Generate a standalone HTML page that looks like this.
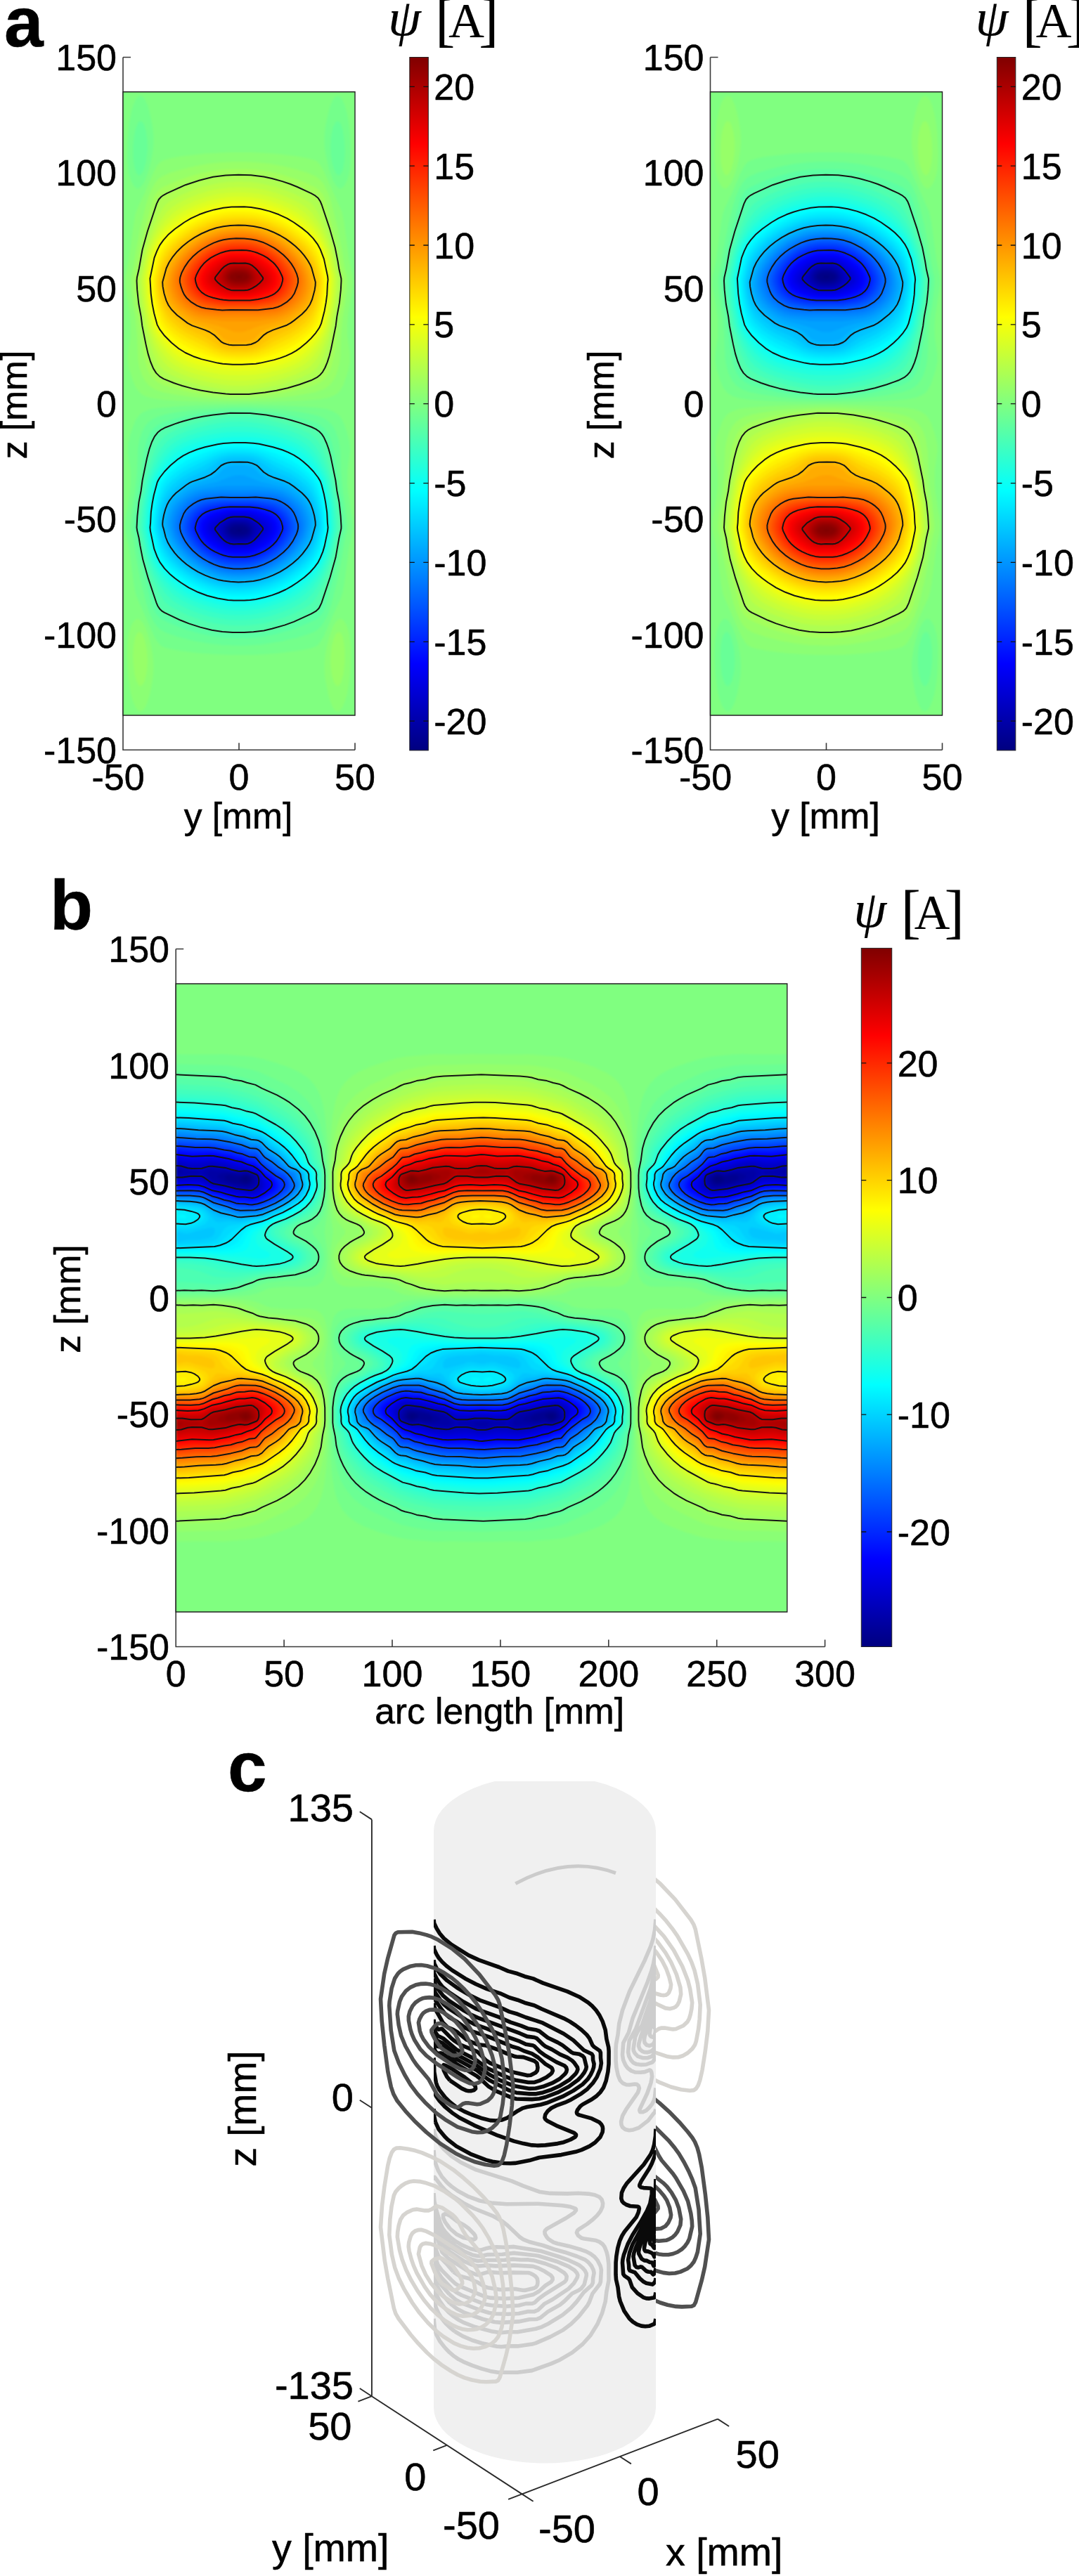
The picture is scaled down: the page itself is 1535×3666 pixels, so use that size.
<!DOCTYPE html><html><head><meta charset="utf-8"><title>figure</title><style>html,body{margin:0;padding:0;background:#fff}svg{display:block}text{stroke:#000;stroke-width:.55px}text.t{stroke-width:.2px}</style></head><body><svg width="1535" height="3666" viewBox="0 0 1535 3666" font-family="Liberation Sans, sans-serif" fill="#000"><rect width="1535" height="3666" fill="#fff" stroke="none"/><defs><clipPath id="clipa1"><rect x="175" y="130.8" width="330" height="887.2"/></clipPath><clipPath id="clipa2"><rect x="1010.5" y="130.8" width="330" height="887.2"/></clipPath><clipPath id="clipb"><rect x="250.2" y="1400" width="869.6" height="894"/></clipPath><filter id="blur" x="-5%" y="-5%" width="110%" height="110%" color-interpolation-filters="sRGB"><feGaussianBlur stdDeviation="1.6"/></filter></defs><path d="M175 81.5V1067.3H505M175 1067.3h11M175 903.0h11M175 738.7h11M175 574.4h11M175 410.1h11M175 245.8h11M175 81.5h11M175.0 1067.3v-10M340.0 1067.3v-10M505.0 1067.3v-10" fill="none" stroke="#3a3a3a" stroke-width="1.6"/><g clip-path="url(#clipa1)"><g filter="url(#blur)"><rect x="155" y="110" width="370" height="930" fill="#80ff80"/><path fill="#8bff74" d="M196.8 1011.5l2.8 1.1 3.3-1.3 3.3-4 3.3-7.3 3.8-13.1 3-14.8 1.8-13.1 0.4-9.9-0.4-9.8-1.6-11.5-2.7-13.1-3.2-11.5-3.7-9.8-4-7.7-3.3-3.8-3.3-1.5-3.2 1-3.3 3.6-2.7 5.1-3 8.2-2.4 13.1-0.9 19.7 1.4 29.5 3.2 23 2.4 9.8 2.7 8.2 2.6 5.4zM477.3 1011.5l3.1 1.1 3.3-1.5 3.2-4.1 3.8-8.7 3.2-11.4 2.1-11.5 1.7-13.1 1.1-16.4 0.3-24.6-2-18.1-2.8-9.8-3-6.6-2.2-3.3-2.2-2.1-3.2-1-3.3 1.5-3.3 3.8-3.3 6-3.3 8.2-3 9.9-2.8 11.5-2 11.4-1.1 11.5 0 9.9 0.8 9.8 4.3 23 2.7 9.8 2.8 7.5 2.2 4zM293.4 571.9l37.6 0.6 50.9-0.4 42.7-1.6 29.5-2.1 13.1-2.5 9.4-3.8 3.8-2.7 3.3-3.4 4.9-8.4 6.8-19.9 2.5-13.2-0.1-11.4-3.5-24.6-0.2-16.4 1-13.3 3.4-22.8 3.3-18.1 0.3-8.2-0.5-6.5-4.8-22.6-7.3-54.5-3.2-14.8-27.3-61.3-4.9-7.3-3.3-2.9-3.3-1.8-8.2-2.5-14.7-2.7-24.7-3.2-18-1.6-24.7-1.2-29.5-0.1-36.1 1.8-36.2 4.3-13.1 2.4-8.2 2.2-4.9 2.4-3.3 2.9-3.3 4.5-4.9 9.7-11.5 27-10.7 22.5-2.7 8.2-2.5 13.1-7 52.5-5 24-0.4 7.2 0.4 6.9 3.3 17.9 3.3 22.7 0.8 9.9-0.1 21.3-3 19.7-0.7 8.2 0.4 8.2 1.4 8.2 5.7 18 4.4 9.9 5.2 6.5 3.9 3 3.7 1.9 9.4 3 14.8 2.2 27.9 1.8z"/><path fill="#97ff68" d="M197.5 975.4l2.1 1.1 1.7-0.5 3.1-3.9 1.8-4.4 2.7-12 1-14.8-0.8-14.7-2.9-14.8-3.3-8.1-1.6-2.3-1.7-1.3-1.6-0.4-1.7 0.6-1.6 1.7-1.6 3.1-1.6 5.1-1.6 9.8-0.7 13.1 0.6 13.6 1.6 12.9 3.1 11.3zM478 975.4l2.4 1.1 1.6-0.7 1.7-1.7 1.8-3.6 3.1-11.5 1.9-16.4 0.1-16.4-1.7-14.8-1.9-6.5-1.7-3.3-1.6-1.7-1.7-0.6-1.6 0.4-1.7 1.3-1.6 2.3-2.7 6.5-2.8 11.5-1.4 13.1 0.1 13.1 1.7 13.1 2.9 9.9zM324.7 568.7l30.9 0 36.1-2.2 29.6-3.4 26.2-4.8 11.5-3.9 5-2.7 3.6-2.7 3.3-3.3 3.6-4.9 2.7-4.9 2.6-6.6 2.6-9.8 1.5-9.9 1.4-34.4 2.2-23 3.1-18 2.7-21.3 0.9-11.5-0.4-6.6-3.6-15.7-4.1-25.3-6.6-32.8-7.7-31.1-4.2-13.2-5.3-11.2-3.3-5.3-3.3-4-6.5-5.2-11.5-5-16.4-5.1-18.1-4.3-18.1-3.4-16.4-2-18-1-21.4 0-18 1-16.4 2-18.1 3.4-19.7 4.8-16.4 5.2-9.9 4.4-4.9 3.6-4.9 5.6-5 8.4-4.8 11.4-3.8 13.1-7.3 29.6-6.2 31.1-4.1 25.3-3 12.4-1 6.6 1.1 16.4 2.5 19.7 3.1 18 2.2 23 1.6 36.1 2 11.4 3.1 9.9 4.8 9.3 6.2 7.1 7.5 4.9 9.3 3.6 18 3.8 26.3 3.8 23 2.1z"/><path fill="#a3ff5c" d="M313.7 563.7l14 1 23 0.1 24.6-1.8 26.3-3.4 27.9-6.2 18-5.5 5-2.2 5.4-3.3 4.4-4 3.3-4.2 3.3-6 2.6-7.1 3-11.5 2-11.5 6.2-47.5 3.3-18.1 3-31.1-0.3-6.6-2.9-11.5-5-29.5-16.9-65.6-2.2-6.5-2.7-5.2-4.9-5.8-6.6-4.6-18-8-14.8-5.4-14.8-4.4-14.8-3.5-11.4-2.1-11.5-1.3-14.8-0.7-18.1 0.1-13.1 0.8-13.1 1.6-16.5 3.4-19.7 5.5-13.1 4.7-18.1 7.7-6.5 3.6-4.9 4.2-4.4 6.1-2.8 6.5-11.5 42.7-6.4 26.2-4.7 27.9-2.9 11.5-0.7 4.9 1 16.4 2.3 19.7 3.1 16.4 7 52.5 2.3 11.4 2.4 8.2 3.8 8.8 4.9 6.9 6.6 5.5 8.2 4 19.7 6 21.3 4.8 21.4 3.2z"/><path fill="#aeff51" d="M313 558.8l14.7 1.5 24.6 0 26.3-2.9 18-3.1 14.8-3.7 14.8-4.4 16.4-6.2 5.1-2.5 5-3.3 3.4-3.3 3.5-4.9 3.3-6.5 3.1-8.2 5.4-19.7 5.4-26.3 2-14.7 3.1-16.4 2.2-19.7 0.9-16.4-8.8-45.9-7.3-25-12.6-35.7-2.2-5-2.3-3.2-3.8-3.3-5.4-3.1-19.7-9.4-9.8-4-16.5-5.5-16.4-4.3-18-2.8-18.1-0.9-19.7 0.4-18.1 2.1-18 4.1-19.7 6.2-13.2 5.5-21.3 10.4-5.9 4.6-3.9 6.7-13.3 37.6-8.3 29.5-4.7 27-2.9 12.4 1.1 21.3 1.9 16.4 3.1 16.4 1.7 13.1 5.4 26.2 5.2 19.7 6 14.8 4.4 6.5 5.3 4.7 6.5 3.6 13.2 5.2 14.8 4.8 17.8 4.7 18.3 3.3z"/><path fill="#baff45" d="M317.7 553.9l11.6 1.2 21.4 0 11.5-1.2 18-2.7 16.4-3.5 16.5-4.8 14.7-5.4 13.2-6.3 5.2-3.5 4.6-4.5 3.9-5.4 4.3-8.2 7.5-19.7 7.4-27.8 5.4-32.8 1.6-16.4 0.5-16.4-6.5-34.5-2.4-9.8-7.7-23-9.1-20-4.9-9.3-4.9-7.1-4.9-4.6-6.6-4.2-14.8-7.6-13.1-5.5-16.4-5.4-16.4-4.1-16.5-2.2-18-0.7-16.4 0.7-16.5 2.2-16.4 4.1-18 6-14.8 6.5-14.8 7.9-6.6 5.2-4.3 5.3-5.5 9.6-5.8 11.7-5.7 13.6-5.9 17.6-2.7 9.8-2.3 11.5-5 27.9 0.8 16.4 2.1 19.7 5 29.5 5.6 21.3 6.1 18.1 7.2 14.7 5 6.6 5.7 4.9 8 4.5 11.4 5 14.8 5.2 14.8 4.1 16.4 3.4z"/><path fill="#c6ff39" d="M316.5 547.3l14.5 1.5 16.4 0 11.5-0.9 14.8-2.2 18-3.8 14.8-4.1 14.8-5.4 11.5-5.4 6.5-4.2 5-4.3 4.9-5.7 4.9-7.6 4.9-9.6 4.5-10.6 4.5-13.1 2.7-9.8 5.8-34.5 1.5-18 0.3-13.1-5-27.9-2.6-11.5-5.6-16.4-6.1-13.7-6.5-11.6-7.6-10.8-6-6.5-7.8-6-11.5-6.6-14.7-6.6-14.8-5.1-16.4-4.2-14.8-2.3-14.8-0.9-16.4 0.3-14.8 1.7-14.8 3.1-16.4 5-14.8 5.9-13.1 6.6-8.2 5.4-6.6 5.7-6.5 7.9-6.6 10.1-6 11.1-5 11.5-4.6 13.1-3.3 13.1-5.4 31.2 0.8 18 2 18.1 4.6 26.2 3 11.5 7.3 20 8.2 16 5 7 6.5 6.6 6.6 4.5 9.8 5 13.2 5.2 14.8 4.5 16.4 3.8z"/><path fill="#d1ff2e" d="M321.5 540.8l14.4 0.8 14.8-0.2 14.7-1.5 14.8-2.5 16.4-3.8 14.8-4.7 11.5-4.8 9.9-5.6 6.5-5.1 6.6-7.1 6.6-9.4 6.5-12 5-11.3 2.8-8.3 5.2-26.2 2.8-23 0.9-16.4-0.5-6.5-5-26.3-3.1-11.4-5.6-14.8-7.4-13.6-6.6-9.4-8.2-9.4-7.9-7-8.5-5.7-13.1-6.8-13.2-5.3-14.7-4.6-14.8-3.3-14.8-1.7-14.8-0.4-14.7 0.8-14.8 2.3-16.4 4.2-14.8 5.2-14.8 6.9-11.5 7-8.2 6.8-8.2 8.9-8.2 11.5-5.8 10.3-5 11.5-3.7 11.5-6.6 32.8-0.5 8.2 1.8 24.6 1.9 13.1 4.8 24.6 3.2 9.9 5.9 13.1 5.6 10.2 6.6 9.4 6.6 7.1 6.5 5.1 8.2 4.8 9.9 4.4 13.1 4.5 13.2 3.4 16.4 3.3z"/><path fill="#ddff22" d="M313.3 532.6l12.7 1.2 13.2 0.3 14.8-0.3 11.4-1.1 14.8-2.4 14.8-3.2 11.5-3.4 11.5-4.6 8.2-4.3 6.6-4.5 6.3-5.6 5.2-5.7 6.5-8.7 4.9-7.9 5-9.4 3.5-9.3 4.2-19.7 2.1-13.1 1.3-11.5 1.3-21.3-0.8-6.6-5.1-25.7-3.1-10.3-3.4-8.8-5.8-10.9-7.4-10.4-8.2-9-8.2-7.2-9.8-7-11.5-6.3-13.2-5.6-13.1-4.3-13.1-3.2-13.2-2-14.7-0.8-14.8 0.3-13.1 1.6-14.8 3.2-13.2 4-13.1 5.3-11.5 5.8-9.8 6.4-8.2 6.7-8.3 8.2-6.5 8.2-6.6 10.4-4.9 10.4-3.9 11.5-2 8.2-4.8 26.3 1.3 24.6 2.4 18 4.7 23 3.5 9.8 5.4 10.5 6.5 10.2 8.2 10.2 8.2 7.5 8.2 5.4 11.5 5.5 13.2 4.5 16.4 3.9z"/><path fill="#e9ff16" d="M313.4 526l24.1 1.3 26.3-0.9 27.9-5.2 9.9-2.6 9.8-3.6 8.2-3.8 6.6-3.9 6.6-4.9 6.5-6.1 6.6-7.4 6.6-8.8 5-8.2 3.6-8.2 4.5-19.3 2.1-11.9 1.5-13.1 1.5-21.3-0.6-4.9-5.2-26.3-5.8-16.4-5-9.3-6.6-9.1-6.5-7.2-8.2-7.4-9.9-7.4-9.8-6-11.5-5.6-13.2-4.9-14.7-4.1-13.2-2.4-11.5-1.1-16.4 0-11.5 0.8-13.1 2.4-13.1 3.4-13.2 4.6-11.5 5.2-11.5 6.7-9.8 7.1-9.9 8.7-6.9 7.6-6.9 9.8-4.3 8.2-4.3 11.5-2.2 8.2-4.2 21.3-0.8 8.2 1.7 23 2.9 19.7 4.9 21.3 2.1 5.1 3.3 6.1 8.2 12 8.2 9.4 8.2 7.4 9.8 6.6 9.9 4.7 13.1 4.5 11.5 2.8z"/><path fill="#f4ff0b" d="M321 521.1l24.7 0.5 21.4-1.3 29.5-6.6 11.5-4 9.9-4.6 8.2-5.1 8.2-6.6 8.2-8 8.2-9.9 4.6-6.9 2.4-4.9 5.1-19.7 3.6-22.9 1.6-24.6-6-29.6-4.2-11.4-4-8.2-6.4-9.1-8.2-8.8-9.8-8.2-11.5-8.1-9.9-5.6-11.5-5.3-13.1-4.6-13.1-3.3-11.5-2.1-9.9-0.8-16.4-0.1-11.5 0.9-11.5 2.1-13.1 3.3-11.5 4-11.5 5-9.8 5.5-9.9 6.7-9.8 7.6-8.3 7.9-6.5 8.2-4.9 8-4.8 11.5-2.5 8.2-5.1 26.3 1.6 24.6 2.9 19.6 4.2 18.1 2.3 6.5 4.6 7.9 8.2 10.4 8.3 8.4 9.8 8 9.9 6 11.4 5 13.2 4.1 23 4.9z"/><path fill="#fffe00" d="M319.4 516.2l24.7 0.8 19.7-1.2 24.6-5.6 18.1-6.3 8.2-3.8 8.2-4.9 6.6-4.8 8.2-6.9 6.6-6.6 6.5-8 3.3-5.2 2.4-6.6 4.2-15.9 2.1-11.9 1.3-9.9 1.4-21.3-0.5-4.9-4.8-23-2.2-6.5-3.9-9.3-4.2-7.1-7.3-8.9-6.6-6.3-9.8-7.7-11.5-7.7-9.8-5.5-11.5-5.1-11.5-3.9-13.2-3.3-13.1-2.1-9.9-0.6-16.4 0.2-11.5 1.3-13.1 2.7-11.5 3.3-9.8 3.7-9.9 4.6-11.5 6.7-13.1 9.4-8.2 6.9-6.6 7.1-6.2 8.4-3.9 8.2-3.7 9.9-5.8 27.9 1.2 21.3 1.7 13.1 2.6 13.1 4.5 16.4 3.4 6.6 6.2 8 9.9 9.9 9.8 8 11 6.9 10.6 4.9 12.9 4.5 21.3 5.4z"/><path fill="#fff200" d="M334.2 512.9l13.2 0 13.1-1 8.2-1.5 11.5-3.1 14.8-5 13.1-5.6 9.9-5.2 9.8-6.6 8.2-6.7 6.6-6.2 4.9-5.6 3.8-6 2.8-7.2 3.7-12.5 2.3-11.4 1.6-11.5 1.1-21.3-5.2-24.6-2.8-8.2-4-8.3-3.3-5.3-5-6.1-8.1-7.9-9.8-7.6-11.5-7.7-11.5-6.2-11.5-5-11.5-3.7-13.2-3-11.4-1.7-13.2-0.5-13.1 0.4-11.5 1.5-13.1 2.9-11.5 3.5-11.5 4.8-11.5 6-11.5 7.5-9.9 7.4-6.5 5.9-6 6.7-4.6 6.5-4.2 8.3-3.1 8.1-5.6 26.3 1.5 24.6 2.1 13.1 2.3 9.8 3.6 11.5 2.5 5.9 3.7 5.6 6.1 6.7 9.9 8.7 9.8 7 9.9 5.7 11.5 5.2 14.8 5.5 16.4 4.6 9.8 1.7z"/><path fill="#ffe700" d="M320 508l9.3 0.9 13.2 0.3 11.5-0.5 9.8-1.4 8.2-2.1 9.9-3.5 24.6-10.8 9.8-5.2 8.3-5.2 8.2-6.1 8.2-7.5 4.1-4.8 3.1-5 5.9-15 2.8-11.2 2-11.5 1-11.5 0.2-11.4-5.6-24.6-2.5-6.6-3.3-6.6-4.4-6.8-6.6-7.4-6.6-5.9-9.8-7.5-9.9-6.5-9.8-5.4-9.9-4.5-11.5-4-11.5-2.9-11.5-1.9-11.5-0.9-13.1 0.1-9.8 0.8-11.5 1.9-11.5 2.9-9.9 3.4-11.5 5.1-11.5 6.4-11.5 7.8-9.8 8-6.6 6.6-5.7 7.5-4.5 8.2-3.3 8.2-5.6 24.6 0.7 18 1.8 13.1 3.1 13.1 4.7 13.2 3.9 7.1 5 6 8.1 7.4 9.9 7.3 9.8 5.9 15 7.3 16.2 6.8 11.5 4z"/><path fill="#ffdb00" d="M324.1 504.7l10.2 0.7 13.1 0 9.8-0.9 8.2-1.6 12.8-4.8 34.9-17.1 14.7-9.5 7.5-6.2 5.7-5.8 3.3-4.5 3.2-5.9 3.3-7.9 2.2-7 2.3-9.9 1.5-9.8 0.9-11.5-0.3-6.5-2.9-13.2-2.8-9.8-2.6-6.6-4.6-8.2-5.2-6.8-6.5-6.7-8.2-6.9-9.9-7-9.8-6-9.9-4.9-9.9-4-9.8-3-11.5-2.6-11.5-1.4-11.5-0.5-13.1 0.5-9.9 1.1-11.5 2.4-11.4 3.5-9.9 4-11.5 5.9-10 6.2-11.1 8.2-8.4 7.7-6.2 7.1-5.2 8.2-3.4 7.3-2.9 9.1-3.9 18 0.1 9.8 1.3 11.5 2.3 11.5 3.1 10.3 4.9 11 4.3 6.6 5.6 5.8 6.5 5.6 8.2 5.9 8.2 4.9 38.6 18.8 9.1 3.1z"/><path fill="#ffcf00" d="M329.3 501.4l21.4 0 8.2-1.1 6.5-1.7 8.9-3.7 17.4-10.1 18.1-8.6 8.2-4.6 6.7-4.6 8.1-6.6 8.2-8.9 3.3-5.2 3.5-7.2 2.9-8.2 2-8.2 2.5-18-0.1-5-0.8-4.9-3.2-13.1-2.8-8.2-4-8.1-5.7-8.3-5.8-6.6-7.2-6.5-9.3-7.1-9.8-6.4-9.9-5.2-9.8-4.3-9.9-3.4-9.8-2.4-11.5-1.8-13.1-0.8-13.2 0.4-11.5 1.3-11.5 2.4-9.8 3.1-11.5 4.7-9.9 5.1-9.8 6.2-9.9 7.3-8.2 7.4-6.5 7.5-5 7.4-4 8.1-2.8 8.2-3.2 13.1-0.9 6.6 0.4 8.2 1.8 11.5 2.3 9.8 2.9 8.2 3.5 7.2 3.3 5.2 5 5.8 9.8 8.6 9.9 6.8 24.6 12.1 17.4 10.1 10.5 4.2 6.6 1.5z"/><path fill="#ffc400" d="M322.6 496.5l11.7 1.2 16.4-0.3 9.8-1.7 8.2-3.2 18.1-12.3 24.6-11.2 6.2-3.7 7-5.2 8.2-6.9 6.5-7.4 5-7.9 3.4-8.6 3.9-16.4 1-8.2-0.2-5-5.1-19.6-2.7-6.6-3.6-6.6-5-6.9-5.3-6.2-7-6.5-9-7.1-8.2-5.5-8.2-4.6-9.9-4.7-9.8-3.6-11.5-3.1-9.9-1.6-11.5-0.9-11.4 0-11.5 0.9-9.9 1.6-9.8 2.6-9.9 3.5-11.5 5.3-9.8 5.6-9.9 6.9-9.4 7.9-6.3 6.6-6.2 8.2-4.7 8.2-3.3 8.2-4.5 18-0.2 5 0.7 6.5 2.3 11.5 3 9.8 3.9 8.2 4.6 6.6 8.6 8.8 14.8 11.1 6.6 3.4 19.7 8.7 21 13.9z"/><path fill="#ffb800" d="M322.2 491.6l8.8 1.3 19.7-0.1 7.1-1.2 7.6-3 3.3-2.4 8.2-7.7 5-3.4 8.2-3.9 18-6.7 5-2.6 4.9-3.5 11.5-9.1 6.5-6.7 5-6.9 3.7-8.1 3.9-14.7 1.2-11.5-5.3-19.7-2.1-4.9-3.6-6.6-4.6-6.5-5.4-6.6-6.8-6.6-8-6.5-7.5-5.3-8.2-4.8-9.9-4.8-8.2-3.3-9.8-2.9-9.9-2-11.5-1.2-11.5-0.2-11.5 0.6-9.8 1.4-9.9 2.3-9.8 3.3-11.5 5.1-9.4 5.2-8.7 5.9-8.9 7.2-7.5 7.4-5.9 7.4-5.3 8.2-3.8 8.2-5 18 0.1 8.2 1.9 9.9 3.2 11 3.3 6.9 3.5 5 8 8.6 16.4 12.6 6.6 3.3 14.8 5.3 8.2 3.7 6.6 4.3 11 9.8z"/><path fill="#ffac00" d="M335.1 486.7l13.9-0.2 8.2-1.9 4.9-2.9 8.2-8.2 6.6-4.3 6.6-2.7 21.4-6.6 4.9-2.3 4.9-3.1 13.6-10.5 4.9-4.9 3.9-4.9 2.8-4.9 2.7-6.6 3.3-13.1 0.3-8.2-3.2-13.1-2.1-6.6-6.4-11.5-5-6.8-5.6-6.3-7.1-6.6-7-5.5-14.8-9.2-16.4-7.2-8.2-2.5-9.9-2-11.5-1.2-11.5-0.3-11.5 0.7-9.8 1.4-9.9 2.3-8.2 2.8-9.8 4.4-9.9 5.3-9 6.1-9 7.4-7.4 7.4-5.8 7.3-4.9 7.4-3.2 6.6-2.1 6.6-3.2 13.1-0.1 4.9 1 6.6 2.2 8.2 2.4 6.5 2.6 4.9 3.5 5 8.4 8.3 11.5 8.7 6.6 4 6.5 2.6 19.4 5.9 7.2 3.3 4.7 3.2 8.1 8.2 3.3 2.1 6.6 2.2z"/><path fill="#ffa100" d="M332.5 471.9l8.3 0.8 8.2-1.2 20.3-7.8 29-7.1 9.8-3.9 13.2-8.7 9.8-9 3.3-4.4 2.7-4.6 4.1-11.5 1.3-6.6 0.1-4.9-3.6-16.4-1.9-4.9-3.5-6.6-8.3-11.4-11.6-11.5-13.8-10-16.4-8.4-14.8-5-9.8-1.9-9.9-1-9.8-0.3-11.5 0.6-9.9 1.2-8.2 1.9-8.2 2.6-9.8 4.1-9.9 5.2-8.2 5.4-8.2 6.5-7.7 7.3-5.5 6.5-5.7 8.2-3.5 6.6-2.9 8.2-2.7 14.8 0.4 4.9 1.3 5.9 2.5 7.2 3.2 6.6 4.2 5.7 4.9 5 13.1 9.8 9.9 5.2 8.2 2.5 25.7 6.2z"/><path fill="#ff9500" d="M317.5 457.1l43 0.2 11.5-1.1 19.7-2.9 8.2-2.2 8.2-3.6 8.2-5.1 8.2-6.6 6.6-7.8 4.5-8.6 2.8-9.8 0.3-8.2-1.7-9.9-3.7-9.8-5.9-9.8-8-9.9-8-7.6-8.2-6.4-9.8-6.1-9.9-4.9-9.8-3.8-8.3-2.2-9.8-1.6-11.5-0.8-11.5 0.1-11.5 1.1-9.8 2-8.2 2.6-9.9 4.1-11.5 6.3-8.3 5.7-8.1 6.8-7.7 8-6.1 8.2-4.8 8.2-3.2 8.2-2.1 9.8-0.2 6.6 1.6 8.2 3.9 9.8 4.3 6.6 6.4 6.6 9.5 7.1 8.2 4.6 6.6 2.5 8.2 1.9z"/><path fill="#ff8900" d="M302.3 450.6l13.9 1 54.2-0.3 14.7-1.4 8.3-1.4 8.2-2.5 6.5-3.3 9.9-6.6 6.6-6.3 4.9-7.1 3.5-8.2 1.9-8.2-0.1-8.2-2.4-9.8-3.8-8.2-5.2-8.2-5.4-6.8-6.6-6.6-8.2-6.8-8.2-5.5-9.9-5.3-9.8-4.1-8.2-2.5-9.9-1.9-9.8-0.9-11.5-0.1-11.5 0.8-9.8 1.7-8.3 2.3-8.2 3.2-9.8 4.9-9.9 6.2-8.3 6.6-8.2 8.2-6.4 8.2-5 8.2-3.5 8.2-1.8 8.2-0.1 8.2 2.1 8.9 4.3 9.1 4.9 6.6 7.3 6.5 9.8 6.2 8.2 3.6 8.2 2z"/><path fill="#ff7e00" d="M310.7 447.3l30.1-0.4 24.6 0.6 19.7-1.6 6.6-1 6.6-1.8 11.1-5.6 8.6-6.5 4.9-5.5 4.4-7.7 3.3-9.9 0.8-6.5-1-8.2-3-8.2-4.6-8.2-4.8-6.9-6.6-7.3-6.5-5.9-8.3-6.1-8.2-4.8-9.8-4.8-8.2-3-8.2-2.1-9.9-1.3-11.5-0.6-11.5 0.4-9.8 1.2-8.2 1.9-8.2 2.8-8.2 3.7-9.9 5.6-8.3 5.9-8.1 7.1-6.8 7.6-5.6 8.2-4.3 8.2-2.7 8.2-0.6 6.6 1.2 8.2 3.7 9.8 4 6.6 6.2 6.4 8.2 5.8 6.5 3.5 8.2 2.9 8.3 1.3z"/><path fill="#ff7200" d="M311.4 444l59-0.1 21.3-2.5 6.6-2.1 6.8-3.5 8-5.4 5.9-6.1 4.7-8.2 3.3-9.8 0.8-6.6-0.9-6.5-2.4-6.6-4.4-8.2-4.5-6.5-5.6-6.6-6.8-6.3-6.8-5.2-8-4.9-9.8-5-8.2-3.1-8.2-2.2-9.9-1.4-9.8-0.5-11.5 0.2-9.9 1.1-8.2 1.8-8.2 2.7-8.2 3.7-8.2 4.6-8.2 5.6-8.2 7-6.2 6.8-4.8 6.6-4.6 8.2-3.2 8.2-0.9 6.5 0.8 6.6 3.3 9.8 3.5 6.6 5.5 6.3 6.6 4.9 8.2 4.7 6.5 2.4 6.6 1.3z"/><path fill="#ff6600" d="M307.6 440.7l8.6 0.7 11.5-0.4 39.4 0.3 21.3-2.4 6.6-1.8 4.9-2.2 8.9-5.6 5.6-5 3.5-4.9 3-6.5 2.8-8.2 0.6-6.6-1.4-6.6-4.4-9.8-4.1-6.6-5.3-6.5-5.9-5.9-6.6-5.4-6.5-4.4-9.9-5.4-6.5-2.9-8.3-2.6-8.2-1.7-9.8-0.9-11.5-0.2-9.9 0.7-8.2 1.3-6.5 1.7-7.4 2.7-7.4 3.6-8.2 4.7-6.8 4.8-7.5 6.6-5.9 6.6-5.7 8.2-4.1 8.2-2.2 6.5-0.3 6.6 3.3 11.5 2.9 6.4 3.6 5 5.6 5 8.9 5.6 6.5 2.7 6.6 1.5z"/><path fill="#ff5b00" d="M302.5 437.5l13.7 1.4 47.6 0 21.3-2.4 9.9-2.7 6.6-3.4 6.5-4.7 4.6-4.6 3.1-5 3.3-8.2 1.6-6.5-0.2-6.6-2.2-6.5-3.2-6.6-4.3-6.6-5.4-6.5-5.1-4.9-6.9-5.6-6.6-4.2-8.2-4.4-8.2-3.4-6.6-1.9-8.2-1.6-9.9-0.8-9.8-0.1-16.4 1.7-6.6 1.7-8.2 2.9-8.2 4-8.4 5.1-8.4 6.6-6.2 6.1-5.5 7-4 6.5-3.6 8.2-1.3 6.6 0.8 6.6 2.8 8.2 3.4 6.5 4.3 4.9 6.4 5 8.2 4.5 8.2 2.4z"/><path fill="#ff4f00" d="M308 435.8l11.5 1 44.3-0.1 21.3-2.9 9.9-3.1 6.6-3.8 5.2-4.2 4.2-4.9 3.5-6.6 2.2-6.5 0.8-6.6-0.7-4.9-2.5-6.6-3.6-6.5-4.7-6.6-4.4-5-6.6-5.9-6.6-4.8-6.5-3.8-8.2-4-6.6-2.3-6.6-1.8-8.2-1.2-9.8-0.6-9.9 0.2-14.8 2-8.2 2.5-6.5 2.7-8.2 4.3-7 4.6-6.2 5-6.6 6.7-4.9 6.5-4.5 8-2.5 6.6-0.7 6.5 1.2 6.6 3.3 8.2 3.2 4.9 4.9 5 6.6 4.5 6.6 3.1 6.6 1.8z"/><path fill="#ff4300" d="M312.8 434.2l10 0.5 41-0.2 19.7-2.9 9.9-3.3 6.5-3.8 5-4.2 3.4-4.2 3.5-6.5 2.1-6.6 0.4-4.9-0.7-4.9-2.5-6.6-3.7-6.5-4.9-6.6-4.6-4.9-5.6-4.9-5.5-4-7.4-4.2-7.4-3.5-6.6-2.3-6.5-1.6-8.2-1.2-19.7-0.1-8.2 1-6.6 1.5-13.1 4.9-8.2 4.5-6.6 4.5-6.2 5.4-5.9 6.5-5.6 8.2-3.2 6.6-1.6 6.6 0.1 4.9 1.6 6.5 3.1 6.6 3.7 4.9 5.8 5.1 6.5 3.8 6.6 2.4z"/><path fill="#ff3800" d="M318.1 432.5l45.7-0.1 18.1-3 6.5-1.9 5-2.2 4.9-3.1 4.8-4.4 3.7-4.9 2.3-5 1.9-6.5 0.1-4.9-1.1-5-2.1-4.9-7.6-11.5-4.5-4.9-5.7-5-6.6-4.6-6.6-3.6-7.1-3.2-7.6-2.4-6.6-1.4-8.2-0.9-19.7 0.4-13.1 2.8-13.2 5.5-7.2 4.2-6.4 4.9-5.2 5-5.4 6.5-4.2 6.6-3 6.5-1.1 5 0.4 6.5 2.2 6.6 3.6 6.1 5 5.2 4.9 3.4 6.6 3.2 5.9 1.8 12.1 2.3z"/><path fill="#ff2c00" d="M309.2 429.3l15.2 1.5 34.5-0.1 14.8-2 13.1-3.4 5.6-2.6 4.8-3.3 3.4-3.3 3.5-4.9 2.4-5.2 1.5-6.3 0-3.2-1.2-5-6.3-11.4-3.9-5.1-4.9-5-10.6-8-7.4-3.8-6.6-2.7-13.1-3.3-16.5-0.7-13.1 0.9-13.1 3.7-8.2 3.7-6.6 3.8-6.6 4.9-5.2 5-5.2 6.6-4.4 7.2-2.5 5.9-0.7 4.9 0.7 4.9 2.4 6.6 3 4.9 4.8 4.9 4.8 3.3 5.6 2.6 6.6 2z"/><path fill="#ff2000" d="M312.5 427.6l13.5 1.4 31.2-0.2 13.2-1.7 14.7-4 5-2.3 4.5-3 3.7-3.6 3.1-4.6 2.1-4.9 1.4-5.8-0.3-4.1-1.2-3.3-6.4-11.4-7.2-8.2-6-5-5-3.2-13.4-6.1-13.1-3.1-18-0.5-11.5 1.3-11.4 3.4-13.3 6.9-6.1 4.6-5.1 4.9-5 6.6-3.8 6.6-2.2 4.9-0.8 4.9 1.4 6.6 2.1 4.9 3.1 4.6 3.7 3.6 4.9 3.3 6.2 2.6z"/><path fill="#ff1500" d="M315.8 426l11.9 1 29.5-0.2 11.5-1.7 14.3-4 5.4-2.6 3.3-2.3 3.6-3.3 2.4-3.3 2.1-4.9 1.3-5 0.3-3.2-0.9-3.3-6-11.5-7.1-8.2-8.8-6.8-13.1-6.3-11.5-3.1-13.2-0.7-13.1 0.4-6.6 1.3-6.6 2.1-13.4 6.5-6.2 4.6-5 4.6-3.3 4-4 6.5-3.1 6.6-0.9 4.9 1.6 6.6 1.5 3.8 3 4.4 3.6 3.3 4.9 3.2 6.6 2.7z"/><path fill="#ff0900" d="M320.1 424.3l9.2 0.7 27.9-0.3 14.8-3 11.3-3.9 5.1-3 3.3-3 2.9-3.9 1.5-3.2 1.2-5 0.1-3.2-0.6-3.3-2.1-4.9-5.2-8.2-8.7-8.2-10.9-6.6-11-4.2-9.9-1.6-19.7 0.1-9.8 2-9.4 3.7-10.3 6.1-4.9 4.1-4.4 4.6-3.5 4.9-3.2 6.5-1.2 5 0.1 3.2 1.2 5 2.5 4.9 2.9 3.3 3.9 3 9.9 4.4z"/><path fill="#fc0000" d="M325.3 422.7l23.7 0.3 8.2-0.6 14.8-3.5 10.8-4.4 4-2.7 3.3-3.5 2.1-3.6 1-3.3 0.2-6.6-0.9-3.3-2.3-4.9-3.4-4.8-3.2-3.4-8.3-6.5-9.9-5.5-9.8-3.3-9.9-1-18 0.5-8.2 1.9-9.9 4.4-6.5 4.1-4.9 3.8-3.4 3.3-3.9 4.9-2.7 4.9-1.6 4.9-0.2 3.3 0.8 4.9 1.5 3.3 2.3 3.3 3.6 3.3 3.5 2.1 6.5 2.8 6.7 2.1 6.5 1.7z"/><path fill="#f10000" d="M319.7 419.4l9.6 1.4 23-0.1 9.9-1.8 13.1-4.4 8.2-4.7 4.4-5.1 1.3-3.3 0.5-3.3-1.1-6.6-3.7-6.5-6.5-6.6-9.7-6.8-9.8-4.6-8.2-1.8-16.4-0.2-8.3 0.7-6.5 1.8-11.2 6-10.3 8.2-3.1 3.6-2.8 4.6-1.6 4.9-0.2 3.3 0.5 3.3 1.3 3.3 2.4 3.2 3.6 3.2 8.2 4.1z"/><path fill="#e50000" d="M323.5 417.8l7.5 0.9 21.3-0.3 8.2-1.7 10.1-3.8 8-4.1 4.9-4.7 1.5-2.7 0.7-3.3-0.1-3.3-1-3.3-3.1-4.9-7-6.5-9.1-6.7-8.2-4-8.2-1.5-16.4-0.1-6.6 0.7-5.4 1.7-8.7 4.9-12.1 10.1-4.4 6.3-1 3.3-0.1 3.3 0.7 3.3 1.5 2.7 4.9 4.7 8 4.1z"/><path fill="#d90000" d="M327.5 416.1l23.2 0.2 4.9-0.8 4.9-1.7 12.1-5.9 6-4.4 1.7-2.1 1.1-3.3-0.5-4.9-3.3-4.9-8.9-8.2-6.5-5.1-6.5-3.1-6.7-1.3-16.4 0-4.9 0.4-4.9 1.4-7.5 4.4-12.9 11.5-3.3 4.9-0.5 4.9 1.1 3.3 1.2 1.6 5.4 4.3 13.2 6.5z"/><path fill="#ce0000" d="M324 412.9l3.7 1 4.9 0.4 16.4-0.1 6.6-1.2 9.8-5.1 6.9-4.9 3-2.8 1.4-2.1 0.1-3.3-2.2-3.3-9.2-9.8-4.9-4.3-4.9-2.7-3.3-1-4.9-0.5-16.4 0-5 0.9-5.6 2.7-5.8 4.9-9.9 10.6-1.5 2.5-0.2 1.7 1.3 3.2 5.4 5 7.8 4.9z"/><path fill="#c20000" d="M326.8 411.2l5.8 0.9 14.8 0 4.9-0.6 3.3-1.1 6.7-4.1 5.5-4.9 2.6-4.9-0.8-3.3-3.9-6.6-2.8-3.3-4-3.7-4.9-2.7-6.6-1.2-13.1-0.1-5 0.4-3.3 0.9-4.9 2.7-5.5 5.4-5.2 8.2-0.8 3.3 2.6 4.9 3.3 3.3 7.3 4.9z"/><path fill="#b60000" d="M330.1 409.6l17.3 0.3 4.9-0.9 4.9-2.3 4.7-3.7 3.3-4.9 0.2-4.9-2.1-4.9-2.4-3.3-3.5-3.3-3.4-2-3.3-1.2-5-0.5-13.1 0-4.9 1-3.3 1.5-3.7 2.8-4 5-2.1 4.9-0.2 3.3 2.2 4.9 3.4 3.3 5 3.2z"/><path fill="#ab0000" d="M336.8 407.9l8.9-0.1 5-0.8 4.9-2.2 4-3.4 2.1-3.3 0.5-4.9-2-4.9-3-3.5-3.2-2.4-5-1.7-4.9-0.5-9.8 0-6.7 1.5-3.2 1.8-3.3 3-2.2 3.4-1.1 3.3 0 3.3 1.7 3.7 3.3 3.4 4.5 2.7 3.7 1.1z"/><path fill="#9f0000" d="M330 404.7l5.9 1 6.6 0.1 4.9-0.5 4.9-1.6 3.6-2.3 2.5-3.3 0.9-3.3-1.2-4.9-4.1-4.5-3.3-1.7-3.3-0.9-11.5-0.4-4.9 0.8-3.3 1.2-3.2 2.2-1.7 1.9-1.7 3-0.4 3.3 0.9 3.3 1.2 1.8 3.2 2.9z"/><path fill="#930000" d="M334 403l10.1 0.3 7-1.9 2.9-2.1 2-2.8 0.3-3.3-0.7-2.2-3.3-3.5-3.3-1.6-3.3-0.9-9.8-0.2-6.7 1.8-3.2 2.3-1.9 2.6-0.4 1.7 0.3 3.3 1 1.6 2.7 2.5z"/><path fill="#880000" d="M333.1 399.7l6.1 1 7.7-1 3.3-1.6 1.8-1.6 0.8-1.7 0.1-1.6-0.9-1.7-1.8-1.6-4.5-1.9-6.5-0.6-5.8 0.9-4.1 2-2.2 2.9 0.1 1.6 0.8 1.7 1.8 1.6z"/><path fill="#800000" d="M335.6 394.8l1.9 1.2 3.3 0.4 3.6-1.6 0-1.6-1.9-1.1-3.3-0.5-3.6 1.6z"/><path fill="#74ff8b" d="M303.7 931.1l22.3 1 36.2-0.2 31.2-2 34.4-4.5 14.8-3 6.6-2.4 3.3-2.3 3.2-3.6 5-8.6 13.1-30.6 10.7-22.5 2.7-8.2 2.5-13.1 7-52.5 4.4-19.7 0.9-8.2-0.4-11.5-3.1-16.4-3.4-22.8-0.9-11.6 0.2-19.7 3.6-26.2 0-6.6-0.7-6.6-3.3-13.1-4-11.5-2.8-6.5-3.2-4.9-3-3.3-7.2-4.8-9.8-3.1-11.5-1.8-21.4-1.6-32.8-1.5-41.1-0.9-31.2 0-39.4 0.7-31.2 1.3-29.5 2.1-9.9 1.7-6.5 1.8-6.1 2.8-4.4 3.3-4.2 4.9-2.8 4.9-7 19.7-2.7 13.1-0.1 13.1 3.5 24.6 0.1 18.1-0.9 11.5-3.4 22.9-2.8 14.8-0.8 9.8 0.8 9.9 3.3 14.7 2.3 13.1 6.2 47.6 3.2 14.8 25.6 58 5 8.6 4.9 4.9 3.3 1.8 4.9 1.6 16.4 3.3 31.2 4zM192.5 266.9l2.2 1.3 1.6 0.2 3.3-1.5 5-6.5 3.2-7.1 3.8-11 3.3-13.1 2.4-13.1 1.1-11.5 0-9.9-1-11.4-2.3-13.2-3-13.1-2.6-8.3-3.3-7.2-3.3-4-3.3-1.3-3.3 1.5-3.2 4.1-2.6 5.4-2.7 8.2-4.1 19.7-2.4 26.2-0.4 24.6 1.7 18 1.5 6.6 3 8.2 2.7 5.1zM480.5 266.9l3.2 1.5 3.2-1 3.4-3.8 4-8.2 2-6.5 1.7-8.2 1.2-21.4-1.4-31.1-1.8-14.8-2.1-11.5-3.2-11.4-3.5-8.2-3.5-4.6-3.3-1.5-3.3 1.3-3.3 4-2.7 5.7-2.2 6.5-3 11.5-2.8 14.8-1.3 11.5-0.3 8.2 0.3 8.2 1.4 11.4 4.7 21.4 5.9 16.4 3.3 6z"/><path fill="#68ff97" d="M316.6 918l29.1 0.7 26.3-1.4 24.6-3.7 26.3-6.2 19.7-6.5 4.9-2.2 5-3.1 3.2-3 3.3-4 6.6-11.8 5.7-16.2 8.6-34.5 6.2-31.1 4.1-25.3 3.4-14.1 0.6-8.2-3.4-31.1-3.5-21.4-2.2-24.6-0.9-27.8-2.5-16.4-3.8-11.5-2.5-5-3.2-4.9-6.6-6.5-8.2-4.6-11.5-3.5-17.9-3.4-23.1-3.2-23-2-27.9-1.4-24.7 0-41 2.2-18.1 1.8-21.3 3.1-14.8 2.9-9.8 2.9-7.4 3.5-5.8 4.5-4.9 5.9-4.1 7.7-3.4 9.8-2.4 13.1-1.6 36.1-2.2 23-3.1 18-2.5 19.7-1.1 16.4 1 6.6 3 12.4 4.1 25.3 6.2 31.1 8.1 32.8 4.2 13.2 5.3 11.2 4.9 7.4 4.9 4.9 8.2 4.6 16.5 5.8 22.9 5.9 21.4 3.9zM196.3 248.9l1.7 0.6 1.6-0.4 1.7-1.3 3.3-5.7 3.2-11.4 2-16.3-0.2-14.7-1.9-13.2-3.1-9.5-1.7-2.7-1.6-1.5-1.7-0.5-1.6 0.7-1.7 1.7-3.2 7.8-2.3 10.6-1.4 14.8 0 14.7 1.1 11.5 2.6 10 1.6 3.1zM480.1 248.9l1.9 0.6 1.7-0.6 1.6-1.7 2.3-4.9 2.3-11.5 0.9-14.7-0.8-16.4-2.4-14.8-2.1-6.6-1.7-3.2-1.8-2.1-1.6-0.7-1.7 0.5-1.6 1.5-3.4 7.3-2.8 13.1-0.8 13.2 0.6 13.1 2.2 13.1 3.4 9.8 2.4 3.9z"/><path fill="#5cffa3" d="M334.2 908.1l21.4-0.3 19.7-2 18.1-3.6 22.9-6.6 21.4-8.4 13.1-6.5 3.3-2.6 3.3-3.5 2.7-4.2 2.2-4.9 12.1-44.3 6.4-26.2 5-29.5 2.9-11.5 0.3-6.6-1.1-14.7-2.1-18.1-3.1-16.4-6.7-50.8-4-18.1-4.5-11.4-5.2-7.5-6.9-5.7-9.5-4.4-16.4-4.9-18.1-4.3-15.3-2.8-19.2-2.4-22.9-1.8-23-0.1-29.6 2.1-19.7 2.6-16.4 3.1-19 4.7-15.5 5.1-6.5 3.3-6.6 5.5-4.3 5.8-3.8 8.2-3.4 11.5-2.4 13.1-6.5 49.2-3.3 18.1-2.1 18-1 16.4 0.7 4.9 2.9 11.5 5.1 29.5 6.5 26.3 9.9 37.5 2.3 6.7 4.3 7.5 3.3 3.5 3.3 2.6 9.8 5.1 21.4 8.7 19.7 6 19.7 4.5 16.4 2.2z"/><path fill="#51ffae" d="M322.5 898.3l20 0.6 19.7-1 16.4-2.5 18-4.6 21.4-7.4 26.3-12.3 4.9-3.2 2.6-2.4 3.9-6.7 13.2-37.2 7.7-26.6 5.4-30.3 2.9-12.4-0.5-14.7-2.2-21.3-3.4-18.1-2-14.7-5.8-27.9-5-18.1-4.7-11.4-5.2-8.2-5.6-5-9.5-4.7-14.8-5.6-14.8-4.4-13.1-3.3-16.4-3-27.9-3.4-29.6 0.2-23 2.7-19.9 3.5-22.8 6.1-18 6.5-8.4 3.8-6.8 4.9-4.5 5.6-4.5 9.2-3.6 9.8-2.7 9.9-7 32.8-2 14.7-3.6 19.7-1.7 16.4-0.9 16.4 8.8 45.9 7.7 26.3 12.8 35.9 3.2 6 5 4.3 6.5 3.6 24.7 11.4 14.7 5.2 18.1 5 11.5 2.3z"/><path fill="#45ffba" d="M330 890.1l15.7 0.1 14.8-0.9 13.2-1.9 13.1-3.1 16.4-5.2 14.8-5.9 16.4-8.4 8.6-5.9 4.5-5 5-8 8.2-16.6 5.9-14.6 7.6-24.6 7.2-37.8-0.5-16.4-1.8-18-6.3-36.1-5.6-20.6-4.9-14.3-5.7-12.6-5.4-8.2-5.3-5.2-6.6-4.3-11.5-5.3-13.3-4.9-14.6-4.4-14.8-3.4-11.4-2.1-19.7-2.6-19.7-0.2-9.9 0.4-19.7 2.7-18.1 3.6-16.4 4.4-16.4 5.8-13.1 6-8.2 5.7-5 5.4-4.9 8.2-4.9 11-4.9 14.3-6.7 25.5-4.7 27.9-2 18.1-0.8 19.6 8.4 42.7 6.4 19.7 5.3 13.1 8.8 18.1 6.3 9.8 5.2 4.9 8.2 5.1 14.8 7.5 14.8 5.9 14.8 4.7 13.1 3.2 13.1 2.1z"/><path fill="#39ffc6" d="M325.2 881.9l15.6 0.6 14.8-0.7 14.8-2 13.1-2.9 14.8-4.6 14.8-5.9 14.5-7.5 9.4-6.5 7.3-7.4 6.5-9 6.6-11 5.7-12 5-13.1 3-9.8 7.1-36.1 0.1-9.9-1.8-22.9-6.6-37.7-4.3-13.9-5.5-14-6-12-6.3-9.3-5.2-5.6-6.6-4.9-8.2-4.5-11.5-4.9-13.1-4.4-13.1-3.5-16.2-3.4-15-2.2-13.2-1-18 0.3-14.8 1.8-16.4 3-16.4 4-16.4 5.4-13.2 5.7-9.8 6-6.6 5.9-5.5 7.2-6 10.6-5.4 12.3-4.4 12.3-3.1 10.7-6 34.4-1.6 18.1-0.4 14.7 6.8 36.1 4.6 14.8 6.2 15.3 6.6 12.2 8.2 12.3 6.6 7.3 6.6 5.4 9.8 5.9 13.1 6.3 13.2 5 14.7 4.4 13.2 2.8z"/><path fill="#2effd1" d="M337.9 875.3l14.4-0.4 13.1-1.5 13.2-2.7 13.1-3.7 14.8-5.5 11.5-5.6 9.8-5.9 8.2-6.4 8.3-8.4 6.5-8.5 6.6-10.5 5.5-11.4 3.7-9.8 2.9-9.9 5.4-27.8 0.8-6.6-1.1-19.7-1.3-13.1-6.5-34.4-4.5-12.4-5.9-12.2-7.2-12-6.1-7.7-7.1-6.5-7.4-5-10.6-5.3-11.5-4.2-14.8-4.2-16.4-3.5-14.8-2.3-13.1-1-16.4 0.1-14.8 1.3-16.4 2.8-18.1 4.3-14.8 4.8-11.5 5-9.2 5.5-7.2 6-6.5 7.6-7.1 11-6.7 13.1-5 13.1-2 8.2-4.7 26.3-1.5 13.1-1.2 18 0.5 8.2 5 26.3 2.5 9.8 3.7 10.5 5 10.9 6.5 11.2 6.6 8.9 8.2 8.9 8.2 6.8 9.9 6.2 11.5 5.6 13.1 5.2 13.1 4 13.2 3 13.1 1.8z"/><path fill="#22ffdd" d="M334 868.8l15-0.1 11.5-1.1 13.2-2.3 13.1-3.5 14.8-5.3 11.5-5.3 9.8-5.7 9.9-7.2 8.2-7.5 8.2-9.5 6.5-9.7 4.5-8.4 3.9-9.9 3-9.8 5.8-29.5 0.2-6.6-2.1-26.2-2-13.1-4.4-21.4-2.8-8.2-4.4-9.2-4.9-8.3-6.6-9.2-6.6-7.5-6.5-5.8-8.2-5.4-8.3-4.1-9.8-3.9-11.5-3.4-14.8-3.2-14.8-2.4-14.7-1.2-16.4-0.2-14.8 0.8-13.2 1.8-18 3.6-14.8 4.2-13.1 5.4-9.9 5.6-8.2 6.6-8.2 9.1-6.6 9.2-7.1 12.6-3.5 8.2-1.9 6.6-4 19.7-2 13.1-2 31.1 5.8 30.7 3.6 12 4.6 10.6 6.5 11.2 6.6 8.6 8.2 8.6 9.9 8.2 9.8 6.4 13.1 6.6 14.8 5.6 14.8 4.1 14.8 2.7z"/><path fill="#16ffe9" d="M323.4 862.2l10.9 0.7 13.1-0.1 18-1.9 11.5-2.4 11.5-3.3 11.5-4.3 9.9-4.5 9.8-5.6 8.2-5.7 9.9-8.1 6.6-6.5 6.5-8.1 4.9-7.5 3.3-6.5 3.3-8.3 3.3-11.5 4.5-23 0.5-6.5-1.5-21.4-1.7-13.1-3.8-19.7-2.9-11-3.3-7.2-6.6-10.4-6.5-8.4-6.6-7-6.6-5.8-8.2-5.6-8.2-4.3-8.2-3.3-14.8-4.3-19.7-4-11.5-1.5-13.1-0.6-16.4 0.1-14.8 0.8-16.4 2.8-16.4 3.6-11.5 3.7-9.9 4.3-8.2 4.7-8.2 6.3-8.2 8.2-8.2 10.3-6.6 10.4-3.3 7.2-3.3 12.8-3.7 19.6-1.5 13.1-1.5 21.3 0.9 6.6 5.4 26.2 3.9 11.5 4.8 9.9 8.2 11.8 8.2 8.8 11.5 9.6 11.5 7.7 13.1 6.7 14.8 5.7 16.4 4.4z"/><path fill="#0bfff4" d="M328.6 857.3l23.7-0.1 18.1-2.7 11.5-2.8 9.8-3.2 9.9-4 9.8-4.9 9.9-6.1 9.8-7.2 6.6-5.4 6.6-6.4 6.5-8.2 4.1-6.4 6.7-16.4 6-27.9 0.5-6.5-1.6-21.4-2-14.7-4.3-19.7-2.8-9.3-3.3-6-6.6-9-6.5-7.4-8.2-7.7-6.6-5.1-8.2-5.1-8.2-3.9-9.9-3.7-11.5-3.2-21.3-4.4-21.4-1.3-13.1 0-16.4 0.9-19.7 3.8-11.5 2.7-9.9 3.2-9.8 4.2-8.2 4.6-8.2 6-8.2 7.4-8.2 9-6.9 9.5-4 8.2-4.5 18.1-2.3 13.1-1.5 11.5-1.5 21.3 0.6 4.9 5.5 26.3 4.7 12.8 4.5 8.5 8.6 11.3 8.3 7.9 14.7 11.1 11.5 7 13.2 6.1 14.7 5.1 16.5 3.8z"/><path fill="#00feff" d="M328.9 852.4l16.8 0.2 9.9-0.6 13.1-2.1 13.2-3.3 11.5-3.9 11.5-5.1 9.8-5.5 11.5-7.7 8.2-6.3 6.6-6 6.5-7.4 5-7.2 4.2-9.1 3-8.2 5.6-26.2 0.2-3.3-1.4-21.3-3.4-21.8-5.8-20.9-2.8-4.9-4.6-6.1-8.2-8.8-8.2-7.2-8.2-6.1-8.2-4.9-9.8-4.5-11.5-4.1-28-6.9-8.2-0.8-14.7-0.6-13.2 0.2-14.7 1.2-18.1 4.1-11.5 3.3-11.5 4.3-9.8 4.7-9.9 6.3-9.8 8-8.3 8-6.7 8.3-3.1 4.9-1.6 4.1-4.7 17.2-1.9 10-2.1 16.3-1.1 18 0.5 4.9 4.4 21.3 1.9 6.6 6.2 14 6.4 9 6.8 7.3 9.8 8.2 13.2 9.1 13.1 7.3 11.5 4.9 13.1 4.2 14.8 3.3z"/><path fill="#00f2ff" d="M324.9 847.5l11 0.6 14.8-0.3 11.5-1.3 11.5-2.3 11.4-3.3 11.5-4.4 11.5-5.7 9.9-5.9 9.8-7 8.2-6.6 8-8.1 5.2-7 4.1-7.8 3.4-8.2 5.6-24.6 0.5-4.9-1-18-3.3-21.4-6-20.3-3-5.9-3.6-4.7-6.6-6.9-8.2-7.1-8.2-5.9-9.8-5.9-9.9-4.7-13.1-5.2-13.2-4.1-11.5-2.9-9.8-1.3-13.1-0.6-14.8 0.4-11.5 1.2-9.9 2.2-14.7 4.5-13.2 5.1-11.5 5.4-9.8 5.9-9.9 7.3-8.2 7.3-6.5 7.3-3 4.3-2.2 5-4.2 13.1-2.3 9.8-2.6 18.1-1 16.4 0.2 4.9 4.6 21.3 1.9 6.6 5.3 11.5 4.9 7.4 8.2 8.9 8.2 7 13.2 9.2 11.4 6.7 11.5 5.3 11.5 4 13.2 3.4z"/><path fill="#00e7ff" d="M319.7 842.5l11.3 1.2 13.1 0.1 11.5-0.7 11.5-1.7 11.5-2.8 11.5-3.9 11.5-5.1 9.8-5.4 9.9-6.5 9.8-7.5 7.7-7 5.6-6.6 4.8-7.4 4.1-9 2.4-7.7 3.3-13.6 1.1-6.6 0-6.5-1-14.8-1.9-11.5-2.7-11.4-3.7-10.8-3.3-6.9-3.2-4.8-5.1-5.4-8.1-7.1-8.2-6-8.2-5-11.5-5.8-16.4-7.3-11.5-4.3-9.9-2.9-9.8-1.5-13.1-0.7-13.2 0.3-11.5 1.3-8.2 1.9-11.5 4-27.9 12.4-9.8 5.5-9.9 6.8-8.2 6.9-6.1 6.4-3.7 5.3-3 6.2-3.5 9.8-2.2 8.2-3.2 19.7-0.8 13.1 0.3 6.6 6 24.6 4.3 9.8 5.2 8.2 6.7 7.7 8.2 7.3 11.5 8.4 11.5 7 11.5 5.7 11.5 4.4 11.5 3.2z"/><path fill="#00dbff" d="M325.6 839.3l11.9 0.6 11.5-0.2 11.5-1.2 11.5-2.2 9.9-2.8 11.5-4.4 9.8-4.8 9.9-5.7 9.8-6.9 8.5-6.9 6.7-6.5 6.2-7.9 3.9-6.9 3.5-8.2 5.5-21.3 0.5-6.6-0.5-9.8-1.5-10.8-2.2-10.5-2.7-8.7-3.3-7.9-3.2-5.9-4.1-5.4-5.8-5.7-6.6-5.4-14.7-9.5-37.8-18.4-8.2-3-8.2-1.9-11.5-1.1-13.1 0-10.2 0.7-9.5 1.8-6.6 2.2-8.2 3.5-29.6 14.5-9.8 5.5-7.7 5.3-7.1 5.8-5.8 5.7-4.1 5.4-3.2 5.9-3.5 8.4-2.9 9.8-2 9.8-1.4 11.5-0.4 9.9 0.8 6.5 2.8 11.5 2.9 9.8 3 6.6 4.9 8.2 5.2 6.6 8.6 8.2 9.9 7.6 9.8 6.5 11.5 6.3 11.5 4.9 9.9 3.2 11.5 2.7z"/><path fill="#00cfff" d="M331.7 836l10.8 0.2 11.5-0.6 11.4-1.7 9.9-2.3 9.8-3.2 9.9-4.1 9.9-5.1 9.8-6.2 8.9-6.5 7.5-6.6 6.2-6.6 5.3-7.2 4.2-7.5 2.7-6.6 5.4-21.3 0.3-6.6-0.8-8.2-1.9-10.9-2.3-8.7-2.7-7.2-3.2-6.6-3.3-5.2-5-5.8-11.4-9.8-11.5-7.4-21.4-10.3-20.7-11.7-8.8-3.1-8.2-1.5-9.9-0.6-13.1 0.2-8.2 0.9-8.2 2-8.9 3.7-15.8 9.2-21.3 10.3-9.9 5.9-8.2 6.3-6.5 5.9-5 5.8-3.3 5.2-3.5 7.2-2.9 8.2-2.3 9.8-1.6 9.9-0.6 8.2 0.3 4.9 2.9 13.1 3.1 9.9 3 6.8 4.9 8 5.1 6.5 6.4 6.4 8.2 6.9 9.9 6.9 9.8 5.8 11.5 5.5 9.9 3.7 9.8 2.7 11.5 2.1z"/><path fill="#00c4ff" d="M339 832.7l11.7-0.4 9.8-1.1 8.2-1.5 9.9-2.7 9.8-3.6 9.9-4.7 9.8-5.6 8.2-5.7 8.3-6.6 6.5-6.3 5.3-6.1 5.6-8.2 3.4-6.5 2.1-5.6 5.1-20.7-0.3-6.5-1.5-9.3-4.2-15.3-2.3-5.4-3.3-5.6-8.2-9.7-9.9-8.2-8.2-5.8-6.6-3.4-19.7-8.7-19.7-13.2-9.8-3.7-9.9-1.3-19.7 0.1-6.5 0.9-6.6 1.8-6.6 3.1-18 12.3-23 10.3-9.9 6.3-13.1 11.2-4.9 5.7-4.3 6.7-3 6.6-2.6 8.2-2.1 9.8-1.3 9.8 0.2 5 3.6 14.7 2.7 8.2 3.2 6.6 5.2 8.1 4.9 6.1 5.4 5.5 7.8 6.6 8.8 6.5 9.2 5.6 9.9 4.9 9.8 4 9.9 3 9.8 2.1 9.9 1.2z"/><path fill="#00b8ff" d="M318.9 827.8l10.4 1.2 11.5 0.4 11.5-0.6 11.5-1.5 9.9-2.3 9.8-3.3 9.9-4.3 9.8-5.3 8.6-5.6 8.3-6.6 7.7-7.2 6.6-7.8 5.4-8 3.4-6.5 2.3-6.6 4-14.7 0.2-5-0.8-6.5-1.8-8.2-2.8-9.4-5-9.5-7.7-9-13.6-11.1-6.6-4.5-27.9-11.3-6.6-4.3-11-9.8-3.7-1.8-6.6-2-8.2-0.9-14.8 0-6.6 0.6-6.5 1.7-6.6 3.2-9.8 9-6.6 4.3-8.2 3.7-14.8 5.3-6.6 3.3-16.4 12.6-8.2 8.7-3.3 4.9-2.4 4.8-4.5 14.8-1.5 8.2-0.4 6.5 4.8 18.1 2.4 6.1 3.3 6.1 9.8 13.2 6.6 6.5 8.2 6.9 8.2 5.8 8.2 4.8 9.9 4.8 8.2 3.3 9.8 2.9z"/><path fill="#00acff" d="M335.6 826.1l10.1 0 9.9-0.8 9.8-1.5 8.3-2 8.2-2.8 9.8-4.4 9.9-5.3 8.2-5.5 8.2-6.6 7.5-7.1 5.5-6.6 5-7.2 3.4-5.9 2.7-6.6 4.3-18-0.3-4.9-1.2-6.6-4.2-13.1-4.8-8.2-8.1-8.6-11.5-8.9-6.5-4.3-6.6-2.9-18.1-5.5-6.9-2.6-7.8-4.9-6.6-6.7-4.1-3.2-4.1-1.8-6.6-1.3-16.4-0.1-8.7 1.6-6 3.3-8.2 8.2-6.6 4.3-6.6 2.7-21.4 6.6-4.9 2.3-4.9 3.1-14.8 11.6-4.9 5.2-3.3 4.4-3 5.7-2.4 6.5-2.2 8.2-1 6.6 0.1 4.9 3.2 13.1 2 6.4 2.4 5.1 4.1 6.6 6.1 8.2 6.2 6.5 7.4 6.6 8.3 6.2 8.2 5.1 8.2 4.2 9.9 4.2 8.2 2.6 8.2 1.9 9.8 1.4z"/><path fill="#00a1ff" d="M330.5 822.9l13.6 0.2 14.8-1.2 13.1-2.8 11.5-4.1 13.1-6.5 11.5-7.5 11-9.3 8.8-9.8 6.7-9.9 3.9-8.2 3.3-13.1 0.9-8.2-2.4-11.5-4.3-10.2-5.6-7.8-9.1-8.2-11.5-7.8-8.2-3.8-31.2-7.8-21.4-8.1-4.9-1-6.6-0.1-8.2 1.6-21.3 8.1-23 5.4-9.9 3.2-6.5 3.5-9.9 6.8-6.5 5.6-5 5.5-3.4 5.3-3.6 8.2-2.5 9.8-0.3 6.6 2.2 11.5 2.6 8.2 4.2 8.2 5.8 8.3 7 8.1 9.1 8.2 8.5 6.2 9.8 5.8 11.5 5.4 9.9 3.4 11.5 2.5z"/><path fill="#0095ff" d="M326 819.6l13.2 0.7 14.8-0.7 11.4-1.8 11.5-3.4 13.2-5.8 11.5-6.7 9.8-7.5 9.5-9.3 7.6-9.8 5.6-9.8 3.3-9.9 1.5-9.8-0.8-8.2-3.7-10.9-4.9-8.2-6.6-6.9-8.2-6.3-8.2-4.9-6.6-2.7-8.2-2.2-19.7-2.9-11.5-1.1-37.7-0.1-9.9 0.6-18 2.4-8.3 1.5-6.5 1.8-6.6 2.7-8.2 4.9-6.6 4.9-6.3 6.1-4.8 6.5-3.2 6.6-2.5 8.2-0.8 6.5 0.9 8.2 2.6 9.9 2.9 6.5 5.1 8.2 6.5 8.2 7.8 7.9 8.7 6.9 9.4 6.1 9.9 5 9.8 4 9.9 2.8z"/><path fill="#0089ff" d="M322.1 816.3l13.8 1.1 13.1-0.2 11.5-1.3 11.5-2.8 11.5-4.5 11.5-6 9.9-6.8 9.8-8.6 8.2-9.6 6.6-10.5 3.5-8.2 2-9.8-0.3-8.2-2.9-9.9-4.3-8.2-5.5-6.5-5.7-4.9-6.5-4.4-6.6-3.4-4.9-2-11.5-2.5-24.6-1.9-21.4 0.5-26.2-0.4-24.7 2.3-8.2 2-8.2 3.6-8.2 5.1-7.3 6-5.5 6.5-3.6 6.6-2.9 8.2-1 6.5 0.2 6.6 1.8 8.2 2.7 6.6 4.7 8.2 6 8.1 6.2 6.6 8.5 7.4 8.3 5.8 9.8 5.5 9.9 4.3 9.8 3.1z"/><path fill="#007eff" d="M333.9 814.7l13.5-0.1 11.5-1.2 9.8-2.1 9.9-3.5 11.5-5.7 9.8-6.2 9.2-7.5 7.8-8.2 5.9-8.2 5.3-9.8 2.7-8.2 0.6-6.6-1.2-8.2-3.7-9.8-4-6.6-6.2-6.4-6.9-5.1-7.8-4.2-6.6-2.4-6.6-1.4-23-2-24.6 0.6-26.2-0.6-23 2-9.9 2.4-6.6 3-6.5 4-4.9 3.7-4.9 4.8-4.5 6.5-2.9 6.6-2.3 8.2-0.5 6.6 1 6.5 2.3 6.6 4.3 8.2 5.8 8.5 7.2 7.9 7.6 6.6 9.3 6.5 10.4 5.7 8.2 3.5 9.9 3 9.8 1.8z"/><path fill="#0072ff" d="M325.5 811.4l10.4 0.7 13.1-0.2 11.5-1.4 9.9-2.5 9.8-3.8 11.5-6.2 8.2-5.6 8.5-7.3 6.3-7 5.4-7.7 5.1-9.9 2.4-8.2 0-6.5-2.7-9.9-3.7-8.2-5.1-6.5-4.7-4-6.3-4.2-10.1-4.7-9.9-2-21.3-1.7-23 0.5-26.2-0.5-23 2.2-6.6 1.5-6.6 2.7-8.2 5-6.3 5.2-4.1 4.9-3.5 6.6-2.9 8.2-1.2 6.5 0.2 4.9 1.8 6.6 3.8 8.2 4 6.6 5 6.5 6.4 6.6 7.9 6.5 7.3 5 9.5 5.1 8.2 3.5 9.9 2.9z"/><path fill="#0066ff" d="M320.5 808.1l10.5 1.2 13.1 0.3 11.5-0.9 9.8-1.9 9.9-3.3 9.8-4.8 9-5.4 9.1-7.2 7.4-7.5 6-8.2 5.1-9.9 2.4-8.2-0.1-6.5-3.1-9.9-3-6.5-3.5-4.9-4.6-4.3-4.9-3.4-5-2.9-6-2.6-8.8-1.9-21.3-2-11.5 0.4-37.7-0.4-21.4 2.3-6.6 1.5-4.9 1.9-6.6 3.7-6.5 4.8-4.3 4.5-3.1 4.9-3.9 9.9-1.5 6.5 0.1 4.9 1.2 5 5.3 11.4 4.4 6.6 5.6 6.6 6 5.6 8.2 6.3 9.9 5.8 8.2 3.9 8.2 2.8z"/><path fill="#005bff" d="M326.6 806.5l10.9 0.6 11.5-0.3 9.9-1.1 8.2-2 9.8-3.6 9.9-5.2 7.4-4.8 7.9-6.6 6.2-6.6 5.8-8.2 4.9-9.8 1.7-6.6-0.2-6.5-2-6.6-3.6-8.2-3.6-4.9-3.5-3.3-6.2-4.4-5-2.7-4.9-1.9-8.2-1.8-21.3-2.2-46 0.1-21.3 2.4-6.6 1.5-6.1 2.5-7.1 4.3-4.7 3.9-4.3 4.9-2.7 4.9-3 8.2-1.3 6.6 0.4 4.9 1.5 4.9 3 6.6 4 6.5 5.1 6.6 5.3 5.4 7.4 6.1 7.4 4.8 8.2 4.4 8.2 3.4 8.2 2.3z"/><path fill="#004fff" d="M321 803.2l10 1.2 11.5 0.3 9.8-0.6 9.9-1.6 9.8-3.1 8.2-3.7 8.2-4.7 7.9-5.9 6.9-6.5 6.5-8.2 4.6-8.2 2.5-6.6 0.7-4.9-0.8-6.6-2.9-8.2-4-6.5-3.3-3.6-4.9-3.9-5-2.9-4.9-2.2-9.8-2.4-19.7-2.3-44.4 0-9.8 0.9-13.1 2-6.6 1.8-6.6 3.1-6.6 4.6-4.9 4.9-3.2 4.9-2.8 6.6-1.6 6.5-0.1 3.3 0.7 4.9 1.7 4.9 3.4 6.6 4.4 6.6 4.1 4.9 6.6 6.2 6.5 5.1 8.2 4.9 8.2 4 6.6 2.3z"/><path fill="#0043ff" d="M326.2 801.5l9.7 0.7 11.5-0.1 8.2-0.8 8.2-1.8 8.6-2.9 9.5-4.6 8.2-5.2 6-4.9 6.4-6.6 4.9-6.6 4.5-8.2 2.1-6.5 0.3-4.9-1.3-6.6-3.2-7.5-4.1-5.6-8-6.6-9.3-4.3-16.4-3.2-13.1-1.2-39.4 0-13.2 1.4-9.8 1.7-7.7 2.3-6.5 3.3-5.5 4.1-3.9 4.1-3.2 4.9-2.7 6.6-1.1 4.9-0.1 4.9 1.1 5 2 4.9 3.7 6.5 4.9 6.6 4.6 4.9 6.2 5.4 6.6 4.5 8.2 4.5 8.2 3.4 8.2 2.4z"/><path fill="#0038ff" d="M321.2 798.3l8.1 1.1 11.5 0.4 9.9-0.4 8.2-1.2 8.2-2.2 8.2-3.4 8.2-4.4 6.6-4.6 7.3-6.7 5.4-6.5 5.1-8.2 2.6-6.6 0.7-4.9-0.9-6.6-2.6-6.5-3.2-4.9-7-6.6-9.1-4.8-11.5-2.9-16.4-2.2-37.7-0.1-11.5 0.9-11.5 2-7.8 2.2-7 3.2-4.7 3.3-3.5 3.4-3.6 4.8-2.3 5-1.6 4.9-0.5 4.9 0.3 3.3 1.5 4.9 2.9 5.7 4.9 7.4 4.2 4.9 5.2 5 5.4 4.2 6.4 4 6.7 3.3 8.3 3.1z"/><path fill="#002cff" d="M325.9 796.6l8.4 0.7 13.1-0.1 6.6-0.6 6.5-1.3 8.2-2.6 8.2-3.7 6.8-3.9 6.4-4.8 5.2-5 5.2-6.6 4.8-8.2 2.5-6.5 0.2-4.9-1.1-5-2-5.2-3.3-5.1-6.6-6.1-4.9-2.8-5-2-14.7-3.4-13.2-1.5-31.2-0.1-13.1 1-11.5 2.2-6.5 1.8-6.6 2.8-5.5 3.7-3.4 3.3-3.5 4.9-2.4 5.2-1.5 6.3 0 3.2 1.2 5 5.2 9.8 3.5 4.9 4.7 5.3 5.2 4.6 6.3 4.4 7 3.8 7.8 3.2z"/><path fill="#0020ff" d="M322 793.3l5.7 1 8.2 0.5 13.1-0.2 6.6-0.8 8.2-2 6.6-2.5 8.2-4.1 5.2-3.3 6.3-5.2 5.7-6.3 4.3-6.6 4-8.2 0.8-3.3-0.5-4.9-2.2-6.5-2.9-5-5.9-5.8-8.3-4.4-14.7-4-13.2-1.7-29.5-0.2-11.5 0.8-18.1 3.9-6.5 2.6-5 3-4.6 4.2-2.5 3.3-2.4 4.9-1.8 6.6-0.2 3.2 0.8 3.3 4 8.2 7 9.9 9.6 8.4 4.9 3.1 8.2 4.1z"/><path fill="#0015ff" d="M327.2 791.7l20.2 0.4 9.8-1.2 6.6-1.9 6.6-2.6 8.2-4.3 4.9-3.5 5.6-4.9 4.3-5 4-6.5 3.6-8.2 0.4-3.3-1.1-4.9-1.8-4.9-1.9-3.3-2.9-3.3-3.6-2.9-8.2-4.1-16.5-4.2-11.4-1.3-26.3 0-11.5 0.9-16.4 4-6.6 2.7-4.9 3.2-3.6 3.3-3 4.4-1.5 3.8-1.6 6.6 0.4 3.3 1.2 3.3 5.3 9.8 6.1 7.2 9.8 7.8 13.2 6.3z"/><path fill="#0009ff" d="M324.1 788.4l10.2 1.1 13.1-0.1 6.6-0.6 6.5-1.6 5.8-2.1 12.3-6.5 6.2-4.9 4.7-5 3.5-4.9 3.2-6.5 1.2-5-0.1-3.2-1.2-5-2.5-4.9-5.2-5.2-8.2-4.3-14.8-4.2-11.4-1.6-26.3-0.1-9.9 1-16.4 4.3-4.9 2-4.9 2.9-3.9 3.6-2.3 3.3-1.5 3.2-1.2 5-0.1 3.2 0.6 3.3 3.8 8.2 6.2 7.9 8.2 6.9 11.5 6.2z"/><path fill="#0000fc" d="M322.3 785.1l10.3 1.5 19.7-0.4 5.4-1.1 6.1-2 11.5-6.2 4.9-3.6 5-4.6 3.9-4.9 2.7-4.9 1.6-4.9 0.1-4.9-1.3-5-1.9-3.2-5.2-5.1-8.2-4.2-13.1-4-11.5-1.7-23 0-8.2 0.7-16.5 4.4-4.8 2-4.9 2.8-5.2 5.1-1.9 3.2-1 3.3-0.2 6.6 0.9 3.3 2.3 4.9 5.1 6.6 8.2 7 9.8 5.8z"/><path fill="#0000f1" d="M328.5 783.5l18.9 0.3 8.2-1 8.2-3 10.3-6.1 9.5-8.2 3.2-4.4 1.8-3.8 1.1-5-0.1-3.2-0.9-3.3-1.8-3.3-5-4.8-6.6-3.4-14.8-4.9-9.8-1.4-19.7 0-8.2 0.7-14.8 4.3-9.9 4.7-5 4.8-1.8 3.3-0.9 3.3-0.1 3.2 0.5 3.3 3.1 6.6 5.9 6.6 11.1 8.1 8.6 4.4z"/><path fill="#0000e5" d="M325.8 780.2l6.8 0.8 18.1-0.2 6.5-1.4 6.6-3 12.7-9.3 6.3-6.6 2.3-4.8 0.6-3.4-0.2-3.2-1.3-3.3-4-4.6-6.5-3.9-13.2-5.2-9.8-1.9-19.7-0.1-6.6 0.7-11 3.5-10.8 4.9-4.5 3.5-3.1 4.7-0.7 4.9 0.5 3.3 1.4 3.3 5.2 6.4 10.5 8.4 7.6 4.4z"/><path fill="#0000d9" d="M324.3 776.9l6.7 1.3 18 0 5-0.7 5.6-2.2 9.1-6.6 10.3-9.8 1.9-3.3 0.7-3.3-1.3-4.9-3.4-3.6-7.4-4.6-10.6-4.9-6.6-1.7-24.6 0-6.6 1.7-10.6 4.9-7.4 4.6-3.3 3.6-1.2 3.3 0.5 4.9 3.3 4.9 8.9 8.2 6.5 5.1z"/><path fill="#0000ce" d="M328.8 775.3l20.2 0.3 5-0.9 3.2-1.3 3.3-2 4.9-4.3 9.9-10.6 1.5-2.5-0.1-3.3-2.6-3.3-6.1-4.9-9.1-5.3-4.9-1.9-6.6-0.8-16.4 0.1-5 0.7-5.6 2.3-8.4 4.9-6.1 4.9-2.6 3.3-0.1 3.3 2.2 3.3 7.5 8.2 5.3 4.9 4.6 3z"/><path fill="#0000c2" d="M326.4 772l6.2 1.1 14.8 0 4.9-0.7 3.3-1.2 4.9-3.4 5.2-5.6 4.5-8.2-0.3-3.3-2.1-3.3-3.3-3.3-7.3-4.9-4.9-1.9-4.9-0.6-14.8 0-4.9 0.6-4.9 1.9-7.3 4.9-3.3 3.3-2.1 3.3-0.3 3.3 3.4 6.5 3.9 5 4 3.7z"/><path fill="#0000b6" d="M329.9 770.4l4.4 0.4 13.1 0 4.9-1 3.3-1.5 5.3-4.5 3.3-4.9 1.5-4.9-1.2-4.9-2.6-3.3-4.7-3.7-3.2-1.7-5-1.3-18 0-5 1.3-3.2 1.7-4.7 3.7-2.6 3.3-1.1 3.2 0.2 3.3 2.1 4.9 4 5 4.5 3.2z"/><path fill="#0000ab" d="M327.6 767.1l5 1.3 6.6 0.3 8.2-0.3 5-1.3 4.8-3.1 3.3-4.1 1.7-4.3-0.5-4.9-2.1-3.3-2.4-2.2-3.2-2.1-5-1.7-4.9-0.5-9.8 0.1-5 0.8-3.3 1.3-5.6 4.3-2.1 3.3-0.6 3.3 1.2 4.9 2.1 3.3 3.4 3.1z"/><path fill="#00009f" d="M330.3 765.5l5.6 0.9 8.2 0 4.9-0.8 3.3-1.2 3.3-2.3 2.5-3.2 1.2-4.9-0.9-3.3-1.2-1.8-3.2-2.9-3.3-1.6-3.3-0.9-11.5-0.4-4.9 0.7-3.3 1.3-5.1 4-1.7 3.2-0.2 3.3 1.2 3.3 2.5 3.2 3.3 2.3z"/><path fill="#000093" d="M334.7 763.8l6.1 0.4 4.9-0.4 3.3-0.9 3.3-1.6 2.6-2.4 1.4-3.3-0.3-3.3-1-1.6-4.3-3.5-6.6-1.7-9.8 0.2-3.3 0.9-3.3 1.6-2.7 2.5-1 1.6-0.3 3.3 0.4 1.7 3.6 4 3.3 1.6z"/><path fill="#000088" d="M333.4 760.5l7.4 0.9 6.6-1.1 2.8-1.4 1.8-1.6 0.9-1.7-0.1-1.6-0.8-1.7-1.8-1.6-4.5-2-6.5-0.6-6.1 1-3.3 1.6-1.8 1.6-0.8 1.7-0.1 1.6 2.2 2.9z"/><path fill="#000080" d="M335.6 755.6l1.9 1.1 3.3 0.5 3.6-1.6 0-1.6-1.9-1.2-3.3-0.4-3.6 1.6z"/></g></g><path fill="none" stroke="#141414" stroke-width="2" stroke-linejoin="round" d="M331 900l-14.8-1-14.8-2.3-16.4-4.1-16.4-5.2-11.5-4.6-23-10.9-3.3-2-3.2-2.8-3.3-4.9-2-4.9-11.5-34.4-7.5-26.3-3.9-19.7-1.8-11.4-2.4-9.9-0.7-4.9 0.9-16.4 2.1-19.7 3.2-16.4 1.9-14.7 6.4-31.2 3.4-13.1 3.6-10.2 3.9-7.9 4.4-5.5 4.9-4 6.5-3.4 13.5-5.1 11.2-3.6 14.7-4 13.2-2.8 14.8-2.3 24.6-2.6 27.9 0.2 23 2.6 23.8 4.3 12.7 3.3 12.7 3.9 14.8 5.4 6.6 3.1 4.9 3.4 3.7 3.9 3.2 4.9 3.7 8.2 2.9 8.2 2.7 9.8 7.1 34.5 1.9 14.7 3.2 16.4 2.1 19.7 0.9 14.8-0.1 3.2-3 13.2-4.9 27.8-7.8 27.9-12.3 36.9-3.3 6.9-1.7 2.1-3.2 2.8-6.6 3.7-24.6 11.3-13.1 4.7-18.1 5.2-11.5 2.6-14.8 1.9-13.1 0.7zM324.4 854l-14.8-2.5-14.7-3.8-13.2-4.9-13.1-6.5-11.5-7.3-8.2-6-6.6-5.4-8.2-8.5-6.8-9.2-4-8.2-4-10.5-5.4-25.6-0.5-4.9 0.7-6.6 0.7-14.7 1.8-13.1 2.2-11.5 4.8-18.1 1.5-3.2 2.4-4 6.6-8.5 8.2-8.5 9.9-8.3 8.2-5.5 8.8-4.6 10.9-4.3 11.5-3.5 18-4.1 8.2-1.3 14.8-0.9 16.4 0.1 11.5 0.6 8.2 1.1 19.7 4.5 13.2 4 8.2 3.3 8.2 4.1 6.6 4.1 6.5 5 8.2 7.3 6.6 6.9 6.6 8.5 3.3 5.6 1.7 4.9 3.2 12.4 2.4 12.2 2.1 14.8 0.7 14.7 0.7 6.6-0.5 4.9-4.4 21.3-2.4 8.2-3.6 8.8-3.2 6.4-5 6.8-6.5 7.4-8.2 7.2-9.9 7.3-8.2 5.4-8.2 4.6-9.9 4.5-9.8 3.6-9.9 2.9-13.1 2.9-8.2 1.1-8.2 0.5-14.8 0zM327.7 827.8l-9.9-1.2-8.2-1.7-9.8-3-8.2-3.3-9.9-4.8-8.2-4.9-8-5.7-6.8-5.7-6-5.8-4.2-4.9-6-8.2-3.8-6.6-3-7.5-3-12.2-1.1-3.2-0.4-3.3 0.4-4.9 1.5-8.2 2.3-8.2 2.5-6.6 2.8-5.1 4.9-6.3 4.9-5 14.8-11.5 4.9-3.1 3.3-1.5 18.1-6.2 8.2-3.8 6.5-4.8 8.3-8.1 4.9-2.5 4.9-1.6 4.9-0.7 11.5-0.3 11.5 0.4 6.6 1.6 6.1 2.7 2.1 1.7 8.1 8.2 6.7 4.3 8.2 3.5 14.8 5 6.5 3.1 6.6 4.5 11.5 9.1 4.9 5 3.3 3.9 2.7 4.2 2.2 4.4 2.5 7.1 2.2 8.2 1.3 8.2 0.2 4.9-5.4 19.7-3 6.6-4 6.5-6.2 8.2-5.6 6-8.3 7.3-8.7 6.4-9.3 5.7-9.9 4.8-8.2 3.3-9.8 3-9.9 2-11.5 1.2-9.8 0.3zM321.1 808.1l-8.2-1.8-8.2-2.9-8.2-3.9-8.2-4.7-6.7-4.7-7.5-6.6-5.9-6.6-4.7-6.5-3.5-6.6-2.8-6.5-1.2-5-0.1-4.9 1.6-6.5 3.8-9.9 3.1-4.9 4.2-4.4 6.5-4.8 6.6-3.7 4.9-1.9 6.6-1.5 21.4-2.3 13.1 0.4 24.6 0 11.5-0.5 21.3 2.1 8.5 1.8 6.3 2.7 5 2.9 4.9 3.5 4.4 4.1 3.6 4.9 3 6.5 3.1 9.9 0.3 3.3-0.2 3.2-0.7 3.3-1.7 4.9-5.1 9.9-6 8.2-7.3 7.4-9.2 7.3-8.9 5.4-9.8 4.7-9.9 3.3-9.8 1.9-11.5 0.9-11.5-0.1zM324.4 791.9l-6.6-1.7-5.1-1.8-7.2-3.3-5.7-3.2-4.9-3.7-5.1-4.5-3.2-3.7-3.1-4.5-4.9-9.9-0.9-3.3 0-1.6 1.6-6.6 2.1-4.9 2.3-3.3 4.6-4.3 4.9-2.9 6.4-2.6 16.6-3.9 11.5-0.9 27.9 0.1 11.5 1.4 9.8 2.3 6.6 2.1 4.7 2.2 3.5 2.2 3.1 2.7 2.8 3.3 2.6 4.9 1.8 6.6 0.3 3.2-0.9 3.3-4 8.2-4 6.2-4.9 5.3-5.9 4.9-5.7 3.6-8.2 4-6.5 2.4-6.6 1.7-6.6 0.8-8.2 0.1-9.8-0.1zM327.7 773.8l-4.9-1.9-3.3-2.2-2.9-2.6-3.1-3.3-6.3-8.2-1.1-1.6-0.3-1.7 0.6-1.6 6.3-6.6 10.1-6.3 4.9-1.7 4.9-0.6 14.8 0 6.6 1 4.9 2.1 6.5 4.2 3.8 3 4.4 4.9 0.6 1.6-0.3 1.7-6.1 8.2-6.2 6.5-4.6 3.3-4.1 1.7-3.9 0.6-9.8-0.2-6.6 0.3zM321.2 560.5l6.5 0.5 26.3-0.1 22.9-2.5 16.5-2.6 15.7-3.5 16.9-5 16.6-6 8.2-4.1 4.9-4 3.3-3.9 3.3-5.8 3.3-7.9 3-9.3 2.4-9.8 6.7-32.8 1.6-13.1 3.6-19.7 1.9-18 0.7-13.2-0.1-3.2-3-13.2-1.8-11.4-3.9-19.7-7.5-26.3-11.5-34.4-2-4.9-3.2-4.9-5-3.9-4.9-2.6-19.7-9.2-9.8-4-11.5-3.9-14.8-4.1-11.5-2.6-18.1-2.2-18-0.5-18.1 0.7-18 2.3-19.7 5-19.7 6.5-26.3 12-4.9 2.6-3.1 2.2-3.5 3.8-3 6.1-13.1 39.3-7.3 26.3-4.9 27.8-2.7 11.5-0.4 4.9 0.7 13.2 2.1 19.6 3.4 18.1 1.6 13.1 5.2 26.2 3 13.2 3.5 11.4 4.1 9.9 4.1 6.5 5.1 5 5.4 3.2 14.5 5.9 12 4 14.3 3.9 11.8 2.6 17.8 2.9zM316.8 517.8l14.2 0.9 13.1 0.1 19.7-1 6.6-1.2 19.7-4.5 8.2-2.5 8.2-3 8.2-3.8 6.6-3.7 6.5-4.5 8.2-6.8 6.6-6.4 6.6-7.6 4.9-7 2.9-6.4 4.6-18 2.1-11.5 1.5-11.5 0.7-14.7 0.7-6.6-0.5-4.9-5.2-24.6-5.2-13.7-4.1-7.6-6.2-8.2-7.7-7.9-8.2-6.6-11.5-8.1-9.9-5.8-11.5-5.4-13.1-4.7-13.1-3.3-13.2-2.3-9.8-0.7-18.1 0.1-11.5 1.3-13.1 2.7-11.5 3.3-9.8 3.6-11.5 5.4-9.9 5.8-13.1 9.3-9.7 8.3-6.7 7.6-5.2 7.2-4 8.2-3.8 9.8-6.1 29.6 1.3 21.3 1.9 14.7 2.6 13.2 4.4 16.4 3.5 6.5 7 9.2 9.9 10 9.8 8 9.9 6.2 11.4 5.2 11.5 3.9 23 5.5zM322.7 489.9l3.3 0.8 5 0.5 19.7-0.1 6.5-1.1 6.6-2.7 3.3-2.3 8.1-8.2 5-3.4 8.2-3.8 19.7-6.9 5-2.8 4.9-3.5 11.4-9.1 6.4-6.6 5.2-7.5 3.1-7.2 3.5-13.1 1-6.6 0.2-4.9-5.4-19.7-2.4-5.5-3.3-5.7-4.9-6.9-5.5-6.5-6.9-6.6-7.3-5.9-6.6-4.7-8.2-4.9-9.9-4.8-8.2-3.3-9.8-3-9.9-2-11.5-1.2-9.8-0.3-11.5 0.6-9.9 1.2-9.8 2.1-9.9 3.2-11.5 5-9.8 5.4-9.1 6.1-8.1 6.5-7.4 7.2-6.3 7.6-5.4 8.2-3.9 8.2-5.4 19.7 0.4 6.5 1.9 9.9 3 9.8 3.1 6.6 4.4 6.3 8.2 8.2 14.7 11.2 6.6 3.5 18.1 6.2 6.5 2.9 6.7 4.3 9.8 9.5 3.2 1.9zM308.3 440.7l7.9 0.7 11.5-0.5 39.4 0.3 21.3-2.4 6.6-1.8 4.9-2.2 8.8-5.5 6-5.5 4-6 3.8-9.9 1.6-6.5-0.1-4.9-1.8-6.6-3.8-8.2-4.1-6.6-5.3-6.5-5.8-5.8-6.6-5.4-6.5-4.5-9.9-5.3-6.5-2.9-8.3-2.6-8.2-1.7-9.8-1-11.5-0.1-9.9 0.7-8.2 1.3-6.5 1.7-7.2 2.6-7.6 3.7-8.2 4.7-6.7 4.7-7.5 6.6-5.9 6.6-5.6 8.2-4.2 8.2-2.1 6.5-0.5 3.3 0.1 3.3 1.6 6.5 2.3 6.6 2.2 4.6 3.8 5.2 5.5 5 8.8 5.5 6.5 2.7 6.6 1.5zM312.9 426l4.9 0.8 8.2 0.7 29.6-0.1 11.5-1.4 8.2-1.9 6.6-1.9 4.9-2.1 4.1-2.3 3.9-3.3 2.8-3.3 2.6-4.9 1.8-6.6 0.3-3.2-0.9-3.3-3.1-6.6-2.9-4.9-3.7-4.9-3.2-3.3-8.3-6.6-5.7-3.2-7.4-3.4-4.9-1.7-6.6-1.7-4.9-0.7-6.6-0.2-16.4 0.4-6.6 1.3-6.5 2-8.3 3.6-6.5 3.6-4.9 3.7-5 4.5-4.2 5-3.1 4.9-3.3 6.5-1.6 5 0.7 4.9 2.1 6.5 2.9 4.5 3.6 3.7 4.6 3.2 4.9 2.3 6.6 2.1zM328.5 412.9l4.1 0.4 14.8 0 4.9-0.6 3.3-1 3.3-1.5 6.2-3.9 4.1-3.3 4.4-4.9 0.6-1.6-0.3-1.7-7.4-9.8-3.1-3.3-4.5-3.8-4.9-2.5-5-0.9-9.8 0.2-6.6-0.3-4.9 0.6-3.3 1.1-4.9 3-4.5 4.2-7.8 9.9-1.1 1.6-0.3 1.7 0.6 1.6 2.9 3.3 5.3 4.6 8.2 5z"/><path d="M175 130.8H505V1018H175z" fill="none" stroke="#222" stroke-width="1.4"/><text x="166.0" y="1085.9" font-size="52" text-anchor="end" >-150</text><text x="166.0" y="921.6" font-size="52" text-anchor="end" >-100</text><text x="166.0" y="757.3" font-size="52" text-anchor="end" >-50</text><text x="166.0" y="593.0" font-size="52" text-anchor="end" >0</text><text x="166.0" y="428.7" font-size="52" text-anchor="end" >50</text><text x="166.0" y="264.4" font-size="52" text-anchor="end" >100</text><text x="166.0" y="100.1" font-size="52" text-anchor="end" >150</text><text x="168.0" y="1124.3" font-size="52" text-anchor="middle" >-50</text><text x="340.0" y="1124.3" font-size="52" text-anchor="middle" >0</text><text x="505.0" y="1124.3" font-size="52" text-anchor="middle" >50</text><text x="339.0" y="1179.4" font-size="51.5" text-anchor="middle" >y [mm]</text><text transform="translate(37.8,576) rotate(-90)" font-size="51.5" text-anchor="middle">z [mm]</text><linearGradient id="cba1" x1="0" y1="0" x2="0" y2="1"><stop offset="0.0000" stop-color="#800000"/><stop offset="0.0312" stop-color="#9f0000"/><stop offset="0.0625" stop-color="#bf0000"/><stop offset="0.0938" stop-color="#df0000"/><stop offset="0.1250" stop-color="#ff0000"/><stop offset="0.1562" stop-color="#ff2000"/><stop offset="0.1875" stop-color="#ff4000"/><stop offset="0.2188" stop-color="#ff6000"/><stop offset="0.2500" stop-color="#ff8000"/><stop offset="0.2812" stop-color="#ff9f00"/><stop offset="0.3125" stop-color="#ffbf00"/><stop offset="0.3438" stop-color="#ffdf00"/><stop offset="0.3750" stop-color="#ffff00"/><stop offset="0.4062" stop-color="#dfff20"/><stop offset="0.4375" stop-color="#bfff40"/><stop offset="0.4688" stop-color="#9fff60"/><stop offset="0.5000" stop-color="#80ff80"/><stop offset="0.5312" stop-color="#60ff9f"/><stop offset="0.5625" stop-color="#40ffbf"/><stop offset="0.5938" stop-color="#20ffdf"/><stop offset="0.6250" stop-color="#00ffff"/><stop offset="0.6562" stop-color="#00dfff"/><stop offset="0.6875" stop-color="#00bfff"/><stop offset="0.7188" stop-color="#009fff"/><stop offset="0.7500" stop-color="#0080ff"/><stop offset="0.7812" stop-color="#0060ff"/><stop offset="0.8125" stop-color="#0040ff"/><stop offset="0.8438" stop-color="#0020ff"/><stop offset="0.8750" stop-color="#0000ff"/><stop offset="0.9062" stop-color="#0000df"/><stop offset="0.9375" stop-color="#0000bf"/><stop offset="0.9688" stop-color="#00009f"/><stop offset="1.0000" stop-color="#000080"/></linearGradient><rect x="582.8" y="81.5" width="26.5" height="986.4" fill="url(#cba1)" stroke="#222" stroke-width="1"/><path d="M582.8 1026.1h7M609.3 1026.1h-7" stroke="#111" stroke-width="1.3"/><text x="617.3" y="1044.7" font-size="52" text-anchor="start" >-20</text><path d="M582.8 913.3h7M609.3 913.3h-7" stroke="#111" stroke-width="1.3"/><text x="617.3" y="931.9" font-size="52" text-anchor="start" >-15</text><path d="M582.8 800.4h7M609.3 800.4h-7" stroke="#111" stroke-width="1.3"/><text x="617.3" y="819.0" font-size="52" text-anchor="start" >-10</text><path d="M582.8 687.6h7M609.3 687.6h-7" stroke="#111" stroke-width="1.3"/><text x="617.3" y="706.2" font-size="52" text-anchor="start" >-5</text><path d="M582.8 574.7h7M609.3 574.7h-7" stroke="#111" stroke-width="1.3"/><text x="617.3" y="593.3" font-size="52" text-anchor="start" >0</text><path d="M582.8 461.8h7M609.3 461.8h-7" stroke="#111" stroke-width="1.3"/><text x="617.3" y="480.4" font-size="52" text-anchor="start" >5</text><path d="M582.8 349.0h7M609.3 349.0h-7" stroke="#111" stroke-width="1.3"/><text x="617.3" y="367.6" font-size="52" text-anchor="start" >10</text><path d="M582.8 236.1h7M609.3 236.1h-7" stroke="#111" stroke-width="1.3"/><text x="617.3" y="254.7" font-size="52" text-anchor="start" >15</text><path d="M582.8 123.3h7M609.3 123.3h-7" stroke="#111" stroke-width="1.3"/><text x="617.3" y="141.9" font-size="52" text-anchor="start" >20</text><path d="M1010.5 81.5V1067.3H1340.5M1010.5 1067.3h11M1010.5 903.0h11M1010.5 738.7h11M1010.5 574.4h11M1010.5 410.1h11M1010.5 245.8h11M1010.5 81.5h11M1010.5 1067.3v-10M1175.5 1067.3v-10M1340.5 1067.3v-10" fill="none" stroke="#3a3a3a" stroke-width="1.6"/><g clip-path="url(#clipa2)"><g filter="url(#blur)"><rect x="990.5" y="110" width="370" height="930" fill="#80ff80"/><path fill="#8bff74" d="M1139.2 931.1l22.3 1 36.2-0.2 31.2-2 34.4-4.5 14.8-3 6.6-2.4 3.3-2.3 3.2-3.6 5-8.6 13.1-30.6 10.7-22.5 2.7-8.2 2.5-13.1 7-52.5 4.4-19.7 0.9-8.2-0.4-11.5-3.1-16.4-3.4-22.8-0.9-11.6 0.2-19.7 3.6-26.2 0-6.6-0.7-6.6-3.3-13.1-4-11.5-2.8-6.5-3.2-4.9-3-3.3-7.2-4.8-9.8-3.1-11.5-1.8-21.4-1.6-32.8-1.5-41.1-0.9-31.2 0-39.4 0.7-31.2 1.3-29.5 2.1-9.9 1.7-6.5 1.8-6.1 2.8-4.4 3.3-4.2 4.9-2.8 4.9-7 19.7-2.7 13.1-0.1 13.1 3.5 24.6 0.1 18.1-0.9 11.5-3.4 22.9-2.8 14.8-0.8 9.8 0.8 9.9 3.3 14.7 2.3 13.1 6.2 47.6 3.2 14.8 25.6 58 5 8.6 4.9 4.9 3.3 1.8 4.9 1.6 16.4 3.3 31.2 4zM1028 266.9l2.2 1.3 1.6 0.2 3.3-1.5 5-6.5 3.2-7.1 3.8-11 3.3-13.1 2.4-13.1 1.1-11.5 0-9.9-1-11.4-2.3-13.2-3-13.1-2.6-8.3-3.3-7.2-3.3-4-3.3-1.3-3.3 1.5-3.2 4.1-2.6 5.4-2.7 8.2-4.1 19.7-2.4 26.2-0.4 24.6 1.7 18 1.5 6.6 3 8.2 2.7 5.1zM1316 266.9l3.2 1.5 3.2-1 3.4-3.8 4-8.2 2-6.5 1.7-8.2 1.2-21.4-1.4-31.1-1.8-14.8-2.1-11.5-3.2-11.4-3.5-8.2-3.5-4.6-3.3-1.5-3.3 1.3-3.3 4-2.7 5.7-2.2 6.5-3 11.5-2.8 14.8-1.3 11.5-0.3 8.2 0.3 8.2 1.4 11.4 4.7 21.4 5.9 16.4 3.3 6z"/><path fill="#97ff68" d="M1152.1 918l29.1 0.7 26.3-1.4 24.6-3.7 26.3-6.2 19.7-6.5 4.9-2.2 5-3.1 3.2-3 3.3-4 6.6-11.8 5.7-16.2 8.6-34.5 6.2-31.1 4.1-25.3 3.4-14.1 0.6-8.2-3.4-31.1-3.5-21.4-2.2-24.6-0.9-27.8-2.5-16.4-3.8-11.5-2.5-5-3.2-4.9-6.6-6.5-8.2-4.6-11.5-3.5-17.9-3.4-23.1-3.2-23-2-27.9-1.4-24.7 0-41 2.2-18.1 1.8-21.3 3.1-14.8 2.9-9.8 2.9-7.4 3.5-5.8 4.5-4.9 5.9-4.1 7.7-3.4 9.8-2.4 13.1-1.6 36.1-2.2 23-3.1 18-2.5 19.7-1.1 16.4 1 6.6 3 12.4 4.1 25.3 6.2 31.1 8.1 32.8 4.2 13.2 5.3 11.2 4.9 7.4 4.9 4.9 8.2 4.6 16.5 5.8 22.9 5.9 21.4 3.9zM1031.8 248.9l1.7 0.6 1.6-0.4 1.7-1.3 3.3-5.7 3.2-11.4 2-16.3-0.2-14.7-1.9-13.2-3.1-9.5-1.7-2.7-1.6-1.5-1.7-0.5-1.6 0.7-1.7 1.7-3.2 7.8-2.3 10.6-1.4 14.8 0 14.7 1.1 11.5 2.6 10 1.6 3.1zM1315.6 248.9l1.9 0.6 1.7-0.6 1.6-1.7 2.3-4.9 2.3-11.5 0.9-14.7-0.8-16.4-2.4-14.8-2.1-6.6-1.7-3.2-1.8-2.1-1.6-0.7-1.7 0.5-1.6 1.5-3.4 7.3-2.8 13.1-0.8 13.2 0.6 13.1 2.2 13.1 3.4 9.8 2.4 3.9z"/><path fill="#a3ff5c" d="M1169.7 908.1l21.4-0.3 19.7-2 18.1-3.6 22.9-6.6 21.4-8.4 13.1-6.5 3.3-2.6 3.3-3.5 2.7-4.2 2.2-4.9 12.1-44.3 6.4-26.2 5-29.5 2.9-11.5 0.3-6.6-1.1-14.7-2.1-18.1-3.1-16.4-6.7-50.8-4-18.1-4.5-11.4-5.2-7.5-6.9-5.7-9.5-4.4-16.4-4.9-18.1-4.3-15.3-2.8-19.2-2.4-22.9-1.8-23-0.1-29.6 2.1-19.7 2.6-16.4 3.1-19 4.7-15.5 5.1-6.5 3.3-6.6 5.5-4.3 5.8-3.8 8.2-3.4 11.5-2.4 13.1-6.5 49.2-3.3 18.1-2.1 18-1 16.4 0.7 4.9 2.9 11.5 5.1 29.5 6.5 26.3 9.9 37.5 2.3 6.7 4.3 7.5 3.3 3.5 3.3 2.6 9.8 5.1 21.4 8.7 19.7 6 19.7 4.5 16.4 2.2z"/><path fill="#aeff51" d="M1158 898.3l20 0.6 19.7-1 16.4-2.5 18-4.6 21.4-7.4 26.3-12.3 4.9-3.2 2.6-2.4 3.9-6.7 13.2-37.2 7.7-26.6 5.4-30.3 2.9-12.4-0.5-14.7-2.2-21.3-3.4-18.1-2-14.7-5.8-27.9-5-18.1-4.7-11.4-5.2-8.2-5.6-5-9.5-4.7-14.8-5.6-14.8-4.4-13.1-3.3-16.4-3-27.9-3.4-29.6 0.2-23 2.7-19.9 3.5-22.8 6.1-18 6.5-8.4 3.8-6.8 4.9-4.5 5.6-4.5 9.2-3.6 9.8-2.7 9.9-7 32.8-2 14.7-3.6 19.7-1.7 16.4-0.9 16.4 8.8 45.9 7.7 26.3 12.8 35.9 3.2 6 5 4.3 6.5 3.6 24.7 11.4 14.7 5.2 18.1 5 11.5 2.3z"/><path fill="#baff45" d="M1165.5 890.1l15.7 0.1 14.8-0.9 13.2-1.9 13.1-3.1 16.4-5.2 14.8-5.9 16.4-8.4 8.6-5.9 4.5-5 5-8 8.2-16.6 5.9-14.6 7.6-24.6 7.2-37.8-0.5-16.4-1.8-18-6.3-36.1-5.6-20.6-4.9-14.3-5.7-12.6-5.4-8.2-5.3-5.2-6.6-4.3-11.5-5.3-13.3-4.9-14.6-4.4-14.8-3.4-11.4-2.1-19.7-2.6-19.7-0.2-9.9 0.4-19.7 2.7-18.1 3.6-16.4 4.4-16.4 5.8-13.1 6-8.2 5.7-5 5.4-4.9 8.2-4.9 11-4.9 14.3-6.7 25.5-4.7 27.9-2 18.1-0.8 19.6 8.4 42.7 6.4 19.7 5.3 13.1 8.8 18.1 6.3 9.8 5.2 4.9 8.2 5.1 14.8 7.5 14.8 5.9 14.8 4.7 13.1 3.2 13.1 2.1z"/><path fill="#c6ff39" d="M1160.7 881.9l15.6 0.6 14.8-0.7 14.8-2 13.1-2.9 14.8-4.6 14.8-5.9 14.5-7.5 9.4-6.5 7.3-7.4 6.5-9 6.6-11 5.7-12 5-13.1 3-9.8 7.1-36.1 0.1-9.9-1.8-22.9-6.6-37.7-4.3-13.9-5.5-14-6-12-6.3-9.3-5.2-5.6-6.6-4.9-8.2-4.5-11.5-4.9-13.1-4.4-13.1-3.5-16.2-3.4-15-2.2-13.2-1-18 0.3-14.8 1.8-16.4 3-16.4 4-16.4 5.4-13.2 5.7-9.8 6-6.6 5.9-5.5 7.2-6 10.6-5.4 12.3-4.4 12.3-3.1 10.7-6 34.4-1.6 18.1-0.4 14.7 6.8 36.1 4.6 14.8 6.2 15.3 6.6 12.2 8.2 12.3 6.6 7.3 6.6 5.4 9.8 5.9 13.1 6.3 13.2 5 14.7 4.4 13.2 2.8z"/><path fill="#d1ff2e" d="M1173.4 875.3l14.4-0.4 13.1-1.5 13.2-2.7 13.1-3.7 14.8-5.5 11.5-5.6 9.8-5.9 8.2-6.4 8.3-8.4 6.5-8.5 6.6-10.5 5.5-11.4 3.7-9.8 2.9-9.9 5.4-27.8 0.8-6.6-1.1-19.7-1.3-13.1-6.5-34.4-4.5-12.4-5.9-12.2-7.2-12-6.1-7.7-7.1-6.5-7.4-5-10.6-5.3-11.5-4.2-14.8-4.2-16.4-3.5-14.8-2.3-13.1-1-16.4 0.1-14.8 1.3-16.4 2.8-18.1 4.3-14.8 4.8-11.5 5-9.2 5.5-7.2 6-6.5 7.6-7.1 11-6.7 13.1-5 13.1-2 8.2-4.7 26.3-1.5 13.1-1.2 18 0.5 8.2 5 26.3 2.5 9.8 3.7 10.5 5 10.9 6.5 11.2 6.6 8.9 8.2 8.9 8.2 6.8 9.9 6.2 11.5 5.6 13.1 5.2 13.1 4 13.2 3 13.1 1.8z"/><path fill="#ddff22" d="M1169.5 868.8l15-0.1 11.5-1.1 13.2-2.3 13.1-3.5 14.8-5.3 11.5-5.3 9.8-5.7 9.9-7.2 8.2-7.5 8.2-9.5 6.5-9.7 4.5-8.4 3.9-9.9 3-9.8 5.8-29.5 0.2-6.6-2.1-26.2-2-13.1-4.4-21.4-2.8-8.2-4.4-9.2-4.9-8.3-6.6-9.2-6.6-7.5-6.5-5.8-8.2-5.4-8.3-4.1-9.8-3.9-11.5-3.4-14.8-3.2-14.8-2.4-14.7-1.2-16.4-0.2-14.8 0.8-13.2 1.8-18 3.6-14.8 4.2-13.1 5.4-9.9 5.6-8.2 6.6-8.2 9.1-6.6 9.2-7.1 12.6-3.5 8.2-1.9 6.6-4 19.7-2 13.1-2 31.1 5.8 30.7 3.6 12 4.6 10.6 6.5 11.2 6.6 8.6 8.2 8.6 9.9 8.2 9.8 6.4 13.1 6.6 14.8 5.6 14.8 4.1 14.8 2.7z"/><path fill="#e9ff16" d="M1158.9 862.2l10.9 0.7 13.1-0.1 18-1.9 11.5-2.4 11.5-3.3 11.5-4.3 9.9-4.5 9.8-5.6 8.2-5.7 9.9-8.1 6.6-6.5 6.5-8.1 4.9-7.5 3.3-6.5 3.3-8.3 3.3-11.5 4.5-23 0.5-6.5-1.5-21.4-1.7-13.1-3.8-19.7-2.9-11-3.3-7.2-6.6-10.4-6.5-8.4-6.6-7-6.6-5.8-8.2-5.6-8.2-4.3-8.2-3.3-14.8-4.3-19.7-4-11.5-1.5-13.1-0.6-16.4 0.1-14.8 0.8-16.4 2.8-16.4 3.6-11.5 3.7-9.9 4.3-8.2 4.7-8.2 6.3-8.2 8.2-8.2 10.3-6.6 10.4-3.3 7.2-3.3 12.8-3.7 19.6-1.5 13.1-1.5 21.3 0.9 6.6 5.4 26.2 3.9 11.5 4.8 9.9 8.2 11.8 8.2 8.8 11.5 9.6 11.5 7.7 13.1 6.7 14.8 5.7 16.4 4.4z"/><path fill="#f4ff0b" d="M1164.1 857.3l23.7-0.1 18.1-2.7 11.5-2.8 9.8-3.2 9.9-4 9.8-4.9 9.9-6.1 9.8-7.2 6.6-5.4 6.6-6.4 6.5-8.2 4.1-6.4 6.7-16.4 6-27.9 0.5-6.5-1.6-21.4-2-14.7-4.3-19.7-2.8-9.3-3.3-6-6.6-9-6.5-7.4-8.2-7.7-6.6-5.1-8.2-5.1-8.2-3.9-9.9-3.7-11.5-3.2-21.3-4.4-21.4-1.3-13.1 0-16.4 0.9-19.7 3.8-11.5 2.7-9.9 3.2-9.8 4.2-8.2 4.6-8.2 6-8.2 7.4-8.2 9-6.9 9.5-4 8.2-4.5 18.1-2.3 13.1-1.5 11.5-1.5 21.3 0.6 4.9 5.5 26.3 4.7 12.8 4.5 8.5 8.6 11.3 8.3 7.9 14.7 11.1 11.5 7 13.2 6.1 14.7 5.1 16.5 3.8z"/><path fill="#fffe00" d="M1164.4 852.4l16.8 0.2 9.9-0.6 13.1-2.1 13.2-3.3 11.5-3.9 11.5-5.1 9.8-5.5 11.5-7.7 8.2-6.3 6.6-6 6.5-7.4 5-7.2 4.2-9.1 3-8.2 5.6-26.2 0.2-3.3-1.4-21.3-3.4-21.8-5.8-20.9-2.8-4.9-4.6-6.1-8.2-8.8-8.2-7.2-8.2-6.1-8.2-4.9-9.8-4.5-11.5-4.1-28-6.9-8.2-0.8-14.7-0.6-13.2 0.2-14.7 1.2-18.1 4.1-11.5 3.3-11.5 4.3-9.8 4.7-9.9 6.3-9.8 8-8.3 8-6.7 8.3-3.1 4.9-1.6 4.1-4.7 17.2-1.9 10-2.1 16.3-1.1 18 0.5 4.9 4.4 21.3 1.9 6.6 6.2 14 6.4 9 6.8 7.3 9.8 8.2 13.2 9.1 13.1 7.3 11.5 4.9 13.1 4.2 14.8 3.3z"/><path fill="#fff200" d="M1160.4 847.5l11 0.6 14.8-0.3 11.5-1.3 11.5-2.3 11.4-3.3 11.5-4.4 11.5-5.7 9.9-5.9 9.8-7 8.2-6.6 8-8.1 5.2-7 4.1-7.8 3.4-8.2 5.6-24.6 0.5-4.9-1-18-3.3-21.4-6-20.3-3-5.9-3.6-4.7-6.6-6.9-8.2-7.1-8.2-5.9-9.8-5.9-9.9-4.7-13.1-5.2-13.2-4.1-11.5-2.9-9.8-1.3-13.1-0.6-14.8 0.4-11.5 1.2-9.9 2.2-14.7 4.5-13.2 5.1-11.5 5.4-9.8 5.9-9.9 7.3-8.2 7.3-6.5 7.3-3 4.3-2.2 5-4.2 13.1-2.3 9.8-2.6 18.1-1 16.4 0.2 4.9 4.6 21.3 1.9 6.6 5.3 11.5 4.9 7.4 8.2 8.9 8.2 7 13.2 9.2 11.4 6.7 11.5 5.3 11.5 4 13.2 3.4z"/><path fill="#ffe700" d="M1155.2 842.5l11.3 1.2 13.1 0.1 11.5-0.7 11.5-1.7 11.5-2.8 11.5-3.9 11.5-5.1 9.8-5.4 9.9-6.5 9.8-7.5 7.7-7 5.6-6.6 4.8-7.4 4.1-9 2.4-7.7 3.3-13.6 1.1-6.6 0-6.5-1-14.8-1.9-11.5-2.7-11.4-3.7-10.8-3.3-6.9-3.2-4.8-5.1-5.4-8.1-7.1-8.2-6-8.2-5-11.5-5.8-16.4-7.3-11.5-4.3-9.9-2.9-9.8-1.5-13.1-0.7-13.2 0.3-11.5 1.3-8.2 1.9-11.5 4-27.9 12.4-9.8 5.5-9.9 6.8-8.2 6.9-6.1 6.4-3.7 5.3-3 6.2-3.5 9.8-2.2 8.2-3.2 19.7-0.8 13.1 0.3 6.6 6 24.6 4.3 9.8 5.2 8.2 6.7 7.7 8.2 7.3 11.5 8.4 11.5 7 11.5 5.7 11.5 4.4 11.5 3.2z"/><path fill="#ffdb00" d="M1161.1 839.3l11.9 0.6 11.5-0.2 11.5-1.2 11.5-2.2 9.9-2.8 11.5-4.4 9.8-4.8 9.9-5.7 9.8-6.9 8.5-6.9 6.7-6.5 6.2-7.9 3.9-6.9 3.5-8.2 5.5-21.3 0.5-6.6-0.5-9.8-1.5-10.8-2.2-10.5-2.7-8.7-3.3-7.9-3.2-5.9-4.1-5.4-5.8-5.7-6.6-5.4-14.7-9.5-37.8-18.4-8.2-3-8.2-1.9-11.5-1.1-13.1 0-10.2 0.7-9.5 1.8-6.6 2.2-8.2 3.5-29.6 14.5-9.8 5.5-7.7 5.3-7.1 5.8-5.8 5.7-4.1 5.4-3.2 5.9-3.5 8.4-2.9 9.8-2 9.8-1.4 11.5-0.4 9.9 0.8 6.5 2.8 11.5 2.9 9.8 3 6.6 4.9 8.2 5.2 6.6 8.6 8.2 9.9 7.6 9.8 6.5 11.5 6.3 11.5 4.9 9.9 3.2 11.5 2.7z"/><path fill="#ffcf00" d="M1167.2 836l10.8 0.2 11.5-0.6 11.4-1.7 9.9-2.3 9.8-3.2 9.9-4.1 9.9-5.1 9.8-6.2 8.9-6.5 7.5-6.6 6.2-6.6 5.3-7.2 4.2-7.5 2.7-6.6 5.4-21.3 0.3-6.6-0.8-8.2-1.9-10.9-2.3-8.7-2.7-7.2-3.2-6.6-3.3-5.2-5-5.8-11.4-9.8-11.5-7.4-21.4-10.3-20.7-11.7-8.8-3.1-8.2-1.5-9.9-0.6-13.1 0.2-8.2 0.9-8.2 2-8.9 3.7-15.8 9.2-21.3 10.3-9.9 5.9-8.2 6.3-6.5 5.9-5 5.8-3.3 5.2-3.5 7.2-2.9 8.2-2.3 9.8-1.6 9.9-0.6 8.2 0.3 4.9 2.9 13.1 3.1 9.9 3 6.8 4.9 8 5.1 6.5 6.4 6.4 8.2 6.9 9.9 6.9 9.8 5.8 11.5 5.5 9.9 3.7 9.8 2.7 11.5 2.1z"/><path fill="#ffc400" d="M1174.5 832.7l11.7-0.4 9.8-1.1 8.2-1.5 9.9-2.7 9.8-3.6 9.9-4.7 9.8-5.6 8.2-5.7 8.3-6.6 6.5-6.3 5.3-6.1 5.6-8.2 3.4-6.5 2.1-5.6 5.1-20.7-0.3-6.5-1.5-9.3-4.2-15.3-2.3-5.4-3.3-5.6-8.2-9.7-9.9-8.2-8.2-5.8-6.6-3.4-19.7-8.7-19.7-13.2-9.8-3.7-9.9-1.3-19.7 0.1-6.5 0.9-6.6 1.8-6.6 3.1-18 12.3-23 10.3-9.9 6.3-13.1 11.2-4.9 5.7-4.3 6.7-3 6.6-2.6 8.2-2.1 9.8-1.3 9.8 0.2 5 3.6 14.7 2.7 8.2 3.2 6.6 5.2 8.1 4.9 6.1 5.4 5.5 7.8 6.6 8.8 6.5 9.2 5.6 9.9 4.9 9.8 4 9.9 3 9.8 2.1 9.9 1.2z"/><path fill="#ffb800" d="M1154.4 827.8l10.4 1.2 11.5 0.4 11.5-0.6 11.5-1.5 9.9-2.3 9.8-3.3 9.9-4.3 9.8-5.3 8.6-5.6 8.3-6.6 7.7-7.2 6.6-7.8 5.4-8 3.4-6.5 2.3-6.6 4-14.7 0.2-5-0.8-6.5-1.8-8.2-2.8-9.4-5-9.5-7.7-9-13.6-11.1-6.6-4.5-27.9-11.3-6.6-4.3-11-9.8-3.7-1.8-6.6-2-8.2-0.9-14.8 0-6.6 0.6-6.5 1.7-6.6 3.2-9.8 9-6.6 4.3-8.2 3.7-14.8 5.3-6.6 3.3-16.4 12.6-8.2 8.7-3.3 4.9-2.4 4.8-4.5 14.8-1.5 8.2-0.4 6.5 4.8 18.1 2.4 6.1 3.3 6.1 9.8 13.2 6.6 6.5 8.2 6.9 8.2 5.8 8.2 4.8 9.9 4.8 8.2 3.3 9.8 2.9z"/><path fill="#ffac00" d="M1171.1 826.1l10.1 0 9.9-0.8 9.8-1.5 8.3-2 8.2-2.8 9.8-4.4 9.9-5.3 8.2-5.5 8.2-6.6 7.5-7.1 5.5-6.6 5-7.2 3.4-5.9 2.7-6.6 4.3-18-0.3-4.9-1.2-6.6-4.2-13.1-4.8-8.2-8.1-8.6-11.5-8.9-6.5-4.3-6.6-2.9-18.1-5.5-6.9-2.6-7.8-4.9-6.6-6.7-4.1-3.2-4.1-1.8-6.6-1.3-16.4-0.1-8.7 1.6-6 3.3-8.2 8.2-6.6 4.3-6.6 2.7-21.4 6.6-4.9 2.3-4.9 3.1-14.8 11.6-4.9 5.2-3.3 4.4-3 5.7-2.4 6.5-2.2 8.2-1 6.6 0.1 4.9 3.2 13.1 2 6.4 2.4 5.1 4.1 6.6 6.1 8.2 6.2 6.5 7.4 6.6 8.3 6.2 8.2 5.1 8.2 4.2 9.9 4.2 8.2 2.6 8.2 1.9 9.8 1.4z"/><path fill="#ffa100" d="M1166 822.9l13.6 0.2 14.8-1.2 13.1-2.8 11.5-4.1 13.1-6.5 11.5-7.5 11-9.3 8.8-9.8 6.7-9.9 3.9-8.2 3.3-13.1 0.9-8.2-2.4-11.5-4.3-10.2-5.6-7.8-9.1-8.2-11.5-7.8-8.2-3.8-31.2-7.8-21.4-8.1-4.9-1-6.6-0.1-8.2 1.6-21.3 8.1-23 5.4-9.9 3.2-6.5 3.5-9.9 6.8-6.5 5.6-5 5.5-3.4 5.3-3.6 8.2-2.5 9.8-0.3 6.6 2.2 11.5 2.6 8.2 4.2 8.2 5.8 8.3 7 8.1 9.1 8.2 8.5 6.2 9.8 5.8 11.5 5.4 9.9 3.4 11.5 2.5z"/><path fill="#ff9500" d="M1161.5 819.6l13.2 0.7 14.8-0.7 11.4-1.8 11.5-3.4 13.2-5.8 11.5-6.7 9.8-7.5 9.5-9.3 7.6-9.8 5.6-9.8 3.3-9.9 1.5-9.8-0.8-8.2-3.7-10.9-4.9-8.2-6.6-6.9-8.2-6.3-8.2-4.9-6.6-2.7-8.2-2.2-19.7-2.9-11.5-1.1-37.7-0.1-9.9 0.6-18 2.4-8.3 1.5-6.5 1.8-6.6 2.7-8.2 4.9-6.6 4.9-6.3 6.1-4.8 6.5-3.2 6.6-2.5 8.2-0.8 6.5 0.9 8.2 2.6 9.9 2.9 6.5 5.1 8.2 6.5 8.2 7.8 7.9 8.7 6.9 9.4 6.1 9.9 5 9.8 4 9.9 2.8z"/><path fill="#ff8900" d="M1157.6 816.3l13.8 1.1 13.1-0.2 11.5-1.3 11.5-2.8 11.5-4.5 11.5-6 9.9-6.8 9.8-8.6 8.2-9.6 6.6-10.5 3.5-8.2 2-9.8-0.3-8.2-2.9-9.9-4.3-8.2-5.5-6.5-5.7-4.9-6.5-4.4-6.6-3.4-4.9-2-11.5-2.5-24.6-1.9-21.4 0.5-26.2-0.4-24.7 2.3-8.2 2-8.2 3.6-8.2 5.1-7.3 6-5.5 6.5-3.6 6.6-2.9 8.2-1 6.5 0.2 6.6 1.8 8.2 2.7 6.6 4.7 8.2 6 8.1 6.2 6.6 8.5 7.4 8.3 5.8 9.8 5.5 9.9 4.3 9.8 3.1z"/><path fill="#ff7e00" d="M1169.4 814.7l13.5-0.1 11.5-1.2 9.8-2.1 9.9-3.5 11.5-5.7 9.8-6.2 9.2-7.5 7.8-8.2 5.9-8.2 5.3-9.8 2.7-8.2 0.6-6.6-1.2-8.2-3.7-9.8-4-6.6-6.2-6.4-6.9-5.1-7.8-4.2-6.6-2.4-6.6-1.4-23-2-24.6 0.6-26.2-0.6-23 2-9.9 2.4-6.6 3-6.5 4-4.9 3.7-4.9 4.8-4.5 6.5-2.9 6.6-2.3 8.2-0.5 6.6 1 6.5 2.3 6.6 4.3 8.2 5.8 8.5 7.2 7.9 7.6 6.6 9.3 6.5 10.4 5.7 8.2 3.5 9.9 3 9.8 1.8z"/><path fill="#ff7200" d="M1161 811.4l10.4 0.7 13.1-0.2 11.5-1.4 9.9-2.5 9.8-3.8 11.5-6.2 8.2-5.6 8.5-7.3 6.3-7 5.4-7.7 5.1-9.9 2.4-8.2 0-6.5-2.7-9.9-3.7-8.2-5.1-6.5-4.7-4-6.3-4.2-10.1-4.7-9.9-2-21.3-1.7-23 0.5-26.2-0.5-23 2.2-6.6 1.5-6.6 2.7-8.2 5-6.3 5.2-4.1 4.9-3.5 6.6-2.9 8.2-1.2 6.5 0.2 4.9 1.8 6.6 3.8 8.2 4 6.6 5 6.5 6.4 6.6 7.9 6.5 7.3 5 9.5 5.1 8.2 3.5 9.9 2.9z"/><path fill="#ff6600" d="M1156 808.1l10.5 1.2 13.1 0.3 11.5-0.9 9.8-1.9 9.9-3.3 9.8-4.8 9-5.4 9.1-7.2 7.4-7.5 6-8.2 5.1-9.9 2.4-8.2-0.1-6.5-3.1-9.9-3-6.5-3.5-4.9-4.6-4.3-4.9-3.4-5-2.9-6-2.6-8.8-1.9-21.3-2-11.5 0.4-37.7-0.4-21.4 2.3-6.6 1.5-4.9 1.9-6.6 3.7-6.5 4.8-4.3 4.5-3.1 4.9-3.9 9.9-1.5 6.5 0.1 4.9 1.2 5 5.3 11.4 4.4 6.6 5.6 6.6 6 5.6 8.2 6.3 9.9 5.8 8.2 3.9 8.2 2.8z"/><path fill="#ff5b00" d="M1162.1 806.5l10.9 0.6 11.5-0.3 9.9-1.1 8.2-2 9.8-3.6 9.9-5.2 7.4-4.8 7.9-6.6 6.2-6.6 5.8-8.2 4.9-9.8 1.7-6.6-0.2-6.5-2-6.6-3.6-8.2-3.6-4.9-3.5-3.3-6.2-4.4-5-2.7-4.9-1.9-8.2-1.8-21.3-2.2-46 0.1-21.3 2.4-6.6 1.5-6.1 2.5-7.1 4.3-4.7 3.9-4.3 4.9-2.7 4.9-3 8.2-1.3 6.6 0.4 4.9 1.5 4.9 3 6.6 4 6.5 5.1 6.6 5.3 5.4 7.4 6.1 7.4 4.8 8.2 4.4 8.2 3.4 8.2 2.3z"/><path fill="#ff4f00" d="M1156.5 803.2l10 1.2 11.5 0.3 9.8-0.6 9.9-1.6 9.8-3.1 8.2-3.7 8.2-4.7 7.9-5.9 6.9-6.5 6.5-8.2 4.6-8.2 2.5-6.6 0.7-4.9-0.8-6.6-2.9-8.2-4-6.5-3.3-3.6-4.9-3.9-5-2.9-4.9-2.2-9.8-2.4-19.7-2.3-44.4 0-9.8 0.9-13.1 2-6.6 1.8-6.6 3.1-6.6 4.6-4.9 4.9-3.2 4.9-2.8 6.6-1.6 6.5-0.1 3.3 0.7 4.9 1.7 4.9 3.4 6.6 4.4 6.6 4.1 4.9 6.6 6.2 6.5 5.1 8.2 4.9 8.2 4 6.6 2.3z"/><path fill="#ff4300" d="M1161.7 801.5l9.7 0.7 11.5-0.1 8.2-0.8 8.2-1.8 8.6-2.9 9.5-4.6 8.2-5.2 6-4.9 6.4-6.6 4.9-6.6 4.5-8.2 2.1-6.5 0.3-4.9-1.3-6.6-3.2-7.5-4.1-5.6-8-6.6-9.3-4.3-16.4-3.2-13.1-1.2-39.4 0-13.2 1.4-9.8 1.7-7.7 2.3-6.5 3.3-5.5 4.1-3.9 4.1-3.2 4.9-2.7 6.6-1.1 4.9-0.1 4.9 1.1 5 2 4.9 3.7 6.5 4.9 6.6 4.6 4.9 6.2 5.4 6.6 4.5 8.2 4.5 8.2 3.4 8.2 2.4z"/><path fill="#ff3800" d="M1156.7 798.3l8.1 1.1 11.5 0.4 9.9-0.4 8.2-1.2 8.2-2.2 8.2-3.4 8.2-4.4 6.6-4.6 7.3-6.7 5.4-6.5 5.1-8.2 2.6-6.6 0.7-4.9-0.9-6.6-2.6-6.5-3.2-4.9-7-6.6-9.1-4.8-11.5-2.9-16.4-2.2-37.7-0.1-11.5 0.9-11.5 2-7.8 2.2-7 3.2-4.7 3.3-3.5 3.4-3.6 4.8-2.3 5-1.6 4.9-0.5 4.9 0.3 3.3 1.5 4.9 2.9 5.7 4.9 7.4 4.2 4.9 5.2 5 5.4 4.2 6.4 4 6.7 3.3 8.3 3.1z"/><path fill="#ff2c00" d="M1161.4 796.6l8.4 0.7 13.1-0.1 6.6-0.6 6.5-1.3 8.2-2.6 8.2-3.7 6.8-3.9 6.4-4.8 5.2-5 5.2-6.6 4.8-8.2 2.5-6.5 0.2-4.9-1.1-5-2-5.2-3.3-5.1-6.6-6.1-4.9-2.8-5-2-14.7-3.4-13.2-1.5-31.2-0.1-13.1 1-11.5 2.2-6.5 1.8-6.6 2.8-5.5 3.7-3.4 3.3-3.5 4.9-2.4 5.2-1.5 6.3 0 3.2 1.2 5 5.2 9.8 3.5 4.9 4.7 5.3 5.2 4.6 6.3 4.4 7 3.8 7.8 3.2z"/><path fill="#ff2000" d="M1157.5 793.3l5.7 1 8.2 0.5 13.1-0.2 6.6-0.8 8.2-2 6.6-2.5 8.2-4.1 5.2-3.3 6.3-5.2 5.7-6.3 4.3-6.6 4-8.2 0.8-3.3-0.5-4.9-2.2-6.5-2.9-5-5.9-5.8-8.3-4.4-14.7-4-13.2-1.7-29.5-0.2-11.5 0.8-18.1 3.9-6.5 2.6-5 3-4.6 4.2-2.5 3.3-2.4 4.9-1.8 6.6-0.2 3.2 0.8 3.3 4 8.2 7 9.9 9.6 8.4 4.9 3.1 8.2 4.1z"/><path fill="#ff1500" d="M1162.7 791.7l20.2 0.4 9.8-1.2 6.6-1.9 6.6-2.6 8.2-4.3 4.9-3.5 5.6-4.9 4.3-5 4-6.5 3.6-8.2 0.4-3.3-1.1-4.9-1.8-4.9-1.9-3.3-2.9-3.3-3.6-2.9-8.2-4.1-16.5-4.2-11.4-1.3-26.3 0-11.5 0.9-16.4 4-6.6 2.7-4.9 3.2-3.6 3.3-3 4.4-1.5 3.8-1.6 6.6 0.4 3.3 1.2 3.3 5.3 9.8 6.1 7.2 9.8 7.8 13.2 6.3z"/><path fill="#ff0900" d="M1159.6 788.4l10.2 1.1 13.1-0.1 6.6-0.6 6.5-1.6 5.8-2.1 12.3-6.5 6.2-4.9 4.7-5 3.5-4.9 3.2-6.5 1.2-5-0.1-3.2-1.2-5-2.5-4.9-5.2-5.2-8.2-4.3-14.8-4.2-11.4-1.6-26.3-0.1-9.9 1-16.4 4.3-4.9 2-4.9 2.9-3.9 3.6-2.3 3.3-1.5 3.2-1.2 5-0.1 3.2 0.6 3.3 3.8 8.2 6.2 7.9 8.2 6.9 11.5 6.2z"/><path fill="#fc0000" d="M1157.8 785.1l10.3 1.5 19.7-0.4 5.4-1.1 6.1-2 11.5-6.2 4.9-3.6 5-4.6 3.9-4.9 2.7-4.9 1.6-4.9 0.1-4.9-1.3-5-1.9-3.2-5.2-5.1-8.2-4.2-13.1-4-11.5-1.7-23 0-8.2 0.7-16.5 4.4-4.8 2-4.9 2.8-5.2 5.1-1.9 3.2-1 3.3-0.2 6.6 0.9 3.3 2.3 4.9 5.1 6.6 8.2 7 9.8 5.8z"/><path fill="#f10000" d="M1164 783.5l18.9 0.3 8.2-1 8.2-3 10.3-6.1 9.5-8.2 3.2-4.4 1.8-3.8 1.1-5-0.1-3.2-0.9-3.3-1.8-3.3-5-4.8-6.6-3.4-14.8-4.9-9.8-1.4-19.7 0-8.2 0.7-14.8 4.3-9.9 4.7-5 4.8-1.8 3.3-0.9 3.3-0.1 3.2 0.5 3.3 3.1 6.6 5.9 6.6 11.1 8.1 8.6 4.4z"/><path fill="#e50000" d="M1161.3 780.2l6.8 0.8 18.1-0.2 6.5-1.4 6.6-3 12.7-9.3 6.3-6.6 2.3-4.8 0.6-3.4-0.2-3.2-1.3-3.3-4-4.6-6.5-3.9-13.2-5.2-9.8-1.9-19.7-0.1-6.6 0.7-11 3.5-10.8 4.9-4.5 3.5-3.1 4.7-0.7 4.9 0.5 3.3 1.4 3.3 5.2 6.4 10.5 8.4 7.6 4.4z"/><path fill="#d90000" d="M1159.8 776.9l6.7 1.3 18 0 5-0.7 5.6-2.2 9.1-6.6 10.3-9.8 1.9-3.3 0.7-3.3-1.3-4.9-3.4-3.6-7.4-4.6-10.6-4.9-6.6-1.7-24.6 0-6.6 1.7-10.6 4.9-7.4 4.6-3.3 3.6-1.2 3.3 0.5 4.9 3.3 4.9 8.9 8.2 6.5 5.1z"/><path fill="#ce0000" d="M1164.3 775.3l20.2 0.3 5-0.9 3.2-1.3 3.3-2 4.9-4.3 9.9-10.6 1.5-2.5-0.1-3.3-2.6-3.3-6.1-4.9-9.1-5.3-4.9-1.9-6.6-0.8-16.4 0.1-5 0.7-5.6 2.3-8.4 4.9-6.1 4.9-2.6 3.3-0.1 3.3 2.2 3.3 7.5 8.2 5.3 4.9 4.6 3z"/><path fill="#c20000" d="M1161.9 772l6.2 1.1 14.8 0 4.9-0.7 3.3-1.2 4.9-3.4 5.2-5.6 4.5-8.2-0.3-3.3-2.1-3.3-3.3-3.3-7.3-4.9-4.9-1.9-4.9-0.6-14.8 0-4.9 0.6-4.9 1.9-7.3 4.9-3.3 3.3-2.1 3.3-0.3 3.3 3.4 6.5 3.9 5 4 3.7z"/><path fill="#b60000" d="M1165.4 770.4l4.4 0.4 13.1 0 4.9-1 3.3-1.5 5.3-4.5 3.3-4.9 1.5-4.9-1.2-4.9-2.6-3.3-4.7-3.7-3.2-1.7-5-1.3-18 0-5 1.3-3.2 1.7-4.7 3.7-2.6 3.3-1.1 3.2 0.2 3.3 2.1 4.9 4 5 4.5 3.2z"/><path fill="#ab0000" d="M1163.1 767.1l5 1.3 6.6 0.3 8.2-0.3 5-1.3 4.8-3.1 3.3-4.1 1.7-4.3-0.5-4.9-2.1-3.3-2.4-2.2-3.2-2.1-5-1.7-4.9-0.5-9.8 0.1-5 0.8-3.3 1.3-5.6 4.3-2.1 3.3-0.6 3.3 1.2 4.9 2.1 3.3 3.4 3.1z"/><path fill="#9f0000" d="M1165.8 765.5l5.6 0.9 8.2 0 4.9-0.8 3.3-1.2 3.3-2.3 2.5-3.2 1.2-4.9-0.9-3.3-1.2-1.8-3.2-2.9-3.3-1.6-3.3-0.9-11.5-0.4-4.9 0.7-3.3 1.3-5.1 4-1.7 3.2-0.2 3.3 1.2 3.3 2.5 3.2 3.3 2.3z"/><path fill="#930000" d="M1170.2 763.8l6.1 0.4 4.9-0.4 3.3-0.9 3.3-1.6 2.6-2.4 1.4-3.3-0.3-3.3-1-1.6-4.3-3.5-6.6-1.7-9.8 0.2-3.3 0.9-3.3 1.6-2.7 2.5-1 1.6-0.3 3.3 0.4 1.7 3.6 4 3.3 1.6z"/><path fill="#880000" d="M1168.9 760.5l7.4 0.9 6.6-1.1 2.8-1.4 1.8-1.6 0.9-1.7-0.1-1.6-0.8-1.7-1.8-1.6-4.5-2-6.5-0.6-6.1 1-3.3 1.6-1.8 1.6-0.8 1.7-0.1 1.6 2.2 2.9z"/><path fill="#800000" d="M1171.1 755.6l1.9 1.1 3.3 0.5 3.6-1.6 0-1.6-1.9-1.2-3.3-0.4-3.6 1.6z"/><path fill="#74ff8b" d="M1032.3 1011.5l2.8 1.1 3.3-1.3 3.3-4 3.3-7.3 3.8-13.1 3-14.8 1.8-13.1 0.4-9.9-0.4-9.8-1.6-11.5-2.7-13.1-3.2-11.5-3.7-9.8-4-7.7-3.3-3.8-3.3-1.5-3.2 1-3.3 3.6-2.7 5.1-3 8.2-2.4 13.1-0.9 19.7 1.4 29.5 3.2 23 2.4 9.8 2.7 8.2 2.6 5.4zM1312.8 1011.5l3.1 1.1 3.3-1.5 3.2-4.1 3.8-8.7 3.2-11.4 2.1-11.5 1.7-13.1 1.1-16.4 0.3-24.6-2-18.1-2.8-9.8-3-6.6-2.2-3.3-2.2-2.1-3.2-1-3.3 1.5-3.3 3.8-3.3 6-3.3 8.2-3 9.9-2.8 11.5-2 11.4-1.1 11.5 0 9.9 0.8 9.8 4.3 23 2.7 9.8 2.8 7.5 2.2 4zM1128.9 571.9l37.6 0.6 50.9-0.4 42.7-1.6 29.5-2.1 13.1-2.5 9.4-3.8 3.8-2.7 3.3-3.4 4.9-8.4 6.8-19.9 2.5-13.2-0.1-11.4-3.5-24.6-0.2-16.4 1-13.3 3.4-22.8 3.3-18.1 0.3-8.2-0.5-6.5-4.8-22.6-7.3-54.5-3.2-14.8-27.3-61.3-4.9-7.3-3.3-2.9-3.3-1.8-8.2-2.5-14.7-2.7-24.7-3.2-18-1.6-24.7-1.2-29.5-0.1-36.1 1.8-36.2 4.3-13.1 2.4-8.2 2.2-4.9 2.4-3.3 2.9-3.3 4.5-4.9 9.7-11.5 27-10.7 22.5-2.7 8.2-2.5 13.1-7 52.5-5 24-0.4 7.2 0.4 6.9 3.3 17.9 3.3 22.7 0.8 9.9-0.1 21.3-3 19.7-0.7 8.2 0.4 8.2 1.4 8.2 5.7 18 4.4 9.9 5.2 6.5 3.9 3 3.7 1.9 9.4 3 14.8 2.2 27.9 1.8z"/><path fill="#68ff97" d="M1033 975.4l2.1 1.1 1.7-0.5 3.1-3.9 1.8-4.4 2.7-12 1-14.8-0.8-14.7-2.9-14.8-3.3-8.1-1.6-2.3-1.7-1.3-1.6-0.4-1.7 0.6-1.6 1.7-1.6 3.1-1.6 5.1-1.6 9.8-0.7 13.1 0.6 13.6 1.6 12.9 3.1 11.3zM1313.5 975.4l2.4 1.1 1.6-0.7 1.7-1.7 1.8-3.6 3.1-11.5 1.9-16.4 0.1-16.4-1.7-14.8-1.9-6.5-1.7-3.3-1.6-1.7-1.7-0.6-1.6 0.4-1.7 1.3-1.6 2.3-2.7 6.5-2.8 11.5-1.4 13.1 0.1 13.1 1.7 13.1 2.9 9.9zM1160.2 568.7l30.9 0 36.1-2.2 29.6-3.4 26.2-4.8 11.5-3.9 5-2.7 3.6-2.7 3.3-3.3 3.6-4.9 2.7-4.9 2.6-6.6 2.6-9.8 1.5-9.9 1.4-34.4 2.2-23 3.1-18 2.7-21.3 0.9-11.5-0.4-6.6-3.6-15.7-4.1-25.3-6.6-32.8-7.7-31.1-4.2-13.2-5.3-11.2-3.3-5.3-3.3-4-6.5-5.2-11.5-5-16.4-5.1-18.1-4.3-18.1-3.4-16.4-2-18-1-21.4 0-18 1-16.4 2-18.1 3.4-19.7 4.8-16.4 5.2-9.9 4.4-4.9 3.6-4.9 5.6-5 8.4-4.8 11.4-3.8 13.1-7.3 29.6-6.2 31.1-4.1 25.3-3 12.4-1 6.6 1.1 16.4 2.5 19.7 3.1 18 2.2 23 1.6 36.1 2 11.4 3.1 9.9 4.8 9.3 6.2 7.1 7.5 4.9 9.3 3.6 18 3.8 26.3 3.8 23 2.1z"/><path fill="#5cffa3" d="M1149.2 563.7l14 1 23 0.1 24.6-1.8 26.3-3.4 27.9-6.2 18-5.5 5-2.2 5.4-3.3 4.4-4 3.3-4.2 3.3-6 2.6-7.1 3-11.5 2-11.5 6.2-47.5 3.3-18.1 3-31.1-0.3-6.6-2.9-11.5-5-29.5-16.9-65.6-2.2-6.5-2.7-5.2-4.9-5.8-6.6-4.6-18-8-14.8-5.4-14.8-4.4-14.8-3.5-11.4-2.1-11.5-1.3-14.8-0.7-18.1 0.1-13.1 0.8-13.1 1.6-16.5 3.4-19.7 5.5-13.1 4.7-18.1 7.7-6.5 3.6-4.9 4.2-4.4 6.1-2.8 6.5-11.5 42.7-6.4 26.2-4.7 27.9-2.9 11.5-0.7 4.9 1 16.4 2.3 19.7 3.1 16.4 7 52.5 2.3 11.4 2.4 8.2 3.8 8.8 4.9 6.9 6.6 5.5 8.2 4 19.7 6 21.3 4.8 21.4 3.2z"/><path fill="#51ffae" d="M1148.5 558.8l14.7 1.5 24.6 0 26.3-2.9 18-3.1 14.8-3.7 14.8-4.4 16.4-6.2 5.1-2.5 5-3.3 3.4-3.3 3.5-4.9 3.3-6.5 3.1-8.2 5.4-19.7 5.4-26.3 2-14.7 3.1-16.4 2.2-19.7 0.9-16.4-8.8-45.9-7.3-25-12.6-35.7-2.2-5-2.3-3.2-3.8-3.3-5.4-3.1-19.7-9.4-9.8-4-16.5-5.5-16.4-4.3-18-2.8-18.1-0.9-19.7 0.4-18.1 2.1-18 4.1-19.7 6.2-13.2 5.5-21.3 10.4-5.9 4.6-3.9 6.7-13.3 37.6-8.3 29.5-4.7 27-2.9 12.4 1.1 21.3 1.9 16.4 3.1 16.4 1.7 13.1 5.4 26.2 5.2 19.7 6 14.8 4.4 6.5 5.3 4.7 6.5 3.6 13.2 5.2 14.8 4.8 17.8 4.7 18.3 3.3z"/><path fill="#45ffba" d="M1153.2 553.9l11.6 1.2 21.4 0 11.5-1.2 18-2.7 16.4-3.5 16.5-4.8 14.7-5.4 13.2-6.3 5.2-3.5 4.6-4.5 3.9-5.4 4.3-8.2 7.5-19.7 7.4-27.8 5.4-32.8 1.6-16.4 0.5-16.4-6.5-34.5-2.4-9.8-7.7-23-9.1-20-4.9-9.3-4.9-7.1-4.9-4.6-6.6-4.2-14.8-7.6-13.1-5.5-16.4-5.4-16.4-4.1-16.5-2.2-18-0.7-16.4 0.7-16.5 2.2-16.4 4.1-18 6-14.8 6.5-14.8 7.9-6.6 5.2-4.3 5.3-5.5 9.6-5.8 11.7-5.7 13.6-5.9 17.6-2.7 9.8-2.3 11.5-5 27.9 0.8 16.4 2.1 19.7 5 29.5 5.6 21.3 6.1 18.1 7.2 14.7 5 6.6 5.7 4.9 8 4.5 11.4 5 14.8 5.2 14.8 4.1 16.4 3.4z"/><path fill="#39ffc6" d="M1152 547.3l14.5 1.5 16.4 0 11.5-0.9 14.8-2.2 18-3.8 14.8-4.1 14.8-5.4 11.5-5.4 6.5-4.2 5-4.3 4.9-5.7 4.9-7.6 4.9-9.6 4.5-10.6 4.5-13.1 2.7-9.8 5.8-34.5 1.5-18 0.3-13.1-5-27.9-2.6-11.5-5.6-16.4-6.1-13.7-6.5-11.6-7.6-10.8-6-6.5-7.8-6-11.5-6.6-14.7-6.6-14.8-5.1-16.4-4.2-14.8-2.3-14.8-0.9-16.4 0.3-14.8 1.7-14.8 3.1-16.4 5-14.8 5.9-13.1 6.6-8.2 5.4-6.6 5.7-6.5 7.9-6.6 10.1-6 11.1-5 11.5-4.6 13.1-3.3 13.1-5.4 31.2 0.8 18 2 18.1 4.6 26.2 3 11.5 7.3 20 8.2 16 5 7 6.5 6.6 6.6 4.5 9.8 5 13.2 5.2 14.8 4.5 16.4 3.8z"/><path fill="#2effd1" d="M1157 540.8l14.4 0.8 14.8-0.2 14.7-1.5 14.8-2.5 16.4-3.8 14.8-4.7 11.5-4.8 9.9-5.6 6.5-5.1 6.6-7.1 6.6-9.4 6.5-12 5-11.3 2.8-8.3 5.2-26.2 2.8-23 0.9-16.4-0.5-6.5-5-26.3-3.1-11.4-5.6-14.8-7.4-13.6-6.6-9.4-8.2-9.4-7.9-7-8.5-5.7-13.1-6.8-13.2-5.3-14.7-4.6-14.8-3.3-14.8-1.7-14.8-0.4-14.7 0.8-14.8 2.3-16.4 4.2-14.8 5.2-14.8 6.9-11.5 7-8.2 6.8-8.2 8.9-8.2 11.5-5.8 10.3-5 11.5-3.7 11.5-6.6 32.8-0.5 8.2 1.8 24.6 1.9 13.1 4.8 24.6 3.2 9.9 5.9 13.1 5.6 10.2 6.6 9.4 6.6 7.1 6.5 5.1 8.2 4.8 9.9 4.4 13.1 4.5 13.2 3.4 16.4 3.3z"/><path fill="#22ffdd" d="M1148.8 532.6l12.7 1.2 13.2 0.3 14.8-0.3 11.4-1.1 14.8-2.4 14.8-3.2 11.5-3.4 11.5-4.6 8.2-4.3 6.6-4.5 6.3-5.6 5.2-5.7 6.5-8.7 4.9-7.9 5-9.4 3.5-9.3 4.2-19.7 2.1-13.1 1.3-11.5 1.3-21.3-0.8-6.6-5.1-25.7-3.1-10.3-3.4-8.8-5.8-10.9-7.4-10.4-8.2-9-8.2-7.2-9.8-7-11.5-6.3-13.2-5.6-13.1-4.3-13.1-3.2-13.2-2-14.7-0.8-14.8 0.3-13.1 1.6-14.8 3.2-13.2 4-13.1 5.3-11.5 5.8-9.8 6.4-8.2 6.7-8.3 8.2-6.5 8.2-6.6 10.4-4.9 10.4-3.9 11.5-2 8.2-4.8 26.3 1.3 24.6 2.4 18 4.7 23 3.5 9.8 5.4 10.5 6.5 10.2 8.2 10.2 8.2 7.5 8.2 5.4 11.5 5.5 13.2 4.5 16.4 3.9z"/><path fill="#16ffe9" d="M1148.9 526l24.1 1.3 26.3-0.9 27.9-5.2 9.9-2.6 9.8-3.6 8.2-3.8 6.6-3.9 6.6-4.9 6.5-6.1 6.6-7.4 6.6-8.8 5-8.2 3.6-8.2 4.5-19.3 2.1-11.9 1.5-13.1 1.5-21.3-0.6-4.9-5.2-26.3-5.8-16.4-5-9.3-6.6-9.1-6.5-7.2-8.2-7.4-9.9-7.4-9.8-6-11.5-5.6-13.2-4.9-14.7-4.1-13.2-2.4-11.5-1.1-16.4 0-11.5 0.8-13.1 2.4-13.1 3.4-13.2 4.6-11.5 5.2-11.5 6.7-9.8 7.1-9.9 8.7-6.9 7.6-6.9 9.8-4.3 8.2-4.3 11.5-2.2 8.2-4.2 21.3-0.8 8.2 1.7 23 2.9 19.7 4.9 21.3 2.1 5.1 3.3 6.1 8.2 12 8.2 9.4 8.2 7.4 9.8 6.6 9.9 4.7 13.1 4.5 11.5 2.8z"/><path fill="#0bfff4" d="M1156.5 521.1l24.7 0.5 21.4-1.3 29.5-6.6 11.5-4 9.9-4.6 8.2-5.1 8.2-6.6 8.2-8 8.2-9.9 4.6-6.9 2.4-4.9 5.1-19.7 3.6-22.9 1.6-24.6-6-29.6-4.2-11.4-4-8.2-6.4-9.1-8.2-8.8-9.8-8.2-11.5-8.1-9.9-5.6-11.5-5.3-13.1-4.6-13.1-3.3-11.5-2.1-9.9-0.8-16.4-0.1-11.5 0.9-11.5 2.1-13.1 3.3-11.5 4-11.5 5-9.8 5.5-9.9 6.7-9.8 7.6-8.3 7.9-6.5 8.2-4.9 8-4.8 11.5-2.5 8.2-5.1 26.3 1.6 24.6 2.9 19.6 4.2 18.1 2.3 6.5 4.6 7.9 8.2 10.4 8.3 8.4 9.8 8 9.9 6 11.4 5 13.2 4.1 23 4.9z"/><path fill="#00feff" d="M1154.9 516.2l24.7 0.8 19.7-1.2 24.6-5.6 18.1-6.3 8.2-3.8 8.2-4.9 6.6-4.8 8.2-6.9 6.6-6.6 6.5-8 3.3-5.2 2.4-6.6 4.2-15.9 2.1-11.9 1.3-9.9 1.4-21.3-0.5-4.9-4.8-23-2.2-6.5-3.9-9.3-4.2-7.1-7.3-8.9-6.6-6.3-9.8-7.7-11.5-7.7-9.8-5.5-11.5-5.1-11.5-3.9-13.2-3.3-13.1-2.1-9.9-0.6-16.4 0.2-11.5 1.3-13.1 2.7-11.5 3.3-9.8 3.7-9.9 4.6-11.5 6.7-13.1 9.4-8.2 6.9-6.6 7.1-6.2 8.4-3.9 8.2-3.7 9.9-5.8 27.9 1.2 21.3 1.7 13.1 2.6 13.1 4.5 16.4 3.4 6.6 6.2 8 9.9 9.9 9.8 8 11 6.9 10.6 4.9 12.9 4.5 21.3 5.4z"/><path fill="#00f2ff" d="M1169.7 512.9l13.2 0 13.1-1 8.2-1.5 11.5-3.1 14.8-5 13.1-5.6 9.9-5.2 9.8-6.6 8.2-6.7 6.6-6.2 4.9-5.6 3.8-6 2.8-7.2 3.7-12.5 2.3-11.4 1.6-11.5 1.1-21.3-5.2-24.6-2.8-8.2-4-8.3-3.3-5.3-5-6.1-8.1-7.9-9.8-7.6-11.5-7.7-11.5-6.2-11.5-5-11.5-3.7-13.2-3-11.4-1.7-13.2-0.5-13.1 0.4-11.5 1.5-13.1 2.9-11.5 3.5-11.5 4.8-11.5 6-11.5 7.5-9.9 7.4-6.5 5.9-6 6.7-4.6 6.5-4.2 8.3-3.1 8.1-5.6 26.3 1.5 24.6 2.1 13.1 2.3 9.8 3.6 11.5 2.5 5.9 3.7 5.6 6.1 6.7 9.9 8.7 9.8 7 9.9 5.7 11.5 5.2 14.8 5.5 16.4 4.6 9.8 1.7z"/><path fill="#00e7ff" d="M1155.5 508l9.3 0.9 13.2 0.3 11.5-0.5 9.8-1.4 8.2-2.1 9.9-3.5 24.6-10.8 9.8-5.2 8.3-5.2 8.2-6.1 8.2-7.5 4.1-4.8 3.1-5 5.9-15 2.8-11.2 2-11.5 1-11.5 0.2-11.4-5.6-24.6-2.5-6.6-3.3-6.6-4.4-6.8-6.6-7.4-6.6-5.9-9.8-7.5-9.9-6.5-9.8-5.4-9.9-4.5-11.5-4-11.5-2.9-11.5-1.9-11.5-0.9-13.1 0.1-9.8 0.8-11.5 1.9-11.5 2.9-9.9 3.4-11.5 5.1-11.5 6.4-11.5 7.8-9.8 8-6.6 6.6-5.7 7.5-4.5 8.2-3.3 8.2-5.6 24.6 0.7 18 1.8 13.1 3.1 13.1 4.7 13.2 3.9 7.1 5 6 8.1 7.4 9.9 7.3 9.8 5.9 15 7.3 16.2 6.8 11.5 4z"/><path fill="#00dbff" d="M1159.6 504.7l10.2 0.7 13.1 0 9.8-0.9 8.2-1.6 12.8-4.8 34.9-17.1 14.7-9.5 7.5-6.2 5.7-5.8 3.3-4.5 3.2-5.9 3.3-7.9 2.2-7 2.3-9.9 1.5-9.8 0.9-11.5-0.3-6.5-2.9-13.2-2.8-9.8-2.6-6.6-4.6-8.2-5.2-6.8-6.5-6.7-8.2-6.9-9.9-7-9.8-6-9.9-4.9-9.9-4-9.8-3-11.5-2.6-11.5-1.4-11.5-0.5-13.1 0.5-9.9 1.1-11.5 2.4-11.4 3.5-9.9 4-11.5 5.9-10 6.2-11.1 8.2-8.4 7.7-6.2 7.1-5.2 8.2-3.4 7.3-2.9 9.1-3.9 18 0.1 9.8 1.3 11.5 2.3 11.5 3.1 10.3 4.9 11 4.3 6.6 5.6 5.8 6.5 5.6 8.2 5.9 8.2 4.9 38.6 18.8 9.1 3.1z"/><path fill="#00cfff" d="M1164.8 501.4l21.4 0 8.2-1.1 6.5-1.7 8.9-3.7 17.4-10.1 18.1-8.6 8.2-4.6 6.7-4.6 8.1-6.6 8.2-8.9 3.3-5.2 3.5-7.2 2.9-8.2 2-8.2 2.5-18-0.1-5-0.8-4.9-3.2-13.1-2.8-8.2-4-8.1-5.7-8.3-5.8-6.6-7.2-6.5-9.3-7.1-9.8-6.4-9.9-5.2-9.8-4.3-9.9-3.4-9.8-2.4-11.5-1.8-13.1-0.8-13.2 0.4-11.5 1.3-11.5 2.4-9.8 3.1-11.5 4.7-9.9 5.1-9.8 6.2-9.9 7.3-8.2 7.4-6.5 7.5-5 7.4-4 8.1-2.8 8.2-3.2 13.1-0.9 6.6 0.4 8.2 1.8 11.5 2.3 9.8 2.9 8.2 3.5 7.2 3.3 5.2 5 5.8 9.8 8.6 9.9 6.8 24.6 12.1 17.4 10.1 10.5 4.2 6.6 1.5z"/><path fill="#00c4ff" d="M1158.1 496.5l11.7 1.2 16.4-0.3 9.8-1.7 8.2-3.2 18.1-12.3 24.6-11.2 6.2-3.7 7-5.2 8.2-6.9 6.5-7.4 5-7.9 3.4-8.6 3.9-16.4 1-8.2-0.2-5-5.1-19.6-2.7-6.6-3.6-6.6-5-6.9-5.3-6.2-7-6.5-9-7.1-8.2-5.5-8.2-4.6-9.9-4.7-9.8-3.6-11.5-3.1-9.9-1.6-11.5-0.9-11.4 0-11.5 0.9-9.9 1.6-9.8 2.6-9.9 3.5-11.5 5.3-9.8 5.6-9.9 6.9-9.4 7.9-6.3 6.6-6.2 8.2-4.7 8.2-3.3 8.2-4.5 18-0.2 5 0.7 6.5 2.3 11.5 3 9.8 3.9 8.2 4.6 6.6 8.6 8.8 14.8 11.1 6.6 3.4 19.7 8.7 21 13.9z"/><path fill="#00b8ff" d="M1157.7 491.6l8.8 1.3 19.7-0.1 7.1-1.2 7.6-3 3.3-2.4 8.2-7.7 5-3.4 8.2-3.9 18-6.7 5-2.6 4.9-3.5 11.5-9.1 6.5-6.7 5-6.9 3.7-8.1 3.9-14.7 1.2-11.5-5.3-19.7-2.1-4.9-3.6-6.6-4.6-6.5-5.4-6.6-6.8-6.6-8-6.5-7.5-5.3-8.2-4.8-9.9-4.8-8.2-3.3-9.8-2.9-9.9-2-11.5-1.2-11.5-0.2-11.5 0.6-9.8 1.4-9.9 2.3-9.8 3.3-11.5 5.1-9.4 5.2-8.7 5.9-8.9 7.2-7.5 7.4-5.9 7.4-5.3 8.2-3.8 8.2-5 18 0.1 8.2 1.9 9.9 3.2 11 3.3 6.9 3.5 5 8 8.6 16.4 12.6 6.6 3.3 14.8 5.3 8.2 3.7 6.6 4.3 11 9.8z"/><path fill="#00acff" d="M1170.6 486.7l13.9-0.2 8.2-1.9 4.9-2.9 8.2-8.2 6.6-4.3 6.6-2.7 21.4-6.6 4.9-2.3 4.9-3.1 13.6-10.5 4.9-4.9 3.9-4.9 2.8-4.9 2.7-6.6 3.3-13.1 0.3-8.2-3.2-13.1-2.1-6.6-6.4-11.5-5-6.8-5.6-6.3-7.1-6.6-7-5.5-14.8-9.2-16.4-7.2-8.2-2.5-9.9-2-11.5-1.2-11.5-0.3-11.5 0.7-9.8 1.4-9.9 2.3-8.2 2.8-9.8 4.4-9.9 5.3-9 6.1-9 7.4-7.4 7.4-5.8 7.3-4.9 7.4-3.2 6.6-2.1 6.6-3.2 13.1-0.1 4.9 1 6.6 2.2 8.2 2.4 6.5 2.6 4.9 3.5 5 8.4 8.3 11.5 8.7 6.6 4 6.5 2.6 19.4 5.9 7.2 3.3 4.7 3.2 8.1 8.2 3.3 2.1 6.6 2.2z"/><path fill="#00a1ff" d="M1168 471.9l8.3 0.8 8.2-1.2 20.3-7.8 29-7.1 9.8-3.9 13.2-8.7 9.8-9 3.3-4.4 2.7-4.6 4.1-11.5 1.3-6.6 0.1-4.9-3.6-16.4-1.9-4.9-3.5-6.6-8.3-11.4-11.6-11.5-13.8-10-16.4-8.4-14.8-5-9.8-1.9-9.9-1-9.8-0.3-11.5 0.6-9.9 1.2-8.2 1.9-8.2 2.6-9.8 4.1-9.9 5.2-8.2 5.4-8.2 6.5-7.7 7.3-5.5 6.5-5.7 8.2-3.5 6.6-2.9 8.2-2.7 14.8 0.4 4.9 1.3 5.9 2.5 7.2 3.2 6.6 4.2 5.7 4.9 5 13.1 9.8 9.9 5.2 8.2 2.5 25.7 6.2z"/><path fill="#0095ff" d="M1153 457.1l43 0.2 11.5-1.1 19.7-2.9 8.2-2.2 8.2-3.6 8.2-5.1 8.2-6.6 6.6-7.8 4.5-8.6 2.8-9.8 0.3-8.2-1.7-9.9-3.7-9.8-5.9-9.8-8-9.9-8-7.6-8.2-6.4-9.8-6.1-9.9-4.9-9.8-3.8-8.3-2.2-9.8-1.6-11.5-0.8-11.5 0.1-11.5 1.1-9.8 2-8.2 2.6-9.9 4.1-11.5 6.3-8.3 5.7-8.1 6.8-7.7 8-6.1 8.2-4.8 8.2-3.2 8.2-2.1 9.8-0.2 6.6 1.6 8.2 3.9 9.8 4.3 6.6 6.4 6.6 9.5 7.1 8.2 4.6 6.6 2.5 8.2 1.9z"/><path fill="#0089ff" d="M1137.8 450.6l13.9 1 54.2-0.3 14.7-1.4 8.3-1.4 8.2-2.5 6.5-3.3 9.9-6.6 6.6-6.3 4.9-7.1 3.5-8.2 1.9-8.2-0.1-8.2-2.4-9.8-3.8-8.2-5.2-8.2-5.4-6.8-6.6-6.6-8.2-6.8-8.2-5.5-9.9-5.3-9.8-4.1-8.2-2.5-9.9-1.9-9.8-0.9-11.5-0.1-11.5 0.8-9.8 1.7-8.3 2.3-8.2 3.2-9.8 4.9-9.9 6.2-8.3 6.6-8.2 8.2-6.4 8.2-5 8.2-3.5 8.2-1.8 8.2-0.1 8.2 2.1 8.9 4.3 9.1 4.9 6.6 7.3 6.5 9.8 6.2 8.2 3.6 8.2 2z"/><path fill="#007eff" d="M1146.2 447.3l30.1-0.4 24.6 0.6 19.7-1.6 6.6-1 6.6-1.8 11.1-5.6 8.6-6.5 4.9-5.5 4.4-7.7 3.3-9.9 0.8-6.5-1-8.2-3-8.2-4.6-8.2-4.8-6.9-6.6-7.3-6.5-5.9-8.3-6.1-8.2-4.8-9.8-4.8-8.2-3-8.2-2.1-9.9-1.3-11.5-0.6-11.5 0.4-9.8 1.2-8.2 1.9-8.2 2.8-8.2 3.7-9.9 5.6-8.3 5.9-8.1 7.1-6.8 7.6-5.6 8.2-4.3 8.2-2.7 8.2-0.6 6.6 1.2 8.2 3.7 9.8 4 6.6 6.2 6.4 8.2 5.8 6.5 3.5 8.2 2.9 8.3 1.3z"/><path fill="#0072ff" d="M1146.9 444l59-0.1 21.3-2.5 6.6-2.1 6.8-3.5 8-5.4 5.9-6.1 4.7-8.2 3.3-9.8 0.8-6.6-0.9-6.5-2.4-6.6-4.4-8.2-4.5-6.5-5.6-6.6-6.8-6.3-6.8-5.2-8-4.9-9.8-5-8.2-3.1-8.2-2.2-9.9-1.4-9.8-0.5-11.5 0.2-9.9 1.1-8.2 1.8-8.2 2.7-8.2 3.7-8.2 4.6-8.2 5.6-8.2 7-6.2 6.8-4.8 6.6-4.6 8.2-3.2 8.2-0.9 6.5 0.8 6.6 3.3 9.8 3.5 6.6 5.5 6.3 6.6 4.9 8.2 4.7 6.5 2.4 6.6 1.3z"/><path fill="#0066ff" d="M1143.1 440.7l8.6 0.7 11.5-0.4 39.4 0.3 21.3-2.4 6.6-1.8 4.9-2.2 8.9-5.6 5.6-5 3.5-4.9 3-6.5 2.8-8.2 0.6-6.6-1.4-6.6-4.4-9.8-4.1-6.6-5.3-6.5-5.9-5.9-6.6-5.4-6.5-4.4-9.9-5.4-6.5-2.9-8.3-2.6-8.2-1.7-9.8-0.9-11.5-0.2-9.9 0.7-8.2 1.3-6.5 1.7-7.4 2.7-7.4 3.6-8.2 4.7-6.8 4.8-7.5 6.6-5.9 6.6-5.7 8.2-4.1 8.2-2.2 6.5-0.3 6.6 3.3 11.5 2.9 6.4 3.6 5 5.6 5 8.9 5.6 6.5 2.7 6.6 1.5z"/><path fill="#005bff" d="M1138 437.5l13.7 1.4 47.6 0 21.3-2.4 9.9-2.7 6.6-3.4 6.5-4.7 4.6-4.6 3.1-5 3.3-8.2 1.6-6.5-0.2-6.6-2.2-6.5-3.2-6.6-4.3-6.6-5.4-6.5-5.1-4.9-6.9-5.6-6.6-4.2-8.2-4.4-8.2-3.4-6.6-1.9-8.2-1.6-9.9-0.8-9.8-0.1-16.4 1.7-6.6 1.7-8.2 2.9-8.2 4-8.4 5.1-8.4 6.6-6.2 6.1-5.5 7-4 6.5-3.6 8.2-1.3 6.6 0.8 6.6 2.8 8.2 3.4 6.5 4.3 4.9 6.4 5 8.2 4.5 8.2 2.4z"/><path fill="#004fff" d="M1143.5 435.8l11.5 1 44.3-0.1 21.3-2.9 9.9-3.1 6.6-3.8 5.2-4.2 4.2-4.9 3.5-6.6 2.2-6.5 0.8-6.6-0.7-4.9-2.5-6.6-3.6-6.5-4.7-6.6-4.4-5-6.6-5.9-6.6-4.8-6.5-3.8-8.2-4-6.6-2.3-6.6-1.8-8.2-1.2-9.8-0.6-9.9 0.2-14.8 2-8.2 2.5-6.5 2.7-8.2 4.3-7 4.6-6.2 5-6.6 6.7-4.9 6.5-4.5 8-2.5 6.6-0.7 6.5 1.2 6.6 3.3 8.2 3.2 4.9 4.9 5 6.6 4.5 6.6 3.1 6.6 1.8z"/><path fill="#0043ff" d="M1148.3 434.2l10 0.5 41-0.2 19.7-2.9 9.9-3.3 6.5-3.8 5-4.2 3.4-4.2 3.5-6.5 2.1-6.6 0.4-4.9-0.7-4.9-2.5-6.6-3.7-6.5-4.9-6.6-4.6-4.9-5.6-4.9-5.5-4-7.4-4.2-7.4-3.5-6.6-2.3-6.5-1.6-8.2-1.2-19.7-0.1-8.2 1-6.6 1.5-13.1 4.9-8.2 4.5-6.6 4.5-6.2 5.4-5.9 6.5-5.6 8.2-3.2 6.6-1.6 6.6 0.1 4.9 1.6 6.5 3.1 6.6 3.7 4.9 5.8 5.1 6.5 3.8 6.6 2.4z"/><path fill="#0038ff" d="M1153.6 432.5l45.7-0.1 18.1-3 6.5-1.9 5-2.2 4.9-3.1 4.8-4.4 3.7-4.9 2.3-5 1.9-6.5 0.1-4.9-1.1-5-2.1-4.9-7.6-11.5-4.5-4.9-5.7-5-6.6-4.6-6.6-3.6-7.1-3.2-7.6-2.4-6.6-1.4-8.2-0.9-19.7 0.4-13.1 2.8-13.2 5.5-7.2 4.2-6.4 4.9-5.2 5-5.4 6.5-4.2 6.6-3 6.5-1.1 5 0.4 6.5 2.2 6.6 3.6 6.1 5 5.2 4.9 3.4 6.6 3.2 5.9 1.8 12.1 2.3z"/><path fill="#002cff" d="M1144.7 429.3l15.2 1.5 34.5-0.1 14.8-2 13.1-3.4 5.6-2.6 4.8-3.3 3.4-3.3 3.5-4.9 2.4-5.2 1.5-6.3 0-3.2-1.2-5-6.3-11.4-3.9-5.1-4.9-5-10.6-8-7.4-3.8-6.6-2.7-13.1-3.3-16.5-0.7-13.1 0.9-13.1 3.7-8.2 3.7-6.6 3.8-6.6 4.9-5.2 5-5.2 6.6-4.4 7.2-2.5 5.9-0.7 4.9 0.7 4.9 2.4 6.6 3 4.9 4.8 4.9 4.8 3.3 5.6 2.6 6.6 2z"/><path fill="#0020ff" d="M1148 427.6l13.5 1.4 31.2-0.2 13.2-1.7 14.7-4 5-2.3 4.5-3 3.7-3.6 3.1-4.6 2.1-4.9 1.4-5.8-0.3-4.1-1.2-3.3-6.4-11.4-7.2-8.2-6-5-5-3.2-13.4-6.1-13.1-3.1-18-0.5-11.5 1.3-11.4 3.4-13.3 6.9-6.1 4.6-5.1 4.9-5 6.6-3.8 6.6-2.2 4.9-0.8 4.9 1.4 6.6 2.1 4.9 3.1 4.6 3.7 3.6 4.9 3.3 6.2 2.6z"/><path fill="#0015ff" d="M1151.3 426l11.9 1 29.5-0.2 11.5-1.7 14.3-4 5.4-2.6 3.3-2.3 3.6-3.3 2.4-3.3 2.1-4.9 1.3-5 0.3-3.2-0.9-3.3-6-11.5-7.1-8.2-8.8-6.8-13.1-6.3-11.5-3.1-13.2-0.7-13.1 0.4-6.6 1.3-6.6 2.1-13.4 6.5-6.2 4.6-5 4.6-3.3 4-4 6.5-3.1 6.6-0.9 4.9 1.6 6.6 1.5 3.8 3 4.4 3.6 3.3 4.9 3.2 6.6 2.7z"/><path fill="#0009ff" d="M1155.6 424.3l9.2 0.7 27.9-0.3 14.8-3 11.3-3.9 5.1-3 3.3-3 2.9-3.9 1.5-3.2 1.2-5 0.1-3.2-0.6-3.3-2.1-4.9-5.2-8.2-8.7-8.2-10.9-6.6-11-4.2-9.9-1.6-19.7 0.1-9.8 2-9.4 3.7-10.3 6.1-4.9 4.1-4.4 4.6-3.5 4.9-3.2 6.5-1.2 5 0.1 3.2 1.2 5 2.5 4.9 2.9 3.3 3.9 3 9.9 4.4z"/><path fill="#0000fc" d="M1160.8 422.7l23.7 0.3 8.2-0.6 14.8-3.5 10.8-4.4 4-2.7 3.3-3.5 2.1-3.6 1-3.3 0.2-6.6-0.9-3.3-2.3-4.9-3.4-4.8-3.2-3.4-8.3-6.5-9.9-5.5-9.8-3.3-9.9-1-18 0.5-8.2 1.9-9.9 4.4-6.5 4.1-4.9 3.8-3.4 3.3-3.9 4.9-2.7 4.9-1.6 4.9-0.2 3.3 0.8 4.9 1.5 3.3 2.3 3.3 3.6 3.3 3.5 2.1 6.5 2.8 6.7 2.1 6.5 1.7z"/><path fill="#0000f1" d="M1155.2 419.4l9.6 1.4 23-0.1 9.9-1.8 13.1-4.4 8.2-4.7 4.4-5.1 1.3-3.3 0.5-3.3-1.1-6.6-3.7-6.5-6.5-6.6-9.7-6.8-9.8-4.6-8.2-1.8-16.4-0.2-8.3 0.7-6.5 1.8-11.2 6-10.3 8.2-3.1 3.6-2.8 4.6-1.6 4.9-0.2 3.3 0.5 3.3 1.3 3.3 2.4 3.2 3.6 3.2 8.2 4.1z"/><path fill="#0000e5" d="M1159 417.8l7.5 0.9 21.3-0.3 8.2-1.7 10.1-3.8 8-4.1 4.9-4.7 1.5-2.7 0.7-3.3-0.1-3.3-1-3.3-3.1-4.9-7-6.5-9.1-6.7-8.2-4-8.2-1.5-16.4-0.1-6.6 0.7-5.4 1.7-8.7 4.9-12.1 10.1-4.4 6.3-1 3.3-0.1 3.3 0.7 3.3 1.5 2.7 4.9 4.7 8 4.1z"/><path fill="#0000d9" d="M1163 416.1l23.2 0.2 4.9-0.8 4.9-1.7 12.1-5.9 6-4.4 1.7-2.1 1.1-3.3-0.5-4.9-3.3-4.9-8.9-8.2-6.5-5.1-6.5-3.1-6.7-1.3-16.4 0-4.9 0.4-4.9 1.4-7.5 4.4-12.9 11.5-3.3 4.9-0.5 4.9 1.1 3.3 1.2 1.6 5.4 4.3 13.2 6.5z"/><path fill="#0000ce" d="M1159.5 412.9l3.7 1 4.9 0.4 16.4-0.1 6.6-1.2 9.8-5.1 6.9-4.9 3-2.8 1.4-2.1 0.1-3.3-2.2-3.3-9.2-9.8-4.9-4.3-4.9-2.7-3.3-1-4.9-0.5-16.4 0-5 0.9-5.6 2.7-5.8 4.9-9.9 10.6-1.5 2.5-0.2 1.7 1.3 3.2 5.4 5 7.8 4.9z"/><path fill="#0000c2" d="M1162.3 411.2l5.8 0.9 14.8 0 4.9-0.6 3.3-1.1 6.7-4.1 5.5-4.9 2.6-4.9-0.8-3.3-3.9-6.6-2.8-3.3-4-3.7-4.9-2.7-6.6-1.2-13.1-0.1-5 0.4-3.3 0.9-4.9 2.7-5.5 5.4-5.2 8.2-0.8 3.3 2.6 4.9 3.3 3.3 7.3 4.9z"/><path fill="#0000b6" d="M1165.6 409.6l17.3 0.3 4.9-0.9 4.9-2.3 4.7-3.7 3.3-4.9 0.2-4.9-2.1-4.9-2.4-3.3-3.5-3.3-3.4-2-3.3-1.2-5-0.5-13.1 0-4.9 1-3.3 1.5-3.7 2.8-4 5-2.1 4.9-0.2 3.3 2.2 4.9 3.4 3.3 5 3.2z"/><path fill="#0000ab" d="M1172.3 407.9l8.9-0.1 5-0.8 4.9-2.2 4-3.4 2.1-3.3 0.5-4.9-2-4.9-3-3.5-3.2-2.4-5-1.7-4.9-0.5-9.8 0-6.7 1.5-3.2 1.8-3.3 3-2.2 3.4-1.1 3.3 0 3.3 1.7 3.7 3.3 3.4 4.5 2.7 3.7 1.1z"/><path fill="#00009f" d="M1165.5 404.7l5.9 1 6.6 0.1 4.9-0.5 4.9-1.6 3.6-2.3 2.5-3.3 0.9-3.3-1.2-4.9-4.1-4.5-3.3-1.7-3.3-0.9-11.5-0.4-4.9 0.8-3.3 1.2-3.2 2.2-1.7 1.9-1.7 3-0.4 3.3 0.9 3.3 1.2 1.8 3.2 2.9z"/><path fill="#000093" d="M1169.5 403l10.1 0.3 7-1.9 2.9-2.1 2-2.8 0.3-3.3-0.7-2.2-3.3-3.5-3.3-1.6-3.3-0.9-9.8-0.2-6.7 1.8-3.2 2.3-1.9 2.6-0.4 1.7 0.3 3.3 1 1.6 2.7 2.5z"/><path fill="#000088" d="M1168.6 399.7l6.1 1 7.7-1 3.3-1.6 1.8-1.6 0.8-1.7 0.1-1.6-0.9-1.7-1.8-1.6-4.5-1.9-6.5-0.6-5.8 0.9-4.1 2-2.2 2.9 0.1 1.6 0.8 1.7 1.8 1.6z"/><path fill="#000080" d="M1171.1 394.8l1.9 1.2 3.3 0.4 3.6-1.6 0-1.6-1.9-1.1-3.3-0.5-3.6 1.6z"/></g></g><path fill="none" stroke="#141414" stroke-width="2" stroke-linejoin="round" d="M1166.5 900l-14.8-1-14.8-2.3-16.4-4.1-16.4-5.2-11.5-4.6-23-10.9-3.3-2-3.2-2.8-3.3-4.9-2-4.9-11.5-34.4-7.5-26.3-3.9-19.7-1.8-11.4-2.4-9.9-0.7-4.9 0.9-16.4 2.1-19.7 3.2-16.4 1.9-14.7 6.4-31.2 3.4-13.1 3.6-10.2 3.9-7.9 4.4-5.5 4.9-4 6.5-3.4 13.5-5.1 11.2-3.6 14.7-4 13.2-2.8 14.8-2.3 24.6-2.6 27.9 0.2 23 2.6 23.8 4.3 12.7 3.3 12.7 3.9 14.8 5.4 6.6 3.1 4.9 3.4 3.7 3.9 3.2 4.9 3.7 8.2 2.9 8.2 2.7 9.8 7.1 34.5 1.9 14.7 3.2 16.4 2.1 19.7 0.9 14.8-0.1 3.2-3 13.2-4.9 27.8-7.8 27.9-12.3 36.9-3.3 6.9-1.7 2.1-3.2 2.8-6.6 3.7-24.6 11.3-13.1 4.7-18.1 5.2-11.5 2.6-14.8 1.9-13.1 0.7zM1159.9 854l-14.8-2.5-14.7-3.8-13.2-4.9-13.1-6.5-11.5-7.3-8.2-6-6.6-5.4-8.2-8.5-6.8-9.2-4-8.2-4-10.5-5.4-25.6-0.5-4.9 0.7-6.6 0.7-14.7 1.8-13.1 2.2-11.5 4.8-18.1 1.5-3.2 2.4-4 6.6-8.5 8.2-8.5 9.9-8.3 8.2-5.5 8.8-4.6 10.9-4.3 11.5-3.5 18-4.1 8.2-1.3 14.8-0.9 16.4 0.1 11.5 0.6 8.2 1.1 19.7 4.5 13.2 4 8.2 3.3 8.2 4.1 6.6 4.1 6.5 5 8.2 7.3 6.6 6.9 6.6 8.5 3.3 5.6 1.7 4.9 3.2 12.4 2.4 12.2 2.1 14.8 0.7 14.7 0.7 6.6-0.5 4.9-4.4 21.3-2.4 8.2-3.6 8.8-3.2 6.4-5 6.8-6.5 7.4-8.2 7.2-9.9 7.3-8.2 5.4-8.2 4.6-9.9 4.5-9.8 3.6-9.9 2.9-13.1 2.9-8.2 1.1-8.2 0.5-14.8 0zM1163.2 827.8l-9.9-1.2-8.2-1.7-9.8-3-8.2-3.3-9.9-4.8-8.2-4.9-8-5.7-6.8-5.7-6-5.8-4.2-4.9-6-8.2-3.8-6.6-3-7.5-3-12.2-1.1-3.2-0.4-3.3 0.4-4.9 1.5-8.2 2.3-8.2 2.5-6.6 2.8-5.1 4.9-6.3 4.9-5 14.8-11.5 4.9-3.1 3.3-1.5 18.1-6.2 8.2-3.8 6.5-4.8 8.3-8.1 4.9-2.5 4.9-1.6 4.9-0.7 11.5-0.3 11.5 0.4 6.6 1.6 6.1 2.7 2.1 1.7 8.1 8.2 6.7 4.3 8.2 3.5 14.8 5 6.5 3.1 6.6 4.5 11.5 9.1 4.9 5 3.3 3.9 2.7 4.2 2.2 4.4 2.5 7.1 2.2 8.2 1.3 8.2 0.2 4.9-5.4 19.7-3 6.6-4 6.5-6.2 8.2-5.6 6-8.3 7.3-8.7 6.4-9.3 5.7-9.9 4.8-8.2 3.3-9.8 3-9.9 2-11.5 1.2-9.8 0.3zM1156.6 808.1l-8.2-1.8-8.2-2.9-8.2-3.9-8.2-4.7-6.7-4.7-7.5-6.6-5.9-6.6-4.7-6.5-3.5-6.6-2.8-6.5-1.2-5-0.1-4.9 1.6-6.5 3.8-9.9 3.1-4.9 4.2-4.4 6.5-4.8 6.6-3.7 4.9-1.9 6.6-1.5 21.4-2.3 13.1 0.4 24.6 0 11.5-0.5 21.3 2.1 8.5 1.8 6.3 2.7 5 2.9 4.9 3.5 4.4 4.1 3.6 4.9 3 6.5 3.1 9.9 0.3 3.3-0.2 3.2-0.7 3.3-1.7 4.9-5.1 9.9-6 8.2-7.3 7.4-9.2 7.3-8.9 5.4-9.8 4.7-9.9 3.3-9.8 1.9-11.5 0.9-11.5-0.1zM1159.9 791.9l-6.6-1.7-5.1-1.8-7.2-3.3-5.7-3.2-4.9-3.7-5.1-4.5-3.2-3.7-3.1-4.5-4.9-9.9-0.9-3.3 0-1.6 1.6-6.6 2.1-4.9 2.3-3.3 4.6-4.3 4.9-2.9 6.4-2.6 16.6-3.9 11.5-0.9 27.9 0.1 11.5 1.4 9.8 2.3 6.6 2.1 4.7 2.2 3.5 2.2 3.1 2.7 2.8 3.3 2.6 4.9 1.8 6.6 0.3 3.2-0.9 3.3-4 8.2-4 6.2-4.9 5.3-5.9 4.9-5.7 3.6-8.2 4-6.5 2.4-6.6 1.7-6.6 0.8-8.2 0.1-9.8-0.1zM1163.2 773.8l-4.9-1.9-3.3-2.2-2.9-2.6-3.1-3.3-6.3-8.2-1.1-1.6-0.3-1.7 0.6-1.6 6.3-6.6 10.1-6.3 4.9-1.7 4.9-0.6 14.8 0 6.6 1 4.9 2.1 6.5 4.2 3.8 3 4.4 4.9 0.6 1.6-0.3 1.7-6.1 8.2-6.2 6.5-4.6 3.3-4.1 1.7-3.9 0.6-9.8-0.2-6.6 0.3zM1156.7 560.5l6.5 0.5 26.3-0.1 22.9-2.5 16.5-2.6 15.7-3.5 16.9-5 16.6-6 8.2-4.1 4.9-4 3.3-3.9 3.3-5.8 3.3-7.9 3-9.3 2.4-9.8 6.7-32.8 1.6-13.1 3.6-19.7 1.9-18 0.7-13.2-0.1-3.2-3-13.2-1.8-11.4-3.9-19.7-7.5-26.3-11.5-34.4-2-4.9-3.2-4.9-5-3.9-4.9-2.6-19.7-9.2-9.8-4-11.5-3.9-14.8-4.1-11.5-2.6-18.1-2.2-18-0.5-18.1 0.7-18 2.3-19.7 5-19.7 6.5-26.3 12-4.9 2.6-3.1 2.2-3.5 3.8-3 6.1-13.1 39.3-7.3 26.3-4.9 27.8-2.7 11.5-0.4 4.9 0.7 13.2 2.1 19.6 3.4 18.1 1.6 13.1 5.2 26.2 3 13.2 3.5 11.4 4.1 9.9 4.1 6.5 5.1 5 5.4 3.2 14.5 5.9 12 4 14.3 3.9 11.8 2.6 17.8 2.9zM1152.3 517.8l14.2 0.9 13.1 0.1 19.7-1 6.6-1.2 19.7-4.5 8.2-2.5 8.2-3 8.2-3.8 6.6-3.7 6.5-4.5 8.2-6.8 6.6-6.4 6.6-7.6 4.9-7 2.9-6.4 4.6-18 2.1-11.5 1.5-11.5 0.7-14.7 0.7-6.6-0.5-4.9-5.2-24.6-5.2-13.7-4.1-7.6-6.2-8.2-7.7-7.9-8.2-6.6-11.5-8.1-9.9-5.8-11.5-5.4-13.1-4.7-13.1-3.3-13.2-2.3-9.8-0.7-18.1 0.1-11.5 1.3-13.1 2.7-11.5 3.3-9.8 3.6-11.5 5.4-9.9 5.8-13.1 9.3-9.7 8.3-6.7 7.6-5.2 7.2-4 8.2-3.8 9.8-6.1 29.6 1.3 21.3 1.9 14.7 2.6 13.2 4.4 16.4 3.5 6.5 7 9.2 9.9 10 9.8 8 9.9 6.2 11.4 5.2 11.5 3.9 23 5.5zM1158.2 489.9l3.3 0.8 5 0.5 19.7-0.1 6.5-1.1 6.6-2.7 3.3-2.3 8.1-8.2 5-3.4 8.2-3.8 19.7-6.9 5-2.8 4.9-3.5 11.4-9.1 6.4-6.6 5.2-7.5 3.1-7.2 3.5-13.1 1-6.6 0.2-4.9-5.4-19.7-2.4-5.5-3.3-5.7-4.9-6.9-5.5-6.5-6.9-6.6-7.3-5.9-6.6-4.7-8.2-4.9-9.9-4.8-8.2-3.3-9.8-3-9.9-2-11.5-1.2-9.8-0.3-11.5 0.6-9.9 1.2-9.8 2.1-9.9 3.2-11.5 5-9.8 5.4-9.1 6.1-8.1 6.5-7.4 7.2-6.3 7.6-5.4 8.2-3.9 8.2-5.4 19.7 0.4 6.5 1.9 9.9 3 9.8 3.1 6.6 4.4 6.3 8.2 8.2 14.7 11.2 6.6 3.5 18.1 6.2 6.5 2.9 6.7 4.3 9.8 9.5 3.2 1.9zM1143.8 440.7l7.9 0.7 11.5-0.5 39.4 0.3 21.3-2.4 6.6-1.8 4.9-2.2 8.8-5.5 6-5.5 4-6 3.8-9.9 1.6-6.5-0.1-4.9-1.8-6.6-3.8-8.2-4.1-6.6-5.3-6.5-5.8-5.8-6.6-5.4-6.5-4.5-9.9-5.3-6.5-2.9-8.3-2.6-8.2-1.7-9.8-1-11.5-0.1-9.9 0.7-8.2 1.3-6.5 1.7-7.2 2.6-7.6 3.7-8.2 4.7-6.7 4.7-7.5 6.6-5.9 6.6-5.6 8.2-4.2 8.2-2.1 6.5-0.5 3.3 0.1 3.3 1.6 6.5 2.3 6.6 2.2 4.6 3.8 5.2 5.5 5 8.8 5.5 6.5 2.7 6.6 1.5zM1148.4 426l4.9 0.8 8.2 0.7 29.6-0.1 11.5-1.4 8.2-1.9 6.6-1.9 4.9-2.1 4.1-2.3 3.9-3.3 2.8-3.3 2.6-4.9 1.8-6.6 0.3-3.2-0.9-3.3-3.1-6.6-2.9-4.9-3.7-4.9-3.2-3.3-8.3-6.6-5.7-3.2-7.4-3.4-4.9-1.7-6.6-1.7-4.9-0.7-6.6-0.2-16.4 0.4-6.6 1.3-6.5 2-8.3 3.6-6.5 3.6-4.9 3.7-5 4.5-4.2 5-3.1 4.9-3.3 6.5-1.6 5 0.7 4.9 2.1 6.5 2.9 4.5 3.6 3.7 4.6 3.2 4.9 2.3 6.6 2.1zM1164 412.9l4.1 0.4 14.8 0 4.9-0.6 3.3-1 3.3-1.5 6.2-3.9 4.1-3.3 4.4-4.9 0.6-1.6-0.3-1.7-7.4-9.8-3.1-3.3-4.5-3.8-4.9-2.5-5-0.9-9.8 0.2-6.6-0.3-4.9 0.6-3.3 1.1-4.9 3-4.5 4.2-7.8 9.9-1.1 1.6-0.3 1.7 0.6 1.6 2.9 3.3 5.3 4.6 8.2 5z"/><path d="M1010.5 130.8H1340.5V1018H1010.5z" fill="none" stroke="#222" stroke-width="1.4"/><text x="1001.5" y="1085.9" font-size="52" text-anchor="end" >-150</text><text x="1001.5" y="921.6" font-size="52" text-anchor="end" >-100</text><text x="1001.5" y="757.3" font-size="52" text-anchor="end" >-50</text><text x="1001.5" y="593.0" font-size="52" text-anchor="end" >0</text><text x="1001.5" y="428.7" font-size="52" text-anchor="end" >50</text><text x="1001.5" y="264.4" font-size="52" text-anchor="end" >100</text><text x="1001.5" y="100.1" font-size="52" text-anchor="end" >150</text><text x="1003.5" y="1124.3" font-size="52" text-anchor="middle" >-50</text><text x="1175.5" y="1124.3" font-size="52" text-anchor="middle" >0</text><text x="1340.5" y="1124.3" font-size="52" text-anchor="middle" >50</text><text x="1174.5" y="1179.4" font-size="51.5" text-anchor="middle" >y [mm]</text><text transform="translate(873.3,576) rotate(-90)" font-size="51.5" text-anchor="middle">z [mm]</text><linearGradient id="cba2" x1="0" y1="0" x2="0" y2="1"><stop offset="0.0000" stop-color="#800000"/><stop offset="0.0312" stop-color="#9f0000"/><stop offset="0.0625" stop-color="#bf0000"/><stop offset="0.0938" stop-color="#df0000"/><stop offset="0.1250" stop-color="#ff0000"/><stop offset="0.1562" stop-color="#ff2000"/><stop offset="0.1875" stop-color="#ff4000"/><stop offset="0.2188" stop-color="#ff6000"/><stop offset="0.2500" stop-color="#ff8000"/><stop offset="0.2812" stop-color="#ff9f00"/><stop offset="0.3125" stop-color="#ffbf00"/><stop offset="0.3438" stop-color="#ffdf00"/><stop offset="0.3750" stop-color="#ffff00"/><stop offset="0.4062" stop-color="#dfff20"/><stop offset="0.4375" stop-color="#bfff40"/><stop offset="0.4688" stop-color="#9fff60"/><stop offset="0.5000" stop-color="#80ff80"/><stop offset="0.5312" stop-color="#60ff9f"/><stop offset="0.5625" stop-color="#40ffbf"/><stop offset="0.5938" stop-color="#20ffdf"/><stop offset="0.6250" stop-color="#00ffff"/><stop offset="0.6562" stop-color="#00dfff"/><stop offset="0.6875" stop-color="#00bfff"/><stop offset="0.7188" stop-color="#009fff"/><stop offset="0.7500" stop-color="#0080ff"/><stop offset="0.7812" stop-color="#0060ff"/><stop offset="0.8125" stop-color="#0040ff"/><stop offset="0.8438" stop-color="#0020ff"/><stop offset="0.8750" stop-color="#0000ff"/><stop offset="0.9062" stop-color="#0000df"/><stop offset="0.9375" stop-color="#0000bf"/><stop offset="0.9688" stop-color="#00009f"/><stop offset="1.0000" stop-color="#000080"/></linearGradient><rect x="1418.3" y="81.5" width="26.5" height="986.4" fill="url(#cba2)" stroke="#222" stroke-width="1"/><path d="M1418.3 1026.1h7M1444.8 1026.1h-7" stroke="#111" stroke-width="1.3"/><text x="1452.8" y="1044.7" font-size="52" text-anchor="start" >-20</text><path d="M1418.3 913.3h7M1444.8 913.3h-7" stroke="#111" stroke-width="1.3"/><text x="1452.8" y="931.9" font-size="52" text-anchor="start" >-15</text><path d="M1418.3 800.4h7M1444.8 800.4h-7" stroke="#111" stroke-width="1.3"/><text x="1452.8" y="819.0" font-size="52" text-anchor="start" >-10</text><path d="M1418.3 687.6h7M1444.8 687.6h-7" stroke="#111" stroke-width="1.3"/><text x="1452.8" y="706.2" font-size="52" text-anchor="start" >-5</text><path d="M1418.3 574.7h7M1444.8 574.7h-7" stroke="#111" stroke-width="1.3"/><text x="1452.8" y="593.3" font-size="52" text-anchor="start" >0</text><path d="M1418.3 461.8h7M1444.8 461.8h-7" stroke="#111" stroke-width="1.3"/><text x="1452.8" y="480.4" font-size="52" text-anchor="start" >5</text><path d="M1418.3 349.0h7M1444.8 349.0h-7" stroke="#111" stroke-width="1.3"/><text x="1452.8" y="367.6" font-size="52" text-anchor="start" >10</text><path d="M1418.3 236.1h7M1444.8 236.1h-7" stroke="#111" stroke-width="1.3"/><text x="1452.8" y="254.7" font-size="52" text-anchor="start" >15</text><path d="M1418.3 123.3h7M1444.8 123.3h-7" stroke="#111" stroke-width="1.3"/><text x="1452.8" y="141.9" font-size="52" text-anchor="start" >20</text><text x="6.0" y="65.5" font-size="100" text-anchor="start" font-weight="bold">a</text><text class="t" font-family="Liberation Serif, serif" font-size="74" y="52.8"><tspan x="552.2" y="50.4" font-size="75" font-style="italic">ψ</tspan><tspan font-size="40"> </tspan><tspan x="619.3" y="56.8" font-size="84">[</tspan><tspan x="638.3" y="52.8" font-size="70">A</tspan><tspan x="681.3" y="56.8" font-size="84">]</tspan></text><text class="t" font-family="Liberation Serif, serif" font-size="74" y="52.8"><tspan x="1387.7" y="50.4" font-size="75" font-style="italic">ψ</tspan><tspan font-size="40"> </tspan><tspan x="1454.8" y="56.8" font-size="84">[</tspan><tspan x="1473.8" y="52.8" font-size="70">A</tspan><tspan x="1516.8" y="56.8" font-size="84">]</tspan></text><path d="M250.2 1350.5V2343.5H1173.6M250.2 2343.5h11M250.2 2178.0h11M250.2 2012.5h11M250.2 1847.0h11M250.2 1681.5h11M250.2 1516.0h11M250.2 1350.5h11M250.2 2343.5v-10M404.1 2343.5v-10M558.0 2343.5v-10M711.9 2343.5v-10M865.8 2343.5v-10M1019.7 2343.5v-10M1173.6 2343.5v-10" fill="none" stroke="#3a3a3a" stroke-width="1.6"/><g clip-path="url(#clipb)"><g filter="url(#blur)"><rect x="230" y="1380" width="910" height="934" fill="#80ff80"/><path fill="#8aff75" d="M250.2 2193.1l0 0.6 41.3-0.5 27.5 0.6 36.7-3.2 15.3-2.7 13.8-3.8 16.8-5.6 12.3-4.7 10.7-5 7.6-4.5 6.1-4.6 6.1-6.1 5.1-6.8 4.1-7.7 3.4-8.8 2.7-10.4 2.3-12.7 2-16.5 1.3-18.2 1.5-46.3-0.1-29.7-0.8-24.5-1-10.2-3-16.5-0.3-5 3.6-26.4 0.3-9.9-0.4-9.9-1.4-9.9-2.4-8-3.1-5.3-4.6-4.4-6.1-2.8-7.6-1.2-32.2 0.6-21.4-1.9-7.1-1.8-10.2-5-5.6-2-6.7-1.3-11.7-1.3-29-1.2-65.8-0.1zM1042.6 2193.1l13.6 0.8 23-0.7 41.3 0.5 0-345.2-58.1 0.1-33.7 1-13.8 1.4-7.6 1.4-5.6 2-10.2 5-7.1 1.8-19.9 1.9-27.6-0.7-10.7 0.6-7.6 2.6-4.6 3.5-3.7 5.2-2.9 8.2-1.8 11.6-0.4 14.8 0.9 11.6 3 19.8-0.4 5-3.3 19.8-1.1 18.2-0.5 41.3 1 36.3 1.5 25.9 2.6 22 3.4 16.6 4.5 13.2 6.4 11.2 7.6 8.5 10.7 7.9 12.3 6.3 21.4 8.1 24.4 7.3 15.3 2.7zM595 1844.5l34.5 1 108.6 0 38.2-1 13.8-1.4 7.7-1.3 6.1-2.1 10.7-5.2 7.6-1.8 19.9-1.8 27.5 0.7 10.7-0.8 6.2-2 3-1.9 3.1-2.8 3-4.6 2.4-6.4 1.7-8.2 0.8-9.9-0.3-16.6-3.5-24.7 0.4-5 3.3-19.8 1.3-23.1 0.3-38-1.6-47.9-3-31.4-2.3-13.2-2.5-10.1-3.1-8.5-3.9-7.9-5.3-7.5-5.4-5.7-5.3-4.3-7.6-4.9-16.8-7.8-15.3-5.5-15.3-4.7-12.3-3.1-9.1-1.6-41.3-3.5-24.5 0.6-24.5-0.6-33.6-0.1-26 0.7-23-0.7-42.8 3.6-13.8 2.6-13.7 3.9-23 7.8-15.3 6.8-10.7 6.5-9.1 8.2-4.6 5.8-4.1 6.8-3.5 8.3-2.6 8.2-3.8 19.9-2.9 28.9-1.6 48.7 0.1 38 1.4 24.8 3.3 19.8 0.4 5-3.4 23.1-0.6 14.9 1 13.2 2.5 11 3.1 6.2 3 3.6 4.6 3.1 4.6 1.7 10.7 1.1 29.1-0.7 19.8 1.8 7.7 1.8 10.7 5.2 6.1 2.1 9.2 1.5z"/><path fill="#94ff6b" d="M250.2 2178.2l0 1.5 1.5 0 68.9-1.7 26-3.9 18.3-4.5 9.2-3.4 26-12.1 16.8-9.3 7.7-5.3 7.6-6.5 6.1-6.5 5.8-7.8 4.7-8.2 3.6-8.3 3.4-9.9 2.9-11.6 3.6-21.4 2.6-34.7-0.4-31.4-1.3-13.2-1.9-11.1-1.8-5.4-2.8-5.8-4.6-6.2-5.8-6.2-1.9-3.3 0-1.7 1.4-3.3 7.8-9.8 4-6.7 2.3-6.6 0.9-6.6-0.3-8.3-2.3-8.6-3.7-6.2-5.5-4.9-4.6-2.3-4.5-1.5-12.3-2.1-9.2-1.2-12.2-0.6-27.5-3.1-7.6-2.5-12.3-6.4-13.8-4.1-7.6-1.5-15.3-1.6-15.3-0.7-19.9 0.4-36.7-0.3zM1053.8 2178.2l30 0.3 36.7 1.2 0-327.9-36.7 0.3-18.4-0.4-15.3 0.6-15.3 1.5-9.2 1.7-13.7 4.1-12.3 6.4-9.1 2.9-26 2.7-13.8 0.7-18.4 2.9-9.1 3.2-6.1 4.7-4.1 6-2.6 8.3-0.6 6.6 0.2 4.9 2.4 10 3.1 6.1 9.4 12 1.4 3.3-0.7 3.3-10.1 11.8-3 5.1-2 4.6-1.7 6.6-1.6 9.9-1.5 21.5 0.2 24.8 2.3 29.7 1.2 9.8 2.5 13.3 3 11.6 3.7 10.8 4.1 9 3.5 6.1 4.6 6.4 9.2 9.8 12.2 9.5 15.3 8.7 29.1 13.6 10.7 3.9 19.9 4.5 16.8 2.7zM609.1 1841.2l23.5 1.1 16.8-0.4 73.4 0 15.3 0.4 16.8-0.6 13.8-1.2 10.7-1.8 13.8-4 4.6-1.9 9.1-5.1 7.7-2.4 27.5-3 13.8-0.7 18.3-2.9 4.6-1.4 4.6-2.2 6.1-5.1 3.3-5.1 2.6-8.3 0.6-8.2-0.6-6.7-1.3-4.9-2.2-5-3.9-6.1-7.1-8.7-1.4-3.3 0.1-1.7 1.8-3.3 6.6-7.1 4.6-6.6 3.2-7.8 2.1-9.9 2-21.5 0.2-24.7-2.5-34.7-1.5-11.6-2.6-13.2-3.1-11.6-3.5-9.9-3.8-8.2-5-8.3-5.4-7-6.1-6.3-12.3-9.6-13.7-8.1-32.1-15.1-15.3-5-15.3-3.3-23-3.2-71.9-1.7-68.8 1.8-22.9 3.4-16.9 3.8-13.7 4.9-35.2 16.9-13.8 8.8-6.1 5-6.1 6-4.6 5.5-4.6 6.6-4.3 8.2-3.3 7.7-3.1 9.3-3 12.1-3.6 22.1-2.4 34.7 0.2 24.7 2 21.5 2.1 9.9 2.6 6.6 3.7 5.9 9.2 10.7 0.8 3.3-1.4 3.3-10.2 13.2-3.5 8.2-1.3 6.7-0.1 6.6 0.9 6.6 1.6 4.9 2.6 5 4.4 4.8 4.6 3 6.1 2.3 19.9 3.3 13.8 0.7 26 2.7 9.1 2.7 10.7 5.8 6.2 2.1 13.7 3.8z"/><path fill="#9eff61" d="M250.2 2168.3l0 0.6 4.6-0.1 62.7-2.8 6.1-0.9 9.2-2.4 10.7-1.7 19.9-5.4 13.7-7.1 19.9-9 15.3-8.9 7.7-5.5 7.6-6.5 6.1-6.2 6.2-7.6 6.1-9.9 4.6-9.6 4.6-12.7 2.9-11.7 2.2-18.1 2.7-16.6 0-21.4-0.6-10-1.4-9.9-2.3-9.9-2-5.7-3.1-5.1-4.6-4.8-4.6-3.3-17.4-7.5-3.3-3.3-1.2-3.3 0.5-2.7 1.8-2.3 13.5-8.1 9.2-7 4.3-4.7 2.7-4.9 1.3-6.7-0.3-4.9-1-3.3-2.6-5-5.9-5.6-9.2-4.6-15.3-4-27.5-3.4-12.3-0.8-9.1-1.7-4.6-1.4-10.7-5.2-16.9-5.9-9.1-2-12.3-1.7-13.7-0.9-18.4 0.7-36.7-0.5zM1106.3 2168.3l14.2 0.6 0-313.5-36.7 0.5-18.4-0.7-13.8 0.9-11.7 1.6-11.2 2.6-16.8 5.9-9.2 4.7-6 1.7-7.8 1.4-12.2 0.8-26 3.1-15.3 3.8-9.2 4.1-6.1 5-2.4 3.3-1.6 3.3-0.9 3.3-0.4 4.9 1.4 6.7 2.7 4.9 4.3 4.7 9.1 7 13.6 8.1 1.7 2.3 0.5 2.7-1.1 3.3-3.3 3.3-17.5 7.5-4.6 3.3-4.5 4.8-2.6 4.2-2.1 5-2.1 8.2-1.6 9.9-1 11.6-0.1 21.5 2.8 18.2 1.8 16.5 2.8 11.5 3.6 10.7 4.6 10.4 4.8 8.7 5.9 8.2 6.1 6.9 7.6 7 7.7 5.8 16.8 10.2 21.5 9.8 12.2 6.6 21.4 5.9 10.7 1.7 13.7 3.2zM617 1837.9l15.6 1 16.8-0.8 12.2 0.5 12.3-0.4 35.1 0.4 13.8-0.5 15.3 0.8 18.4-1.3 18.3-3.2 18.4-6.3 10.2-5.1 5.7-1.6 8.5-1.5 12.3-0.8 10.7-1.6 12.2-1 13.8-3.2 10.7-3.8 4.6-2.9 3-2.6 3.2-4.1 2.5-6.6 0.2-6.6-1.9-6.6-3.2-5-5.4-5-7.6-5.5-12.7-7.6-1.5-1.7-0.8-3.3 1.1-3.3 3.3-3.3 15.2-6.3 6.1-3.8 4.6-4.6 3.4-5.1 3.4-9.9 2.6-14.9 0.8-11.6-0.3-23.1-2.5-14.9-2.1-18.1-2.2-9.1-3.6-10.7-5.1-11.6-5.1-9.1-6.1-8.4-7.7-8.1-12.2-10.1-12.3-7.8-10.7-5.6-16-7.1-10-5.5-4.5-1.9-18.4-5-10.7-1.7-15.3-3.3-68.8-3-67.3 3-15.3 3.3-10.7 1.7-18.4 5-4.6 1.9-9.9 5.5-17.6 7.8-12.2 6.7-13.8 9.5-11.8 10.7-7.9 9.9-6.3 10.5-5 11-4.4 13.2-2.6 11.6-1.5 14.8-2.6 14.9-0.1 26.4 1.1 11.6 1.8 9.9 2.6 8.9 3.1 5.8 4.5 5.3 4.6 3.4 4.6 2.4 13.8 5.7 3.2 3.2 1.1 3.3-0.1 1.7-2.2 3.3-17.3 10.8-6.1 5-3.6 4-2.6 4.9-1.3 5 0.3 6.6 1.6 5 2.5 4 4.6 4.3 6.1 3.6 6.1 2.3 16.9 4 12.2 1 10.7 1.6 12.2 0.8 8.6 1.5 5.7 1.6 10.2 5.1 18.4 6.3 7.6 1.7z"/><path fill="#a9ff56" d="M250.2 2158.4l0 1 4.6-0.1 56.6-3.1 7.6-1.4 10.7-2.9 10.7-1.8 19.9-5.6 29.1-13.1 19.9-11.5 9.1-6.7 7.7-6.7 6.1-6.4 6.1-7.8 6.1-9.6 4.4-8.6 3.4-8.2 2.4-8.3 2-13.2 3.5-13.2 1-6.6 0-21.5-1.4-10.7-3.7-14.1-2.4-5.3-3.2-4.6-4.4-4.3-4.6-3.2-16.5-7.3-4.9-3.1-5.5-5.2-2.1-3.3-0.3-1.7 0.8-3.3 2.5-2.7 19.9-10.5 7.9-6.6 4.1-4.9 2-5 0.3-3.3-0.7-3.3-2.8-5-5.3-4.9-8.6-4.7-12.2-4-24.5-3.5-13.8-1-10.7-1.7-6.1-1.6-6.1-2.6-21.4-7.1-15.3-3.1-18.4-2-16.8 1.2-12.2-0.6-12.3 0.6-12.2-0.5zM1098.3 2158.4l22.2 1 0-299.2-12.3 0.5-12.2-0.6-12.2 0.6-16.9-1.2-16.8 1.7-16.8 3.4-32.1 10.9-10.7 1.9-13.8 1-24.5 3.4-12.2 3.7-7.7 3.6-6.3 5-3.6 4.9-1.1 3.3-0.2 3.3 1.4 5 3.7 5.3 7.7 6.8 6.1 3.9 11.7 5.5 3.6 2.2 2.5 2.7 0.8 3.3-0.3 1.7-2.2 3.3-6.9 6.4-18.4 8.4-4.6 2.8-4.6 4-3 3.6-2.6 4.5-2.5 6.6-1.7 6.6-2.2 14.9 0.3 24.8 3.9 14.9 2 13.2 1.6 6.6 4.2 11.1 6.4 12 5.9 8.7 6.5 7.8 7.2 7.2 9.2 7.3 9.2 6.1 13.8 7.8 29 13.3 19.9 5.8 13.8 2.6 13.7 3.5 10.7 1.1zM616.3 1833l16.3 1.5 15.3-1.1 13.7 0.5 12.3-0.6 10.7 0.5 13.7-0.5 10.7 0.6 12.3-0.6 16.8 1.2 13.8-1.2 19.9-3.7 33.6-11.3 10.7-1.8 15.3-1.2 24.5-3.6 14.6-5.2 5.3-3.1 4-3.5 3.6-4.9 1.3-5-0.7-4.9-2.7-5-4.7-5-7-5.4-18.4-9.4-3.2-3.3-0.8-3.3 0.4-1.7 2.1-3.3 6.2-5.8 4.1-2.5 15.8-6.9 6.1-4.2 3.7-3.7 3.9-6.1 2.8-7.1 2.1-8.3 1.5-9.9 0.2-26.4-0.8-5-3.3-11.6-1.9-13.2-1.7-6.6-3.7-9.9-5.9-11.6-7.6-11.3-7.7-8.9-12.2-10.7-13.8-9.2-16.8-9.1-26-11.5-18.4-5.1-12.2-2.2-16.8-4-10.7-0.9-50.5-2.4-50.5 2.3-12.2 1-16.8 4-12.3 2.2-16.8 4.7-26 11.2-15.3 8-15.3 9.9-12.2 10.3-7.7 8.4-7.6 10.8-6.1 11.3-4.6 11.5-2.1 7.8-2 13.2-3.8 14.9-0.4 5 0.2 21.4 1.4 10 2.1 9 3.1 8 3 5 4.2 4.4 5 3.7 6.1 3.2 11.2 4.6 5.2 3.4 6.4 6.6 1.2 3.3-0.2 1.6-1.9 3.3-1.9 1.7-18.5 9.4-5 3.8-5.3 4.9-3.4 5-1.1 3.3 0 5 1.1 3.3 3.6 4.9 5.5 4.5 6.2 3.2 9.1 3.2 9.2 2 19.9 2.7 13.8 1 10.7 1.8 33.6 11.3z"/><path fill="#b3ff4c" d="M250.2 2150.1l0 0.9 10.7-0.3 38.2-2 12.3-1.1 26-5.4 21.4-6.1 12.2-5 9.2-4.4 18.4-10.1 10.7-6.7 7.6-5.8 7.6-6.8 6.2-6.7 6.4-8.2 6.4-9.9 4.8-9.9 2.2-6.6 2.7-13.2 5.5-14.9 0.5-5 0-18.1-1.8-11.6-1.8-6.6-2.6-6.6-2.8-5-4.2-4.9-8.6-6.6-16.8-8.3-9.9-6.6-5.2-5-0.9-3.3 1-3.3 4.5-4.9 5.2-3.3 9.3-4.2 6.1-3.4 5-4 4.2-4.9 2.2-5 0-5-2.5-4.9-5.1-5-8.4-4.5-9.2-2.9-21.4-3.3-15.3-1.3-12.2-1.8-35.2-9-19.9-3-10.7-0.7-16.8 2.2-24.5 1.6-10.7-0.2zM1097.8 2150.1l22.7 0.9 0-281.5-10.7 0.2-24.5-1.6-16.8-2.2-9.2 0.5-21.4 3.2-36.7 9.3-12.3 1.7-13.7 1.1-21.4 3.3-8 2.5-7.3 3.4-6.1 4.8-3.2 5-0.9 4.9 1.5 5 3.5 5 5.6 4.9 5.7 3.4 10.7 4.9 5.3 3.3 4.4 4.9 1 3.3-0.9 3.3-1.3 1.7-6.2 4.9-7.6 5-16.1 7.9-9.2 7-3.1 3.4-3 4.7-2.4 5.1-2.2 6.9-1.8 8-0.7 6.6 0 18.1 0.5 5 5.5 14.9 2.3 11.5 1.9 6.6 3 7 4.4 7.9 6.3 9.1 6.1 7.5 6.4 6.5 7.4 6.5 7.6 5.5 9.2 5.7 16.8 9.3 10.7 5.2 12.3 5 9.2 2.8 12.2 3.3 19.9 4.4 13.7 1.8zM628.6 1828l7-0.1 13.8-2 27.5-1.6 21.4 0.1 10.7 1.1 12.3 0.4 15.3 2.1 10.7-0.5 21.4-3.3 35.2-8.9 12.2-1.8 15.3-1.3 21.4-3.4 6.1-1.9 6.2-2.6 4.5-2.7 3.1-2.6 3.1-4 1.7-5-0.7-4.9-2.9-5-4.3-4.4-4.5-3.4-14.6-7.1-5.3-3.3-4.4-4.9-1-3.3 0.9-3.3 5.2-5 9.9-6.6 16.9-8.4 6.1-4.4 3.9-3.7 3.8-5.1 3-6.4 2.7-8.3 1.6-8.3 0.5-6.6-0.2-19.8-1.5-6-4.3-10.6-2.3-11.5-1.9-6.6-3.8-8.5-5.8-9.7-6.4-8.7-7.6-8.7-12.3-10.6-13.7-9-24.5-13.3-19.9-7.9-18.3-5.1-26-5.3-15.3-1.3-44.4-2-45.9 2-15.3 1.3-24.4 4.9-18.4 5-9.2 3.2-10.7 4.5-22.9 12.2-15.3 9.6-13 11-7.5 8.3-7.1 9.4-6.1 10.2-3.7 8.5-1.9 6.6-2.3 11.5-4.3 10.6-1.5 6-0.3 19.8 0.5 6.6 1.7 8.3 2.7 8.3 3 6.4 3.8 5.1 3.9 3.7 6.1 4.4 16.9 8.4 9.9 6.6 5.2 5 0.9 3.3-1 3.3-4.4 4.9-5.3 3.3-13.9 6.6-4.6 3.3-3.5 3.3-3.6 5-1.2 3.3 0.1 5 1.3 3.3 4.2 4.9 4.6 3.3 6.6 3.2 7.7 2.4 21.4 3.4 15.3 1.3 12.2 1.8 36.7 9.2z"/><path fill="#bdff42" d="M250.2 2143.5l24.5-0.7 29-1.7 12.3-1.3 10.7-1.9 13.7-3.5 23-7.1 12.2-5.7 24.5-13.9 9.2-6 7.6-6.1 6.1-5.9 6.7-7.3 6.4-8.3 4.4-6.6 3.5-6.6 2.4-6.6 2.7-11.5 6.1-11.2 1.3-3.7 0.7-5 0.1-16.5-0.7-6.6-1.7-6.6-2.8-7.9-2.8-5.3-3.3-4.5-4.6-4.7-9.2-6.7-14.3-7.2-17-10-2.3-2.1-1.5-2.8 0.1-1.7 1.4-3.3 4.6-4.9 7.6-5.3 16-7.9 4.2-3.3 2.8-3.3 2.1-5-0.1-5-2.7-4.9-3.5-3.3-8.1-4.3-10.7-2.7-15.3-2.5-27.5-3-30.6-4.7-13.8-1-9.2 0-7.6 0.9-6.1 1.6-15.3 5.9-11.6 3.2-10.6 1.6-13 0.7zM1110.6 2143.5l9.9 0.2 0-253.9-13.1-0.7-10.5-1.6-11.6-3.2-15.3-5.9-6.1-1.6-7.7-0.9-9.1 0-13.8 1-30.6 4.7-27.5 3-15.3 2.5-10.7 2.7-7.7 4-3.9 3.6-2.7 4.9-0.2 5 2.2 5 2.8 3.3 4.1 3.3 16.1 7.9 7.6 5.3 4.6 4.9 1.4 3.3 0 1.7-1.4 2.8-2.3 2.1-17 10-14.3 7.2-8.4 6-5 4.9-3.5 4.6-2.8 5.3-2.6 6.6-1.8 6.7-0.9 6.6 0.3 21.4 1.7 5.4 6.1 11.2 2.7 11.5 1.6 5 6.4 11.7 12.3 15.5 6.1 6.3 7.6 6.6 15.3 10.1 23 12.9 7.6 3.7 21.4 7 26 6.3 15.3 1.7zM610.1 1818.1l11.8-0.1 7.6-0.9 6.1-1.7 14.2-5.6 12-3.3 10.5-1.6 12.3-0.7 13.8 0.7 10.5 1.6 12 3.3 14.1 5.6 7.7 2 9.2 0.7 13.7-0.3 42.9-6.2 22.9-2.3 15.3-2.5 10.7-2.9 7.3-4 3.5-3.3 2.7-4.9 0.2-5-2.2-5-2.8-3.3-4.1-3.3-16.6-8.2-7.1-5-4.6-4.9-1.4-3.3 0-1.7 1.7-3.3 2-1.6 17-10 15.1-7.7 9.2-6.9 4.6-4.9 3.5-5.2 2.6-5.5 2.6-7.7 1.4-6.7 0.4-4.9-0.1-16.5-0.6-5-2-4.9-5.5-10-2.7-11.5-2.7-7.4-4.6-8.1-6.1-8.5-10.8-12.4-12.1-10.4-10.7-7.1-29.1-16.2-18.4-6.7-22.9-6.2-13.8-2.7-16.8-1.5-35.2-1.9-19.8-0.2-47.5 2.5-18.3 2.4-26 6.7-19.9 6.9-30.6 16.9-13.6 9.3-7.8 6.9-7.5 7.9-6.7 8.3-5.7 8.4-4.7 9.8-4.4 16.5-5.6 9.9-1.8 6.6-0.1 18.2 0.7 6.6 3.7 12.7 4.6 8.8 4.6 5.3 7.3 6.2 32.9 18.2 4.5 3.3 1.8 3.3 0 1.7-1.5 3.3-2.7 3.3-3.9 3.3-6.3 4-13.8 6.6-6.1 4.7-3.3 4.5-1.2 3.3-0.1 3.3 0.9 3.3 3.6 5 4.5 3.3 6.3 2.8 6.1 1.8 18.4 3.1 26 2.7 33.6 5.2z"/><path fill="#c7ff38" d="M250.2 2136.9l0 0.4 3.1 0 18.3-0.6 47.4-3.4 7.7-1.5 18.3-4.9 18.4-5.8 6.1-2.6 26-14.8 12.2-7.8 6.5-5.2 7.3-7.1 6.9-7.8 6.5-8.3 4.2-6.6 2.4-4.9 4.5-15.7 6.7-9.1 2-5 0.5-21.4-0.8-5-2-6.6-2.7-6.6-3.7-6.3-4.6-5.3-5.4-4.9-9.9-6.3-18.4-9.6-12.4-5.6-4-3.3-1.2-3.3 0.1-1.7 1.4-3.3 2.8-3.3 3.8-3.3 9.5-6.1 15.3-7.7 5.2-4.3 1.9-3.4 0.7-4.9-2.1-5-3.4-3.3-3.8-2.2-6.1-2.2-16.8-3.4-38.3-4.1-21.4-0.9-9.2 0.5-10.7 1.7-24.4 7-9.2 1.9-16.8 2-18.4 0.6zM1103.8 2136.9l16.7 0.4 0-240.7-18.4-0.6-16.8-2-9.2-1.9-24.5-7-10.7-1.7-9.1-0.5-19.9 0.8-38.3 4-18.3 3.6-4.6 1.6-4.6 2.4-4.1 3.7-2.1 5 0.6 4.9 2 3.4 5.1 4.3 15.3 7.7 9.5 6.1 3.9 3.3 2.8 3.3 1.4 3.3 0.1 1.7-1.2 3.3-4 3.3-12.5 5.6-18.3 9.6-9.9 6.3-5.4 4.9-4.4 5-3.1 4.9-3 6.6-2.1 6.7-1.3 6.6 0.5 21.4 2.1 5 5.2 6.6 1.9 3.3 3.4 13.2 5 9.9 6.1 8.3 6.5 7.8 7.7 7.9 6.6 5.8 11.7 7.9 32.1 18 19.9 6.5 26 6.6 13.8 1.5zM571.7 1809.8l21.1 1.3 13.8-0.6 12.2-2.1 19.9-5.9 10.7-2.4 16.8-2.1 19.9-0.6 18.4 0.6 15.4 1.9 9 1.8 18.4 5.5 9.2 2.2 12.2 1.5 12.2 0.1 16.9-1.1 35.1-3.7 16.9-3.3 4.5-1.5 4.6-2.2 4.6-3.9 2-3.6 0.3-5-2.3-4.7-3-3.1-3.1-2-13.8-6.8-10.2-6.5-3.9-3.3-2.8-3.3-1.4-3.3-0.1-1.7 1.3-3.3 3.9-3.3 13.2-6 18.4-9.6 9.1-5.9 5.4-4.9 4.4-5 3.1-4.9 2.5-5.4 2.7-7.9 1.2-6.6-0.5-21.4-1.9-4.7-5.4-6.9-1.8-3.3-3.5-13.2-4-8.3-9.7-13.2-10.8-11.6-9.6-8.2-11.8-7.7-26-14.8-6.1-2.8-21.4-6.6-16.9-4.5-9.1-1.6-44.4-3-22.9-0.7-24.5 0.8-42.8 3.1-7.7 1.4-18.3 4.9-19.9 6.2-6.1 2.8-27.6 15.7-10.7 7.1-10.7 9.4-10.7 11.9-9.2 13-3 6.7-3.5 13.2-1.8 3.3-5.4 6.9-1.9 4.7-0.6 18.1 0.3 5 2.2 8.7 4 9.5 3.6 5.6 6.1 6.5 5.3 4.4 5.5 3.4 19.8 10.4 13.3 6 2.4 1.7 2.4 3.3 0.3 1.6-0.6 3.3-2.1 3.3-3.4 3.3-10.7 7.4-15.3 7.6-6 4.8-1.9 3.4-0.7 3.3 0.4 3.3 1.8 3.3 3.3 3.2 2.7 1.7 9.5 3.4 16.9 3.1z"/><path fill="#d2ff2d" d="M250.2 2130.3l0 1.4 13.8-0.3 55-3.7 24.5-6.1 19.9-5.9 4.6-2.1 27.5-15.6 10.7-7 6.4-5.3 7.4-7.3 12.2-14.5 5.8-9.6 4.7-14.8 2.3-3.4 5.6-5.9 1.9-4 0.9-19.8-0.7-4.9-2-6.7-2.9-6.6-3.4-5.7-4.5-5.4-5.8-5.4-8-5.3-16.8-8.8-18.4-7.6-3-2.3-2-2.4-1.4-5 0.7-3.3 0.9-1.6 3-3.3 4.1-3.3 11.5-7.2 14.9-7.7 4.1-3.3 1.9-3.3 0.1-3.3-1.4-3.3-2.8-2.7-7.6-3.5-15.3-3.6-27.6-3-12.2-0.5-13.8 0.6-9.1 1-32.2 7.3-15.3 2.6-19.8 1.6-18.4 0.3zM1087.5 2130.3l33 1.4 0-230.9-18.4-0.3-19.9-1.6-15.3-2.6-32.1-7.3-21.4-1.6-12.2 0.4-29.1 3.1-13.9 3.2-8.2 3.3-3.6 3.3-1.5 3.3 0.2 3.3 1.8 3.3 4.1 3.3 18.1 9.4 10.5 7.1 5 5 1.4 3.3 0 3.3-1.2 3.3-1.2 1.6-4.3 3.3-17.9 7.4-15.3 7.9-7.6 4.8-4.6 3.8-5.7 5.9-3.5 4.9-2.6 5-3.3 8.3-1.4 6.6 0.4 19.8 1.9 4.9 6 6.6 2.3 3.4 3.4 11.5 2.9 6.6 4.4 6.6 8.1 9.9 7.8 8.3 6.8 6.2 12.2 8.5 30.6 17.3 21.4 6.8 23 6 7.6 1zM570.1 1806.5l12 0 15.3-1.1 44.3-9.5 26-2.4 35.2 0 19.9 1.5 15.3 2.6 32.1 7.3 7.7 1 13.7 0.7 12.3-0.3 28.8-3.1 14-3 6.1-2 5.2-3.2 2.4-3.3 0.5-1.7-0.2-3.3-1.8-3.3-4.1-3.3-17.3-9-11.3-7.5-3.6-3.3-1.9-2.6-0.9-2.4 0-3.3 1.2-3.3 1.2-1.6 3.1-2.6 4.6-2.3 13.7-5.4 19.9-10.5 7.7-5.7 7.6-8.1 3.1-4.7 2.6-5.3 2.5-6.7 1.2-4.9 0.4-5-0.7-8.2 0.2-6.6-1.1-5-2.1-3.2-4.8-5-2.3-3.4-3.9-13.2-4.5-8.2-10.5-13.4-12.2-12.3-6.1-5-7.7-5-30.6-17.4-4.5-2-18.4-5.4-10.7-2.4-10.7-3.2-7.7-1.1-48.9-3.2-27.5-0.2-58.2 3.9-24.4 6.2-21.4 6.6-29.1 16.4-10.7 6.8-10.7 9.2-10.7 11.7-6.3 8.1-4.1 6.6-2.1 5-3.4 11.5-2.2 3.4-4.9 5-2.1 3.2-0.9 3.3 0.1 8.3-0.7 8.2 1.1 8.3 4.5 11.6 4.1 6.6 6.2 6.7 6.1 5.2 7.6 4.6 16.9 8.6 15.6 6.3 4.3 3.3 2 3.3 0.5 3.3-0.7 3.3-2.2 3.3-2.7 2.5-9.2 6.5-20.3 10.8-4.1 3.3-1.6 2.7-0.5 2.3 0.5 3 1 1.9 3.6 3.3 3.1 1.6 12.2 3.5 9.2 1.7z"/><path fill="#dcff23" d="M250.2 2125.4l0 1.2 15.3-0.3 52-3.7 4.6-0.9 9.2-3 10.7-2 9.1-3 10.8-2.5 3-1.2 24.5-13.5 15.3-9.7 12.2-11.1 12.7-14.8 5.2-8.2 4.7-13.2 2.2-3.4 6.6-6.6 1.9-3.3 0.6-3.3-0.2-6.6 1-9.9-0.9-4.9-2.2-6.7-3.1-6.6-3.2-4.9-4.3-5-5.7-5.2-7.6-5.2-13.8-7.2-7.7-3.5-10.7-3.7-5.9-3.3-4.9-4.9-2.7-6.6 0.1-3.3 0.7-1.7 3.1-3.3 11.2-7.6 23.4-13.9 1.5-1.6 0.6-1.7-0.2-1.6-0.8-1.7-1.9-1.6-7.6-3.3-10.4-2.9-21.5-2.8-12.2-0.7-22.9 2.6-36.7 7.1-13.8 1.8-21.4 1.3-19.9 0.1zM1089.1 2125.4l31.4 1.2 0-222.7-19.9-0.1-21.4-1.3-13.8-1.8-36.7-7.1-22.9-2.6-12.3 0.7-21.4 2.8-10.5 2.9-7.5 3.3-1.9 1.6-0.9 1.7-0.1 1.6 0.6 1.7 1.5 1.6 23.4 13.9 11.2 7.6 3 3.3 0.7 1.7 0.2 3.3-2.7 6.6-4.9 4.9-6 3.3-10.7 3.7-7.6 3.5-13.8 7.2-7.6 5.2-9.2 9.2-5.6 9.2-2.8 6.7-1.6 6.6 0.7 19.8 2.4 4.9 6.5 6.6 2.3 3.4 3.9 11.5 2.6 5 11.5 14.8 7.6 8 7.7 6.8 12.2 8.2 29.1 16.2 4.6 1.6 9.1 2.1 7.7 2.6 12.2 2.4 10.7 3.4zM552.6 1801.6l14.2 1.3 9.2-0.2 18.3-2.4 38.3-7.3 13.7-1.7 19.9-1.1 38.3 0 21.4 1.2 14.4 1.9 37.6 7.2 21.4 2.5 12.2-0.7 20-2.4 7.4-1.6 9.7-3.3 5-3.3 0.9-1.7 0.1-1.6-0.6-1.7-3.8-3.3-21.9-12.7-10.4-7.1-1.8-1.7-1.9-3.3 0.2-4.9 2.4-5 4.8-4.9 6.2-3.4 14.3-5.2 16.8-8.7 9.2-6.2 7.9-7.9 3.6-5 2.3-4.4 3-7.2 1.4-4.9 0.4-5-1.3-18.1-2-3.3-6.5-6.6-2.3-3.4-3.9-11.5-4.7-8.3-10.1-12.4-12.3-12-6.1-4.7-7.6-5-29.1-16.2-4.6-1.8-9.2-2.1-9.1-3.1-10.7-1.9-10.7-3.4-6.2-0.9-47.4-3.4-29-0.3-56.6 4-4.6 1-8.1 2.8-11.8 2.1-8.1 2.8-12.9 3.3-35.6 20-8.7 6.4-8.1 7.6-8.2 9-7.6 9.9-3.6 6.6-3.9 11.5-2.3 3.4-7.7 8.2-1.4 5 0.2 6.6-1 8.2 0.9 6.6 4.5 11.6 5.6 8.6 7.7 7.6 9.1 6.2 16.9 8.7 14.3 5.2 6.1 3.4 4.9 4.9 2.3 5 0.3 4.9-0.7 1.7-2.8 3-10.7 7.4-24.2 14.4-1.8 2.4 0 2.8 1.6 2.1 3 2 10.8 3.9 7.4 1.6z"/><path fill="#e6ff19" d="M250.2 2120.4l0 1.6 13.8-0.2 52-3.8 13.7-3.8 12.3-2.3 19.9-5.5 19.8-10 13.8-8.1 7.6-5.3 6.2-5 7.3-7.2 11.2-13.2 4-6.6 4.6-11.5 2.4-3.4 7.2-6.9 2.5-4.6 1.2-18.2-1.4-6.6-2.7-6.6-2.5-5-3.5-4.9-8.9-8.9-7.7-5-13.7-7.3-6.2-2.8-11.6-4.1-6.4-3.3-4.4-3.3-4.6-5-3.5-4.9-1.1-3.3 0.3-3.3 0.7-1.7 2.8-3.3 22.9-13.2 6-5 1.5-3.3-0.4-1.6-1.5-1.7-2.7-1.6-5.6-1.9-18.4-2.9-10.7-0.5-36.7 5.9-36.7 4.3-22.9 0.9-19.9 0zM1084.5 2120.4l19.1 1.3 16.9 0.3 0-215.5-19.9 0-23-0.9-36.7-4.3-36.7-5.9-13.7 0.9-15.3 2.5-5.7 1.9-2.6 1.6-1.5 1.7-0.5 1.6 1.5 3.3 6.1 5 22.9 13.2 1.7 1.7 1.8 3.3-0.1 4.9-1.7 3.3-3.9 5-3.2 3.3-4.1 3.1-6.7 3.5-14.7 5.4-15.3 7.9-9.2 5.9-7.7 7.4-3.7 4.8-2.4 4.2-3.2 7.4-1.6 4.9-0.5 6.6 1 6.6 0 6.6 0.8 3.3 2.3 3.3 8.2 8.3 2 3.3 2.9 8.3 2.6 4.9 10.3 13.2 7.3 7.6 7.7 6.7 6.1 4.5 10.7 6.6 23 12.2 6.1 2.3 7.6 1.7 10.7 3.2 10.7 1.9 12.3 3.5zM559.6 1798.3l13.3 0 32.1-5.5 27.6-3.4 13.7-1.3 19.9-0.6 38.3 0 22.8 0.9 36.8 4.2 36.7 6 12.2-0.5 16.9-2.8 4.6-1.2 4.4-2.4 1.5-1.7 0.5-1.6-1.5-3.3-6.1-5-23.3-13.6-1.5-1.6-1.6-3 0.1-4.9 1.7-3.3 4-5 3.2-3.3 4.3-3.3 6.6-3.4 15.3-5.7 15.3-7.9 9.2-6.2 7.6-7.6 5.8-8.8 4.4-11.6 0.5-6.6-1-6.6 0-6.6-0.8-3.3-2.3-3.3-6.8-6.6-2.5-3.4-4.5-11.5-5.3-8.3-9.9-11.5-11.2-10.4-15.3-10.3-26-14-4.6-1.7-9.2-2.1-9.2-2.8-10.7-1.9-10.7-3.3-6.1-0.9-44.3-3.4-30.6-0.3-16.9 0.9-38.2 3.2-13.8 3.8-10.7 1.9-21.4 5.9-18.3 9.4-18.4 11-9.2 7.1-10.7 10.6-10.8 13.8-2.5 4.9-3 8.3-1.9 3.3-8.3 8.3-2.3 3.3-0.7 3.3 0 6.6-1 6.6 0 3.3 0.9 4.9 4 10 5.2 8.2 6.3 6.6 8 6 12.2 6.7 9.2 4.4 12.5 4.4 6.3 3.3 6.1 5 5.5 6.6 1.6 3.3 0.4 3.3-0.9 3.3-1.2 1.6-4 3.3-22.9 13.2-3.7 3.4-1.5 3.3 0.5 1.6 1.5 1.7 5.9 2.9z"/><path fill="#f0ff0f" d="M250.2 2117.1l0 0.7 19.9-0.5 45.9-3.6 26-6 16.8-4.6 9.2-3.5 10.7-5.5 16.8-10.2 7.6-5.4 7.7-6.6 9-9.3 6.3-8 3-5.2 3.3-8.3 2.1-3.3 8.8-8.3 2.6-3.3 0.9-3.3 0.2-6.6 1-6.6-0.6-6.6-4.7-11.6-2.9-4.9-4.1-5-6.6-5.9-10.7-6.7-15.3-7.7-13.7-5.1-7.8-4.3-12.9-9.9-3.6-5-1.1-3.3-0.2-3.3 0.5-3.3 1.2-3.3 2.5-3.4 3-2.6 10.1-5.5 2-1.7 1.1-1.7 0-1.6-1.5-1.7-5.6-2-7.6-0.8-18.4 2.1-35.1 1.7-26 2-39.8 0.2zM1096.4 2117.1l24.1 0.7 0-209-39.8-0.2-26-2-35.2-1.7-18.3-2.1-7.7 0.8-5.5 2-1.5 1.7 0 1.6 1.1 1.7 2 1.7 10 5.5 3.1 2.6 2.5 3.4 1.2 3.3 0.5 3.3-0.2 3.3-1.1 3.3-3.6 5-12.9 9.9-7.8 4.3-13.8 5.1-15.3 7.7-10.7 6.7-6.6 5.9-4 5-3 4.9-4.6 11.6-0.6 6.6 1 6.6 0.1 6.6 1 3.3 2.6 3.3 8.8 8.3 2 3.3 3.3 8.3 2.9 4.9 6.3 8 7.6 8.1 6.2 5.6 7.6 5.9 23 13.9 15.3 6.9 41.2 10.4 6.2 1zM556.5 1790l5.7 1 4.6 0.2 18.4-2.2 33.6-1.6 26-1.9 21.4-0.5 56.6 0.3 29.1 2.1 33.6 1.6 16.8 2.1 6.2-0.1 5.6-1 3.7-1.6 1.5-1.7 0.1-1.6-3.2-3.4-10.8-6-3.1-2.9-1.5-2.3-1.4-3.6-0.5-5 0.6-3.3 1.6-3.3 4.6-4.9 11.1-8.3 9.2-5 14.6-5.4 13.7-7.1 9.2-5.7 7.4-6.5 4-5 3-4.9 4.6-11.6 0.6-6.6-1-6.6-0.4-8.3-2.9-4.6-9.2-8.6-2-3.3-4.2-9.9-5.7-8.3-9.5-10.4-9.2-8.2-15.2-10.3-18.4-10.3-10.7-4.4-18.4-5-27.5-6.1-44.3-3.4-30.6-0.3-18.4 1-36.7 3.1-24.5 5.7-21.4 6-13.7 6.5-19.9 12-10.7 8-9.9 9.5-5.7 6.6-4.8 6.6-5.1 11.6-2 3.3-8.9 8.3-2.6 3.3-0.9 3.3-0.2 6.6-1 6.6 0.1 3.3 1 4.9 4.2 10 4.2 6.6 7.1 7.4 8.2 5.8 13.2 7.1 7.7 3.7 11.5 4 6.5 3.3 13.8 10 4.6 4.9 1.5 3.3 0.7 3.3-0.5 5-1.4 3.6-1.6 2.3-3 2.9-10.8 6-3.2 3.4 0 1.6 1.5 1.7z"/><path fill="#fbff04" d="M250.2 2113.8l26-0.7 36.7-2.8 7.7-1.2 24.4-6 21.4-6.4 10.7-5.4 18.4-11.5 10.7-8 10.7-10.5 8.1-10.3 6.5-13.2 9.6-8.3 2.8-3.3 1.1-3.3 1.2-16.5-2.3-8.2-5.2-10-7.1-8.2-10.1-7.2-17.7-9.3-16.7-6.6-23.1-13.3-3.6-3.3-2.9-4.9-3.3-13.2-1.3-3.3-2.9-3.3-3.4-1.9-9.2-2.4-13.8-1.1-12.2 0-26 1-35.2-0.3zM1108.4 2113.8l12.1 0.2 0-203.1-35.2 0.3-26-1-12.2 0-13.8 1.1-9.7 2.6-2.9 1.7-2.9 3.3-1.4 3.3-3.2 13.2-2.9 4.9-3.6 3.3-23.9 13.6-15.3 6-15.3 7.9-9.1 5.7-7.3 6.5-5.9 8.2-3.1 6.7-1.7 4.9-0.7 6.6 1.6 14.9 3.3 4.6 9.8 8.6 7.7 14.9 5.4 6.9 7.7 8 6.1 5.5 7.6 5.7 16.1 10.2 9.9 5.6 9.2 3.8 15.3 4.3 29.1 7zM604.7 1783.4l15.6 0.5 29.1-1.1 59.6-0.1 47.5 1.1 15.3-1 5.5-1.1 4.9-1.6 3.3-2 2.5-3 1.4-3.3 3.2-13.2 2.9-4.9 3.6-3.3 23.1-13.3 15.3-5.9 15.3-7.8 10.7-6.8 6.5-5.9 5.9-8.2 3.1-6.7 1.7-4.9 0.8-6.6-1.7-14.9-2.5-3.8-10.6-9.4-6.6-13.2-6.3-8.3-10.2-10.4-10.7-8.6-18.3-11.7-12.3-6.4-21.4-6.5-24.4-6-9.2-1.5-45.9-3.2-21.4-0.3-19.9 0.8-42.8 3.5-26 6.3-23 6.9-12.2 6.4-19.9 12.8-9.8 8-10.1 10.5-6.1 8.3-6.2 12.6-9.5 8.3-2.9 3.3-1.1 3.3-1.3 13.2 0.4 4.9 2.1 6.6 4.1 8.3 4.9 6.6 4.9 4.7 6.1 4.4 9.2 5.2 12.3 6.2 15.2 5.9 23.2 13.3 3.5 3.3 2.2 3.3 1.9 4.9 2.1 9.9 2.5 5 2.9 2.4 4.6 1.9 6.1 1.4z"/><path fill="#fff900" d="M250.2 2108.8l0 1.6 15.3-0.3 53.5-4.1 13.8-3.7 12.2-2.6 19.9-5.8 6.1-2.7 10.7-6.3 18.4-12.2 10.7-9.2 10.7-12.2 8.7-15.2 8.6-6.6 3.1-3.3 1.3-3.3 1.4-13.2-0.1-3.3-2.5-8.2-4.3-8.3-3.7-5-3.3-3.4-6.1-4.6-7.7-4.6-13.8-7.3-13.7-5.3-30.6-14.7-3.6-3-2.5-3.3-5.5-11.6-2.2-3.4-3.1-3.2-5.9-3.3-9.3-2.4-15.3-1.4-29.1 0.3-32.1-0.7zM1086.5 2108.8l18.7 1.3 15.3 0.3 0-197.4-32.1 0.7-27.6-0.4-12.2 0.9-8.6 1.4-8.2 2.9-4.8 3.7-3.5 4.9-6.6 13.2-5.4 5-30.2 14.4-10.7 4-6.1 2.8-16.9 9.4-9.1 7.1-6.6 8.5-2.6 5.2-2.4 6.4-0.9 6.6 1.4 13.2 1.4 3.3 1.3 1.7 10.4 8.2 8.7 15.2 5.1 6.3 7.1 7.3 12.2 10 24.5 15.5 9.2 3.9 18.3 5.4 12.3 2.6 12.2 3.4 7.7 1.1zM616.3 1780.1l10.2 0.6 27.5-0.4 30.6 0.7 32.1-0.7 27.5 0.4 16.8-1.3 10.8-2.8 4.5-2.6 4-3.8 7.5-14.9 2.5-3.3 4-3.3 31-14.7 10.7-4 5.8-2.8 17.1-9.6 8.8-6.9 4-4.9 3.1-5 3-6.6 1.5-5 0.5-4.9-1.9-14.9-3.7-4.7-9.1-7.2-7.7-13.7-7.4-9.1-9.4-9.1-9.2-7-18.4-11.9-10.7-5.7-21.4-6.5-12.2-2.6-12.2-3.5-9.2-1.3-47.4-3.2-21.4-0.2-18.4 0.8-36.7 2.6-7.7 1-13.7 3.8-10.7 2.2-23 6.9-12.2 6.6-19.9 13.1-9.2 7.6-9.3 9.7-5 6.6-7.1 12.9-9.2 7.2-3.6 4.7-1.9 14.9 0.9 6.6 3.1 8 4 6.9 4.1 4.9 5.7 4.8 9.2 5.8 13.7 7.3 13.8 5.4 30.9 14.7 5.4 5 7.6 14.8 4.3 5 3.8 2.4 4.6 1.8 6.1 1.4z"/><path fill="#ffef00" d="M250.2 2105.5l0 1.5 13.8-0.2 55-4 13.8-4.1 10.7-1.9 10.7-3.6 9.8-2.5 5.5-2.3 7.6-4.1 21.5-14.2 9-7.5 10.8-11.7 9.4-14.8 2.9-2.7 6.1-4.1 3.1-3.1 1.5-3.3 1.5-14.8-2.1-8.3-4-8.1-3.6-5.1-4.1-4.1-6.1-4.4-10.7-6.4-10.7-5.6-12.2-4.8-10.7-5.3-19.9-7.1-4.6-2.2-5.3-4.7-10.3-14.9-4.3-3.6-5.7-3-6.5-1.9-13.8-2.1-58.1-1.3zM256.3 1965.3l-4.5-1.8 2.4-1.7 6.7-1.7 3.1 0.6 1.6 1.1-0.4 1.7-2.8 1.4zM1088 2105.5l17.2 1.2 15.3 0.3 0-191.8-58.1 1.3-15.1 2.4-7.9 2.8-3.6 2.1-3.7 3.3-10.4 14.9-5.6 4.9-5.7 2.6-15.3 5.2-13.8 6.6-12.2 4.8-15.3 8.2-10.7 7-4.6 4.2-4.6 6.2-4.1 8.1-1.8 6.6-0.2 3.3 1.1 6.6 0.4 6.6 1.5 3.3 3.1 3.1 6.1 4.1 2.8 2.7 8.2 13.3 5.5 6.6 6.4 6.5 9.2 7.6 19.9 13.3 7.6 4.3 6.2 2.7 10.7 2.8 9.1 3.1 12.3 2.4 10.7 3.4 9.2 1.4zM1109.8 1965.3l-4.3-1.8-0.4-1.7 3.1-1.6 4.6 0.4 3.6 1.2 2.4 1.7-3.2 1.6zM673.1 1778.4l13 0.4 56.6-1.2 15.8-2.5 8.8-3.3 6.4-4.9 10.4-14.9 5.6-4.9 6.5-2.9 13.8-4.6 15.3-7.2 12.2-4.9 16.8-9.2 10.9-7.6 4.4-4.9 3.1-4.8 2.6-5.2 2-5.7 0.7-5.8-2-14.9-3.3-4.1-6.2-4.1-3.5-3.3-8.7-13.8-10.7-11.8-9.1-7.8-19.9-13.4-9.2-5.2-6.1-2.5-10.7-2.8-9.2-3.2-12.2-2.3-12.3-3.7-47.4-3.7-19.9-0.7-19.9 0.4-45.8 3.2-7.7 1.1-10.7 3.4-12.2 2.3-9.2 3.2-10.7 2.8-9.2 4.1-24.5 15.9-9.1 7.4-6.2 6.1-6.1 7.2-9.1 14.4-3.1 2.7-5.1 3.3-3.4 3.3-1.4 3.3-0.4 6.6-1.1 6.6 0.1 3.3 2.6 8.2 4.1 7.7 4.3 5.6 3.6 3.3 7.4 5 10.7 6.1 9.2 4.7 10.7 4.2 12.2 5.9 18.4 6.5 5 2.3 5.6 4.9 7.7 11.6 3.1 3.7 3.3 2.9 5.9 3.1 7.6 2.3 13.8 2zM673.9 1733.9l-1.6-0.3-2.3-1.4 0.4-1.7 3.2-1.6 6.9 0 3.3 1.6-2.5 1.7-4.4 1.4zM695.3 1733.9l-5.9-1.7-2.6-1.7 3.4-1.6 6.9 0 3.2 1.6 0.4 1.7-2.4 1.4z"/><path fill="#ffe400" d="M250.2 2102.2l0 1.7 12.2-0.3 56.6-4 12.3-3.9 13.7-2.7 21.4-6.9 9.2-4.1 21.4-14.5 7.7-6 10.7-11 11.8-16 8.1-5.8 2.5-2.5 1.6-3.3 0.2-6.6 1.4-8.2-1.4-6.6-3.9-8.3-4.8-6.6-4.8-4.3-10.7-6.9-12.3-6.7-26-11.5-19.8-5.8-6.9-2.8-6.4-5-14.3-14.4-4.6-3.2-4.4-2.2-10.3-3.3-5.1-0.9-55.1-2.2 0 35.7 12.2-0.7 8.3 1.2 4.3 1.6 5.3 3.3 2 2.3 0.7 2.7-0.7 1.6-2.2 1.7-9.8 3.3-7.9 1.7-12.2 0.7zM1087.6 2102.2l19.1 1.4 13.8 0.3 0-131.4-12.3-0.7-7.8-1.7-9.8-3.3-2.2-1.7-0.8-1.6 0.8-2.7 2-2.3 5.2-3.3 4.3-1.6 8.3-1.2 12.3 0.7 0-35.7-55.1 2.2-5.2 0.9-10.2 3.3-4.5 2.2-4.6 3.2-14.2 14.4-6.4 5-6.9 2.8-18.3 5.2-13.8 6.4-10.7 4.2-13.8 7.4-8.8 5.4-4.9 3.5-4.7 4.7-6 10-2.6 8.2-0.1 3.3 1.3 6.6 0.1 5 0.7 3.3 2.6 3.3 9.1 6.6 13.7 18.2 6.4 6.6 7 6 26 17.6 9.2 3.8 12.2 3.5 7.6 2.8 13.8 2.7 9.2 3.2 4.6 0.9zM646.1 1775.1l40 1.5 45.9-1.7 12.2-1.1 12.3-3.9 5.5-3 3.6-2.7 13.5-13.8 6.4-5 6.1-2.6 19.9-5.7 12.3-5.7 10.7-4.2 16.8-9.1 12.2-8.3 3.9-4 3.8-5.6 2.9-6 1.6-5 0.4-4.9-1.3-6.6-0.1-5-0.7-3.3-2.6-3.3-9.1-6.6-11-15-10.7-11.3-7.7-6.2-19.9-13.6-6.1-3.4-7.6-2.9-12.3-3.6-7.6-2.8-12.7-2.3-11.8-3.8-50.4-3.9-16.9-0.6-18.3 0.5-47.4 3.2-7.7 1.1-10.2 3.5-12.7 2.3-7.7 2.8-12.2 3.6-7.7 2.9-7.6 4.4-18.4 12.6-6.1 4.8-11 11.2-12.2 16.5-10.7 8.3-1.6 3.3-0.2 6.6-1.4 8.2 0.9 5 2.6 6.6 4 6.6 3.6 4.3 4.6 3.8 6.1 4 18.4 10.2 12.2 5 9.2 4.5 7.6 2.8 15.3 4.1 6.2 2.6 6.3 5 13.5 13.8 6.4 4.3 5.9 2.6 9.2 2.7zM666.2 1740.8l-5.7-2-5.2-3.3-2.6-3.3-0.2-1.7 0.8-1.6 2.2-1.7 4.1-1.6 11.2-3 13.8-1.1 13.7 0.8 7.2 1.6 9.7 3.3 2.2 1.7 0.8 1.6-0.2 1.7-0.9 1.6-4 3.3-5.6 2.8-4.6 1.2-6.1 0.5-12.2-0.7-12.3 0.7z"/><path fill="#ffda00" d="M250.2 2100.6l15.3-0.1 52-3.8 13.8-4.1 12.2-2.4 26-8.3 4.6-2 22.9-15.9 6.1-4.7 8.3-8.3 13.8-16.5 10.6-8.3 1.6-3.3 0-6.6 1.7-8.2-0.8-5-3-7.1-4-6.1-3.7-4-5.7-4.3-10.6-6.6-12.4-6.6-20.2-8.9-7.7-2.6-19.9-4.7-18.1-8.6-5-3.3-10.5-10.5-7.7-4.7-6.1-1.8-9.1-1.1-44.4-2.3 0 28.8 13.8-0.8 4.6 0.5 6.1 1.6 7.6 3.1 4.6 2.7 2.6 2.7 1 3.3-0.7 3.3-1.4 2.2-3 2.6-3.1 1.3-18.3 3.7-13.8 0.9zM1107.1 2100.6l13.4 0.3 0-125.1-13.8-0.9-18.3-3.7-3.1-1.3-3.1-2.6-1.4-2.2-0.6-3.3 1-3.3 2.6-2.7 4.6-2.7 7.6-3.1 6.1-1.6 4.6-0.5 13.8 0.8 0-28.8-44.3 2.3-9.3 1.1-4.5 1.2-5.4 2.6-3.8 2.7-12.7 12.2-16.3 8.2-7.7 3-15.3 3.3-7.7 2.4-21.4 9.4-10.7 5.6-16.8 10.7-3.9 3.6-3.8 5.2-4 8.1-1.3 6.6 1.7 8.2 0 6.6 1.6 3.3 10.6 8.3 13.7 16.5 8.3 8.3 27.6 19.7 6.1 2.9 26 8.3 12.2 2.4 12.2 3.9zM674.2 1773.5l15 0.5 39.7-2.1 12.5-1.7 4.4-1.7 5.5-3.3 14-13.2 16.3-8.2 8.5-3.2 13.8-2.9 7.6-2.3 25.8-11.5 11.9-6.6 10.3-6.6 5.6-4.9 3.6-5 3.5-6.6 1.9-6.6 0-3.3-1.6-6.6 0.1-5-0.6-3.3-2.9-3.3-5.6-3.7-3.2-2.9-13.7-16.5-7.6-7.6-6.1-4.9-22.3-15.6-5.2-2.5-26-8.4-13.8-2.8-12.2-3.8-52-3.8-15.3-0.5-15.3 0.4-48.9 3.4-6.2 0.8-10.7 3.5-12.2 2.3-30.6 10.2-24.5 16.8-6.1 4.9-7.5 7.6-13.7 16.5-10.9 8.7-1.3 2.9-0.1 6.6-1.6 6.6 0.1 3.3 1.8 6.6 4.6 8.3 4.2 4.9 4.5 3.7 10.7 6.8 13.8 7.5 24.5 10.5 24.6 6.2 17.3 8.3 5 3.3 11.8 11.5 7.1 4 4.5 1.4 9.2 1.2zM666.2 1745.5l-6.2-1.7-7.7-3.4-4.4-2.8-1.8-2.1-1-3.3 0.6-3.3 0.9-1.7 3.9-3.3 4.5-1.6 14.3-2.8 7.6-0.9 9.2-0.4 11.9 0.8 17.2 3.2 4.6 1.5 4.2 3.5 1.5 3.3-0.2 3.3-0.7 1.7-3.3 3.3-6.4 3.3-8.9 3-7.7 1-12.2-0.8-13.8 0.8z"/><path fill="#ffd000" d="M250.2 2097.3l0 0.8 12.2-0.3 55.1-4 13.8-4 13.7-3 13.8-4.8 10.7-2.7 4.1-1.9 12.7-9.7 15.3-10.6 6.4-6.1 11.5-13.2 7.4-6.6 6.8-5.1 1.7-3.2 0-6.6 1.8-8.2-0.8-5-2.7-6.2-6.3-8.7-3.9-3.3-7.3-4.9-17.5-9.9-20-8.9-9.2-2.9-16.8-3.1-13.8-3.8-10.7-1.2-5-1.6-4.2-3.4-7.6-11.7-3.3-3.1-4.4-2.3-4.6-1.3-8.4-1.3-40.5-2.8 0 22.3 12.2-1.2 4.6 0.1 4.6 0.9 10.7 3.4 6.1 2.3 5 3.1 2.4 3.3 0.4 3.3-0.9 3.3-2.9 4.9-3.7 3.3-3.3 1.7-5.8 1.6-12.6 2-16.8 1.2zM1100.9 2097.3l19.6 0.8 0-119.9-18.4-1.4-11.1-1.8-5.9-1.6-4.4-2.6-3.6-4-2.3-5-0.3-3.3 1.3-3.3 3.7-3.3 5.8-2.7 12.2-4 4.6-1.1 4.6-0.4 13.8 1.3 0-22.3-40.6 2.8-8.4 1.3-4.6 1.3-4.3 2.3-3.3 3.1-7.7 11.7-4.1 3.4-5 1.6-10.7 1.2-13.8 3.8-16.8 3.1-9.2 2.9-19.9 8.8-15 8.3-12.1 8.3-3.5 3.6-3.3 4.6-3.4 6.7-1.2 4.9 0 3.3 1.7 6.6-0.2 5 0.7 3.3 1.2 1.6 6.8 5 9.1 8.3 9.8 11.5 6.4 6.1 15.3 10.6 12.2 9.4 4.6 2.2 10.7 2.7 13.7 4.8 13.8 3 12.2 3.7zM672.5 1770.2l15.1 1 36.7-2.5 12.3-2 4.6-1.9 4-2.9 2.9-3.3 6.1-9.9 2.3-2.1 3-1.7 4.1-1.1 11.2-1.3 13-3.7 20.7-4.1 6.1-2.2 19.9-8.9 12.2-6.7 10.7-6.9 5.2-4.2 4-5 3.7-6.6 2-6.6-0.1-3.3-1.6-6.6 0.1-5-0.7-3.3-1.2-1.6-6.8-5-9.1-8.3-9.3-11-6.1-6-6.1-4.7-10.7-7.1-12-9.1-4.8-2.1-9.2-2.3-15.3-5.2-13.8-3-12.2-3.7-53.5-3.9-13.8-0.5-13.8 0.4-50.4 3.4-6.2 1-10.7 3.3-13.7 3-15.3 5.2-9.2 2.3-4.6 1.9-12.2 9.3-10.7 7.1-6.1 4.7-6.2 6-9.3 11-9 8.3-6.8 5-1.2 1.6-0.7 3.3 0.1 5-1.6 6.6-0.1 3.3 1.9 6.6 5 8.3 6.4 6.4 13 8.4 13 7.1 19.9 8.8 7.7 2.4 17.6 3.2 13 3.7 11.2 1.3 5.3 1.6 4 3.3 7.5 11.6 3.6 3.3 3.5 2 4.6 1.5 9.2 1.4zM663.2 1749l-16.9-5.8-4.2-2.8-2.3-3.3-0.4-1.6 0.3-3.3 1.3-3.3 2.2-3.3 4.7-3.9 6.1-2.3 16.8-2.7 13.8-0.9 13.7 0.7 15.3 2.3 6.2 1.5 4.5 2.3 4.4 4.6 2.3 5 0.3 3.3-0.4 1.6-0.9 1.7-2.6 2.6-6.1 3.1-15.3 4.9-7.7 0.9-13.7-1.3-13.8 1.3z"/><path fill="#ffc600" d="M250.2 2094l0 1.4 7.6-0.1 58.2-4 6.1-1.3 10.7-3.3 12.2-2.7 13.8-4.8 9.2-1.9 3.9-1.5 3.7-2.4 9.2-8 15.3-10.3 6.1-5.7 9.2-10.8 16-12.4 1.5-1.6 0.8-3.3 0-5 1.7-8.2-0.4-3.3-1.8-5-5.3-8.3-4.9-4.7-12.2-8.3-13.8-7.5-18.3-8.2-6.1-2.1-32.2-5.7-4.5-0.1-10.8 1-12.2-1.5-4.6 0.3-3 2.4-10.5 13-3.3 2.9-3.4 2-5.8 2-8.3 1.3-11.6 1.3-12.2 0.6zM1095.3 2094l25.2 1.4 0-115.2-12.3-0.6-11.6-1.3-8.2-1.3-5.8-2-3.4-2-3.3-2.9-10.5-13-3-2.4-4.6-0.3-12.3 1.5-10.7-1-4.6 0.1-32.1 5.7-6.1 2.1-16.8 7.5-13.8 7.3-12.2 8-5 4.3-4.9 6.6-2.6 5-1.3 4.9 0.1 3.3 1.5 6.6 0.1 6.6 0.7 1.7 1.4 1.6 16.1 12.4 9.2 10.8 5.2 4.9 5.5 4.2 10.7 6.9 10.7 9.1 6.1 2.8 9.2 1.9 12.2 4.4 15.3 3.5 12.2 3.7 6.2 0.8zM298.5 1946.9l3.7 0.4 1.5-0.5 1.6-2 0.4-2.8-0.7-3.3-1.3-2.2-3-2.8-3.1-1.4-12.2-2.7-6.1-0.5-12.3 0.1-10.7-2.2-6.1-0.6 0 14.6 4.6-0.5 9.2-2.2 3 0 12.3 4zM1067.2 1946.9l1.3 0.4 3-0.2 19.9-4.8 12.2-4 3.1 0 9.2 2.2 4.6 0.5 0-14.6-6.1 0.6-10.8 2.2-12.2-0.1-6.1 0.5-12.2 2.7-4.6 2.6-2.8 3.8-0.6 4.9 0.5 1.7zM678.8 1766.9l8.8 0.6 13.8-2.7 15.3 0 13.8-2.4 4.5-1.7 3.1-2.3 2-3.1 0.6-4.9-1.1-2.6-1.5-1-1.5-0.2-21.4 4.9-12.3 4.1-4.6 0-9.1-2.3-4.6-0.3-12.3 2.6-3 0.2-4.6-1-9.2-3.3-18.3-4.4-4.6-0.3-1.6 1-1 2.6 0.5 4.9 2.2 3.3 4.5 2.8 7.6 2.2 6.1 0.9 6.1 0.4 10.7-0.2zM593.3 1738.8l5.6 0.4 12.3-1.1 12.2 1.6 3.1-0.2 3-1.7 11.2-13.9 3.9-3.3 3.3-1.8 4.6-1.6 9-1.5 21.5-1.9 10.7 0.3 10.8 1 12.2 1.8 6.1 1.9 3.3 1.8 3.8 3.3 11.3 13.9 3 1.7 3.1 0.2 12.2-1.6 15.3 1 30.6-5.2 7.6-2.4 20.6-9.2 13.1-7.3 13.8-9.8 6.1-7.8 2.5-4.9 1.1-3.3 0.3-3.3-1.7-8.2-0.1-6.6-2.1-3.3-16.8-13.1-7.7-9.2-5.9-5.8-17-11.7-9.5-8.1-5.8-3-9.6-2-14.9-5.1-29.1-7.2-56.6-3.9-19.8 0.2-23 1.9-29 1.7-6.2 0.9-12.2 3.7-13.8 3.1-13.7 4.8-9.2 1.9-4.6 2.1-10.9 9.1-16.8 11.6-5.9 5.8-7.7 9.2-16.8 13.1-2.1 3.3-0.1 6.6-1.7 8.2 0.7 5 2.3 4.9 3.2 5 2.7 3.3 4.2 3.7 11.8 7.9 11.1 6.1 23 10.3 7.6 2.1 15.3 2.3z"/><path fill="#ffbb00" d="M250.2 2092.3l0 0.6 10.7-0.4 21.4-1.9 35.2-2.1 15.3-4.4 13.8-3.1 12.2-4.4 7.6-1.2 4.6-1.6 4.2-3 8.1-7.4 15.9-10.7 5.5-5.2 9.2-10.6 9.1-5.6 7.8-6.7 1.1-3.3 0.1-5 1.7-8.2-0.4-3.3-2-5-4.4-6.6-5.4-5.4-12.2-8.4-13.8-7.5-22.9-9.6-6.2-1.4-22.9-3.1-6.1-0.1-12.3 2.4-9.1 0.5-4.6 1.1-7.7 4-12.2 10-7.7 3.1-16.8 2.3-16.8 0.8zM1106.3 2092.3l14.2 0.6 0-111-16.9-0.8-16.8-2.3-7.6-3.1-12.3-10-7.6-4-4.6-1.1-9.2-0.5-12.2-2.4-6.1 0.1-23 3.1-6.1 1.4-22.9 9.6-13.8 7.5-12.2 8.4-5.4 5.4-4.4 6.6-2 5-0.4 3.3 1.6 8.2 0.1 5 1.2 3.3 7.7 6.7 9.2 5.6 9.2 10.6 5.5 5.2 15.9 10.7 8 7.4 4.2 3 4.6 1.6 7.7 1.2 12.2 4.4 13.8 3.1 15.3 4.4 35.2 2.1zM587.7 1735.5l9.7 0.9 12.2-2.4 12.3-1 7.6-3.3 4.6-3.2 8.9-7.5 6.4-3.1 13.8-2.5 19.8-1.3 19.9 0.9 12.3 1.4 6.1 1.5 6.3 3.1 9 7.5 4.6 3.2 4.6 2.3 4.5 1.3 9.5 0.5 10.4 2.2 6.1 0.4 29.1-4.1 7.6-2.5 19.9-8.9 13.8-7.8 12.3-9 6.1-7.6 3.3-7.3 0.3-4.9-1.5-6.6-0.4-6.6-2.5-3.3-5.4-4.5-10.7-6.9-7.6-9.1-6.1-5.9-15.3-10.2-12.3-10.6-4.6-1.9-9.1-1.5-10.7-4-15.3-3.5-10.7-3.4-9.2-1.4-61.2-3.8-12.2 0.4-21.4 1.9-29.1 1.5-7.7 1-13.2 4-14.3 3.3-10.7 4-9.2 1.5-4.6 1.9-12.2 10.6-15.3 10.2-6.1 5.9-7.7 9.1-10.7 6.9-5.4 4.5-2.4 3.3-0.4 6.6-1.6 8.2 0.7 4.3 1.6 4 3.2 5 2.8 3.4 4.6 4.2 10.7 7.3 12.2 6.8 21.5 9.5 9.1 2.5z"/><path fill="#ffb100" d="M250.2 2089l0 1.4 7.6-0.2 24.5-2.1 33.7-1.8 6.1-1.2 12.2-3.9 12.3-2.6 10.7-4.1 9.1-1.3 3.1-1 4.4-3 8.5-8.3 16.2-10.7 4.5-4.3 9.2-10.5 9.2-4.5 7.1-6.3 1.4-3.3 0.4-5 1.5-6.6 0-3.3-1.7-4.9-4.2-6.7-6-6.1-12.3-8.5-13.7-7.4-16.9-7.3-6.1-2.1-6.1-1.1-21.4-2.4-7.6 0.5-9.2 2.4-9.2 1.2-4.6 1.3-9.2 4.1-12.2 8.5-7.7 2.8-16.8 2.2-16.8 0.6zM1098.1 2089l22.4 1.4 0-106.9-16.9-0.6-16.8-2.2-7.6-2.8-12.3-8.5-9.1-4.1-4.6-1.3-9.2-1.2-9.2-2.4-7.6-0.5-21.4 2.4-6.2 1.1-6.1 2.1-16.8 7.3-13.8 7.4-11.6 8-5.3 5-4.7 6.6-2.2 5-0.4 3.3 1.6 8.2 0.4 5 1.4 3.3 7.1 6.3 9.1 4.5 12.9 14 5.5 4.2 12.2 7.9 7.7 7.6 3 2.3 4.6 1.8 9.2 1.3 10.7 4.1 13.8 3 15.3 4.5zM589.9 1733.8l4.4 0.4 4.6-0.4 10.7-2.8 12.3-2 10.7-4.8 12.2-8.5 6.1-2.3 15.3-2.1 16.8-0.8 18.4 0.6 18.4 2.3 6.1 2.3 12.2 8.5 9.2 4.2 4.6 1.4 9.1 1.2 10.8 2.8 7.6 0.2 26-3.3 6.1-1.9 19.9-8.7 13.8-7.8 9.1-6.4 3.9-3.4 5.3-6.7 3.2-6.6 0.3-4.9-1.5-6.6-0.4-5-1.4-3.3-4.8-4.6-3-2.1-7.7-3.5-13.7-14.7-6.2-4.6-10.7-6.8-8.5-8.3-3.7-2.7-4.6-1.5-7.6-0.8-10.7-4.2-15.3-3.4-10.7-3.5-9.2-1.4-29.1-1.3-19.9-1.9-12.2-0.5-12.2 0.4-21.4 2-27.6 1.2-9.2 1.2-13.7 4.2-13.8 3-10.7 4.2-7.6 0.8-4.6 1.5-3.7 2.7-8.6 8.3-10.7 6.8-6.1 4.6-13.8 14.7-7.6 3.5-3.1 2.1-4.7 4.6-1.4 3.3-0.4 5-1.7 8.2 1.1 5 2.6 4.9 3.7 5 7.5 6.6 8.6 5.9 12.3 6.8 21.4 9.3 9.2 2.2z"/><path fill="#ffa700" d="M250.2 2087.4l0 0.6 7.6-0.2 24.5-2.1 33.7-1.8 6.1-1.2 11.4-3.6 13.1-2.9 10.7-4.1 9.1-1 3.1-1.2 3.3-2.4 8.9-9 10.7-6.6 5.6-4.2 12.8-13.6 3.1-1.9 7.3-2.7 3.9-3.3 2.2-3.3 3-13.2-0.1-3.3-1.1-3.4-3.9-6.5-4.4-5-14.6-10.5-12.2-6.7-16.9-7.3-6.1-2-7.6-1.3-19.9-1.9-6.1 0.4-10.7 3-12.3 2.6-10.7 4.3-12.2 7.7-6.1 2.4-15.3 2-19.9 0.8zM1106.2 2087.4l14.3 0.6 0-103-19.9-0.8-15.3-2-6.1-2.4-12.3-7.7-10.7-4.3-12.2-2.6-10.7-3-7.7-0.2-19.8 1.8-6.2 1.2-6.1 2-16.8 7.3-13.8 7.6-10.7 7.7-5.4 5.2-4.5 6.7-1.8 4.9-0.1 3.3 3 13.2 2.2 3.3 3.9 3.3 7.3 2.7 3.1 1.9 12.8 13.6 5.5 4.2 10.7 6.6 9 9 3.3 2.4 3 1.2 9.2 1 10.7 4.1 13.8 3.1 15.3 4.4 9.2 0.9 26.6 1.1zM592.5 1732.2l6.4-0.5 10.7-3.1 10.7-2.2 12.3-4.8 10.7-7 7.6-3 15.3-1.9 16.8-0.7 19.9 0.6 16.9 2 7.6 3 10.7 7 10.7 4.3 23 5.8 7.6 0.4 22.9-2.3 7.7-1.9 18.3-7.8 12.3-6.6 7.6-5.1 7.7-5.9 5.6-6.7 3.4-6.6 0.5-4.9-3-13.2-3.5-4.7-3-2.2-6.1-2.1-3.1-1.6-13.8-14.4-4.6-3.5-12.2-7.7-9.2-9.3-4.6-2.5-9.1-1-12.3-4.5-12.3-2.7-13.7-4.1-9.1-1.3-27.6-1.1-21.4-2-12.2-0.4-10.7 0.4-21.4 2-26 1-9.2 1-15.2 4.5-13.9 3.1-9.2 3.7-9.1 1.1-4.6 1.7-3.1 2.5-7.6 7.9-12.3 7.7-4.7 3.7-13.6 14.2-3.1 1.6-6.1 2.1-3.1 2.2-3.5 4.7-2.7 11.5-0.3 3.3 0.5 3.3 2.4 5 3.6 5 6.2 5.8 12.2 8.5 12.2 6.6 19.9 8.3 7.7 1.7z"/><path fill="#ff9d00" d="M250.2 2084.1l0 1.6 4.6-0.1 26-2.1 22.9-0.8 10.7-0.9 6.2-1.1 10.7-3.3 15.3-3.5 10.7-4.1 7.6-0.6 3.1-0.8 3.7-2.5 8.5-9 10.7-6.6 5.6-4.2 14.3-14.2 3.1-1.6 6.1-1.7 3.2-2.4 1.8-3.3 0.8-4.9 2.9-8.3-0.2-3.3-1.1-3.3-3-4.9-4.4-5.2-5.7-4.8-8.1-5.6-13.8-7.5-16.8-7.2-6.1-1.8-6.1-0.9-19.9-1.6-6.1 0.4-19.9 5.4-12.2 4.3-4.6 2.2-9.2 5.7-6.1 2.3-15.3 1.9-19.9 0.6zM1096.7 2084.1l23.8 1.6 0-99.3-19.9-0.6-15.3-1.9-6.1-2.3-9.2-5.7-4.6-2.2-12.2-4.3-19.9-5.4-6.1-0.4-18.4 1.4-7.6 1.1-6.1 1.8-16.9 7.2-10.7 5.7-6.6 4.1-8.6 6.6-4.7 4.8-3.5 5.2-2 4.9-0.1 3.3 2.8 8.3 0.8 4.9 1.9 3.3 3.2 2.4 6.1 1.7 3.1 1.6 13.7 13.7 4.8 3.8 12.1 7.5 7.6 8.2 3.1 2.5 3 1.3 9.2 0.9 10.7 4.1 13.8 3.2 15.3 4.3 10.7 1.1zM572.6 1728.9l18.7 1.5 6.1-0.3 21.4-5.7 12.2-4.4 12.3-7.2 6.1-2.5 13.8-1.9 21.4-0.8 19.9 0.6 15.3 1.7 6.8 2.5 13 7.6 12.3 4.4 21.4 5.7 6.1 0.3 22.9-2 7.7-2 16.8-7.1 18.4-10.4 8.4-6.4 5.3-5.8 4.3-7.5 0.6-4.9-2.8-8.3-0.8-4.9-1.9-3.3-2.4-2-7.7-2.4-3-1.8-13.8-13.9-4.6-3.5-10.7-6.5-9.2-9.6-4.6-2.8-9.1-0.9-10.7-4.1-15.3-3.5-10.7-3.3-12.3-1.9-26-0.9-21.4-1.9-12.2-0.5-10.7 0.5-19.9 1.8-23 0.7-10.7 1-30.6 7.6-10.7 4.1-9.1 1-3.1 1-3.1 2.1-9.1 9.6-10.7 6.5-4.9 3.7-13.5 13.7-3.1 1.8-7.6 2.4-2.4 2-1.9 3.3-0.8 4.9-2.5 6.6-0.2 5 3 6.6 6.3 7.5 11.9 9 14.1 7.9 19.9 8.3z"/><path fill="#ff9200" d="M250.2 2082.4l0 1 6.1-0.1 24.5-2.1 22.9-0.6 9.2-0.8 7.7-1.4 24.4-6.3 12.3-4.5 7.6-0.5 3.1-0.9 3-2.2 7.7-8.5 15.3-10.1 15.3-14.4 3-2 6.1-1.5 3.1-1.9 1.4-2.7 0.5-4.9 2.6-5 1-3.3-0.2-3.3-1.2-3.3-3.1-4.9-4.5-5-7.2-5.8-6.1-4.1-12.3-6.8-16.8-7.1-6.1-1.9-6.1-0.9-19.9-1.3-6.1 0.5-32.1 9.8-4.6 2.1-9.2 5.6-6.1 2.2-15.3 1.8-19.9 0.4zM1103 2082.4l17.5 1 0-95.7-19.9-0.4-15.3-1.8-6.1-2.2-9.2-5.6-4.6-2.1-32.1-9.8-6.1-0.5-19.9 1.3-6.1 0.9-6.1 1.9-16.9 7.1-12.2 6.8-6.1 4.1-7.2 5.8-4.5 5-3.2 4.9-1.2 3.3-0.1 3.3 1 3.3 2.6 5 0.5 4.9 1.4 2.7 3 1.9 6.1 1.5 3.1 2 15.3 14.4 15.3 10.1 7.6 8.5 3.1 2.2 3.1 0.9 7.6 0.5 12.2 4.5 30.6 7.5 10.7 1 23 0.6zM570.5 1727.2l20.8 1.5 6.1-0.3 33.6-10.3 12.3-7 6.1-2.4 13.8-1.8 21.4-0.6 21.4 0.5 9.2 0.8 6.1 1.1 6.1 2.4 12.2 7 33.7 10.3 6.1 0.3 22.9-1.8 7.7-2 16.8-7 18.1-10.5 7.9-6.3 4.8-5.3 3.9-6.6 0.6-4.9-1-3.3-2.6-5-1.1-6.6-1.4-1.6-3.2-1.5-4.6-1-3-1.7-15.3-14.4-15.3-10-7.7-8.5-4.6-3.2-10.7-1.3-10.7-4.1-27.5-7-10.7-1.5-26-0.8-21.4-1.9-10.7-0.3-30.6 2.2-21.4 0.6-10.7 0.9-32.2 7.8-10.7 4.1-9.1 0.9-3.1 1.1-3.1 2.5-7.6 8.5-13.8 8.8-16.8 15.6-3.1 1.7-6.1 1.5-1.7 1-1.3 1.6-1.1 6.6-3.3 6.6-0.4 3.3 0.7 3.3 1.6 3.3 5.5 7.1 10.7 8.7 15.3 8.8 18.4 7.8z"/><path fill="#ff8800" d="M250.2 2080.7l0 0.5 6.1-0.2 24.5-2 21.4-0.4 9.2-0.8 7.6-1.4 26-6.4 12.3-4.4 9.1-0.9 4.6-3.2 7.7-8.7 13.1-8.4 17.5-15.4 3-1.9 4.6-1.1 2.7-1.4 0.9-1.7 0.5-4.9 3.6-6.2 0.6-2.1-0.6-4.9-2.8-5-4.2-5-5.7-4.9-7.2-5.1-12.3-6.9-15.3-6.5-6.1-2.1-7.6-1.3-19.9-1.1-6.1 0.5-33.7 10.6-12.2 6.8-6.1 2.2-13.8 1.6-21.4 0.4zM1109.6 2080.7l10.9 0.5 0-92.2-21.4-0.4-13.8-1.6-6.1-2.2-12.3-6.8-33.6-10.6-6.1-0.5-19.9 1.1-6.1 0.9-6.1 1.9-15.3 6.4-11.2 6.1-7.2 4.6-6.5 5.3-4.7 5-3.3 4.9-1.3 3.3-0.1 3.3 0.6 2.1 3.6 6.2 0.5 4.9 0.9 1.7 2.7 1.4 4.5 1.1 3.1 1.9 17.5 15.4 13.1 8.4 7.6 8.7 3.1 2.5 3.1 1 9.1 0.9 10.7 4.1 32.2 7.6 9.1 0.9 24 0.6zM568.5 1725.6l22.8 1.5 6.1-0.4 33.6-10.4 13.3-7.2 6.6-2.3 16.8-1.6 23-0.2 19.9 0.7 10.7 1.5 6.1 2.4 12.2 6.7 33.7 10.4 6.1 0.4 21.4-1.3 9.2-2.3 15.3-6.4 18.3-10.5 7.7-6.1 5.6-6.3 2.8-5 0.6-4.9-4.2-8.3-0.5-4.9-0.9-1.7-9.5-3.9-18.4-16-12.8-8.2-8.6-9.6-4.6-2.6-9.2-0.8-12.2-4.5-26-6.4-12.2-1.8-24.5-0.6-21.4-1.8-10.7-0.4-29.1 2.1-22.9 0.5-9.2 0.9-32.1 7.5-12.3 4.5-7.6 0.6-3.1 0.7-3 2.1-6.1 7.3-3.1 2.8-12.2 7.7-18.4 16-3.1 1.7-4.5 1.1-1.9 1.1-0.9 1.7-0.5 4.9-3.8 6.6-0.6 3.3 0.8 3.3 1.7 3.3 5.3 6.7 10.6 8.5 13.7 8 18.4 7.8z"/><path fill="#ff7e00" d="M250.2 2077.4l0 1.6 3.1 0 27.5-2.1 21.4-0.4 7.6-0.7 9.2-1.6 26-6.2 10.7-4.2 10.7-1.3 3.1-2 6.1-7.5 3.1-2.9 10.7-6.6 21.4-17.5 6.1-3.1 2.4-6.6 3.9-6.6 0.2-1.6-0.8-3.3-2.8-5-4.4-5-6.1-5.2-7.1-4.7-11.3-6.3-13.8-5.8-7.6-2.5-6.1-1-19.9-0.9-6.1 0.6-33.7 10.6-12.2 6.7-6.1 2.2-13.8 1.5-21.4 0.2zM1097.5 2077.4l23 1.6 0-88.8-19.9-0.2-13.8-1.2-7.6-2.5-12.3-6.7-32.1-10.2-6.1-1-19.9 0.8-6.1 0.7-6.1 1.7-15.3 6.3-6.1 3.1-9.5 5.6-6.7 4.9-5.4 5-4.8 6.6-1.3 3.3 0 3.3 3.9 6.6 2.4 6.6 6.1 3.1 21.4 17.5 10.7 6.6 3.1 2.9 6.1 7.5 3 2 10.7 1.3 10.7 4.2 33.7 7.6 7.6 0.8zM567 1723.9l7.4 1 21.5 0.5 6.1-1.4 29-9.4 13.8-7.3 6.1-1.9 16.8-1.5 27.6-0.1 16.8 0.6 9.2 1.3 6.1 2.4 12.2 6.5 33.7 10.5 6.1 0.4 21.4-1.1 9.2-2.3 15.3-6.4 16.8-9.6 7.7-6.2 5.1-5.7 2.9-5 0.7-3.3-0.2-1.6-3.9-6.6-1.4-5-1-1.6-6.8-3.7-19.9-16.4-12.3-7.8-7.6-8.9-4.6-3.1-9.2-0.8-12.2-4.6-26-6.1-12.2-2-24.5-0.6-32.1-2.1-29.1 2.1-29 1-9.2 1.6-26 6.1-12.3 4.6-7.6 0.5-3.1 0.9-3 2.5-7.7 8.9-10.7 6.7-19.9 16.4-3 2.2-4.6 2.1-1.5 1.7-1.6 5.4-3.3 4.9-0.8 3.3 1.5 5 4.8 6.6 9.6 8.3 12.7 7.6 18.4 8.1z"/><path fill="#ff7400" d="M250.2 2075.8l0 1.1 3.1-0.1 26-2 29-0.9 18.4-3.6 16.8-4 12.2-4.6 7.7-0.5 3-0.8 3.1-2.4 7.6-9.3 10.8-6.7 26.2-20.7 6.6-11.6 0.4-1.6-0.6-3.3-2.8-5-4.4-5-5.9-4.9-7.8-5-8.7-4.8-13.8-5.9-7.6-2.5-6.1-1.1-21.4-0.6-6.1 0.9-12.3 4.4-19.9 6-12.2 6.5-7.7 2.4-13.7 1.2-19.9 0zM1102.9 2075.8l17.6 1.1 0-85.5-19.9 0-13.8-1.2-7.6-2.4-12.3-6.5-19.8-6-12.3-4.4-6.1-0.9-19.9 0.5-6.1 0.8-6.1 1.7-19.9 8.6-10.7 6.4-6.1 4.6-5.6 5.6-3.4 4.9-1.2 3.3 0.2 3.3 6.7 11.6 26.2 20.7 10.7 6.7 7.7 9.3 3 2.4 3.1 0.8 7.6 0.5 12.3 4.6 33.6 7.4 7.7 0.7 21.4 0.4zM590.7 1723.9l5.2-0.1 4.6-0.9 12.2-4.4 18.3-5.5 12.3-6.4 6.1-2.3 7.6-1.2 15.3-0.6 30.6 0.1 15.3 1.1 7.7 2.2 13.7 7.1 32.2 10.2 6.1 0.8 22.9-0.9 9.2-2.4 13.8-5.7 6.1-3.1 10.7-6.5 6-4.6 4.9-5 3.4-4.9 1.3-5-1.1-3.3-5.9-9.9-25.4-20.1-10.8-6.7-3-3-6.1-7.7-3.1-1.9-9.2-0.8-13.7-5-26-5.9-12.3-1.9-22.9-0.4-32.1-2.2-29.1 2.1-21.4 0.4-7.6 0.6-18.4 3.7-16.8 4-12.3 4.6-7.6 0.4-3.1 1.2-2.6 2.3-5 6.5-3.1 3-10.7 6.7-25.5 20.1-6.6 11.6-0.3 1.6 0.6 3.3 1.6 3.3 3.9 5 8 6.9 13.7 8.4 15.3 6.7 9.2 3 7.6 1z"/><path fill="#ff6900" d="M250.2 2074.1l0 0.6 4.6-0.1 24.5-1.9 21.4-0.3 7.6-0.7 19.9-3.8 15.3-3.7 12.2-4.6 9.2-0.8 4.1-2.8 5.1-6.8 3-3.1 9.2-5.8 9.2-7.5 9.2-5.6 6.3-5.9 2.6-3.3 4.2-8.3 0.5-3.3-0.9-3.3-3.1-4.9-5-5-4.6-3.5-10.5-6.4-20.1-8.8-6.1-1.8-6.1-0.8-19.9-0.3-6.1 0.9-12.3 4.4-19.9 5.9-12.2 6.4-7.7 2.4-13.7 1.1-19.9-0.1zM1108.2 2074.1l12.3 0.6 0-82.1-19.9 0.1-13.8-1.1-7.6-2.4-12.3-6.4-19.8-5.9-12.3-4.4-6.1-0.9-19.9 0.3-6.1 0.8-6.1 1.8-20.1 8.8-10.5 6.4-4.6 3.5-5 5-3.2 4.9-0.8 3.3 0.5 3.3 4.2 8.3 2.5 3.3 6.4 5.9 9.2 5.6 9.2 7.5 9.1 5.8 3.1 3.1 4.6 6.2 3 2.7 3.1 1 7.6 0.5 12.3 4.6 15.3 3.7 18.3 3.6 9.2 0.9 21.4 0.3zM589.5 1722.3l6.4-0.1 7.6-1.8 7.7-3.1 21.4-6.4 10.7-5.7 6.1-2.3 7.6-1.1 13.8-0.6 32.1 0.1 15.3 1 7.7 2.2 13.7 7 19.8 5.8 12.4 4.4 6.1 0.7 22.9-0.7 9.2-2.4 12.7-5.3 6.6-3.3 10.8-6.6 6.2-4.9 4.4-5 2.5-5 0.2-3.3-4.7-9.9-5.8-6.6-3.9-3.1-9.1-5.7-9.2-7.4-7.7-4.7-3-2.8-6.1-7.9-1.6-1.4-3-1.4-7.7-0.5-12.2-4.5-13.8-3.4-19.8-3.9-7.7-0.9-22.9-0.5-30.6-2-29.1 2-27.5 0.9-19.9 3.7-15.3 3.7-12.2 4.6-10.7 1.3-3.1 2.3-6.1 7.9-2.4 2.2-8.3 5.3-9.2 7.4-9.2 5.7-3.8 3.1-5.4 5.9-4.6 9-0.6 3.3 0.9 3.3 4.6 6.6 7.4 6.2 12.2 7.6 15.3 6.8 9.2 3 7.6 1.1z"/><path fill="#ff5f00" d="M250.2 2072.5l7.6-0.1 21.5-1.8 19.8-0.3 7.7-0.6 24.5-4.5 13.7-3.6 10.7-4.1 9.2-0.9 3.1-2.1 6.1-8.2 3-2.8 7.7-5 9.2-7.3 9.1-4.8 4.3-3.5 4-4.9 3.2-6.6 1.1-5-0.6-3.3-3-4.9-4.4-4.3-5.4-4-9.9-6-12.1-5.6-7.7-2.9-6.2-1.6-6.1-0.7-18.3 0.1-7.7 1.3-10.2 3.8-20.4 6-12.2 6.3-7.7 2.3-13.7 1-19.9-0.1zM1115 2072.5l5.5 0.1 0-78.8-19.9 0.1-13.8-1-7.6-2.3-12.3-6.3-20.4-6-10.1-3.8-7.7-1.3-18.3-0.1-6.2 0.7-6.1 1.6-7.8 2.9-12.1 5.6-9.8 6-5.5 4-4.4 4.3-3 4.9-0.5 3.3 1.1 5 3.2 6.6 4 4.9 4.2 3.5 9.2 4.8 9.2 7.3 7.6 5 3.1 2.8 6.1 8.2 3.1 2.1 9.1 0.9 10.7 4.1 13.8 3.6 23 4.3 9.1 0.8 19.9 0.3zM572 1720.6l20.8 0.2 6.1-0.7 12.3-4.4 21.4-6.3 10.7-5.6 4.6-1.8 9.1-1.5 13.8-0.5 33.7 0 13.7 1 7.7 2.1 12.2 6.3 21.4 6.3 10.7 4 7.7 1.1 21.4-0.2 9.2-2.2 10.8-4.4 9-4.3 9.2-5.6 6.5-4.9 4.5-5 2.2-5 0-3.3-3.2-8.2-5.4-7-4.6-3.5-8.4-4.4-8.4-6.8-9.2-6.1-3-3.2-5.2-7-4-2.6-9.2-0.8-10.7-4.2-15.3-3.8-26-4.4-22.9-0.5-30.6-2-29.1 2-26 0.8-22.9 4.1-15.3 3.8-10.7 4.2-7.7 0.6-3 0.8-3.1 2.6-4.6 6.4-3 3.2-9.2 6.1-8.4 6.8-11.5 6.5-3.4 3.4-3.5 5-2.8 6.6-0.4 4.9 2.1 5 4.5 5 9.2 6.6 11.1 6.2 15.3 6.4z"/><path fill="#ff5500" d="M250.2 2069.2l0 1.3 3.1 0 26-2 26-0.7 22.9-4 16.8-4.4 9.2-3.6 10.7-1.4 3.1-2.4 4.6-6.7 3-3.2 16.8-12.6 10.7-5 3.1-2.5 3.2-4 2.7-5 1.3-4.9-0.4-5-2.2-3.9-4.3-4.4-15.1-9.9-10.7-4.9-8.1-3.1-6.2-1.7-6.1-0.7-18.3 0.4-6.1 0.8-10.8 3.9-21.4 6.2-12.2 6.1-7.7 2.3-12.2 1-21.4-0.2zM1100.4 2069.2l20.1 1.3 0-75.5-21.4 0.2-12.3-1-7.6-2.3-12.3-6.1-21.4-6.2-9.1-3.5-6.2-1.1-18.3-0.6-6.1 0.6-7.1 1.7-17.4 7.2-15.3 9.5-4.6 4.1-3 4-1.1 3.3 0.3 4.9 2.3 6 3.9 5.6 3.7 3.2 10.7 5 16.9 12.6 3 3.2 4.6 6.7 3.1 2.4 3 0.7 6.1 0.3 10.7 4 15.3 4.1 21.5 3.8 9.1 0.9 16.9 0.1zM570.3 1719l8.7 0.6 15.3-0.5 6.2-1 10.7-3.9 21.4-6.3 12.2-6.1 7.7-2.1 13.7-0.9 35.2-0.1 13.8 0.6 7.6 1.4 4.6 1.8 10.7 5.4 21.4 6.3 12.3 4.3 18.3 1 7.7-0.2 7.6-1.5 9.2-3.2 11.9-5.5 8.2-5 6.9-4.9 4.8-5 1.7-3.3 0.4-5-1.3-4.9-1.6-3.3-5-6.5-3.1-2.1-9.2-4.1-16.8-12.4-3.1-3-5.9-8.3-3.2-2-9.2-0.9-10.7-4.1-15.3-4-27.5-4.4-21.4-0.3-30.6-2.1-29.1 2.1-24.5 0.6-24.4 4.1-15.3 4-10.7 4.1-7.7 0.5-2.4 0.8-2.3 1.6-5.9 8.3-3.1 3-16.9 12.4-10.7 5-2.9 2.7-2.5 3.3-2.7 5-1.5 6.6 1.3 4.9 3.9 5 8.8 6.6 10.9 6.4 13.8 5.8z"/><path fill="#ff4a00" d="M250.2 2067.5l0 1 4.6-0.1 24.5-2.1 18.3 0 7.7-0.7 22.9-3.9 16.8-4.4 9.2-3.7 9.5-0.9 2.8-1.7 5.7-8.2 3.4-3.3 16.8-12.7 3.1-1.6 6.1-1.9 3.1-2 3.8-5 2.3-4.9 0.7-5-0.7-3.3-1.9-3.3-4.2-4.2-8-5.7-7.3-4.3-16.8-7.2-7.7-2-6.1-0.6-18.4 0.8-4.5 0.7-10.8 3.8-7.6 1.8-13.8 4.4-12.2 5.9-7.7 2.3-12.2 1-21.4-0.3zM1104.9 2067.5l15.6 1 0-72.3-21.4 0.3-12.3-1-7.6-2.3-12.3-5.9-13.7-4.4-7.7-1.8-10.7-3.8-4.6-0.7-18.3-0.8-6.1 0.6-7.7 2-16.8 7.2-7.3 4.3-8 5.7-4.3 4.2-1.9 3.3-0.6 3.3 0.6 5 2.3 4.9 3.9 5 3.1 2 6.1 1.9 3 1.6 16.9 12.7 3.3 3.3 4.3 6.6 3.1 2.8 3 0.9 7.7 0.5 9.1 3.7 16.9 4.4 21.4 3.7 9.2 0.9 18.3 0zM569.4 1717.3l9.6 0.9 19.9-1.4 10.7-3.7 9.2-2.3 13.8-4.3 12.2-6 7.7-2.1 12.2-0.9 38.2 0 12.3 0.5 7.6 1.4 15.3 7.1 13.8 4.3 9.1 2.3 10.8 3.7 18.3 1.4 7.7-0.3 7.6-1.6 7.6-2.7 10.8-4.8 8-4.7 7.2-5.1 5.1-4.8 1.9-3.3 0.6-5-2-6.6-4.8-6.6-2.3-1.7-7.6-2.5-3.1-1.8-16.8-12.9-3.1-3.1-4.6-7-1.5-1.4-3-1.3-7.7-0.4-9.2-3.6-16.8-4.6-27.5-4.4-21.4-0.3-21.5-1.9-9.1-0.3-29.1 2.2-16.8 0-7.7 0.6-24.4 4.1-16.9 4.6-9.1 3.6-9.2 0.9-3.1 2.2-4.6 7-3.9 3.8-17.5 13.2-7.6 2.7-3.1 1.7-3.5 3.9-2.8 5-1.3 6.6 1.5 4.9 2.5 3.3 8.4 6.7 10.5 6.3 12.3 5.4z"/><path fill="#ff4000" d="M250.2 2065.9l0 0.5 4.6-0.1 24.5-2.1 16.8 0.1 9.2-0.7 24.4-4.3 15.3-4.2 9.2-3.7 9.2-0.8 3-2.2 5-7.3 5.7-5.1 15.3-11.7 3.1-1.5 6.1-1.8 3.1-2.4 2.8-3.9 1.4-3.3 0.6-5-1-3.3-2.2-3.3-3.5-3.3-6.6-5-8.2-4.9-15.4-6.6-7.7-2.1-6.1-0.7-22.9 1.8-9.2 3.2-9.2 2.2-13.8 4.3-13 6.1-6.9 2-12.2 0.9-21.4-0.3zM1109.3 2065.9l11.2 0.5 0-69-21.4 0.3-12.3-0.9-6.8-2-13.1-6.1-13.7-4.3-9.2-2.2-9.2-3.2-22.9-1.8-6.1 0.7-7.7 2.1-15.5 6.6-8.1 4.9-6.7 5-3.5 3.3-2.2 3.3-0.9 3.3 0.5 5 1.5 3.3 2.8 3.9 3.1 2.4 6.1 1.8 3 1.5 15.3 11.7 5.8 5.1 4.9 7.3 3.1 2.2 9.2 0.8 9.1 3.7 15.3 4.2 24.5 4.3 9.2 0.7 16.8-0.1zM568.8 1715.7l10.2 1.1 19.9-1.6 10.7-3.6 7.7-1.7 15.3-4.8 12.2-5.9 7.7-2.1 12.2-0.8 21.4 0.3 18.4-0.3 10.7 0.4 7.6 1.4 15.3 7 15.3 4.8 7.6 1.7 10.8 3.6 18.3 1.6 6.1-0.2 7.7-1.4 8.3-2.8 11-5 8.2-4.9 6.6-5 4.7-5 1.6-3.3 0.1-4.9-1.8-5-3.6-4.7-3-1.9-7.7-2.5-16.8-12.8-5-4.5-4.4-6.6-2.8-2.5-3.1-0.8-7.6-0.6-7.7-3.3-16.8-4.6-27.5-4.5-21.4-0.2-26-2.1-10.7 0.1-23 2-22.9 0.3-26 4.4-16.9 4.6-7.6 3.3-7.7 0.6-3 0.8-2.8 2.5-4.4 6.6-5 4.5-15.7 12-2.7 1.6-7.6 2.4-3.1 2.9-2.9 4.7-1.2 4.9 1 5 3.1 4.2 6.9 5.7 9.9 6.3 12.3 5.5z"/><path fill="#ff3600" d="M250.2 2064.2l7.6-0.1 21.5-2 16.8 0.2 9.2-0.8 13.7-2.8 9.2-1.2 9.2-2.8 7.6-1.7 9.2-3.9 9.2-1 2.4-2 5.2-7 7.7-6.6 13.7-10.5 9.2-4 1.5-1.3 3.4-5.3 0.6-3.3-0.6-3.3-1.9-3.3-4.9-5-6.5-5-5.3-3.2-15.3-6.7-7.7-2.1-6.1-0.8-22.9 1.9-9.2 3.1-9.2 2.1-7.7 2.8-7.6 2-10.7 5.2-7.7 2.3-12.2 0.9-21.4-0.4zM1115 2064.2l5.5 0.2 0-65.8-21.4 0.4-12.3-0.9-7.6-2.3-10.7-5.2-7.7-2-7.6-2.8-9.2-2.1-9.2-3.1-22.9-1.9-6.1 0.8-7.7 2.1-15.3 6.7-5.3 3.2-6.5 5-4.9 5-1.9 3.3-0.6 3.3 0.5 3.3 3.4 5.3 1.6 1.3 9.1 4 13.8 10.5 7.6 6.6 5.3 7 2.4 2 9.2 1 9.1 3.9 7.7 1.7 9.2 2.8 9.1 1.2 13.8 2.8 9.2 0.8 16.8-0.2zM568.5 1714l10.5 1.4 19.9-1.8 9.2-3.1 9.2-2.1 7.6-2.8 7.7-2 12.2-5.7 7.7-2.1 12.2-0.8 21.4 0.4 18.4-0.4 10.7 0.4 7.6 1.4 15.3 6.8 7.7 2 7.6 2.8 9.2 2.1 9.2 3.1 18.3 1.7 6.1-0.2 7.7-1.5 7.6-2.6 9.2-4.2 7.6-4.3 6.5-5 4.9-5 2.4-4.8 0-3.4-1.5-4-3.1-3.7-9.2-4.1-15.3-11.6-7.2-6.4-6.5-8.2-3.1-1-7.6-0.7-7.7-3.4-9.1-2.1-7.7-2.5-27.5-4.6-23-0.2-24.4-2.1-10.7 0.1-23 2.1-15.3-0.2-7.6 0.5-26 4.4-7.7 2.5-9.2 2.1-7.6 3.4-9.2 1-3 2.2-6.2 7.8-7.6 6.5-13.8 10.4-7.6 3.2-3.1 2.5-2.6 4.4-0.5 5 1.6 3.7 3.9 4.5 6 5 7.9 5 11.3 5.2z"/><path fill="#ff2c00" d="M250.2 2060.9l0 1.5 1.5-0.1 26-2.1 18.4 0.1 7.6-0.6 15.3-3 9.2-1.2 9.2-2.9 7.6-1.6 9.2-4 7.7-0.9 3-2.1 5.4-6.2 6.8-6.3 22.5-16.8 3.1-5 0.3-1.6-0.4-3.3-1.7-3.3-4.3-5-9.5-6.6-16.1-7.1-7.6-2-6.1-0.7-21.4 2.1-33.7 9.8-12.2 5.7-6.2 1.6-12.2 1-21.4-0.5zM1101.8 2060.9l18.7 1.5 0-62.6-21.4 0.5-12.3-1-6.1-1.6-12.2-5.7-33.7-9.8-21.4-2.1-6.1 0.7-6.1 1.5-15.3 6.4-9.9 6.1-3.6 3.4-3.6 4.9-1.2 5 1.1 3.3 2.4 3.3 22.4 16.8 6.9 6.3 5.4 6.2 3 2.1 7.7 0.9 9.1 4 7.7 1.6 9.2 2.9 9.1 1.2 13.8 2.8 9.2 0.8 16.8-0.2zM568.3 1712.4l6.1 1.2 4.6 0.3 9.2-1.3 10.7-0.6 33.7-9.8 13.7-6.2 7.7-1.7 10.7-0.6 21.4 0.5 18.4-0.5 10.7 0.5 7.6 1.3 15.3 6.7 33.7 9.8 10.7 0.6 7.6 1.2 4.6-0.1 6.1-0.9 6.8-2.1 10-4.2 7.7-4.2 4.6-3.2 5-4.9 2.9-5 0.4-3.3-1.1-3.3-2.4-3.3-21.7-16.1-7.6-7-6.1-7-1.5-1-9.2-1.4-7.7-3.6-9.1-2-7.7-2.5-27.5-4.7-23-0.1-24.4-2.2-10.7 0.2-21.5 2-22.9 0.1-27.5 4.7-7.7 2.5-9.2 2-7.6 3.6-9.2 1.4-1.5 1-6.1 7-7.7 7-19.6 14.5-3.4 3.3-2.1 4.9 0.4 3.3 1.7 3.3 4.3 5 6.5 4.8 6.1 3.4 9.2 4.1z"/><path fill="#ff2100" d="M250.2 2059.3l0 1.1 1.5-0.1 26-2.2 18.4 0.2 7.6-0.5 15.3-3.1 9.2-1.3 7.7-2.4 9.1-2 9.2-4.1 7.7-1.3 3-2.2 12.2-12.1 10.8-7.7 7.5-6.9 2.7-5 0.7-3.3-0.5-3.3-1.7-3.3-3-3.3-4.5-3.3-5.8-3.3-15.3-6.4-6.1-1.4-4.6-0.4-21.4 2.1-33.7 9.6-12.2 5.6-6.2 1.6-13.7 1-19.9-0.6zM1106 2059.3l14.5 1.1 0-59.4-19.9 0.6-13.8-1-6.1-1.6-12.2-5.6-33.7-9.6-21.4-2.1-4.6 0.4-6.1 1.4-13.8 5.6-9.7 5.7-3.8 3.4-2.4 3.3-1 3.3 0.1 3.3 1.1 3.3 2.1 3.3 7.5 6.9 10.7 7.7 12.3 12.1 3 2.2 7.7 1.3 9.1 4.1 9.2 2 7.7 2.4 9.1 1.3 13.8 2.9 9.2 0.7 18.3-0.2zM568.2 1710.7l6.2 1.3 4.6 0.3 9.2-1.3 10.7-0.7 33.7-9.5 13.7-6.1 7.7-1.7 10.7-0.6 21.4 0.6 18.4-0.6 10.7 0.5 6.1 1 4.6 1.4 12.2 5.5 33.7 9.5 22.9 1.9 6.1-1 6.1-2 9.2-4 7.7-4.1 4.9-3.6 3.1-3.3 1.7-3.3 0.4-3.3-1.3-5-3.6-4.9-6.8-5.9-9.2-6.4-13.7-13.5-3.1-1.8-7.6-1.2-9.2-4.2-7.6-1.4-9.2-2.9-27.6-4.6-21.4 0.1-29-2.3-26 2.3-24.5 0-27.5 4.9-7.7 2.5-9.2 1.9-7.6 3.7-9.2 1.9-15.3 14.6-9.2 6.4-8.3 7.5-2.1 3.3-1.2 5 0.4 3.3 3.1 4.9 3.7 3.4 6 3.7 9.3 4.5z"/><path fill="#ff1700" d="M250.2 2057.6l0 0.7 1.5 0 24.5-2.2 19.9 0.3 9.2-0.7 12.2-2.7 9.2-1.3 9.2-2.7 7.6-1.5 9.2-4.1 9.2-2.1 3-2.1 12.2-12.1 9.2-6.2 5.2-4.6 2.5-3.3 1.4-3.3 0.5-3.3-0.4-3.3-1.7-3.3-2.9-2.9-8.6-5.4-14.3-6.4-6.1-1.4-4.6-0.3-9.2 1.2-7.7 0.2-4.5 0.7-16.9 4.4-7.6 2.7-9.2 2.2-12.2 5.5-6.2 1.6-13.7 1-19.9-0.6zM1110 2057.6l10.5 0.7 0-56-19.9 0.6-13.8-1-6.1-1.6-12.2-5.5-9.2-2.2-7.7-2.7-16.8-4.4-4.6-0.7-7.6-0.2-9.2-1.2-4.6 0.3-6.1 1.4-14.4 6.4-8.5 5.4-2.9 2.9-1.7 3.3-0.5 3.3 0.6 3.3 1.4 3.3 2.5 3.3 5.2 4.6 9.1 6.2 12.3 12.1 3 2.1 9.2 2.1 9.2 4.1 7.6 1.5 9.2 2.7 9.2 1.3 12.2 2.7 9.2 0.7 19.9-0.3zM568.2 1709.1l9.3 1.5 10.7-1.3 10.7-0.6 16.8-4.4 9.2-3.2 7.7-1.6 13.7-6.1 7.7-1.7 12.2-0.6 18.4 0.6 19.9-0.6 10.7 0.4 6.1 1 4.6 1.5 12.2 5.5 7.7 1.6 9.1 3.2 16.9 4.4 22.9 1.9 4.6-0.7 6.1-1.9 9.2-4.1 8.6-4.7 5.7-5 1.7-3.3 0.5-3.3-1.1-5-3.4-4.9-4.4-4.1-9.2-6-13.7-13.4-3.1-1.8-7.6-1.6-9.2-4.1-7.6-1.5-9.2-2.7-9.2-1.4-12.2-2.7-6.2-0.7-22.9 0.2-27.5-2.2-24.5 2.2-26 0-26 4.6-9.2 2.7-7.6 1.5-9.2 4.1-7.7 1.6-4.5 3.1-12.3 12.1-9.2 6-4.3 4.1-2.6 3.3-1.7 4.9 0.2 5 1.8 3.3 3.3 3.3 5.1 3.3 9.8 5z"/><path fill="#ff0d00" d="M250.2 2056l4.6 0.1 19.9-2.1 22.9 0.4 7.7-0.6 21.4-4.1 9.2-2.7 7.6-1.4 9.2-4.1 7.6-1.7 4.6-2.7 13.8-13.4 7.6-4.7 3.1-2.7 2.4-3.3 1.4-3.3 0.4-3.3-0.7-3.3-2-3.2-1.9-1.7-8.8-5.5-12.2-5.9-4.6-1.3-4.6-0.5-22.9 2.1-15.3 4-9.2 3.1-9.2 2-12.2 5.4-6.2 1.7-15.2 0.9-18.4-0.6zM1114.3 2056l6.2 0.3 0-52.7-18.4 0.6-15.3-0.9-6.1-1.7-12.2-5.4-9.2-2-9.2-3.1-15.3-4-22.9-2.1-4.6 0.5-4.6 1.3-12.2 5.9-8.9 5.5-1.8 1.7-2.1 3.2-0.6 3.3 0.4 3.3 1.4 3.3 2.4 3.3 3.1 2.7 9.1 6 10.7 10.8 4.6 3.4 9.2 2.3 9.2 4.1 7.6 1.4 9.2 2.7 21.4 4.1 7.7 0.6 22.9-0.4zM568.3 1707.4l4.6 1.2 4.6 0.4 9.2-1.2 12.2-0.7 16.8-4.4 9.2-3.1 7.7-1.5 13.7-6 7.7-1.8 13.7-0.5 18.4 0.6 18.4-0.6 10.7 0.4 6.1 1 4.6 1.5 12.2 5.4 7.7 1.5 9.1 3.1 16.9 4.4 22.9 1.8 4.6-0.6 6.1-2.1 16.5-8.7 3.4-2.6 1.9-2.4 1.3-3.3 0.1-3.3-1.6-4.9-3.2-4.1-3.1-2.5-7.7-4.7-12.2-12.2-3-2.3-3.1-1.2-6.1-1.2-9.2-4.2-7.6-1.4-9.2-2.7-24.5-4.6-29.1 0-21.4-2.2-7.6 0.3-19.9 2-26-0.2-24.5 4.3-10.7 3.1-6.1 1-3.1 0.9-7.6 3.7-7.7 1.7-4.5 3-12.3 12.2-7.6 4.7-3.8 3.3-2.5 3.3-1.7 4.9 0.1 3.3 1.8 3.9 2.6 2.7 4.9 3.4z"/><path fill="#ff0300" d="M250.2 2052.7l0 1.5 22.9-2.3 24.5 0.5 6.1-0.3 23-4.4 9.2-2.7 9.1-1.8 7.7-3.6 9.2-2.5 3-2.1 12.2-12.2 7.7-4.8 3.7-3.3 2.5-5-0.1-4.9-1.5-2.9-2.1-2.1-10.2-6.6-10.7-5.2-7.6-1.3-22.9 2-15.3 4-9.2 3-9.2 1.9-12.2 5.4-7.7 2-15.3 0.7-16.8-0.8zM1106.1 2052.7l14.4 1.5 0-49.3-16.9 0.8-15.2-0.7-7.7-2-12.2-5.4-9.2-1.9-9.2-3-15.3-4-22.9-2-7.7 1.3-10.6 5.2-10.3 6.6-2 2.1-1.5 2.8-0.1 5 1.3 3.3 1.8 2.4 3.1 2.6 6.1 3.6 13.8 13.4 4.6 2.7 7.6 1.9 9.2 4.1 7.6 1.3 9.2 2.7 21.4 4.2 7.7 0.5 22.9-0.6zM568.5 1705.8l4.4 1.2 4.6 0.3 9.2-1.1 12.2-0.8 15.3-3.9 9.2-3 9.2-1.8 13.7-6 7.7-1.8 13.7-0.6 18.4 0.8 16.8-0.8 10.7 0.3 7.7 1.2 16.8 6.9 9.2 1.8 9.2 3 15.3 3.9 22.9 1.9 4.6-0.7 4.6-1.5 8.3-4.3 8.1-5 3.5-2.8 1.5-2 0.7-1.8 0.4-3.3-1.6-4.9-2.6-3.3-9.2-5.9-10.7-10.7-4.5-3.8-9.2-2.6-9.2-4.1-9.2-1.8-7.6-2.3-24.5-4.7-29.1 0.4-21.4-2.3-6.1 0.1-19.9 2.2-27.5-0.5-24.5 4.4-9.1 2.7-7.7 1.4-10.7 4.5-7.7 1.9-4.5 3-12.3 12.2-9.2 5.9-2.5 3.3-1.3 3.3-0.3 3.3 1.1 3.4 2.8 3.2 4.7 3.3z"/><path fill="#f70000" d="M250.2 2051l0 1 3.1-0.1 13.7-1.9 7.7-0.5 22.9 0.8 6.1-0.2 21.4-4.1 10.8-3.1 9.1-1.8 7.7-3.5 7.6-2.1 4.6-2.8 6.1-5.3 6.1-6.8 9.2-6.7 2.2-4.2 0-3.3-0.6-1.7-2.8-3.2-9-6.7-9.7-5-7.6-1.5-22.9 2.1-23 6.4-10.7 2.2-12.2 5.4-7.7 2-15.3 0.7-16.8-0.8zM1110.8 2051l9.7 1 0-45.7-16.9 0.8-15.2-0.7-7.7-2-12.2-5.4-10.7-2.2-23-6.4-22.9-2.1-6.1 1-8.3 3.9-10 6.6-4.7 5-0.8 3.3 0.7 3.3 1 1.6 2.2 2.3 7.6 5.3 9.2 9.6 6.1 4.6 9.2 2.8 7.6 3.5 9.2 1.8 10.7 3.1 21.4 4.1 6.2 0.2 24.4-0.8zM568.8 1704.1l4.1 1.2 4.6 0.4 21.4-2 24.5-6.7 9.2-1.8 13.7-5.9 7.7-1.8 15.3-0.6 16.8 0.8 16.8-0.8 12.3 0.4 6.1 1 16.8 6.9 9.2 1.8 24.5 6.7 22.9 1.9 7.6-1.7 11.5-6.4 8.1-6.6 1.1-1.7 0.8-3.3-0.7-3.3-2.3-3.3-7.8-5.2-7.6-8.3-7.6-6.2-10.8-3.5-7.6-3.5-9.2-1.7-9.2-2.8-22.9-4.3-30.6 0.7-21.4-2.5-22.9 2.5-30.6-0.7-23 4.3-9.1 2.8-9.2 1.7-7.7 3.5-9.2 2.7-3 1.9-6.1 5.1-7.7 8.3-7.7 5.2-2.3 3.3-0.7 2.8 0.1 2.2 1.7 3.3 8.2 6.6z"/><path fill="#ed0000" d="M250.2 2049.4l4.2 0 18.7-2.4 24.5 1.2 6.1-0.2 21.4-4.1 10.8-3.2 9.1-1.9 15.3-5.6 7.7-4.7 15.9-17.1 0.8-1.7-0.2-3.3-3.5-4.9-6.9-5.6-7.8-4.4-4.4-1.2-3.1-0.3-22.9 2.2-23 6.2-10.7 2.1-12.2 5.4-7.7 2.1-15.3 0.7-16.8-0.8zM1116.2 2049.4l4.3 0.2 0-41.7-16.9 0.8-15.2-0.7-7.7-2.1-12.2-5.4-10.7-2.1-23-6.2-22.9-2.2-3.1 0.3-4.4 1.2-7.8 4.4-6.9 5.6-3.5 4.9-0.2 3.3 0.8 1.7 15.9 17.1 7.7 4.7 15.2 5.6 9.2 1.9 10.7 3.2 21.4 4.1 6.2 0.2 24.4-1.2zM569.3 1702.5l3.6 1.1 4.6 0.4 21.4-2 23-6.2 10.7-2 13.7-6 7.7-1.9 13.7-0.6 18.4 0.8 18.4-0.8 10.7 0.4 6.1 1.1 16.8 7 10.7 2 23 6.2 22.9 2 6.7-1.5 8.8-5 4.2-3.3 3.2-3.3 2-3.3 0.4-1.7-0.9-3.3-7.6-7.6-5.9-7.2-7.8-5.8-18.4-7.1-9.2-1.8-10.7-3.2-22.9-4.1-29.1 1.1-22.9-2.5-21.4 2.5-30.6-1-21.4 4-10.7 3.2-9.2 1.8-16.9 6.3-7.6 5-9.2 10.5-6 5.9-0.9 3.3 1.2 3.3 4.4 5 5.9 4.4z"/><path fill="#e30000" d="M250.2 2046.1l0 1 3.1-0.2 13.7-2.1 6.1-0.4 24.5 1.5 6.1-0.1 21.4-4 9.2-3.1 12.3-2.8 13.7-4.8 6.1-3.2 3.1-2.4 9.9-14.1 1-3.3-0.7-3.3-3.7-5-6.5-4.6-6.1-2.8-6.1-0.7-19.9 2-23.5 6.1-10.2 1.8-4.6 1.5-9.1 4.5-7.7 2.1-13.7 0.7-18.4-0.9zM1111 2046.1l9.5 1 0-37.6-18.4 0.9-13.7-0.7-7.7-2.1-9.2-4.5-4.6-1.5-10.1-1.8-23.5-6.1-19.9-2-6.1 0.7-6.1 2.8-6.6 4.6-3.6 5-0.7 3.3 0.9 3.3 9.1 13.2 5.5 4.2 9.1 4.1 10.7 3.5 10.8 2.3 9.1 3.1 19.9 3.8 7.7 0.3 24.4-1.5zM569.8 1700.8l3.1 1 4.6 0.5 21.4-2.1 23-6.1 10.7-1.9 13.7-6 7.7-2 13.7-0.6 18.4 0.9 18.4-0.9 9.1 0.3 6.2 0.8 6.1 2.1 12.2 5.4 10.7 1.9 23 6.1 22.9 2.1 6.1-1.5 8.4-5 4.8-4.9 1.4-3.3 0.1-1.7-1.9-4.9-6.7-9.9-3-3.3-3.1-2.2-7.6-3.6-12.3-4.1-10.7-2.4-12.2-3.8-21.4-3.6-27.6 1.5-6.1-0.3-16.8-2.3-22.9 2.6-30.6-1.5-21.4 4-10.7 3.4-10.8 2.4-13.7 4.7-6.1 3-3.1 2.2-3 3.3-6.8 9.9-1.6 3.3-0.1 3.3 1.4 3.3 2.8 3.3 4.3 3.3z"/><path fill="#d80000" d="M250.2 2042.8l0 1.5 22.9-2.7 24.5 1.9 6.1-0.1 19.9-3.6 12.3-4.1 16.8-3.6 12.2-4.8 4.6-3.5 2.9-4.2 4.2-8.2 0.7-3.3-0.6-3.3-2.6-3.9-5.9-4.4-4.8-2.2-6.1-0.9-19.9 2.1-23 5.9-10.7 1.7-4.6 1.6-9.1 4.6-7.7 2.3-13.7 0.6-18.4-0.9zM1062.1 2042.8l9.4 0.8 19.9-1.8 7.7-0.2 21.4 2.7 0-33-18.4 0.9-13.7-0.6-7.7-2.3-9.2-4.6-4.6-1.6-10.7-1.7-22.9-5.9-19.9-2.1-4.6 0.4-4.6 1.8-6.1 3.9-3.3 3.6-1.3 3.3 0.6 5 5.2 9.9 2.6 3.3 2.3 1.8 13.8 5.7 16.8 3.6 12.3 4.1zM570.6 1699.2l3.8 1.1 3.1 0.3 21.4-2.3 21.4-5.5 12.3-2.1 13.7-6.3 7.7-2.1 13.7-0.5 18.4 0.9 19.9-0.9 7.6 0.2 6.2 0.9 6.1 2.1 12.2 5.7 12.2 2.1 19.9 5.2 24.5 2.5 6.1-1.7 7.3-4.6 2.9-3.3 1.4-5-1.4-4.9-4.5-8.3-2.6-3.4-3.1-2.2-12.2-5-16.8-3.6-15.3-4.8-13.8-2.6-6.1-0.7-27.6 2-6.1-0.3-16.8-2.4-6.1 0.3-16.8 2.4-30.6-1.9-19.9 3.5-13.8 4.5-15.3 3.1-10.7 4.1-4.6 2.4-3 3-4.8 8.2-2 5-0.1 3.3 1.2 3.3 2.6 3z"/><path fill="#ce0000" d="M250.2 2041.1l0 0.4 4.6-0.2 12.2-2.2 6.1-0.5 9.2 0.5 15.3 1.8 6.1 0 18.4-3.1 16.8-5.4 13.8-1.9 12.2-4.6 3.9-3 2.1-3.3 2.7-6.6 1-3.3-0.1-3.3-1.4-3.3-3.6-3.4-6.1-3.4-6.1-1.1-21.4 2.5-19.9 5.1-12.3 2-4.4 1.6-10.9 5.6-6.1 1.7-13.7 0.5-18.4-1zM1113.9 2041.1l6.6 0.4 0-28.3-18.4 1-13.7-0.5-6.2-1.7-10.8-5.6-4.5-1.6-12.2-2-19.9-5.1-21.4-2.5-6.1 1.1-6.1 3.4-3.6 3.4-1.5 3.3 0 3.3 0.9 3.3 2.8 6.6 2.1 3.3 3.9 3 12.2 4.6 13.8 1.9 16.6 5.4 17 3 7.7 0.1 15.3-1.8 9.1-0.5 6.1 0.5zM571.7 1697.5l4.3 1.2 3 0.1 21.5-2.7 18.3-4.7 13.8-2.4 15.3-7.3 4.6-1.3 4.5-0.5 10.7-0.1 16.9 1 19.9-1 12.2 0.4 7.6 2.1 10.2 5.3 4.6 1.6 12.8 2.2 19.9 5 19.8 2.4 6.2-0.8 7-3.8 3.4-3.3 1-1.7 0.6-3.3-1-4.9-2.8-6.6-2.1-3.4-3.1-2.5-13.8-5.3-13.7-1.8-18.4-5.7-18.3-2.8-27.6 2.5-6.1-0.4-15.3-2.5-7.6 0.2-12.3 2.3-4.5 0.4-7.7-0.3-16.8-2-6.1-0.1-19.9 3.3-15.3 5.1-13.8 1.8-12.2 4.6-2.9 1.6-2.9 3.3-2.4 5-2.2 6.6 0 3.3 1.2 2.9 1.6 2 3 2.3z"/><path fill="#c40000" d="M250.2 2037.8l0 1 4.6-0.2 13.8-2.8 6.1-0.3 10.7 0.6 12.2 2 6.1 0.1 16.9-2.5 18.3-5.7 9.2-0.2 4.6-0.7 12.1-4.5 3.2-2.6 2.1-4 1.4-5 0.6-3.3-0.3-3.3-1.9-3.3-4.4-3.3-5.2-2.2-4.6-0.4-19.8 2.5-16.9 4.2-15.3 2.7-4.6 1.9-9.1 5.3-6.2 2.1-13.7 0.6-19.9-1.1zM1063.8 2037.8l7.7 0.5 13.8-2.2 12.2-0.6 6.1 0.5 10.8 2.4 6.1 0.4 0-23.4-19.9 1.1-13.8-0.6-6.1-2.1-9.2-5.3-4.6-1.9-15.3-2.7-16.8-4.2-19.9-2.5-4.5 0.4-3.1 1.1-4.6 2.8-3.2 3.3-0.6 1.6-0.3 3.3 2 8.3 2.1 4 3.1 2.5 13.7 4.9 12.3 0.6 7.6 2.1 9.2 3.2zM573.4 1695.8l5.6 1.1 18.4-2.2 19.9-4.8 13.7-2.3 4.6-1.7 12.3-6.7 4.6-1.2 4.5-0.4 9.2-0.1 15.3 1.1 10.7 0 13.8-1.1 12.2 0.5 6.1 1.8 10.7 6.1 4.6 1.7 13.8 2.3 18.4 4.5 19.8 2.5 5.7-1.1 6.6-3.9 1.5-1.4 1.5-2.8 0.3-3.4-2.7-9.9-2.2-3.3-3-2-12.3-4.4-13.7-0.9-15.3-4.9-4.6-1-13.8-2-4.6-0.2-16.8 2.4-12.2 0.3-13.8-2.7-7.6-0.4-6.1 0.4-10.8 2.4-7.6 0.4-10.7-0.7-12.2-2-4.6 0-18.4 2.7-10.7 3.7-7.6 1.9-12.3 0.6-13.7 5.2-1.6 1.2-2.2 3.3-2 6.6-0.7 4.9 1 3.3 1.2 1.7 4.3 3.2z"/><path fill="#ba0000" d="M250.2 2034.5l0 1.5 4.6-0.2 13.8-3.2 6.1-0.4 12.2 0.4 9.2 2.3 6.1 0.3 18.4-2.2 18.3-5.1 12.2 0.1 12.3-4.2 3-2 1.5-2.2 0.9-3.3 0.4-4.9-0.2-3.3-1.9-3.3-4.1-3.3-4.2-2-4.6-0.2-18.3 2.4-15.3 3.8-16.9 3.2-4.6 2.2-9.1 6.2-4.6 1.7-15.3 0.3-10.7-1.3-9.2-0.1zM1062.9 2034.5l8.6 0.8 12.3-2.7 15.3-0.3 4.5 0.6 9.2 2.5 7.7 0.6 0-18.3-9.2 0.1-10.7 1.3-15.3-0.3-4.6-1.7-9.2-6.2-4.6-2.2-16.8-3.2-15.3-3.8-18.3-2.4-4.6 0.2-3.1 1.3-3.5 2.3-2.9 3.3-0.9 3.3 0.7 8.3 1.6 3.3 3.5 2.5 12.2 4.2 12.3-0.1 18.3 5.1zM575.7 1694.2l4.9 0.6 18.3-2.3 16.8-4.2 15.3-2.8 4.6-1.9 10.7-7.1 3.1-1.2 3.1-0.3 12.2-0.2 15.3 1.6 13.7-0.1 12.3-1.5 15.3 0.5 3 1.2 10.7 7.1 4.6 1.9 15.3 2.8 16.9 4.2 18.3 2.3 4.8-0.6 5.6-3.3 3-3.3 0.9-5-0.5-4.9-0.9-3.3-1-1.7-2.7-2.1-12.3-4.4-3-0.4-9.2 0.4-21.4-5.6-18.4-1.9-4.5 0.6-9.2 2.2-13.8 0.3-4.6-0.5-10.7-2.9-7.6-0.4-7.7 0.7-10.7 2.9-6.1 0.2-10.7-0.3-10.7-2.5-4.6-0.3-18.4 2.1-19.8 5.4-9.2-0.4-3.1 0.4-13.1 4.9-1.8 1.6-1.6 3.3-0.8 6.6 0.3 3.3 0.6 1.7 2.7 3z"/><path fill="#af0000" d="M250.2 2032.8l0 0.4 3.1-0.1 4.5-0.6 12.3-4.3 11.7-0.3 3.2-1.7-0.3-1.6-3.9-1.8-9.2 0.3-10.7-2.6-10.7-0.2zM1114.7 2032.8l5.8 0.4 0-12.9-10.7 0.2-10.7 2.6-9.2-0.3-4 1.8-0.2 1.6 3.2 1.7 11.7 0.3 9.2 3.4zM295 2031.2l5.7 0.9 7.6-1.1 10.7-0.5 21.4-4.7 7.7 1 4.6-0.5 9.2-3.4 3-1.7 1.8-3.2-0.5-6.6-1.3-3.3-3-3.8-3.1-2.1-4.6-0.8-18.3 2.3-19.9 4.9-10.7 2.1-4.6 2.1-4.8 3.5-3.5 3.3-3.8 5-0.2 1.6 1.4 1.7zM1064.2 2031.2l5.8 0.9 4.6-0.5 4.2-2.1 3.4-3.3-0.1-1.6-5.5-6.6-6.2-5-3.5-1.8-32.1-7.5-18.3-2.3-3.1 0.3-3.1 1.4-3.4 3.3-1.9 3.3-1.1 5 0.1 3.3 0.6 1.6 2.7 2.6 9.2 3.6 4.6 1 7.6-1 3.1 0.1 19.8 4.6zM579.7 1692.5l19.2-2 33.3-7.9 3.4-1.9 5.9-4.7 5.6-6.6 0.2-1.6-5.6-4.4-3-1.2-3.1-0.3-7.6 1.1-12.3 0.6-19.8 4.6-9.2-1-4.6 0.7-10.7 4.3-1.9 2.2-0.6 1.6 0.1 5 1.6 4.9 4.6 5zM788.3 1692.5l3.3 0 3.9-1.6 3.4-3.3 1.9-3.3 1.1-5-0.1-3.3-1.9-3.3-3-1.6-11.4-3.9-10.7 1-19.9-4.6-12.2-0.6-7.7-1.1-3 0.3-3.1 1.2-5.5 4.4 0.2 1.6 5.6 6.6 5.8 4.7 3.5 1.9 31.7 7.6zM670.9 1672.7l7.6 1.1 16.8-0.2 10.7-2.6 7.6 0.5 3.1-0.4 3.1-1.7 0.3-1.6-3.1-1.7-1.8-0.3-7.7 0.3-3-0.4-12.3-4.4-10.7-0.4-6.1 1.2-9.2 3.6-3 0.4-7.7-0.3-1.8 0.3-3.1 1.7 0.3 1.6 3.1 1.7 3 0.4 7.7-0.5z"/><path fill="#a50000" d="M250.2 2029.5l7.6-1.2 3.4-2.1-1.8-1.8-9.2-0.5zM1118.7 2029.5l1.8 0.1 0-5.7-9.2 0.5-1.8 1.8 2.1 1.7zM297 2027.9l3.7 0.6 7.6-1.3 12.3 0.2 18.3-3.4 3.1 0.1 6.1 1.3 3-0.1 10.4-4 1.9-1.3 1.1-2-0.3-3.3-2.9-6.6-2.5-2.7-3.1-1.5-4.6-0.2-15.2 2.1-27.8 7.2-4.6 1.7-4.8 3.3-3 3.3-1 3.3 0.5 1.6zM1066.3 2027.9l5.2 0.6 2.1-0.6 1.8-1.7 0.5-1.6-0.9-3.3-5-4.8-6.1-3.1-27.5-7.3-16.9-2.4-4.6 0.2-3 1.5-2.5 2.7-3 6.6-0.2 3.3 1.1 2 1.9 1.3 10.3 4 3.1 0.1 6.1-1.3 3.1-0.1 18.3 3.4 12.3-0.2zM577.7 1689.2l2.9 1.1 3 0.1 13.8-1.8 32.1-8.3 4.6-2.3 4.5-3.6 2-3.3-0.3-3.3-1.8-1.7-2.9-0.7-9.1 1.4-12.3-0.1-18.3 3.3-9.2-1.5-4.6 0.8-8 3.4-2.3 1.7-0.7 1.6 0.2 3.3 1.9 5 2.4 3.3zM777.7 1689.2l10.9 1.2 3-0.5 3.1-2 3.1-4.3 1.9-5.9-0.8-3.3-2.3-1.7-8-3.4-3.1-0.7-10.7 1.4-18.3-3.3-12.3 0.1-9.2-1.4-2.9 0.7-1.7 1.7-0.3 3.3 1.9 3.1 4 3.5 3.6 2.1 27.6 7.6zM675.6 1669.4l5.9 0.6 10.7-0.1 2.9-0.5 1.2-1.6-2.1-1.7-3.5-1-7.1-0.6-7.1 1.6-2.1 1.7z"/><path fill="#9b0000" d="M314.1 2022.9l4.9 1.3 6.1 0.3 15.3-2.4 7.7 1.9 3 0 3.2-1.1 5.9-3.3 1.4-1.6 0.2-1.7-1.5-4.9-3-3.9-2-1.1-2.6-0.6-6.1 0.4-18.4 3.6-5.3 1.6-7.4 3.3-5.5 3.3-1.6 1.6 1.4 1.7zM1016.4 2022.9l4.7 1.2 10.7-2.1 9.1 2.1 7.7 0.4 7.9-1.6 4.3-1.6 1.5-1.7-1.6-1.6-5.5-3.3-9.7-4-15.3-3.5-12.2-1.4-3.1 0.8-3 2.5-2.3 3.9-0.8 3.3 0.3 1.7 1.4 1.6zM580.2 1687.6l3.4 0.7 4.6-0.4 19.9-3.9 4.6-1.4 7.3-3.3 5.6-3.3 1.6-1.6-1.4-1.7-4.4-1.6-7.2-1.6-7.6 0.3-10.7 2.2-9.2-2.1-3.1 0.3-5.5 2.5-2.8 1.7-1.3 1.6 0 3.3 1.3 3.3 2.2 3.2zM780.1 1687.6l5.4 0.6 4.6-0.5 3.1-1.9 2.2-3.2 1.3-3.3 0-3.3-1.4-1.6-6.7-3.7-4.6-0.8-9.2 2.1-10.7-2.2-7.6-0.3-7.2 1.6-4.4 1.6-1.4 1.7 4.2 3.3 10.3 4.9 9.2 2.5z"/><path fill="#910000" d="M322.6 2021.3l5.6 0.8 10.7-2.4 9.2 2.8 3 0 3.1-1.2 2.5-1.7 1.6-1.6 0.5-3.3-1.5-3.5-3.1-2.6-3.1-0.7-4.5 0.3-18.4 4.1-4.6 1.8-2.8 2.2-0.7 1.7 0.4 1.6zM1016.3 2021.3l3.2 1.2 3.1 0 9.2-2.8 3 0.4 6.1 1.9 3.1 0.1 4.6-1.1 1.6-1.4 0.4-1.6-0.7-1.7-1.8-1.6-4.1-2-19.9-4.5-4.6-0.3-3 0.7-1.8 1.1-1.4 1.7-1.5 3.3 0.6 3.3zM583.1 1685.9l6.6-0.2 19.9-4.7 3.3-1.7 1.8-1.6 0.8-1.7-0.4-1.6-2.2-1.7-3.3-0.8-4.6 0.3-7.6 2.1-3.1-0.4-7.6-2.5-3.1 0.3-4.8 2.7-1.5 1.6-0.7 1.7 0.1 1.6 1.4 3.3 2.5 2.4zM782.5 1685.9l6.1-0.2 3-2 1.8-2.7 0.6-3.3-0.6-1.7-1.6-1.6-3.2-2.1-4.6-0.9-7.7 2.5-3 0.4-7.7-2.1-4.6-0.3-3.3 0.8-2.1 1.7-0.4 1.6 0.7 1.7 1.8 1.6 3.2 1.7z"/><path fill="#860000" d="M345.2 2019.6l4.4 1.4 4-1.4 1.7-1.6 0.7-1.7-0.7-3.3-2.6-2.2-3.1-0.7-4.6 0.9-3.7 2-1.1 1.7 0.6 1.6zM1017.1 2019.6l4 1.4 3-0.7 5.8-4 0.6-1.6-1.2-1.7-3.7-2-4.5-0.9-3.1 0.7-2.6 2.2-0.7 1.7 0 1.6 0.7 1.7zM329.1 2018l0.7 0 0-1.7zM1040.9 2018l0.7 0-0.7-1.7zM581.8 1682.6l3.4 1.2 3-0.2 4.6-1.8 2.6-2.5-0.6-1.6-4.5-3.3-2.1-1-3-0.4-3.3 1.4-1.6 1.6-0.7 1.7 0.6 3.3zM779.2 1682.6l4.8 1.2 4.6-0.9 1.8-1.9 0.7-1.7 0-1.6-0.7-1.7-1.8-1.8-3.1-1.2-3 0.4-2.1 1-4.5 3.3-0.6 1.6 1.2 1.7zM606.1 1676l0.5 0.8 0.3-0.8zM763.8 1676l0.3 0.8 0.4-0.8z"/><path fill="#800000" d="M347.6 2018l2 0.5 1.9-0.5 1.1-1.7-0.3-1.6-2.7-1.5-3 1.2-0.5 1.9zM1019.2 2018l1.9 0.5 2-0.5 1.4-1.7-0.1-1.6-1.8-1.3-3.1 0.3-1.1 1-0.3 1.6zM583.2 1679.3l2 1.4 1.5 0.1 2.6-1.5 0.1-1.6-1.4-1.7-2.8-0.4-1.1 0.4-1.1 1.7zM781.4 1679.3l2.6 1.5 1.5-0.1 1.9-1.4 0.3-1.6-1.1-1.7-2.6-0.5-1.3 0.5-1.4 1.7z"/><path fill="#75ff8a" d="M607.5 2193.1l14.4 0.8 21.4-0.7 27.5 0.7 32.1-0.1 24.5-0.6 22.9 0.7 44.4-3.8 12.2-2.4 12.3-3.4 16.8-5.5 15.3-5.9 9.2-4.5 7.6-4.7 6.1-4.7 5.5-5.6 5.2-7.1 4.1-7.7 3.1-8.3 2.7-9.9 2.1-11.6 1.8-13.9 2.4-34 0.9-36.3-0.5-41.3-1.3-19.8-3.1-18.2-0.4-5 3.5-24.7 0.3-18.2-1.1-9.9-1.9-8.3-3-6.6-3.4-4.3-6.2-3.8-7.6-1.8-9.2-0.3-26 0.7-21.4-2-6.4-1.7-10.4-5.1-6.1-2.1-19.9-2.6-36.7-1.1-110.2 0-33.6 0.8-19.9 2-9.2 2.4-12.2 5.8-9.2 2-18.3 1.6-27.6-0.7-9.1 0.5-7.7 2.3-3 1.9-3.1 2.8-3.1 4.6-2.3 6.4-1.7 8.2-0.8 8.3 0.3 18.2 3.5 24.7-0.4 5-3 16.5-0.9 9.9-0.9 24.8-0.1 28.1 1.1 41.3 2.4 31.4 3.7 23.1 2.2 8.4 2.9 8.1 6.3 11.8 7.6 8.9 10.7 8.1 12.3 6.5 22.9 8.7 24.5 7.1 13.7 2.5zM250.2 1844.5l0 1 56.6 0 29.1-0.7 15.2-1.2 13.8-2.5 14.3-6.5 7.1-1.8 19.9-1.9 29.1 0.7 10.7-0.9 4.6-1.5 3-1.7 3.1-2.6 3-4 2.1-4.5 1.9-6.6 1.2-8.2 0.6-9.9-0.6-14.9-3.3-23.1 4-28.1 1.2-33.1 0-24.7-0.9-34.7-2.8-38-2.1-14.9-2.6-11.6-3.2-10.1-3.8-8-4.2-6.6-5.8-6.8-6.1-5.2-9.2-5.9-13.8-6.5-18.3-6.6-19.9-6-15.3-3.1-41.3-3.6-26 0.6-41.3-0.5zM1030.1 1844.5l32.3 0.9 58.1 0.1 0-345.2-41.3 0.5-23-0.7-10.7 0.5-27.5 2.5-10.7 1.5-13.8 3.1-16.8 5.2-15.3 5.4-12.2 5.3-9.2 5.1-7.7 5.6-6.2 6.3-6 8.4-4.6 9.5-3.2 10.1-3.4 16.6-2.6 22-1.5 24.2-0.9 36.4 0 29.7 0.9 24.5 1 10.2 2.9 16.5 0.4 5-3.5 24.7-0.3 16.6 1.4 13.2 2.7 9.6 3.1 5.3 3 3.2 4.6 2.9 4.6 1.5 10.7 0.9 29.1-0.7 19.9 1.9 7.1 1.8 10.2 5 5.6 2 9.2 1.6z"/><path fill="#6bff94" d="M618.7 2178.2l30.7 0.3 35.2 1.2 36.7-1.2 27.5-0.2 12.2-0.9 21.5-3.5 13.7-3.2 9.2-2.9 33.6-15.6 9.2-5 9.2-6 7.7-6.1 6.1-6 6.1-7.5 5.8-9.5 4.4-9.9 3.9-11.5 3.2-13.3 2.3-13.2 3-36.3-0.1-31.4-1.1-13.8-2-12.6-2-6.6-3.4-6.6-3.3-4.5-6.6-7.1-1.8-3.3-0.1-1.7 1.4-3.3 7.1-8.7 3.9-6.1 2.2-5.1 1.5-6.5 0.4-8.3-1.4-8.2-2.7-6.6-3.9-5.1-3.1-2.6-4.6-2.5-9.1-2.6-15.3-2.3-15.3-0.8-10.7-1.5-12-0.8-4.9-0.9-6.8-2.4-8.4-4.8-4.6-1.9-13.8-4-9.2-1.6-15.3-1.4-15.3-0.6-90.2 0.4-16.8-0.4-19.9 0.8-19.9 2.5-16.8 4.8-12.3 6.5-9.1 2.7-26 2.7-13.8 0.7-16.8 2.6-9.2 3-4.6 3-3 3-3.3 5.1-2.6 8.3-0.7 8.2 0.7 6.7 1.3 4.9 2.1 5 4 6.1 7.1 8.7 1.4 3.3-0.1 1.7-1.9 3.3-6.5 7.1-3.1 4.1-3 5.6-2.2 6.3-2.1 11.6-1.2 13.2-0.5 31.4 2.4 33 2 14.4 4.6 19.8 6.1 16.6 3.7 7 4 6.2 9.2 10.7 12.2 10 13.8 8.3 32.1 15.2 10.7 4.1 19.9 4.6 16.8 2.7zM250.2 1841.2l0 1 36.7-0.3 18.4 0.4 16.8-0.7 18-2 18.7-5.2 12.3-6.4 9.1-2.9 26-2.7 15.3-0.9 19.9-3.5 6.1-2.4 4.6-3.2 3.6-4.2 2.7-5 1.5-4.9 0.9-6.6-0.1-6.6-1.3-6.7-1.8-4.9-2.4-4.5-9.4-12-1.4-3.3 0.7-3.3 10.1-11.8 4.5-8.6 2.8-11 2-18.2 0.4-31.4-2.4-33-3-19.8-4.7-18.2-4.5-11.6-5.9-11-6.5-8.8-8.8-8.8-9.1-7-10.7-6.6-12.3-6.1-27.5-12.5-9.2-2.9-10.7-2.6-27.5-4.3-71.9-1.9zM1044.3 1841.2l22.6 1.1 16.9-0.4 36.7 0.3 0-327.9-36.7 1.2-26 0.1-12.3 0.9-18.3 2.9-12.3 2.5-10.7 3-10.2 4.1-23.4 10.9-12.3 6.5-12.2 8.1-9.2 8-8 9.5-7 11.5-5.4 13.2-4 14.2-4 22.2-2.6 33-0.2 24.8 1 16.5 2.1 14.9 2.4 8.2 4.3 8.1 10.1 11.8 0.7 3.3-1.4 3.3-10.1 13.2-2.3 4.7-1.7 5.2-1 6.6 0.2 6.6 1.2 6.6 2.8 6.8 3.1 4.2 3 2.7 4.6 2.7 6.1 2.2 19.9 3.2 13.8 0.7 26 2.7 7.6 2.3 10.7 5.8 6.1 2.2 15.3 4.1z"/><path fill="#61ff9e" d="M671.2 2168.3l18 0.5 62.7-2.7 27.5-5.2 18.4-5 4.5-1.9 10-5.5 19.1-8.6 15.3-8.8 7.6-5.4 7.7-6.4 6.1-6 5.1-6.1 6.6-9.9 5.1-10.3 4.6-12 3.4-12.4 5.2-36.4 0.1-21.4-0.5-8.3-1.2-9.9-2.2-9.9-2.2-6.6-2.7-5-4.5-5.1-4.6-3.4-4.5-2.4-13.8-5.7-3.2-3.2-1.1-3.3 0.8-3.3 1.5-1.7 12.7-7.6 7.6-5.5 5.4-5 3.2-5 1.9-6.6 0.2-3.3-0.8-5-3.2-6.6-5.1-5-4.6-2.9-4.6-2-16.8-4.5-26-3.1-12.3-0.8-9.1-1.7-6.2-1.9-9.1-4.6-18.4-6.3-18.3-3.2-18.4-1.3-16.8 0.8-12.3-0.5-12.2 0.4-35.2-0.4-13.7 0.5-15.3-0.8-16.9 1.1-18.3 3-21.4 7.3-9.2 4.6-9.2 2.3-16.8 1.5-10.7 1.6-12.2 1-6.2 1.2-10.7 2.8-6.9 2.7-5.4 3.3-5 4.9-2.7 5-1.3 6.6 0.8 6.6 2.2 5 3 4.1 4.6 4.2 7.7 5.5 12.2 7.3 2 2 0.7 1.6 0.1 1.7-1.1 3.3-3.2 3.2-13.8 5.7-4.6 2.4-4.6 3.4-4.4 5.1-2.8 5-1.9 5.7-2.1 9.1-1.2 8.3-0.8 9.9 0.1 23.1 2.7 16.6 2.1 18.1 3 11.6 3.8 10.9 4.6 10 6.1 10.3 6.1 7.9 6.2 6.3 7.6 6.6 7.6 5.6 15.3 9 20.7 9.4 13 6.9 19.9 5.5 12.2 2 12.2 2.9 10.8 0.8zM250.2 1837.9l0 0.7 36.7-0.5 18.4 0.7 15.3-1.1 15.3-2.3 22.9-7.6 9.2-4.7 6-1.7 7.7-1.4 12.3-0.8 12.2-1.8 12.2-1.1 16.9-4 6.1-2.5 6.1-3.8 4.4-4.4 2.6-5 1.2-4.9 0-5-1.2-5-2.7-4.9-4.3-4.7-6.1-4.9-16.6-10.2-1.8-2.3-0.5-2.7 1.2-3.3 3.3-3.3 15.9-6.7 7.7-5.5 3-3.4 3.1-5.1 3.3-10.7 1.6-8.2 1.2-11.6 0.2-26.4-2.7-16.6-1.8-16.5-4.9-18-5.5-13.4-6.5-11.5-7.6-9.9-8.3-8.3-10.3-8.1-12.3-7.7-10.7-5.6-15.3-6.7-12.2-6.6-21.4-5.9-10.7-1.7-13.8-3.2-68.8-3zM1052.2 1837.9l14.7 0.9 16.9-0.7 36.7 0.5 0-313.5-59.7 2.3-12.2 1.2-10.7 2.7-10.7 1.7-19.9 5.4-13.7 7.1-20 9-12.2 6.9-10.7 7.5-9.2 7.9-7.6 8.4-6.1 8.6-6.2 11.5-5.1 12.9-3.6 13.2-1.2 6.6-1.3 13.2-2.3 13.3-0.5 6.6 0.4 24.7 1.4 12 2.5 11.2 3.6 8.5 5.3 6.3 7 4.9 15.9 6.7 3.3 3.3 1.1 3.3-0.5 2.7-1.7 2.3-18.1 11.4-6.2 5.1-3.8 4.9-2.3 5.4-0.7 6.2 1.3 6.6 2.5 4.7 3.2 3.6 4.4 3.3 4.6 2.4 6.1 2.1 15.3 3.6 12.3 1.1 12.2 1.8 12.2 0.8 7.7 1.4 6.1 1.7 9.2 4.7 18.3 6.4 7.7 1.7z"/><path fill="#56ffa9" d="M663.2 2158.4l26 0.9 55-2.8 7.7-1.2 12.2-3.2 12.2-2.2 16.9-4.7 29-12.7 18.4-10.2 9.2-6.2 7.6-6.1 6.1-5.7 6.1-6.9 6.2-8.5 6.1-10.5 4.6-10.2 2.8-8.9 2.7-16.5 3.3-11.6 0.8-5 0.1-21.4-0.7-8.3-1.4-8.3-2.3-8.2-2.8-6.6-3.4-5-3.7-3.7-6.1-4.2-15.8-6.9-4.1-2.5-6.2-5.8-2.1-3.3-0.4-1.7 0.8-3.3 3.2-3.3 13.9-6.7 5.2-3.2 8.1-6.6 4-4.9 2.1-5 0-5-2.1-4.9-5.1-5.6-7.7-4.7-13.7-4.8-24.5-3.6-15.3-1.2-10.7-1.8-33.6-11.3-18.4-3.5-15.3-1.4-15.3 1.1-13.8-0.5-12.2 0.6-10.7-0.5-13.8 0.5-10.7-0.6-12.2 0.6-16.8-1.2-16.3 1.5-15.8 2.9-23 7.6-7.6 3-5.6 1.4-9.7 1.6-15.3 1.2-24.5 3.6-9.2 2.9-6.1 2.6-6.1 4-4 3.9-2.1 3.4-1.3 4.9 0.7 4.9 2.7 5 4.7 5 6.9 5.4 18.5 9.4 3.2 3.3 0.8 3.3-0.4 1.7-2.1 3.3-6.2 5.8-4.1 2.5-15.8 6.9-4.6 3-4.6 4.2-3 4-2.5 5-3.9 13.2-1.9 14.9 0 18.1 0.7 6.6 3.5 13.3 2 13.2 2.2 8.2 4.7 11.6 7.4 13.1 6.1 8.5 6.2 6.9 7.6 7 9.2 7 9.2 5.9 12.2 6.8 29 13.2 19.9 5.7 12.3 2.2 15.3 3.8 10.7 1zM250.2 1833l0 0.8 12.2-0.5 12.3 0.6 12.2-0.6 16.8 1.2 13.8-1.3 13.8-2.3 7.6-2 30.6-10.4 10.7-1.9 13.8-1 21.4-2.9 9.2-2.1 9.1-3.3 7.1-4.1 5.3-4.9 2.8-5 0.7-3.3-0.6-4.4-1.7-3.9-2.5-3.3-5.3-4.9-5.8-4.3-17.6-8.9-3.2-3.3-0.8-3.3 0.3-1.7 2.1-3.3 7-6.4 18.4-8.4 7.6-5.3 5.4-6.3 4.3-9.9 2.1-8.3 1.5-9.9 0.3-24.8-1-6.6-3.5-13.2-2-13.2-2.5-8.5-4.9-11.3-7.3-12.7-8.1-10.5-10.3-10.1-10.7-8.1-13.8-8.5-10.7-5.6-24.4-11-19.9-5.8-12.3-2.2-16.8-4.1-12.2-1.1-50.5-2.3zM1051.4 1833l15.5 1.5 16.9-1.2 12.2 0.6 12.2-0.6 12.3 0.5 0-299.2-52 2.4-13.8 1.5-12.2 3.2-13.8 2.6-16.8 4.7-29.1 12.8-13.7 7.5-10.8 6.9-10.7 8.4-7.6 7.6-7.7 9.5-7.6 12.4-4.9 10.7-3.7 11.6-2.3 14.8-3.6 13.3-0.7 6.6 0.1 18.1 0.5 6.6 2 11.6 2.6 8.3 3.9 7.8 4.9 5.4 8.8 5.8 16.9 7.6 6.9 6.4 2.2 3.3 0.3 1.7-0.8 3.3-3.2 3.3-17.7 8.9-7.6 5.9-4.6 4.8-2.2 3.5-1.4 5 0.5 4.4 1.8 3.8 4.4 5 4.5 3.3 6.2 3 9.1 3.1 7.7 1.7 21.4 2.9 12.6 0.8 10.3 1.7 6.2 1.6 7.6 3.1 20.7 6.9z"/><path fill="#4cffb3" d="M662.7 2150.1l28 0.8 52-2.8 9.2-1.4 16.8-3.6 19.9-5.3 9.2-3.2 12.2-5.2 29-16 7.7-5.1 7.6-6.1 7-6.6 6.8-7.8 8.6-12 6.1-11.6 2.8-8.2 2.7-13.2 5.1-13.3 0.9-6.6 0-16.5-1-9.9-2-8.3-2.4-6.6-3.6-6.6-3.4-4.1-4.6-4.1-4.6-3.2-16.9-8.4-9.9-6.6-5.2-5-0.9-3.3 1-3.3 4.4-4.9 5.3-3.3 14.6-7.1 5.8-4.5 4.2-4.9 2.1-5 0-5-2.4-4.9-3.6-3.8-7.7-4.7-10.7-3.7-21.4-3.4-15.3-1.3-12.2-1.8-35.2-8.9-22.9-3.5-9.2-0.3-15.3 2.1-24.5 1.6-19.9 0-27.5-1.6-18.4-2.2-10.7 1-16.8 2.6-36.7 9.2-12.2 1.8-15.3 1.3-21.4 3.4-7.3 2.3-6.5 3-5.1 3.6-3.1 3.3-1.9 3.3-0.8 4.9 0.7 3.3 2.9 5 4.2 4.4 4.6 3.4 14.6 7.1 5.3 3.3 4.4 4.9 1 3.3-0.9 3.3-5.2 5-9.9 6.6-16.8 8.3-8.5 6.6-3.9 4.4-2.3 3.8-2.9 6.6-2 6.6-2.1 13.3-0.1 18.1 0.6 5 1.2 4.3 4.3 10.6 2.7 13.2 2.1 6.6 3.9 8.2 5 8.3 6.5 8.7 6.1 7.1 6.1 5.9 7.6 6.3 9.2 6.3 10.7 6.2 15.3 8.3 10.7 4.9 9.2 3.5 13.8 4.1 27.5 6.3 13.8 1.8zM301.4 1828l8.4-0.2 18.4-2.6 39.8-9.8 12.2-1.8 15.3-1.3 21.4-3.3 6.1-1.8 6.1-2.5 5.4-3.1 3.7-3.3 2.5-3.3 1.6-5-0.7-4.9-2.9-5-3.4-3.7-4.6-3.6-6.1-3.4-9.3-4.2-5.2-3.3-4.5-4.9-1-3.3 0.2-1.7 0.7-1.6 3.1-3.3 9.3-6.7 16.6-8.2 6.9-4.3 4.6-4 4.6-5.5 4.6-9.6 3.2-13 0.8-8.2 0-16.5-0.5-5-5.5-14.9-2.4-11.5-1.9-6.6-3.6-8.3-5.4-9.2-9.2-12.2-9.2-9.6-9.2-7.5-12.2-8-19.9-11-13.8-6.4-12.2-4.5-18.3-5-18.4-4-10.7-1.5-56.6-2.9 0 281.5 10.7-0.2 24.5 1.6zM1063.7 1828l6.3 0 13.8-2 24.4-1.6 12.3 0.1 0-281.5-56.6 2.9-10.7 1.5-18.4 4-18.3 5-12.3 4.5-13.7 6.4-19.9 11-12.3 8-9.1 7.5-9.2 9.6-9.2 12.2-5.4 9.2-3.7 8.3-1.9 6.6-2.3 11.5-5.5 14.9-0.5 5 0 16.5 0.7 8.2 3.3 13 4.6 9.6 4.6 5.5 4.6 4 6.9 4.3 16.6 8.2 9.3 6.7 3 3.3 0.8 1.6 0.1 1.7-1 3.3-4.4 4.9-5.3 3.3-9.2 4.2-6.1 3.4-4.6 3.6-3.5 3.7-2.8 5-0.8 4.9 1.7 5 2.4 3.3 3.8 3.3 5.3 3.1 6.1 2.5 6.2 1.8 21.4 3.3 13.7 1.1 12.3 1.7 36.7 9.3z"/><path fill="#42ffbd" d="M675.5 2143.5l25.9-0.2 47.4-3.1 19.9-4 27.5-8.1 13.8-6.1 24.5-13.8 9.1-6 7.7-5.9 6-5.6 12.3-14.4 6.1-8.8 3.5-6.6 2.3-6.6 2.7-11.5 5.5-10 2-4.9 0.6-5 0.1-16.5-0.4-4.9-1.4-6.7-2.6-7.7-2.6-5.5-3.5-5.2-4.6-4.9-9.2-6.9-15.1-7.7-17-10-2-1.6-1.7-3.3 0-1.7 1.4-3.3 4.6-4.9 7.1-5 16.6-8.2 4.1-3.3 2.8-3.3 2.2-5-0.2-5-2.7-4.9-3.5-3.3-7.3-4-10.7-2.9-15.3-2.5-22.9-2.3-42.9-6.2-13.7-0.3-9.2 0.7-7.7 2-14.1 5.6-12 3.3-10.5 1.6-13.8 0.7-12.3-0.7-9.1-1.3-13.4-3.6-18.8-7-7.6-1.1-9.2-0.3-15.3 1-32.1 5-27.5 2.9-16.9 2.8-6.1 1.5-6.1 2.5-4.2 2.6-3.6 3.3-2 3.3-1 4.9 0.7 3.3 2.9 5 3.4 3.3 3.8 2.6 13.8 6.6 6.3 4 3.9 3.3 2.7 3.3 1.5 3.3 0 1.7-1.8 3.3-1.9 1.6-17.1 10-15 7.7-7.7 5.5-5 4.9-3.7 5-3.3 6.6-2.3 6.6-1.6 6.6-0.7 6.6 0 16.5 0.7 5 2 4.9 5.5 10 2.6 11.5 2.4 6.6 6.8 11.6 12 14.9 6.5 6.6 7.2 6 15.3 9.9 22.9 12.9 7.7 3.6 21.4 7 26 6.1 15.3 1.7zM315.2 1818.1l11.5-0.1 9.2-0.7 32.1-4.9 27.5-3 15.3-2.5 6.1-1.3 6.1-2 4.6-2.4 4.6-3.6 3-4.3 0.9-4.9-1.4-5-2.2-3.3-6.4-5.4-13.8-6.7-7.1-4.4-3.8-3.3-2.8-3.3-1.4-3.3-0.1-1.7 1.8-3.3 4.6-3.3 32.8-18.2 6.6-5.4 5.3-6.1 2.9-5 2.2-4.9 3.4-12.3 0.6-7.6-0.1-14.8-0.7-5-1.3-3.7-6.1-11.2-3.2-13.2-3-7.3-6.1-9.9-8.6-10.9-9.5-9.9-9.4-7.7-9.2-6-24.5-13.9-9.2-4.5-13.7-4.8-18.4-5.1-13.7-3.1-19.9-2.2-50.5-2.4 0 253.9 13 0.7 10.6 1.6 11.9 3.3 17.6 6.6zM1045.2 1818.1l11 0 7.7-0.9 6.1-1.6 15.3-5.9 11.6-3.2 10.5-1.6 13.1-0.7 0-253.9-50.5 2.4-19.9 2.2-13.7 3.1-18.4 5.1-13.8 4.8-9.1 4.5-24.5 13.9-9.2 6-9.4 7.7-9.6 9.9-8.5 10.9-6.1 9.9-3 7.3-3.2 13.2-6.1 11.2-1.3 3.7-0.7 5-0.1 14.8 0.6 7.6 3.4 12.3 2.1 4.9 3 5 5.3 6.1 6.5 5.4 32.9 18.2 4.6 3.3 1.7 3.3 0 1.7-1.4 3.3-2.8 3.3-3.8 3.3-7.2 4.4-13.7 6.7-6.5 5.4-2.2 3.3-1.4 5 1 4.9 2.1 3.3 3.5 3.3 5 3 10.7 3.4 16.8 2.9 26 2.7 35.2 5.4z"/><path fill="#38ffc7" d="M668.7 2136.9l15.9 0.4 15.3-0.3 52-3.4 10.7-2 18.3-4.9 15.3-4.8 9.2-3.8 27.5-15.7 9.2-6 12.2-10.5 11.9-13.4 5-6.6 4-6.6 2.6-6.6 3-11.6 1.8-3.3 5.2-6.6 1.7-3.7 0.7-4.6 0.3-16.5-1.8-9.9-3.1-8.3-3.6-6.6-3.9-4.9-5.4-5.3-4.6-3.6-6.1-3.6-18.4-9.6-13.2-6-3.9-3.3-1.3-3.3 0.1-1.7 1.4-3.3 2.8-3.3 3.9-3.3 10.2-6.5 13.8-6.8 5.9-4.8 2-3.4 0.6-4.9-2.1-5-3.3-3.2-4.6-2.6-4.6-1.7-18.4-3.7-38.2-4-19.9-0.9-9.2 0.4-9.1 1.3-7.7 1.8-21.4 6.3-19.9 3-21.4 0.9-18.4-0.5-22.9-3.1-30.6-8.4-10.7-1.4-9.2-0.3-21.4 1.2-39.7 4.5-10.8 2.1-6.1 1.9-6 3.1-3.4 3.3-1.8 3.3-0.4 3.3 0.7 3.3 1.9 3.4 6 4.8 13.7 6.8 10.3 6.5 3.8 3.3 2.8 3.3 1.4 3.3 0.1 1.7-1.2 3.3-3.9 3.3-13.3 6-18.3 9.6-9.1 5.9-5.5 4.9-4.3 5-3.1 4.9-3 6.6-2.2 6.7-1.2 6.6 0.5 21.4 1.9 4.7 5.4 6.9 1.8 3.3 4.1 14.9 5.5 9.9 12.2 15.2 7.7 7.8 6.1 5.2 12.2 8.3 32.2 17.9 19.8 6.4 24.5 6.2 13.8 1.5zM323.9 1809.8l12 1.3 15.2-0.3 45.9-4.5 13.8-2.5 7.6-2.1 4.6-2 4.6-3.5 2.8-4.5 0.5-3.3-0.8-3.3-1.9-3.4-5.2-4.3-15.3-7.7-9.5-6.1-3.8-3.3-2.8-3.3-1.4-3.3-0.1-1.7 1.2-3.3 4-3.3 12.4-5.6 24.5-13.1 7.5-6.1 6-6.6 3.2-4.9 2.3-5 3.6-11.6 0.6-6.6-0.3-14.8-0.8-5-2.2-4.2-4.7-5.7-1.8-3.3-3.5-13.2-3-6.6-6.9-10.2-9.6-11.3-8.7-8.6-9.2-7.1-35.2-20.4-6.1-2.6-16.8-5.3-26-6.6-12.3-1.4-30.6-1.9-27.5-1 0 240.7 19.9 0.7 16.8 2.2 12.2 2.8 15.3 4.7zM1006.9 1809.8l20.3 1.3 13.7-0.5 13.8-2.4 16.8-5.1 12.3-2.8 16.8-2.2 19.9-0.7 0-240.7-27.6 1-30.5 1.9-12.3 1.4-26 6.6-16.8 5.3-6.1 2.6-35.2 20.4-9.2 7.1-7.6 7.4-9.2 10.6-7.7 10.7-3.8 8-3.4 13.2-1.9 3.3-6.1 8.3-1.2 3.3-0.3 3.3 0 19.8 1.5 6.3 2.4 6.9 5.2 9.6 6.3 6.9 7.5 6.1 24.4 13.1 12.5 5.6 4 3.3 1.2 3.3-0.1 1.7-1.4 3.3-2.8 3.3-3.9 3.3-7.9 5.3-15.3 7.6-5.2 3.6-2.7 3.3-1.3 3.3-0.1 3.3 1.1 3.3 2.5 3.3 2.6 2.1 4.6 2.4 6.1 2 16.8 3.2z"/><path fill="#2dffd2" d="M652.3 2130.3l21.6 1.2 18.3 0.1 55.1-3.3 10.7-1.3 10.7-3.2 10.7-2.4 21.4-6.6 30.6-17.3 7.6-4.8 6.2-4.8 13.7-13.6 7.7-9.4 4.6-6.7 2.7-5.5 3.9-13.2 2.3-3.4 6-6.6 1.6-3.3 0.9-18.1-0.4-5-1.2-4.9-3.2-8.3-3.7-6.6-4.3-5.3-6.2-5.9-7.6-5.3-15.3-8-21.4-9.3-4.3-4.2-1.4-5 0.7-3.3 0.9-1.6 3-3.3 4.1-3.3 10.7-6.8 15.8-8.1 4.1-3.3 1.8-3.3 0.2-3.3-1.4-3.3-1.5-1.7-2.2-1.6-4.5-2.2-16.8-4.1-26-3-13.8-0.8-22.9 1.5-33.7 7.6-15.3 2.6-19.9 1.5-36.7 0-18.3-1.5-10.6-1.6-39.9-8.8-23-1.3-15.2 1.1-24.5 3-16.6 4.3-3.3 1.7-3.1 2.7-1.4 2.2-0.6 3.3 0.5 2.3 1.6 2.7 4.1 3.3 15.7 8.1 10.7 6.8 4.1 3.3 3 3.3 0.9 1.6 0.7 3.3-1.3 5-2.8 3.1-2.7 1.8-18.7 7.8-15.3 7.9-7.6 5-6.2 5.5-4.5 5.1-3.1 4.7-2.6 5.3-2.5 6.7-1.5 6.6 0.8 21.4 1.5 3.3 6.1 6.6 2.2 3.4 4 13.2 3.4 6.6 5.4 7.6 7.5 8.9 7.8 8 6.1 5.4 10.7 7.4 32.2 18.2 21.4 6.6 22.9 5.9zM354.1 1806.5l13.9-0.1 32.1-3.6 16.8-4.3 4.6-2.5 2.8-2.7 0.9-1.6 0.6-3.3-0.9-3.3-1.9-2.4-3.4-2.6-19.5-10.3-9-6.2-5-5-1.4-3.3-0.1-3.3 1.3-3.3 3.5-3.7 5.5-2.9 14.4-5.7 18.3-9.6 8.4-6.2 7.8-8.2 3.2-5 2.3-4.9 2.5-6.7 1.3-4.9 0.4-5-0.8-8.2 0.3-6.6-1.1-5-2.1-3.3-4.8-4.9-2.3-3.4-4-13.2-3.4-6.7-8.6-11.4-9-9.9-8.4-7.9-7.7-5.6-35.2-20.2-21.4-6.8-26-6.5-45.9-3.3-22.9-0.7 0 230.9 19.9 0.4 19.9 1.7 13.7 2.4 30.6 7.1 7.7 1zM1005.3 1806.5l12.7 0 15.3-1.2 35.2-7.9 13.7-2.3 19.9-1.6 18.4-0.3 0-230.9-23 0.7-45.9 3.3-26 6.5-21.4 6.8-35.1 20.2-7.7 5.6-8.5 7.9-9 9.9-8.5 11.4-3.4 6.7-4 13.2-2.3 3.4-4.8 4.9-2.1 3.3-1.1 5 0.2 6.6-0.7 8.2 0.4 5 1.2 4.9 2.5 6.7 2.4 4.9 3.2 5 7.8 8.2 8.4 6.2 18.3 9.6 14.4 5.7 5.5 2.9 3.5 3.7 1.2 3.3 0 3.3-1.4 3.3-5 5-9 6.2-19.6 10.3-3.4 2.6-1.8 2.4-1 3.3 0.6 3.3 1 1.6 2.8 2.7 4.1 2.3 12.7 3.5 9.2 1.7z"/><path fill="#23ffdc" d="M653.9 2125.4l30.7 1.2 29-1 39.8-3.1 4.6-1 8.1-2.8 11.8-2.1 8-2.8 13.4-3.5 29-16 13.8-9.3 6.6-5.9 7.9-8.3 8.1-9.9 4.4-6.6 2.2-4.9 2.5-8.3 1.8-3.3 7.8-8.3 2-3.3 1.3-18.1-1.3-8.3-3.3-8.3-3.3-6.1-4.2-5.4-5-5-7.6-5.7-12.2-6.7-10.8-5.1-11.2-3.9-6.2-3.4-4.8-4.9-2.4-5-0.5-3.3 1-3.3 5.2-4.9 8.2-5.5 24.2-14.4 1.5-1.6 0.6-1.7-0.1-1.6-1.7-2.4-4.6-2.7-13.7-4.3-21.5-2.8-13.7-0.8-21.4 2.5-37.6 7.2-14.4 1.9-21.4 1.2-38.3 0-19.9-1.1-12.2-1.5-39.8-7.5-16.8-2.3-7.6-0.4-12.3 0.8-21.4 2.8-14.1 4.4-5 3.3-0.9 1.7-0.1 1.6 0.6 1.7 1.4 1.6 24.2 14.4 10.5 7.1 3 3.3 0.7 1.7 0.1 3.3-2.7 6.6-4.9 4.9-6.1 3.4-11.3 3.9-6.1 2.8-13.8 7.2-7.6 5-9.4 9.1-3.6 5-2.6 4.9-2.8 6.9-1.6 6.4 0.8 19.8 2.3 4.9 6.6 6.6 2.3 3.4 3.9 11.5 2.5 5 4.7 6.6 7.6 9.1 7.6 7.8 7.7 6.7 12.2 8.1 29.1 16 13.3 3.5 8.1 2.8 12.2 2.3 10.7 3.3zM350.2 1801.6l10.1 1.2 7.7 0.2 28.4-3.1 7.4-1.6 8.5-2.9 4.3-2.1 1.9-1.6 0.8-1.7 0.2-1.6-0.6-1.7-1.5-1.6-25-14.9-11.4-8.3-2-3.3 0.3-4.9 2.3-5 4.9-4.9 6.1-3.4 15.1-5.6 16.9-8.7 8-5.5 8.3-8.2 3.5-5 2.6-4.9 4.1-11.6 0.5-5-1.4-18.1-1.9-3.3-6.6-6.6-2.2-3.4-4-11.5-3.5-6.6-9-11.5-9.1-9.7-7.7-6.8-7.6-5.4-33.7-19-4.6-1.6-9.2-2.1-7.6-2.6-12.2-2.4-12.3-3.7-45.9-3.5-22.9-0.7 0 222.7 19.9 0.1 21.4 1.3 13.8 1.8 33.6 6.6zM987.8 1801.6l13.4 1.3 9.2-0.1 19.8-2.6 35.2-6.9 12.3-1.6 22.9-1.5 19.9-0.1 0-222.7-23 0.7-45.9 3.5-12.2 3.7-12.2 2.4-7.7 2.6-9.1 2.1-4.6 1.6-33.7 19-7.6 5.4-7.7 6.8-9.1 9.6-7.8 9.9-4.5 7.6-4.2 12.2-2.3 3.4-7.7 8.2-1.3 5 0.1 6.6-0.9 8.2 0.5 5 4.1 11.6 5.6 9.2 7.6 8 9.2 6.4 16.8 8.7 15.1 5.6 6.2 3.4 4.9 4.9 2.3 5 0.2 4.9-2.7 4-10.7 7.6-24.4 14.5-2 2-0.6 1.7 0.1 1.6 0.9 1.7 1.9 1.6 7.5 3.3 10.5 2.9z"/><path fill="#19ffe6" d="M649.4 2120.4l30.6 1.6 32.1-0.9 39.8-3.3 13.7-3.8 12.3-2.3 19.9-5.5 24.4-12.9 10.7-6.5 7.7-5.6 7.6-6.8 7.7-8 9.2-12.1 2.6-4.9 3-8.3 1.9-3.3 8.2-8.3 2.3-3.3 0.8-3.3 0-6.6 1-8.2-0.5-5-1.6-4.9-3.7-8.3-3.1-5-4.2-4.9-5.2-4.9-7.7-5.3-13.7-7.3-7.7-3.5-10.9-3.8-6.4-3.3-4.3-3.3-4.7-5-3.5-4.9-1-3.3 0.2-3.3 0.7-1.7 2.8-3.3 22.9-13.2 6.1-5 1.5-3.3-0.5-1.6-1.5-1.7-2.9-1.7-6.1-1.9-16.9-2.8-10.7-0.5-6.1 0.5-32.1 5.5-36.8 4.2-22.8 0.9-39.8 0-18.4-0.6-15.3-1.5-26-3.2-31.9-5.5-6.3-0.3-9.2 0.5-18.7 3.1-4.5 1.7-2.6 1.6-1.5 1.7-0.5 1.6 0.4 1.7 1.1 1.6 3.7 3.4 25.7 15.2 1.5 1.6 1.5 3-0.1 4.9-1.6 3.3-4 5-3.2 3.3-4.4 3.3-6.5 3.4-15.3 5.7-15.3 7.9-9.2 6.2-7.7 7.6-5.7 8.8-4.4 11.6-0.5 6.6 1 6.6 0 6.6 0.7 3.3 2.3 3.3 8.3 8.3 1.9 3.3 3 8.3 2.5 4.9 10.8 13.8 7.7 7.8 7.6 6.5 16.8 10.9 24.5 12.9 19.9 5.5 12.2 2.3 13.8 3.8zM362.4 1798.3l5.6 0.3 8-0.3 19.5-3.1 5.6-1.9 2.7-1.6 1.5-1.7 0.4-1.6-0.4-1.7-1.1-1.6-3.6-3.4-22.9-13.2-3.6-2.7-2.3-3.9 0.1-4.9 1.6-3.3 4-5 3.2-3.3 4.1-3.1 6.7-3.5 14.7-5.4 15.3-7.9 9.2-5.9 7.6-7.4 3.7-4.8 2.4-4.2 3.3-7.4 1.5-4.9 0.5-6.6-1-6.6 0.1-6.6-0.8-3.3-2.3-3.3-6.9-6.6-2.4-3.4-4.6-11.5-4-6.6-7.8-9.6-7.7-7.9-7.6-6.7-9.2-6.5-15.3-8.9-15.3-7.9-4.6-1.9-9.2-2.1-9.1-2.8-12.3-2.3-13.7-3.8-41.3-3.3-24.5-0.7 0 215.5 19.9 0 22.9 0.9 36.7 4.3zM994.7 1798.3l12.6 0.1 33.6-5.7 38.3-4.4 21.4-0.8 19.9 0 0-215.5-24.5 0.7-41.3 3.3-13.8 3.8-12.2 2.3-9.2 2.8-9.1 2.1-4.6 1.9-15.3 7.9-15.3 8.9-7.7 5.3-7.6 6.4-9.2 9.4-7.6 9.4-4.3 6.8-4.5 11.5-2.5 3.4-6.8 6.6-1.8 2.4-1.3 4.2 0 6.6-1 6.6 0.5 6.6 1.6 4.9 3.2 7.4 2.4 4.2 3.7 4.8 7.7 7.4 9.2 5.9 15.3 7.9 14.7 5.4 6.4 3.3 6 5 6.5 8.2 1.1 5-1 3.3-1.6 2.2-3.6 2.7-22.9 13.2-3.7 3.4-1.5 3.3 0.5 1.6 1.5 1.7 5.2 2.6z"/><path fill="#0ffff0" d="M661.3 2117.1l18.7 0.7 18.3-0.2 50.5-3.6 27.5-6.1 18.4-5 7.6-3 9.2-4.5 24.5-15.2 12.2-10.5 12-13.7 3.3-5.2 4.1-9.7 2-3.3 8.8-8.3 2.6-3.3 1-3.3 0.1-6.6 1-6.6 0-3.3-1-4.9-3.4-8.3-3.8-6.6-4-5-5.8-5.3-7.7-5.2-13.8-7.3-6.1-2.9-11.5-4-6.5-3.3-13.8-10-4.6-4.9-1.6-3.3-0.6-3.3 0.4-4.5 1.4-3.8 1.6-2.6 3.1-2.9 10.8-6 2-1.7 1.2-1.7-0.1-1.6-1.5-1.7-6.3-2.2-7.6-0.6-18.4 2.2-33.6 1.6-27.6 2-59.6 0.4-19.9-0.5-26-1.9-33.6-1.6-19.9-2.2-8.8 1.2-3.7 1.6-1.5 1.7 0 1.6 1.1 1.7 2.1 1.7 10.8 6 3.7 3.9 1.8 3.3 0.8 3.3-0.1 4.9-1 3.3-2.1 3.3-3.4 3.3-11.1 8.3-9.2 5-14.6 5.4-13.8 7.1-9.1 5.7-7.7 6.9-3.7 4.6-3 4.9-4.6 11.6-0.7 6.6 1 6.6 0.2 6.6 0.9 3.3 2.6 3.3 8.9 8.3 2 3.3 3.3 8.3 2.9 4.9 5.5 7.2 7.6 8.2 7.7 7 6.1 4.6 24.5 14.9 15.3 6.7 41.3 10.4zM358.7 1790l9.3 1.2 6.1-0.3 6.1-1.4 2.5-1.1 1.5-1.7 0-1.6-1.1-1.7-2-1.7-10.1-5.5-4.6-4.5-1.6-3.2-1-4.9 0.2-3.3 1.1-3.3 3.6-5 12.9-9.9 7.8-4.3 13.7-5.1 15.3-7.7 10.7-6.7 6.6-5.9 4.1-5 2.9-4.9 4.7-11.6 0.6-6.6-1-6.6-0.2-6.6-0.9-3.3-2.6-3.3-8.8-8.3-2.1-3.3-3.3-8.3-3-5.2-6.3-8-9-9.3-7.7-6.6-7.6-5.4-16.8-10.2-10.7-5.5-9.2-3.5-16.8-4.6-26-6-41.3-3.4-24.5-0.7 0 209 39.8 0.2 27.5 2.1 32.1 1.5zM991.7 1790l4.9 0.9 6.1 0.3 16.8-2.1 35.2-1.7 26-2 39.8-0.2 0-209-24.5 0.7-41.3 3.4-26 6-16.8 4.6-9.2 3.5-10.7 5.5-16.8 10.2-7.7 5.4-7.6 6.6-9 9.3-6.3 8-3.1 5.2-3.3 8.3-2 3.3-8.8 8.3-2.6 3.3-1 3.3-0.1 6.6-1 6.6 0.6 6.6 4.6 11.6 3 4.9 4 5 6.6 5.9 10.7 6.7 15.3 7.7 13.8 5.1 7.8 4.3 12.9 9.9 3.6 5 1.1 3.3 0.2 3.3-1 4.9-1.7 3.2-4.6 4.5-10 5.5-3.1 3.4 0 1.6 1.5 1.7z"/><path fill="#04fffb" d="M673.3 2113.8l31.2-0.3 48.9-3.9 26-6.3 18.4-5.2 9.1-3.8 10.7-6.2 18.4-12 12.2-10.8 10.8-12.6 7.7-14.9 9.5-8.3 2.8-3.3 1.2-3.3 1.2-16.5-2.4-8.2-4.1-8.3-6.8-8.6-4.6-3.9-6.1-4.1-18.4-9.8-16.8-6.6-23.1-13.3-3.6-3.3-2.9-4.9-3.2-13.2-1.4-3.3-1.1-1.7-2.9-2.4-6.1-2.4-9.2-1.6-13.8-0.7-47.4 1.2-58.1-0.1-33.7-1.1-18.3 1.4-6.1 1.4-4.6 1.9-2.9 2.4-1.9 3.3-2.7 11.6-1.9 4.9-2.2 3.3-3.5 3.3-23.2 13.3-15.2 5.9-15.3 7.8-10.7 6.8-6.5 5.9-5.9 8.2-3.1 6.7-1.7 4.9-0.8 6.6 1.7 14.9 2.5 3.8 10.6 9.4 7.7 15 6.2 7.6 7.6 7.9 6.1 5.4 7.7 5.6 16.8 10.7 9.2 5 7.6 3.1 16.8 4.8 27.6 6.7 38.2 3.2zM301.7 1783.4l15.8 0.5 13.8-0.5 10.7-1.6 6.1-2.2 3-2.2 1.8-2.3 1.3-3.3 3.3-13.2 2.9-4.9 3.6-3.3 23.9-13.6 13.7-5.3 10.7-5.3 9.2-5 7.6-5.2 5.8-5.3 3.8-4.9 3.7-6.6 2.7-6.7 1.3-6.6-1.7-16.5-3.3-4.6-9.9-8.6-5.4-11.2-3.1-4.9-6.1-7.4-7.6-7.7-6.2-5.3-7.6-5.5-15.3-9.7-10.7-5.9-7.6-3-16.9-4.7-27.5-6.6-42.8-3.5-24.5-0.8 0 203.1 33.6-0.3zM1039.9 1783.4l14.8 0.5 30.6-1.1 35.2 0.3 0-203.1-24.5 0.8-42.8 3.5-27.6 6.6-16.8 4.7-7.6 3-10.7 5.9-15.3 9.7-7.7 5.5-6.1 5.3-7.6 7.7-6.2 7.4-3 4.9-5.5 11.2-9.8 8.6-3.3 4.6-1.6 14.9 0.7 6.6 1.7 4.9 3.1 6.7 3.2 4.9 4.3 5 7.2 5.8 9.2 5.6 13.7 7 15.3 6 23.9 13.6 3.6 3.3 2.2 3.3 1.8 4.9 2.7 11.6 2.5 3.9 3.1 2.2 4.6 1.8z"/><path fill="#00f9ff" d="M651.3 2108.8l21 1.4 21.4 0.1 56.6-3.8 7.7-1.3 10.7-3.1 10.7-2.2 19.9-5.8 6.1-2.5 9.2-5.2 16.8-11 10.7-8.3 7.7-7.6 6.1-7.2 9.4-16.2 8.7-6.6 3.1-3.3 1.3-3.3 1.4-14.8-1.4-6.6-2.7-6.7-4-6.6-4-4.9-4.2-3.7-7.6-5.1-17.4-9.4-14.7-5.8-13.8-6.9-12.7-5.5-4.1-2.4-2.9-2.5-2.5-3.3-5.5-11.6-3.4-4.9-4.3-3.3-7.4-3-9.2-1.7-13.8-0.9-24.4 0.4-33.7-0.7-32.1 0.7-27.5-0.4-18.4 1.6-6.1 1.4-4.6 1.8-3.8 2.4-3.2 3.3-7.6 14.9-2.4 3.3-4.1 3.3-30.9 14.7-10.7 4-5.8 2.8-17.2 9.6-8.7 6.9-4.1 4.9-3 5-3 6.6-1.5 5-0.5 4.9 1.9 14.9 3.6 4.7 8.9 6.8 9.5 16.2 5.9 7 6.3 6.4 10.7 8.7 16.9 11 9.1 5.4 9.2 3.8 18.4 5.3 10.7 2.2 12.2 3.5 9.2 1.3zM250.2 1780.1l0 0.9 30.6-0.7 32.1 0.2 16.8-1.8 6.2-1.8 3.6-1.8 2.5-1.7 3.1-3.2 7.6-14.9 2.5-3.3 3.6-3 30.6-14.7 10.7-4 6.5-3.1 16.4-9.1 5.8-4.1 3.7-3.3 4.1-4.9 3.1-5 3-6.6 1.5-5 0.3-6.6-1.3-11.5-1.3-3.3-3.1-3.3-8.6-6.6-2.3-3.4-4.1-8.2-3.3-5-6.6-7.6-7.5-7.2-7.8-6.3-15.3-10.1-15.3-8.8-23-7-27.5-6.5-44.4-3.5-22.9-0.7zM1051.4 1780.1l11 0.6 26-0.4 32.1 0.7 0-197.4-23 0.7-44.3 3.5-27.6 6.5-22.9 7-10.7 5.9-16.8 10.9-12.3 9.5-7.6 7.7-6.1 7.4-8.7 15.2-9.7 7.5-2.9 4-1.9 14.9 0.9 6.6 2.5 6.6 2.9 5.6 3.1 4.5 4.6 4.9 10.7 7.5 15.3 8.2 15.3 6.1 30.2 14.4 4 3.3 2.5 3.3 7.6 14.9 3.1 3.2 2.5 1.7 8.8 3.3z"/><path fill="#00efff" d="M652.9 2105.5l21 1.3 19.8 0.1 58.2-3.8 6.1-1.1 9.2-3.1 12.2-2.3 9.2-3.2 10.7-2.8 6.1-2.5 10.7-6.2 16.8-11.3 7.7-6 7.1-7 5.8-6.6 10-15.5 3-2.7 5.1-3.3 3.4-3.3 1.5-3.3 1.5-14.8-0.9-5-2.9-7.3-4.6-7.5-4.4-5-4.7-3.7-9.2-5.7-15.3-8.1-10.7-4.2-13.8-6.5-18.3-6.4-4.6-2.5-4.5-4.2-7.8-11.6-4.2-4.9-4.9-3.4-7.7-3-16.8-2.7-59.7-1.2-56.5 1.3-14.3 2.4-8.7 3.2-3 1.9-3.5 3.1-10.4 14.9-5.6 4.9-6.6 2.9-13.7 4.6-15.3 7.2-12.2 4.9-16.9 9.2-10.8 7.6-3.2 3.3-3.5 4.9-2.7 5-2.5 6.6-0.9 6.6 1.1 6.6 0.4 6.6 1.4 3.3 1.5 1.7 7 4.9 3.6 3.3 8.6 13.8 6.1 7.2 6.2 6.1 9.1 7.4 24.5 15.9 9.2 4.1 10.7 2.8 9.2 3.2 12.2 2.3 10.7 3.4 7.7 1.1zM673.9 1965.2l-3.5-1.7-0.4-1.7 3.4-1.6 5.1 0.7 2.8 0.9 2.5 1.7-3.3 1.6zM690.7 1965.2l-3.9-1.7 2.6-1.7 4.3-1.4 3.1-0.3 1.5 0.3 2.4 1.4-0.4 1.7-3.2 1.6zM250.2 1778.4l0 0.4 1.5 0 56.6-1.3 15.3-2.4 9.2-3.6 6.1-5 10-14.5 5.7-4.9 5.7-2.6 15.3-5.2 13.8-6.6 12.2-4.8 18.4-10 10.7-7.8 3.8-4.3 3.2-5 2.5-5 2.2-6.6 0.3-6.6-1-4.9-0.3-6.6-1.5-3.3-3.1-3.1-6.1-4.1-2.9-2.7-9.4-14.8-6.1-7-7.6-7.3-6.1-4.9-18.4-12.3-12.2-6.7-23-7.2-12.2-2.4-13.8-4.1-47.4-3.5-21.4-0.7zM260.9 1733.9l-6.7-1.7-2.4-1.7 4.5-1.8 6.1 0.4 2.8 1.4 0.4 1.7-1.6 1.1zM1108.3 1778.4l12.2 0.4 0-191.8-21.4 0.7-47.5 3.5-13.7 4.1-12.3 2.4-22.9 7.2-12.2 6.7-18.4 12.3-6.1 4.9-7.7 7.3-6.1 7-9.4 14.8-2.8 2.7-6.1 4.1-3.1 3.1-1.5 3.3-0.4 6.6-1.1 6.6 0.5 4.9 1.5 5 4.1 8.1 4.6 6.2 4.6 4.2 6.7 4.6 20.8 11.3 10.7 4.1 13.8 6.6 15.3 5.2 5.7 2.6 5.6 4.9 10.4 14.9 4.3 3.6 5.7 3 6.5 1.9 13.8 2.1zM1109.8 1733.9l-3.1-0.6-1.6-1.1 0.4-1.7 2.7-1.4 6.2-0.4 4.4 1.8-2.4 1.7z"/><path fill="#00e4ff" d="M652.5 2102.2l21.4 1.5 19.8 0.1 58.2-3.9 6.1-1.2 9.2-3.2 12.2-2.2 21.4-6.9 7.7-3.1 22.9-15.2 7.6-5.9 11.1-11.2 12.2-16.5 10.7-8.3 1.5-3.3 0.3-6.6 1.4-8.2-0.9-5-2.6-6.5-4-6.7-3.6-4.3-4.8-4-9-5.7-15.3-8.3-12.2-5-10.8-5.1-7.6-2.6-13.8-3.7-6.1-2.6-6.4-5-11.9-12.3-4.6-3.8-6.8-3.7-10-3.2-12.3-1.4-50.5-1.8-53.5 2.3-6.1 1.3-10.7 3.8-7.7 5-13.5 13.8-6.3 5-6.2 2.6-19.8 5.7-12.3 5.7-10.7 4.2-16.8 9.1-12.2 8.3-3.9 4-3.4 5-2.7 5-1.8 4.9-0.9 6.6 1.4 6.6 0.2 6.6 1.6 3.3 1.6 1.7 9.1 6.6 11 15 10.7 11.3 7.6 6.2 18.4 12.6 6.1 3.7 7.7 3.1 21.4 6.9 12.7 2.3 11.7 3.8zM673.9 1971.9l-8.7-1.8-8.2-2.7-3-1.7-1.5-2.2 0.2-1.7 2.6-3.3 5.2-3.3 5.7-2 6.1-0.8 12.3 0.7 12.2-0.7 6.1 0.5 4.6 1.2 5.6 2.8 3.6 2.9 1.3 2 0.2 1.7-0.8 1.6-2.1 1.7-13.9 4.2-6.1 1-7.7 0.5zM250.2 1775.1l0 1.5 48.9-1.9 9.2-0.8 7.7-2.1 7.6-3 5.6-3.6 14.8-14.8 6.4-5 5.3-2.3 15.3-4.2 7.7-2.7 10.7-5.2 10.7-4.2 12.2-6.5 10.7-6.5 6.1-4.6 4.4-5.1 4-6.6 2.6-6.6 0.9-5-2.1-16.5-2.6-3.3-9.1-6.6-11.8-16-10.7-11-6.1-5-19.9-13.6-9.2-4.9-26-8.5-12.2-2.2-12.3-3.9-50.4-3.7-18.4-0.6 0 131.4 12.2 0.7 7.9 1.7 9.8 3.3 2.2 1.7 0.7 1.6-0.7 2.7-2 2.3-5.3 3.3-4.3 1.6-8.3 1.2-12.2-0.7zM1081.3 1775.1l39.2 1.5 0-35.7-12.3 0.7-8.3-1.2-4.3-1.6-5.2-3.3-2-2.3-0.8-2.7 0.8-1.6 2.2-1.7 9.8-3.3 7.8-1.7 12.3-0.7 0-131.4-18.4 0.6-50.5 3.7-12.2 3.9-12.2 2.2-27.6 9.2-7.6 4.2-19.9 13.6-6.1 5-10.7 11-11.8 16-9.1 6.6-1.6 1.7-1.5 3.3-0.3 6.6-1.3 8.2 1.4 6.6 2.8 6.3 3.3 5.3 4.2 5 4.7 3.7 10.7 6.6 15.3 8.1 9.2 3.5 13.8 6.4 18.3 5.2 6.9 2.8 6.4 5 14.2 14.4 7.7 4.8 13.8 4.3z"/><path fill="#00daff" d="M672 2100.6l24.8 0.1 55.1-3.9 4.6-0.9 9.1-3.1 13.8-2.8 29.1-9.7 24.4-16.8 5.4-4.2 8.3-8.3 13.7-16.5 10.6-8.3 1.6-3.3 0-6.6 1.7-8.2-0.8-5-2.7-6.6-4.3-6.6-4.8-5-11.8-7.9-12.5-6.9-25.8-11.5-7.6-2.3-13.8-2.9-8.5-3.2-16.3-8.2-4-3.3-7.9-8.3-6.1-4.1-6.1-2.5-11.6-1.6-45-2.3-41.3 2.1-13.8 1.8-4.6 1.7-5.5 3.3-14 13.2-16.3 8.2-8.5 3.2-13.8 2.9-7.6 2.3-24.5 10.8-15.9 8.9-11.6 8.3-4.2 4.9-3.5 6-2.2 5.6-0.9 5 1.7 8.2 0.1 6.6 1.3 2.9 10.9 8.7 12.3 14.9 6.1 6.6 8.9 7.5 23 16 4.6 2.1 26 8.4 13.7 2.8 9.2 3.1 4.6 0.9zM673.9 1975.2l-11-1.8-10.4-2.5-4.4-2.5-2.4-3.3-0.6-3.3 0.2-1.6 2.1-3.3 5.1-3.4 10.7-4.2 9.1-1.4 12.3 0.8 13.7-0.8 6.2 0.6 7.6 2.3 7.7 3.5 3.5 2.6 2 3.3 0.2 3.3-1.5 3.3-3.9 3.3-4.5 1.6-20.3 3.6-10.7 0.5zM250.2 1773.5l0 0.6 1.5 0 41.3-2.2 9.2-0.9 6.1-1.5 5.4-2.6 3.8-2.7 12.6-12.2 16.3-8.2 7.8-3 15.3-3.3 7.6-2.4 21.8-9.5 11.9-6.4 11.1-6.8 5.7-4.3 3.7-4 4.2-6.6 2.8-6.6 0.8-5-1.7-8.2 0.1-5-0.7-3.3-2.8-3.3-5.1-3.3-3.7-3.3-13.8-16.5-8.3-8.3-26-18.8-6.1-3.2-27.5-8.9-12.2-2.4-13.8-4.1-50.5-3.7-16.8-0.5 0 125.1 13.8 0.9 18.3 3.7 3.1 1.3 3 2.6 1.4 2.2 0.7 3.3-1 3.3-2.6 2.7-4.6 2.7-7.6 3.1-6.1 1.6-4.6 0.5-13.8-0.8zM1109.3 1773.5l11.2 0.6 0-28.8-13.8 0.8-4.6-0.5-6.1-1.6-7.6-3.1-4.6-2.7-2.6-2.7-1-3.3 0.6-3.3 1.4-2.2 3.1-2.6 3.1-1.3 18.3-3.7 13.8-0.9 0-125.1-16.9 0.5-50.4 3.7-13.8 4.1-12.2 2.4-27.6 8.9-6.1 3.2-26 18.8-8.3 8.3-13.7 16.5-3.7 3.3-5.1 3.3-2.9 3.3-0.6 3.3 0.1 5-1.7 8.2 0.8 5 1.9 4.9 3.9 6.7 4.1 4.9 5.3 4.2 9.2 5.9 15 8.1 20.2 8.9 7.6 2.6 19.9 4.7 18.2 8.6 5 3.3 11.8 11.5 7.9 4.3 4.5 1.2 9.2 1.1z"/><path fill="#00d0ff" d="M665.7 2097.3l14.3 0.7 13.7 0 58.2-4.1 13.7-3.9 13.8-3 13.8-4.7 13.7-3.9 4.6-2.8 9.2-7.3 10.7-7.1 6.1-4.7 5.7-5.5 11.4-13.2 7.4-6.6 6.8-5 1.8-3.3 0-6.6 1.7-8.2-0.7-5-2-4.7-4.5-7.3-4.6-4.8-12.3-8.3-13.7-7.6-19.9-8.9-6.1-2.2-20.7-4.1-13-3.7-11.2-1.3-4.1-1.1-3-1.7-2.3-2.1-6.1-9.9-4.9-5-3.6-2-3.8-1.3-11.5-1.8-39.7-2.6-38.3 2.6-10.7 1.6-5.4 1.9-4.7 3.3-2.9 3.3-6.2 9.9-2.2 2.1-3 1.7-4.1 1.1-11.2 1.3-13 3.7-19.2 3.6-6.1 2-19.9 8.8-13.7 7.5-12 7.8-4.8 4.4-4.2 5.5-3.3 6.7-1.4 6.6 1.8 8.2 0 6.6 1.8 3.3 6.8 5 7.3 6.6 11.5 13.2 5.7 5.5 6.1 4.7 10.7 7.1 9.2 7.3 4.5 2.8 13.8 3.9 13.8 4.7 13.7 3 12.3 3.7zM666.2 1976.7l-12.2-2.1-7.2-2.9-4.9-4.9-1.7-3.3-0.8-3.3 0.4-3.3 0.8-1.7 3.8-3.3 5-2.4 12.2-4 9.2-1.8 13.8 1.3 13.7-1.3 4.6 0.3 7.7 1.9 12.5 4.3 5.5 3.4 2.3 3.3 0.4 1.6-0.3 3.3-2.3 5-4.4 4.6-6.1 2.8-13.7 2.5-13.8 1.3-10.7 0zM250.2 1770.2l0 1.1 1.5-0.1 35.2-2.3 9.2-1.1 6.1-1.4 4.6-2 3.2-2.5 2.9-3.3 6.1-9.8 4.6-3.6 4.6-1.4 10.7-1.2 13.8-3.8 21.4-4.3 22.9-9.8 9.2-4.8 10-5.9 9.4-6.6 3.5-3.6 4.4-6.3 2.4-5 1.2-4.9-0.1-3.3-1.6-6.6 0.2-5-0.7-3.3-1.3-1.6-6.7-5-9.1-8.3-9.8-11.5-6.4-6.1-15.3-10.6-10.1-8.1-5.2-2.9-12.2-3.3-15.3-5.2-12.2-2.6-13.8-4-53.5-3.9-13.8-0.4 0 119.9 16.8 1.2 12.6 2 5.8 1.6 3.3 1.7 3.7 3.3 2.9 4.9 0.9 3.3-0.4 3.3-2.4 3.3-5 3.1-6.1 2.3-10.7 3.4-4.6 0.9-4.6 0.1-12.2-1.2zM1107.6 1770.2l12.9 1.1 0-22.3-12.3 1.2-4.6-0.1-4.5-0.9-10.7-3.4-6.2-2.3-4.9-3.1-2.4-3.3-0.4-3.3 0.8-3.3 3-4.9 3.7-3.3 3.3-1.7 5.7-1.6 12.6-2 16.9-1.2 0-119.9-13.8 0.4-53.5 3.9-13.8 4-12.2 2.6-15.3 5.2-12.3 3.3-5.1 2.9-10.1 8.1-15.3 10.6-6.4 6.1-9.8 11.5-9.1 8.3-6.8 5-1.2 1.6-0.7 3.3 0.2 5-1.8 8.2 0.7 5 2.1 4.9 4.1 6.7 4.2 4.5 15.2 10.3 13.8 7.4 23 9.8 21.4 4.3 13.8 3.8 10.7 1.2 4.6 1.4 4.5 3.6 6.2 9.8 2.8 3.3 3.3 2.5 3 1.5 4.6 1.3 8.4 1.3z"/><path fill="#00c6ff" d="M660.1 2094l15.3 1.2 15.3 0.2 59.6-4 30.6-7.6 12.3-4.4 12.2-2.8 4.6-2.7 9.2-7.9 16.8-11.5 5.3-5.1 10-11.5 15.3-11.7 1.4-1.6 0.9-3.3-0.1-5 1.7-8.2-1.4-6.6-4.8-8.3-5.4-5.8-12.2-8.4-13.8-7.6-24.4-10.5-6.2-1.5-27.5-4.5-15.3 1-12.2-1.6-3.1 0.2-3 1.7-11.3 13.9-3.8 3.3-2.9 1.6-8 2.4-19.9 2.4-10.7 0.4-12.3-0.6-15.3-1.9-7.6-1.9-4.6-2.3-4.1-3.4-11.2-13.9-1.5-1.1-3.1-0.8-13.7 1.6-15.3-1-27.6 4.5-9.1 2.5-18.4 8-13.8 7.3-12 7.7-5.9 5-3.9 4.9-3.6 6.7-1.4 6.6 1.7 8.2 0.1 6.6 2.1 3.3 15.3 11.7 9.9 11.5 5.4 5.1 16.8 11.5 9.2 7.9 4.6 2.7 10.7 2.4 13.7 4.8 13.8 3.1 13.8 4zM632.1 1946.9l2 0.5 3.1-0.5 19.8-4.8 7.7-2.9 4.6-1 3 0.2 12.3 2.6 4.6-0.3 9.1-2.3 4.6 0 12.3 4.1 21.4 4.9 1.5-0.2 1.5-1 1.2-4.2-0.7-3.3-2.2-3.3-2.9-2.1-4.5-1.7-10.7-2.1-6.2-0.4-10.7 0.2-12.2-2.4-6.1-0.5-16.9 2.9-10.7-0.2-6.1 0.4-12.5 2.6-3.5 1.6-2.2 1.7-2.2 3.3-0.5 4.9 1 2.6zM250.2 1766.9l0 0.7 3.1-0.2 13.7-2.6 16.8-0.2 13.3-2.7 3.6-1.6 3.4-3.3 1.4-3.3-0.2-4.5-1.8-2.1-1.3-0.4-3.1 0.2-19.8 4.8-12.3 4-3 0-9.2-2.2-4.6-0.5zM1113.9 1766.9l6.6 0.7 0-14.6-4.6 0.5-9.2 2.2-3.1 0-12.2-4-19.9-4.8-3-0.2-1.3 0.4-1.8 2.1-0.2 4.5 1.3 3.3 3.5 3.3 3.6 1.6 11.7 2.5 6.1 0.5 12.2-0.1zM307.5 1738.8l3.9 0.9 13.7-1.6 10.8 1 4.5-0.1 13.8-2.6 13.8-2 9.1-2.6 23-10.4 10.7-5.9 10.7-7.1 4.9-4.3 3.9-4.9 3.7-6.7 1.3-4.9-0.1-3.3-1.5-6.6-0.1-6.6-2.2-3.3-16-12.4-9.2-10.8-6.1-5.7-15.3-10.3-10.2-8.7-5.1-2.7-10.7-2.4-12.2-4.4-13.8-3.1-15.3-4.4-53.5-3.9-13.8-0.4 0 115.2 12.2 0.6 11.6 1.3 8.3 1.3 5.8 2 3.4 2 3.3 2.9 10.5 13zM1028.4 1738.8l6.4 0.3 10.7-1 12.3 1.5 4.6-0.3 3-2.4 10.5-13 3.3-2.9 3.4-2 5.8-2 8.2-1.3 11.6-1.3 12.3-0.6 0-115.2-13.8 0.4-53.5 3.9-15.3 4.4-13.8 3.1-12.2 4.4-10.7 2.4-5.1 2.7-10.2 8.7-15.3 10.3-6.1 5.7-9.2 10.8-16.1 12.4-1.4 1.6-0.9 3.3 0.1 5-1.5 6.6 0.1 4.9 1.8 5 2.9 5 3.9 4.9 3.7 3.3 12 8.1 10.7 5.9 22.9 10.4 9.2 2.6 13.8 2z"/><path fill="#00bbff" d="M671.2 2092.3l22.5 0.4 24.5-2.1 33.7-2 16.8-4.7 13.8-3.1 10.7-4 9.1-1.5 3.1-1.1 4.6-3 9.2-8.4 15.3-10.2 6.1-5.9 7.6-9.1 9.2-5.7 8.5-7.3 0.9-1.7 0.4-6.6 1.6-8.2-0.4-3.3-1.2-3.3-5.2-8.3-4.8-5-12-8.3-13.8-7.6-18.4-8.1-6.1-2.1-29-4.4-6.1 0.1-10.8 2.2-9.1 0.5-4.6 0.9-7.7 3.8-12 9.8-4.8 2.6-9.2 2.2-16.8 1.7-10.7 0.4-12.2-0.4-21.4-2.5-4.6-1.4-4.6-2.4-10.7-8.9-7.7-4.3-4.6-1.3-10.7-0.7-12.2-2.4-6.1 0.3-26 3.8-6.1 1.9-18.4 7.9-13.8 7.5-11.3 7.6-5.5 4.8-4.6 6.1-2.8 5.6-0.9 5 1.6 8.2 0.4 6.6 2.4 3.3 7 5.7 9.1 5.7 7.7 9.1 6.2 6 15.2 10.1 10.7 9.6 4.6 2.4 10.7 2 10.7 4 13.8 3.1 15.3 4.5 36.2 2.3zM332.7 1735.5l4.7 0.8 4.6 0.1 24.4-3.3 6.2-1.4 22.9-9.6 17.2-9.7 11.9-9 4.5-5.7 3-5.2 1.2-3.3 0.4-3.3-1.7-8.2-0.1-5-1.1-3.3-7.8-6.7-9.1-5.6-9.2-10.6-6.1-5.7-15.3-10.2-9.2-8.4-4.6-2.7-10.7-2.1-12.2-4.4-13.8-3.1-15.3-4.4-35.2-2.1-19.9-1.9-12.2-0.4 0 111 18.4 0.9 10.7 1.3 6.1 1.3 7.1 3.4 11.2 9.3 6.1 3.4 4.6 1.5 10.7 0.7zM1022.9 1735.5l5.8 0.9 4.6-0.1 12.2-2.4 7.7-0.3 4.6-0.8 7.6-3.5 12.8-10.3 7-3.3 6.2-1.4 10.7-1.3 18.4-0.9 0-111-12.3 0.4-19.8 1.9-35.2 2.1-15.3 4.4-13.8 3.1-12.2 4.4-10.7 2.1-4.6 2.7-9.2 8.4-15.3 10.2-6.1 5.7-9.2 10.6-9.2 5.6-7.7 6.7-0.9 1.7-0.4 6.6-1.4 6.6 0.2 4.9 1.2 3.3 2.9 5.2 3.7 4.8 4 3.7 11.3 7.8 10.1 5.7 22.9 10.4 9.2 2.7z"/><path fill="#00b1ff" d="M662.9 2089l14 1.2 13.8 0.1 27.5-2.3 32.1-1.6 6.2-1.1 10.7-3.5 15.3-3.4 10.7-4.2 10.7-1.6 4.6-2.9 9.1-8.8 10.7-6.8 6.2-4.6 13.7-14.7 9.2-4.4 6.3-5.8 1.4-3.3 0.4-5 1.5-6.6 0-3.3-0.9-3.3-3.7-6.6-4.2-5-5.4-4.5-9.2-6.3-13.7-7.6-16.9-7.3-6.1-2.2-7.6-1.4-21.4-2.3-6.1 0.3-10.8 2.8-9.1 1.2-4.6 1.4-9.2 4.2-9.5 6.9-7.3 3.4-13.8 2.3-19.9 1.1-18.3-0.6-18.4-2.3-6.1-2.3-12.2-8.5-9.2-4.2-4.6-1.4-9.2-1.2-12.2-3-6.1 0-21.4 2.4-6.2 1.2-6.1 2.2-16.8 7.3-12.2 6.7-12.3 8.3-5.4 5.1-4.7 6.6-2.5 6.6-0.1 3.3 1.6 6.6 0.4 5 1.4 3.3 6.3 5.8 9.1 4.4 13.8 14.7 6.1 4.6 10.7 6.8 9.2 8.8 4.6 2.9 10.7 1.6 10.7 4.2 13.8 3 15.3 4.5 7.6 0.9 27.6 1.2zM337 1733.8l6.5 0.3 19.9-2.2 10.7-2.2 21.4-9.2 11.8-6.5 6.6-4.3 6.1-4.4 4.6-4.4 3.7-5.1 2.7-4.9 0.9-3.3 0-3.3-1.5-6.6-0.4-5-1.4-3.3-7.1-6.3-9.2-4.5-9.2-10.5-4.5-4.3-15.3-10.1-10.7-10.1-4.6-2.4-10.7-1.7-10.7-4.1-12.3-2.6-12.2-3.9-6.1-1.2-65.8-4.1 0 106.9 18.4 0.8 10.7 1.1 6.1 1.2 6.1 2.5 10.7 7.6 9.2 4.4 4.6 1.6 9.1 1.2zM1025.1 1733.8l8.2 0.1 12.2-3 10.7-1.7 10.7-4.6 13.1-8.9 6.8-2.4 16.8-2.2 16.9-0.6 0-106.9-65.8 4.1-6.1 1.2-12.2 3.9-12.3 2.6-10.7 4.1-10.7 1.7-4.6 2.4-10.7 10.1-15.3 10.1-4.6 4.3-9.2 10.5-9.1 4.5-7.1 6.3-1.4 3.3-0.4 5-1.5 6.6 0.3 4.9 1.3 3.3 3.1 5 4.1 5 3.7 3.3 10.1 7 12.2 6.9 21.5 9.4 9.1 2.4z"/><path fill="#00a7ff" d="M671.1 2087.4l10.4 0.6 10.7-0.2 24.5-2.1 33.6-1.7 6.2-1.1 12.2-3.8 12.2-2.7 12.3-4.5 7.6-0.7 3.1-0.9 4-2.8 8.2-8.4 12.2-7.7 4.6-3.5 13.8-14.4 3.1-1.6 6.1-2.1 4.4-3.6 2.1-3.3 3-13.2 0-3.3-1.1-3.3-3.8-6.4-4.6-5.2-13.8-10.1-13.8-7.5-16.8-7.2-6.1-1.9-7.6-1.2-19.9-1.8-6.1 0.5-10.8 3.1-9.1 1.7-10.7 4-4.6 2.2-9.2 6.1-6.1 2.6-7.7 1.4-16.8 1.4-26-0.2-13.8-1.2-6.1-1-7.6-3-10.7-7-10.7-4.3-26-6.2-23 1.7-7.6 1.2-6.1 1.9-15.3 6.5-15.3 8.2-9.8 6.8-5.7 5-5 6.6-2.4 5-0.5 4.9 3 13.2 3.9 5 2.7 1.9 6.1 2.1 3.1 1.6 13.7 14.4 4.6 3.5 12.3 7.7 8.1 8.4 4.1 2.8 3.1 0.9 7.6 0.7 10.7 4.1 13.9 3.1 16.7 4.7 9.2 0.9 26 1zM340.6 1732.2l24.3-2 9.2-2.1 21.4-9.2 11.8-6.5 7.2-5 5.5-4.2 3.9-4 3.5-5 2.4-5 0.5-4.9-2.5-11.6-1.4-3.3-4.9-4.8-7.6-2.8-3.1-1.9-12.8-13.6-5.6-4.2-10.7-6.6-9.1-9.3-4.6-2.8-10.7-1.5-10.7-4.1-13.1-2.9-11.4-3.6-6.1-1.2-33.7-1.8-19.9-1.8-12.2-0.5 0 103 19.9 0.8 15.3 2 6.1 2.4 12.2 7.7 10.7 4.3 12.3 2.6 9.2 2.7zM1027.7 1732.2l7.1-0.7 9.2-2.7 12.2-2.6 10.7-4.3 12.3-7.7 6.1-2.4 15.3-2 19.9-0.8 0-103-12.3 0.5-19.8 1.8-33.7 1.8-6.1 1.2-11.4 3.6-13.1 2.9-10.7 4.1-10.7 1.5-4.6 2.8-9.2 9.3-10.7 6.6-5.5 4.2-12.8 13.6-3.1 1.9-7.6 2.8-4.9 4.8-1.4 3.3-2.5 11.6 0.5 4.9 2.2 4.7 3 4.4 3.8 4.2 4 3.3 9 6.3 12.3 6.8 21.4 9.2 9.2 2.1z"/><path fill="#009dff" d="M661.5 2084.1l15.4 1.3 12.3 0.2 27.5-2.2 30.6-1.3 7.6-1.2 12.3-3.7 13.7-3.1 12.3-4.5 9.1-0.9 4.6-2.8 9.2-9.6 10.7-6.5 4.6-3.5 13.8-13.9 3-1.8 7.7-2.4 2.4-2 1.9-3.3 0.8-4.9 2.5-6.6 0.4-3.3-0.7-3.3-2.5-5-4.8-6.1-4.6-4-9.2-6.6-16.8-9.1-15.3-6.4-9.2-2.2-21.4-1.8-6.1 0.3-21.4 5.7-12.3 4.4-12.2 7.2-6.1 2.5-12.3 1.8-19.8 0.9-21.5-0.5-16.8-1.8-6.8-2.5-13.1-7.6-12.2-4.4-21.4-5.7-6.1-0.3-19.9 1.6-6.1 1-6.1 2-16.9 7.2-12.2 6.7-11 7.8-6.7 6.6-4.3 6.6-1.3 5 0.4 3.3 2.5 6.6 0.8 4.9 1.9 3.3 2.4 2 7.6 2.4 3.1 1.8 13.8 13.9 4.6 3.5 10.7 6.5 9.1 9.6 4.6 2.8 10.7 1.3 10.7 4.1 13.8 3.1 15.3 4.3 10.7 1.1zM333.2 1728.9l5.7 1.3 4.6 0.2 19.9-1.6 7.6-1.2 21.4-8.7 15.3-8.5 12.5-9.6 4.2-5 3.2-5.4 0.9-2.8 0.2-3.3-2.9-8.3-1.5-6.6-1.3-1.8-3-2.2-6.1-1.7-3.1-1.6-14.3-14.2-5.6-4.2-10.7-6.6-8.5-9-3.7-2.5-3.1-0.8-7.6-0.6-10.7-4.1-30.6-7.7-9.2-0.9-24.5-0.9-21.4-1.9-10.7-0.4 0 99.3 19.9 0.6 15.3 1.9 6.1 2.3 9.2 5.7 4.6 2.2 12.2 4.3zM1007.8 1728.9l19.4 1.5 6.1-0.4 19.9-5.4 12.2-4.3 4.6-2.2 9.2-5.7 6.1-2.3 15.3-1.9 19.9-0.6 0-99.3-10.7 0.4-21.4 1.9-24.5 0.9-9.2 0.9-30.6 7.7-10.7 4.1-7.6 0.6-3.1 0.8-3.8 2.5-8.4 9-10.7 6.6-5.7 4.2-14.2 14.2-3.1 1.6-6.1 1.7-3.2 2.4-1.9 3.3-0.8 4.9-2.5 6.6-0.4 3.3 0.7 3.3 1.5 3.3 6.4 8.3 12.4 9.6 13.8 7.8 19.9 8.5 4.6 1.2z"/><path fill="#0092ff" d="M667.8 2082.4l12.2 0.9 9.2 0.1 27.5-2.2 30.6-1.3 7.6-1.3 26-6.7 10.7-4.1 10.7-1.3 4.6-3.2 7.7-8.5 15.3-10 15.3-14.4 3-1.7 4.6-1 3.2-1.5 1.4-1.6 1.1-6.6 3.3-6.6 0.4-3.3-0.7-3.3-2.7-5-4.5-5.4-6.1-5.3-7.6-5.4-13.8-7.6-15.3-6.4-6.1-2-6.1-1-19.9-1.4-6.1 0.3-33.7 10.3-12.2 7-6.1 2.4-9.2 1.5-18.4 0.8-24.4-0.1-18.4-1.8-6.8-2.4-13.1-7.4-29-9.1-6.1-1.4-24.5 1.3-6.1 1-6.1 2-15.3 6.4-13.8 7.6-10.7 7.8-6.1 6.4-4.1 6.9-0.7 4.9 1.1 3.3 2.6 5 1.1 6.6 1.3 1.6 3.3 1.5 4.5 1 3.1 1.7 15.3 14.4 15.3 10 7.6 8.5 4.6 3.2 10.7 1.3 10.7 4.1 30.6 7.6 9.2 1 23 0.6zM333.5 1727.2l5.4 1.3 4.6 0.2 19.9-1.3 7.6-1.3 21.4-8.6 14.9-8.4 6.8-5 5.6-4.9 4-5 2.7-5 0.6-4.9-1-3.3-2.6-5-1.2-6.6-2.2-2.2-7.7-2.2-3-2-14.2-13.4-5.7-4.3-9.2-5.5-3.1-2.8-6.1-7-4.6-2.8-9.1-0.8-12.3-4.5-24.4-6.3-7.7-1.4-9.2-0.8-22.9-0.6-19.9-1.8-10.7-0.4 0 95.7 19.9 0.4 15.3 1.8 6.1 2.2 12.2 7.1zM1005.6 1727.2l21.6 1.5 6.1-0.5 32.1-9.8 4.6-2.1 9.2-5.6 6.1-2.2 15.3-1.8 19.9-0.4 0-95.7-10.7 0.4-19.9 1.8-23 0.6-9.1 0.8-7.7 1.4-24.5 6.3-12.2 4.5-9.2 0.8-4.6 2.8-6.1 7-3 2.8-9.2 5.5-5.8 4.3-14.1 13.4-3.1 2-6.1 1.5-2.4 1.3-2 3.3-0.5 4.9-3.3 6.6-0.4 3.3 0.7 3.3 1.6 3.3 5.1 6.7 4.3 3.9 7.6 5.7 13.8 7.9 19.9 8.5z"/><path fill="#0088ff" d="M674.5 2080.7l16.2 0.4 24.5-2 30.6-1.2 9.1-1.6 24.5-6.1 12.2-4.5 7.7-0.6 3-0.7 3.1-2.1 8.6-9.6 12.8-8.2 16.9-15 3-2 6.1-1.8 1.9-1.1 0.9-1.7 0.5-4.9 4.2-8.3-0.6-4.9-2.8-5-4.2-5-6-5.1-7.7-5.3-12.2-6.8-15.3-6.5-6.1-2-6.1-1.1-21.4-1.2-4.6 0.5-33.7 10.4-12.2 6.7-6.1 2.4-9.2 1.4-15.3 0.7-27.5-0.1-18.4-1.6-6.6-2.3-13.3-7.2-29-9.3-6.1-1.4-24.5 1-6.1 1.1-6.1 2-15.3 6.5-13.2 7.3-9.1 6.6-6.6 6.7-3.3 4.9-1.5 5 0.6 3.3 3.8 6.6 0.5 4.9 0.9 1.7 1.9 1.1 6.1 1.8 2.9 2 17 15 12.8 8.2 8.6 9.6 3 2.1 3.1 0.7 7.6 0.6 10.7 4.1 32.2 7.7 10.7 1.1 22.9 0.5zM333.5 1725.6l5.4 1.3 4.6 0.2 18.4-0.9 7.6-1.1 6.1-1.9 15.3-6.4 15.3-8.6 11.4-9 4.2-5 2.8-5 0.6-4.9-0.6-2.1-3.6-6.2-0.5-4.9-0.9-1.7-2.7-1.4-4.6-1.1-3-1.9-17.5-15.4-13.1-8.4-7.7-8.7-4.6-3.2-9.1-0.9-12.3-4.4-26-6.4-7.6-1.4-9.2-0.8-21.4-0.4-30.6-2.2 0 92.2 21.4 0.4 13.8 1.6 6.1 2.2 12.2 6.8zM1003.7 1725.6l23.5 1.5 4.6-0.2 6.1-1.5 29-9.4 12.3-6.8 6.1-2.2 13.8-1.6 21.4-0.4 0-92.2-30.6 2.2-21.4 0.4-9.2 0.8-7.7 1.4-26 6.4-12.2 4.4-9.2 0.9-4.6 3.2-7.6 8.7-13.1 8.4-17.5 15.4-3.1 1.9-4.5 1.1-2.7 1.4-0.9 1.7-0.5 4.9-3.8 6.6-0.5 3.3 1.5 5 5.3 7.3 10.7 9 13.8 8.1 18.4 7.9z"/><path fill="#007eff" d="M662.4 2077.4l14.5 1.3 10.7 0.3 27.6-2.1 27.5-0.8 10.7-1.8 26-6.1 12.2-4.6 9.2-0.8 4.6-3.1 7.6-8.9 12.3-7.8 19.9-16.4 6.8-3.7 1-1.6 1.4-5 3.9-6.6 0.2-1.6-0.7-3.3-2.9-5-4.3-5-5.8-4.9-7.3-4.9-10.7-6-13.8-5.9-7.6-2.6-6.1-1.1-21.4-1-6.1 0.8-32.2 10.2-12.2 6.5-5.9 2.3-7.9 1.3-15.3 0.7-30.6-0.1-16.8-1.5-6.1-1.9-13.8-7.3-29-9.4-6.1-1.4-24.5 0.8-6.1 1.1-4.6 1.4-16.8 7.1-10.6 5.9-9.5 6.6-6.7 6.7-3.4 4.9-1.5 5 0.8 3.3 3.3 4.9 1.4 5 1 1.6 6.8 3.7 19.9 16.4 12.2 7.8 7.7 8.9 4.6 3.1 9.1 0.8 12.3 4.6 32.1 7.3 9.2 1zM333.3 1723.9l5.6 1.4 4.6 0.3 18.4-0.8 7.6-1.1 6.1-1.9 14.6-6.1 14.5-8.1 10.7-8.4 4.4-5 2.8-5 0.8-3.3-0.2-1.6-3.9-6.6-2.4-6.6-6.1-3.1-21.4-17.5-10.7-6.6-3.1-2.9-6.1-7.5-3.1-2-10.7-1.3-10.7-4.2-26-6.2-9.2-1.6-7.6-0.7-21.4-0.4-30.6-2.1 0 88.8 21.4 0.2 13.8 1.5 6.1 2.2 12.2 6.7zM1002.1 1723.9l8.3 1 16.8 0.7 4.6-0.3 6.1-1.5 29-9.4 12.3-6.7 6.1-2.2 13.8-1.5 21.4-0.2 0-88.8-30.6 2.1-21.4 0.4-7.7 0.7-9.2 1.6-26 6.2-10.7 4.2-10.7 1.3-3 2-6.1 7.5-3.1 2.9-10.7 6.6-21.4 17.5-6.1 3.1-2.4 6.6-3.3 4.9-0.8 3.3 1.5 5 4.8 6.6 9.7 8.3 13.4 8 16.8 7.4z"/><path fill="#0074ff" d="M667.8 2075.8l19.8 1 27.6-2 27.5-0.8 18.3-3.5 18.4-4.4 12.2-4.6 9.2-0.8 3.1-1.9 6.1-7.7 3-3 10.8-6.7 25.4-20.1 6.7-11.6 0.3-1.6-0.6-3.3-2.8-5-4.4-5-4.8-4-6.1-4.2-10.7-6.1-12.2-5.4-7.7-2.8-7.6-1.6-21.4-0.7-6.1 0.8-32.2 10.2-16.8 8.3-7.6 1.4-15.3 0.8-32.2-0.1-16.8-1.3-6.1-2-13.8-7.1-18.3-5.5-10.7-3.9-6.1-1.4-24.5 0.5-6.1 1.2-6.1 2-15.3 6.6-10.7 6.1-7.7 5.4-6.4 6.2-3.3 4.9-1.3 5 1.1 3.3 5.8 9.9 25.5 20.1 10.7 6.7 3.1 3 6.1 7.7 3.1 1.9 9.1 0.8 12.3 4.6 33.6 7.4 7.7 0.9 21.4 0.3zM341.3 1723.9l20.6-0.4 9.1-1.6 19.9-8 15.3-9 5.3-4.1 4.9-5 3.3-4.9 1.2-3.3-0.2-3.3-6.6-11.6-26.2-20.7-10.8-6.7-7.6-9.3-1.5-1.4-3.1-1.5-9.2-0.8-12.2-4.6-16.8-4-18.4-3.6-27.5-0.9-30.6-2.1 0 85.5 21.4 0.1 13.8 1.4 6.1 2.1 12.2 6.5 19.9 6 9.2 3.5zM1025.7 1723.9l4.5 0 6.2-1.2 10.7-4 18.3-5.4 4.6-2 9.2-5.1 6.1-2.1 13.8-1.4 21.4-0.1 0-85.5-30.6 2.1-27.5 0.9-18.4 3.6-16.8 4-12.3 4.6-9.1 0.8-3.1 1.5-1.5 1.4-7.7 9.3-10.7 6.7-26.2 20.7-6.7 11.6-0.2 3.3 1.2 3.3 3.4 4.9 8.6 8 15.3 9.4 19.9 8.3 9.2 1.9z"/><path fill="#0069ff" d="M673.1 2074.1l16.1 0.6 24.4-1.9 29.1-1 19.9-3.7 15.3-3.7 12.2-4.6 10.7-1.3 3.1-2.3 7.6-9.5 10.7-7 8.4-6.9 10-6.2 5.6-5.3 2.5-3.3 4.2-8.3 0.6-3.3-0.9-3.3-3.2-4.9-5-5-5.4-4-9.7-5.9-19.3-8.6-6.1-1.8-6.1-1-19.9-0.3-6.1 0.7-12.4 4.4-21.3 6.4-10.7 5.7-4.6 1.9-7.6 1.4-12.3 0.6-36.7 0-15.3-1.3-6.1-1.9-13.8-7-19.8-5.8-9.2-3.6-6.1-1.3-24.5 0.3-6.1 1.2-7.7 2.6-13.7 6-12.3 7.3-7.2 5.6-5.5 6.7-1.7 4.9 0.6 3.3 5.3 9.9 6.6 6.6 10.4 6.6 9.9 8 8.3 5.3 2.4 2.2 6.1 7.9 3.1 2.3 10.7 1.3 12.2 4.6 15.3 3.7 18.4 3.5 7.6 0.7 22.9 0.5zM340.5 1722.3l21.4-0.2 9.1-1.6 19.9-8 14-8.4 4.4-3.3 5-5 2.3-3.3 1.4-3.3 0.3-3.3-0.5-1.6-4.2-8.3-2.6-3.3-6.3-5.9-9.2-5.6-9.2-7.5-9.2-5.8-3-3.1-5.1-6.8-4.1-2.8-9.2-0.8-12.2-4.6-15.3-3.7-19.9-3.8-7.6-0.7-21.4-0.3-29.1-2 0 82.1 21.4 0 13.8 1.3 6.1 2.1 12.2 6.4 19.9 5.9 9.2 3.5zM1024.6 1722.3l5.6 0 7.7-1.7 9.2-3.5 19.8-5.9 12.3-6.4 6.1-2.1 13.8-1.3 21.4 0 0-82.1-29.1 2-21.4 0.3-7.6 0.7-19.9 3.8-15.3 3.7-12.3 4.6-9.1 0.8-4.1 2.8-5.1 6.8-3.1 3.1-9.1 5.8-9.2 7.5-9.2 5.6-6.4 5.9-2.5 3.3-3.4 6.6-1.3 3.3 0 1.7 0.8 3.3 1.9 3.3 3.2 3.8 5.2 4.5 16.1 9.9 18.5 7.7 9.2 1.9z"/><path fill="#005fff" d="M679.8 2072.5l10.9 0 22.9-1.9 21.4-0.3 7.7-0.7 21.4-3.9 15.3-3.8 10.7-4.2 7.7-0.6 3-0.8 3.1-2.6 4.6-6.4 3-3.2 9.2-6.1 8.4-6.8 9.9-5.3 3.5-3 4-4.9 2.6-5 1.6-4.9-0.4-5-1.8-3.3-4.5-5-5-3.8-9.5-6.1-18.1-8.2-7.5-2.4-6.1-1-19.9-0.1-6.1 0.7-12.3 4.4-21.4 6.3-10.7 5.6-4.6 1.8-7.6 1.4-10.7 0.6-38.3 0-15.3-1.2-6.1-1.9-13.8-6.8-19.8-5.8-9.2-3.6-6.1-1.3-18.4-0.3-6.1 0.3-7.2 1.6-8.1 3-13.8 6.3-13.7 8.9-4.6 4.3-2.9 4-1.1 3.3 0 3.3 3.2 8.2 5.4 7 4.6 3.5 8.4 4.4 8.4 6.8 9.2 6.1 9.1 11.1 3.1 1.7 9.2 0.8 10.7 4.2 13.7 3.5 21.5 4 9.1 0.9 21.4 0.3zM340.2 1720.6l20.1 0.3 10.7-1.8 7.7-2.7 12.2-5.5 13.8-8.4 7.4-6.7 2.3-3.3 1.2-3.3-0.1-3.3-2.3-6.6-1.8-3.3-3.7-4.5-4.6-3.9-9.1-4.8-9.2-7.3-7.7-5-3-2.8-6.1-8.2-3.1-2.1-9.2-0.9-10.7-4.1-13.7-3.6-24.5-4.5-7.7-0.6-19.8-0.3-29.1-2 0 78.8 21.4-0.1 13.8 1.3 6.1 2 12.2 6.3 20.4 6 10.2 3.8zM1007.1 1720.6l21.6 0.2 6.1-0.9 11.7-4.2 20.4-6 12.3-6.3 7.6-2.3 13.8-1 19.9 0.1 0-78.8-29.1 2-19.9 0.3-7.6 0.6-24.5 4.5-13.8 3.6-10.7 4.1-9.1 0.9-3.1 2.1-6.1 8.2-3.1 2.8-7.6 5-9.2 7.3-9.2 4.8-3 2.3-6.2 7.8-3.2 8.2 0.4 5 3 4.9 7.4 6.7 13.9 8.4 16.8 7.2z"/><path fill="#0055ff" d="M665.3 2069.2l13.2 1.1 9.1 0.2 27.6-2.1 24.4-0.6 24.5-4.1 15.3-4 10.7-4.1 9.2-0.9 3.2-2 5.9-8.3 3.1-3 16.8-12.4 9.2-4.1 4.5-3.6 3.6-5 2.2-4.9 0.8-5-0.5-3.3-1.7-3.3-4.8-5-14.8-9.7-16.8-7.4-6.1-1.9-6.1-1.1-7.7-0.2-18.3 1-12.3 4.3-21.4 6.3-10.7 5.4-4.6 1.8-7.6 1.4-10.7 0.5-39.8 0-13.8-1.1-6.1-1.9-12.2-6.1-21.4-6.3-9.2-3.5-6.1-1.2-21.5-0.6-6.1 0.9-7.6 2.3-12.3 5.1-7.2 3.8-11.1 7.4-5.8 5.8-2.1 5 0.3 4.9 2.6 6.6 5.2 6.6 2.9 2 9.1 4.1 16.9 12.4 3.1 3 5.9 8.3 3.2 2 9.2 0.9 9.1 3.6 15.3 4.1 23 4.1 7.6 0.8 18.4 0.2zM340 1719l18.8 0.6 10.7-1.6 7.6-2.5 11-4.8 6.2-3.3 8.8-5.7 6.8-5.9 2.4-3.3 1.1-3.3 0-3.3-1.3-4.9-2.7-5-3.2-4-3.1-2.5-10.7-5-7.6-6.1-8-5.5-3.5-3.3-5.3-7.6-1.6-1.5-3-1.4-7.7-0.5-10.7-4-15.3-4.1-22.9-4.1-7.7-0.6-19.8-0.3-29.1-2 0 75.5 22.9-0.1 12.3 1.2 6.1 2 12.2 6.1 21.4 6.2 9.2 3.5zM1005.4 1719l9.5 0.6 15.3-0.6 4.6-0.7 10.7-3.9 21.4-6.2 12.3-6.1 7.6-2.3 12.3-1 21.4 0.2 0-75.5-29.1 2-19.9 0.3-7.6 0.6-23 4.1-15.3 4.1-10.7 4-7.6 0.5-3.1 1.4-1.5 1.5-5.3 7.6-3.6 3.3-17.1 12.6-7.6 3.2-3.1 1.9-5.8 7.1-2.6 6.6-0.4 3.3 0.5 3.3 3.1 4.9 6.7 5.9 12.3 7.6 14.2 6.4z"/><path fill="#004aff" d="M669.7 2067.5l19.5 0.9 24.4-2 26-0.7 24.5-4.1 16.8-4.6 9.2-3.6 9.2-0.9 3-2.2 5.1-7.5 4.1-3.8 16.8-12.7 9.2-3.3 3.1-2.5 3.1-4.2 2.3-4.9 0.6-5-0.6-3.3-1.9-3.3-3.5-3.6-14.1-9.6-16.5-7.4-7.7-2.3-6.1-1-6.1-0.1-18.3 1.4-10.8 3.7-9.1 2.3-13.8 4.3-15.3 7.1-7.6 1.4-10.7 0.5-39.8 0-13.8-1.1-6.1-1.9-12.2-6-13.8-4.3-9.2-2.3-7.6-2.9-6.1-1.3-19.9-0.9-7.7 1.1-7.6 2.3-10.7 4.5-8.6 4.5-11.3 8-4.6 5.2-1.5 5 0.7 5 2.3 5 4.6 5.5 3.1 1.7 7.6 2.7 16.9 12.7 4.1 3.8 5 7.5 3.1 2.2 9.2 0.9 9.1 3.6 16.9 4.6 22.9 3.9 9.2 0.8 16.8 0zM340 1717.3l17.3 0.9 10.7-1.3 7.6-2.4 9.2-3.8 6.5-3.3 7.9-4.9 8.5-6.9 2.4-3.1 1.2-3.3 0.2-3.3-1.2-4.9-2.6-4.6-3-3.7-3.1-2-6.1-1.9-3.1-1.6-16.8-12.7-3.4-3.3-5.7-8.2-3.1-1.8-9.2-0.8-9.2-3.7-15.3-4.1-24.4-4.2-7.7-0.7-18.3 0-29.1-2.2 0 72.3 22.9-0.2 12.3 1.2 6.1 2 12.2 5.9 13.8 4.4 7.6 1.8 9.2 3.4zM1004.5 1717.3l10.4 0.9 19.9-1.5 10.7-3.8 7.7-1.8 13.7-4.4 12.3-5.9 7.6-2.3 12.3-1 21.4 0.3 0-72.3-29.1 2.2-18.3 0-7.7 0.7-24.5 4.2-15.3 4.1-9.1 3.7-9.2 0.8-3.1 1.8-5.8 8.2-3.3 3.3-16.9 12.7-3 1.6-6.1 1.9-3.1 2-4.6 6.2-2 5.4 0 4.9 2.3 5 7.4 6.5 10.7 6.9 13.7 6.3z"/><path fill="#0040ff" d="M674.2 2065.9l15 0.4 24.4-2 18.4 0 7.6-0.6 24.5-4.2 16.8-4.6 7.7-3.3 7.6-0.6 3.1-0.8 2.8-2.5 4.4-6.6 5-4.5 16.8-12.8 7.7-2.5 3-1.9 3.1-3.9 2-4.1 0.5-5-0.9-3.3-2.3-3.3-3.4-3.3-6.6-5-7.6-4.6-16.1-6.9-6.9-1.9-6.1-0.8-22.9 1.5-10.8 3.6-7.6 1.7-15.3 4.8-15.3 7-7.6 1.4-9.2 0.4-42.8 0-12.3-1.1-6.1-1.8-12.2-5.9-35.2-10.4-21.4-1.2-7.7 1.1-7.6 2.4-15.3 6.9-12.7 8.8-3.5 3.3-2.2 3.3-0.9 3.3 0.1 3.3 1.8 5 3.6 4.7 3.1 1.9 7.6 2.5 16.9 12.8 5 4.5 5.9 8.3 2.8 1.4 9.2 0.8 7.6 3.3 16.9 4.6 22.9 4 9.2 0.8 18.3 0zM339.9 1715.7l17.4 1.1 9.1-1.1 13.8-4.6 13.5-7 11-8.3 2.9-3.3 1.6-3.3 0.3-3.3-0.6-3.3-2.4-4.9-2.8-3.3-2.8-1.7-6.9-2.1-3.1-2-17.9-14.1-2.9-3.3-3.7-5.6-3-2.2-9.2-0.8-9.2-3.7-15.3-4.2-24.4-4.3-9.2-0.7-16.8 0.1-29.1-2.2 0 69 22.9-0.3 12.3 1.2 6.1 2 12.2 5.8 13.8 4.3 9.2 2.2 7.6 2.8zM1004 1715.7l10.9 1.1 19.9-1.8 9.2-3.2 9.2-2.2 13.7-4.3 13.1-6.1 6.8-2 12.3-0.9 21.4 0.3 0-69-29.1 2.2-16.8-0.1-9.2 0.7-22.9 4-16.9 4.5-9.1 3.7-7.7 0.5-3 1.1-2.1 2.1-4.4 6.6-5.8 5.1-15.3 11.7-3 1.5-6.1 1.8-2.1 1.4-4.1 5.4-1.2 2.8-0.5 3.3 0.9 5 2.2 3.3 10.2 8.3 6.8 4.2 7.6 3.7 7.7 3.1z"/><path fill="#0036ff" d="M679.8 2064.2l12.4 0 23-2.1 16.8 0.2 7.6-0.7 13.8-2.7 10.7-1.5 7.7-2.5 9.1-2.1 7.7-3.4 9.2-1 3-2.2 6.1-7.8 7.7-6.5 13.7-10.4 7.7-3.2 2.6-2 2.3-3.3 1.2-3.2-0.5-5-1.9-3.3-4.9-5-11-7.7-16.1-7.2-6.9-1.9-6.1-1-4.6 0-18.3 1.7-9.2 3.1-9.2 2.1-7.6 2.8-7.7 2-15.3 6.8-7.6 1.4-9.2 0.4-19.9-0.4-21.4 0.4-12.2-0.8-7.7-2.1-12.2-5.7-35.2-10.2-19.9-1.6-7.6 1.1-7.7 2.2-14.3 6.3-10.1 6.6-5.4 5-2.6 3.3-1.3 3.3 0 3.3 1.6 4 3.1 3.7 9.1 4.1 15.3 11.6 7.2 6.4 6.6 8.2 3 1 7.7 0.7 7.6 3.4 9.2 2.1 7.7 2.5 10.7 1.5 12.2 2.5 9.2 0.9 18.3-0.1zM339.8 1714l6.8 0.2 9.1 1.2 7.7-0.6 12.2-3.5 13.8-6.5 10.3-7.3 4.9-5 1.6-2.6 0.7-2.3 0-3.3-1.1-3.3-2.7-3.7-1.5-1.3-9.2-4-12.2-9.3-9.5-8.2-5.8-7.5-3-1.6-7.7-0.5-9.2-3.9-7.6-1.7-9.2-2.8-9.2-1.2-13.7-2.8-9.2-0.8-16.8 0.2-29.1-2.3 0 65.8 22.9-0.3 12.3 1.1 6.1 2 12.2 5.7 15.3 4.7 7.7 1.7 7.6 2.7zM1003.6 1714l5.2 1 6.1 0.4 19.9-2 9.2-3.1 9.2-2.1 7.6-2.8 7.7-2 10.7-5.2 7.6-2.3 12.3-0.9 21.4 0.4 0-65.8-29.1 2.3-16.8-0.2-9.2 0.8-13.8 2.8-9.1 1.2-9.2 2.8-7.7 1.7-9.1 3.9-7.7 0.5-2.1 0.9-6.7 8.2-8 7-13.8 10.5-9.1 4-1.6 1.3-3 4.5-0.9 4.1 0.6 3.3 1.9 3.3 4.9 5 5.7 4.4 6.1 3.8 7 3.4z"/><path fill="#002cff" d="M666.7 2060.9l19.4 1.5 27.5-2.3 16.9 0.2 7.6-0.5 26-4.5 7.7-2.5 9.1-2 7.7-3.6 8.4-1.1 2.3-1.3 6.1-7 7.6-7 21.7-16.1 3.1-5 0.4-1.6-0.4-3.3-1.7-3.3-4.4-5-9.4-6.6-15.4-6.9-6.1-1.8-6.1-0.9-4.6-0.1-7.6 1.2-10.7 0.6-33.7 9.8-15.3 6.7-7.6 1.3-9.2 0.5-19.9-0.5-21.4 0.5-10.7-0.6-7.7-1.7-13.7-6.2-33.7-9.8-21.4-1.8-6.1 0.7-6.1 1.6-13.8 5.8-10.6 6.5-3.7 3.4-2.6 3.3-1.7 3.3-0.4 3.3 1 3.3 2.5 3.3 21.6 16.1 7.7 7 6.1 7 3 1.5 7.7 0.9 7.6 3.6 9.2 2 7.7 2.5 10.7 1.5 12.2 2.6 7.7 0.8 18.3-0.1zM339.5 1712.4l8.6 0.3 7.6 1.1 7.7-0.6 10.7-3.1 13-6 9.5-6.6 3.1-3.3 2.2-3.3 1.1-5-1-3.3-2.4-3.3-22.5-16.8-6.8-6.3-5.4-6.2-3-2.1-7.7-0.9-9.2-4-7.6-1.6-9.2-2.9-9.2-1.2-13.7-2.8-9.2-0.8-18.4 0.1-27.5-2.2 0 62.6 22.9-0.4 12.3 1.2 6.1 1.9 10.7 5.1 8.3 2.1 8.5 3.1zM1003.4 1712.4l10 1.5 21.4-2.1 33.7-9.8 12.2-5.7 7.7-1.9 12.2-0.7 19.9 0.5 0-62.6-27.6 2.2-18.3-0.1-9.2 0.8-13.8 2.8-9.1 1.2-9.2 2.9-7.7 1.6-9.1 4-6.1 0.6-3.1 1-6.9 7.6-6.9 6.3-22.4 16.8-2.4 3.3-1.1 3.3 0.5 3.3 1.6 3.3 4.4 5 4.1 3.3 12 6.6z"/><path fill="#0021ff" d="M670.8 2059.3l16.8 1 24.5-2.2 18.4 0.2 7.6-0.4 15.3-3.1 9.2-1.2 9.2-2.9 9.1-1.9 7.7-3.7 7.6-1.2 3.1-1.8 13.7-13.5 9.2-6.4 8.4-7.5 2-3.3 1.1-3.3-0.2-5-1.7-3.3-3.1-3.3-7.2-5-16.1-7.3-10.7-2.4-22.9 1.9-33.7 9.5-15.3 6.5-7.6 1.4-9.2 0.5-19.9-0.6-21.4 0.6-10.7-0.6-7.7-1.7-13.7-6.1-33.7-9.5-21.4-2-6.1 0.8-6.1 1.7-13 5.7-8.4 5.1-5 4.8-1.7 3.3-0.4 3.3 1.2 5 3.7 4.9 6.7 5.9 9.2 6.4 15.3 14.6 9.2 1.9 7.6 3.7 9.2 1.9 7.7 2.5 10.7 1.6 12.2 2.7 9.2 0.8 18.3-0.2zM339 1710.7l9.1 0.3 9.2 1.3 7.6-1 6.1-1.8 7.7-3.2 12.2-6.7 5.7-5.4 1.7-3.3 0.5-3.3-0.7-3.3-1.5-3.3-6.4-6.6-13.1-9.7-13.7-13.4-3.1-1.4-7.6-1.3-7.7-3.6-9.1-2-7.7-2.4-9.2-1.3-15.3-3.1-7.6-0.5-18.4 0.2-27.5-2.3 0 59.4 21.4-0.5 13.8 1.2 6.1 1.9 10.7 5 9.2 2.3 7.6 2.8zM1003.3 1710.7l10.1 1.6 9.2-1.3 10.7-0.5 35.2-9.9 12.2-5.6 7.7-1.9 13.7-0.7 18.4 0.6 0-59.4-27.6 2.3-18.3-0.2-9.2 0.7-13.8 2.9-9.1 1.3-7.7 2.4-9.2 2-7.6 3.6-7.6 1.3-3.1 1.4-13.8 13.4-10.7 7.7-6 5.3-3.6 4.9-1.3 5 0.4 3.3 1.8 3.3 5.1 5 11.3 6.4z"/><path fill="#0017ff" d="M674.9 2057.6l12.7 0.7 23-2.2 21.4 0.3 7.6-0.6 13.8-2.9 9.2-1.4 9.2-2.7 7.6-1.5 9.2-4.1 7.6-1.6 4.6-3.1 12.2-12.1 9.2-6 4.4-4.1 2.5-3.3 1.4-3.3 0.6-3.3-0.5-3.3-3.2-4.9-8.2-5.7-15.3-7.1-9.2-2-22.9 1.9-16.9 4.4-9.1 3.2-7.7 1.6-12.2 5.5-4.6 1.5-6.1 1-10.7 0.4-18.4-0.6-19.9 0.6-12.2-0.6-7.7-1.7-13.7-6.1-7.7-1.6-9.2-3.2-16.8-4.4-10.7-0.6-10.7-1.3-4.6 0.4-6.1 1.6-13.6 6.1-8.1 5-4.4 5-1 3.3 0.1 3.3 1.7 4.9 4.2 5 4.3 3.5 7.6 4.9 15.3 14.5 3.1 1.1 6.1 1.2 9.2 4.1 7.6 1.5 9.2 2.7 9.2 1.4 12.2 2.7 9.2 0.8 21.4-0.3zM338.7 1709.1l9.4 0.3 9.2 1.2 9.1-1.3 9.2-3.5 9.8-5 5.5-3.7 3.9-4.6 1.1-3.3-0.1-3.3-1-3.3-1.9-3.3-5-5-10.8-7.4-12.2-12.1-3-2.1-9.2-2.1-9.2-4.1-7.6-1.5-9.2-2.7-9.2-1.3-10.7-2.4-9.2-0.9-22.9 0.1-24.5-2.1 0 56 19.9-0.6 13.7 1 6.2 1.6 12.2 5.5zM1003.3 1709.1l5.5 1.2 4.6 0.3 9.2-1.2 10.7-0.5 18.3-4.8 7.7-2.7 9.2-2.2 12.2-5.5 7.7-1.9 13.7-0.7 18.4 0.6 0-56-26 2.2-19.9-0.3-9.2 0.7-12.2 2.7-9.2 1.3-9.2 2.7-7.6 1.5-9.2 4.1-7.6 1.5-3.1 1.5-13.8 13.3-9.1 6.2-5.2 4.6-3.4 4.9-1.1 5 1.2 4.9 4.4 5 10.2 6z"/><path fill="#000dff" d="M679.2 2056l10 0.2 21.4-2.2 21.4 0.4 7.6-0.5 23-4.4 9.2-2.7 7.6-1.4 9.2-4.2 7.6-1.7 4.6-3 12.2-12.2 7.7-4.7 3.8-3.3 2.5-3.3 1.3-3.3 0.4-3.3-0.6-3.3-1.3-2.2-2.6-2.7-7.8-5-12.5-6.1-4.6-1.4-4.6-0.6-22.9 1.8-16.9 4.4-9.1 3.1-7.7 1.5-12.2 5.4-4.6 1.5-6.1 1-10.7 0.4-18.4-0.6-18.4 0.6-13.7-0.5-7.7-1.8-13.7-6-7.7-1.5-9.2-3.1-16.8-4.4-12.2-0.7-9.2-1.2-4.6 0.4-4.6 1.2-12.2 5.6-9.6 6-2.6 2.7-1.3 2.2-0.6 5 1.7 4.9 3.2 4.1 3.1 2.5 7.6 4.7 12.3 12.2 3 2.3 3.1 1.2 6.1 1.2 9.2 4.2 7.6 1.4 9.2 2.7 21.4 4.2 9.2 0.7 22.9-0.3zM338.4 1707.4l9.7 0.3 9.2 1.3 4.6-0.3 4.5-1 6.2-2.5 11.5-6 5.3-3.6 3-3.7 1-2.7 0.1-3.3-0.9-3.3-1.9-3.3-4.4-4.3-9.2-6-12.2-12.1-3-2.1-9.2-2.3-9.2-4.1-7.6-1.4-9.2-2.7-9.2-1.4-10.7-2.4-9.2-0.9-22.9 0.4-24.5-2.3 0 52.7 18.4-0.6 15.2 0.9 6.2 1.7 12.2 5.4 9.2 2 9.2 3.1zM1003.4 1707.4l5.4 1.3 4.6 0.3 9.2-1.3 10.7-0.5 16.8-4.3 9.2-3.1 9.2-2 12.2-5.4 7.7-2 13.7-0.6 18.4 0.6 0-52.7-24.5 2.3-22.9-0.4-7.7 0.6-21.4 4.1-9.2 2.7-7.6 1.4-9.2 4.1-7.6 1.7-3.1 1.5-13.8 13.3-9.1 6-3.1 2.7-2.4 3.3-1.7 4.9 0.5 5 2.1 3.2 1.8 1.7 8.9 5.5z"/><path fill="#0003ff" d="M670.9 2052.7l15.2 1.5 22.9-2.4 29.1 0.4 22.9-4.3 9.2-2.7 9.2-1.8 7.6-3.5 9.2-2.5 3.1-1.7 13.7-13.5 7.7-4.7 3-2.8 2.4-5-0.1-4.9-0.7-1.8-2.8-3.2-7.4-5-12.8-6.5-7.6-1.6-22.9 1.9-15.3 3.9-9.2 3-9.2 1.8-16.8 6.9-7.7 1.2-10.7 0.3-16.8-0.8-18.4 0.8-13.7-0.6-7.7-1.8-13.7-6-9.2-1.8-9.2-3-15.3-3.9-12.2-0.8-9.2-1.1-7.6 1.1-11.4 5.4-10.1 6.4-3.1 3.5-1 5 1.6 4.9 2.5 3.3 9.2 5.9 10.7 10.7 4.6 3.8 9.2 2.6 9.2 4.1 9.2 1.8 9.1 2.7 19.9 3.9 7.7 0.6 22.9-0.6zM338.4 1705.8l9.7 0.3 9.2 1.2 7.6-0.9 5.9-2.3 9.2-4.9 7.3-5 2.9-3.3 0.7-1.7 0.3-3.3-0.7-3.3-2-3.3-3.7-3.3-7.7-4.8-13.6-13.3-3.2-1.6-7.6-1.9-9.2-4.1-7.6-1.3-9.2-2.7-21.4-4.2-7.7-0.5-24.5 0.5-22.9-2.3 0 49.3 18.4-0.8 15.2 1 6.2 1.7 12.2 5.4 9.2 1.9 9.2 3zM1003.6 1705.8l3.7 1 4.6 0.5 10.7-1.2 10.7-0.5 16.8-4.3 9.2-3 9.2-1.9 12.2-5.4 7.7-2 15.2-0.7 16.9 0.8 0-49.3-23 2.3-24.4-0.5-7.7 0.5-21.4 4.2-9.2 2.7-7.6 1.3-9.2 4.1-7.6 1.9-3.1 1.5-13.8 13.4-7.7 4.8-3 2.6-2.6 4-0.8 3.3 0.3 3.3 0.8 1.7 2.8 3.3 8.7 5.7z"/><path fill="#0000f7" d="M675.6 2051l10.5 1 21.4-2.5 30.6 0.7 22.9-4.3 9.2-2.8 9.2-1.7 7.6-3.5 9.2-2.7 4.6-3.1 4.9-4.2 7.3-8 7.8-5.2 2.3-3.3 0.7-2.8-0.2-2.2-1.4-2.9-1.9-2-9.1-6.7-9.3-4.9-7.2-1.5-22.9 1.9-24.5 6.7-9.2 1.8-16.8 6.9-6.1 1-12.3 0.4-16.8-0.8-16.8 0.8-15.3-0.6-7.7-1.8-13.7-5.9-9.2-1.8-24.5-6.7-21.4-2-7.6 1.2-10.4 5.3-7.1 5-4 3.7-1.4 2.9-0.1 1.7 0.7 3.3 2.3 3.3 7.7 5.2 7.7 8.3 7.6 6.2 10.7 3.5 7.7 3.5 9.2 1.7 9.1 2.8 19.9 3.9 7.7 0.5 24.4-0.8zM338.6 1704.1l9.5 0.3 10.7 1.3 6.1-1 5.3-2.2 8.4-5 6.5-5 2.8-3.3 0.6-1.6 0-3.3-2.2-4.2-7.6-5.4-9.2-9.6-6.1-5-3.1-1.6-8.1-2.3-8.7-3.8-7.6-1.3-10.8-3.1-19.8-3.9-7.7-0.4-24.5 0.8-22.9-2.5 0 45.7 18.4-0.8 15.2 0.9 6.2 1.8 12.2 5.4 10.7 2.2 9.2 2.8zM1004 1704.1l3.3 1 4.6 0.6 21.4-1.8 24.5-6.7 10.7-2.2 12.2-5.4 7.7-2 15.2-0.7 16.9 0.8 0-45.7-23 2.5-24.4-0.8-7.7 0.4-19.9 3.9-10.7 3.1-7.6 1.3-9.2 4-9.2 2.8-7.6 5.9-9.2 9.6-6.9 4.6-2.4 3.3-0.7 3.3 0.8 3.3 2.7 3.3 9.1 6.7z"/><path fill="#0000ed" d="M681.1 2049.4l8.1 0 18.3-2.3 24.5 1.1 7.6-0.3 21.4-4.1 9.2-2.9 9.2-1.8 16.8-6.3 7.7-5 9.1-10.5 6.1-5.9 0.7-1.7-0.2-3.3-3.5-4.9-5.9-5-8.8-5-6.7-1.5-22.9 2-23 6.2-10.7 2-12.2 5.4-6.1 2-6.2 0.8-10.7 0.3-16.8-0.8-18.4 0.8-13.7-0.6-7.7-1.9-13.7-6-10.7-2-23-6.2-21.4-2-6.1 0.8-5.5 2.4-7.7 5-5.1 4.9-2.1 3.3-0.3 1.7 0.9 3.3 7.6 7.6 5.9 7.2 7.8 5.8 18.4 7.1 9.2 1.8 9.1 2.9 19.9 3.9 7.7 0.5 26-1.1zM339.4 1702.5l8.7 0.3 10.7 1.2 6.1-1 4.7-2.2 7.5-4.8 3.9-3.5 2.7-3.3 1.2-3.3-1-3.3-6.8-6.7-6.6-8.1-5.6-4.4-4.6-2.6-16.8-6.1-7.6-1.4-10.8-3.2-18.3-3.7-7.7-0.6-27.5 1.1-21.4-2.5 0 41.7 18.4-0.8 15.2 1 6.2 1.8 12.2 5.4 10.7 2.1zM1004.4 1702.5l4.4 1.2 3.1 0.3 21.4-1.9 24.5-6.5 10.7-2.1 12.2-5.4 7.7-2.1 15.2-0.7 16.9 0.8 0-41.7-21.4 2.5-26-1.1-7.7 0.4-19.9 3.9-10.7 3.2-7.6 1.4-18.4 6.8-8.6 6.3-6.7 8.1-6.7 6.7-0.9 2.7 0.3 2.3 0.8 1.6 4.4 5 5.2 3.9z"/><path fill="#0000e3" d="M675.9 2046.1l7.1 0.9 4.6 0 15.3-2.3 6.1-0.3 29.1 1.5 21.4-4 10.7-3.4 9.2-1.9 15.3-5.2 6.1-3 3.1-2.2 3-3.3 6.7-9.9 1.6-3.3 0.2-3.3-2.7-4.9-4.2-3.9-7.7-4.4-6.1-1.5-22.9 2.1-23 6.1-10.7 1.9-12.2 5.4-6.1 2.1-6.2 0.8-9.1 0.3-18.4-0.9-18.4 0.9-13.7-0.6-7.7-2-13.7-6-10.7-1.9-21.4-5.8-21.5-2.3-6.1 0.4-6.3 2.6-7.1 5-3.7 5-0.6 3.3 1.8 4.9 6.8 9.9 3 3.3 4.6 3 6.1 2.8 13.8 4.6 9.2 1.9 10.7 3.4 18.3 3.6 7.7 0.5 26-1.6zM341.3 1700.8l6.8 0.3 9.2 1.2 6.1-0.7 4.6-1.9 4.6-2.8 3.4-2.7 2.8-3.3 0.9-1.7 0.7-3.3-1-3.3-9-13.2-5.5-4.2-7.6-3.5-12.3-4.1-9.1-1.9-10.8-3.5-18.3-3.6-7.7-0.6-27.5 1.5-21.4-2.6 0 37.6 18.4-0.9 13.7 0.7 7.7 2.1 12.2 5.6 12.2 2.3 21.5 5.7zM1005 1700.8l6.9 1.5 21.4-2 22.9-6 12.3-2.3 13.7-6.1 7.7-1.8 13.7-0.5 16.9 0.9 0-37.6-21.4 2.6-26-1.4-7.7 0.3-19.9 3.8-10.7 3.5-9.2 1.9-16.8 6-4.6 2.5-3.9 3.3-8.1 11.6-1.9 4.9 0.7 3.3 3.6 5 4.4 3.3z"/><path fill="#0000d8" d="M627 2042.8l10.2 0.7 26-1.9 16.8 2.4 6.1 0.3 16.8-2.4 6.1-0.3 27.6 2 6.1-0.7 13.8-2.6 15.3-4.8 16.8-3.6 12.2-5 3.2-2.3 3.5-5 4.2-8.2 0.6-5-2.5-4.9-3.8-3.3-6.7-3.7-6.1-1.1-21.4 2.3-21.5 5.5-11.2 1.9-4.8 1.7-10 4.8-7.6 2.1-13.8 0.5-18.3-0.9-16.9 0.9-10.7-0.2-9.1-1.8-15.3-6.9-12.3-2.1-19.8-5.2-21.5-2.5-4.6 0.2-6.1 2.3-5.8 3.8-2.9 3.3-1.2 3.3 0.1 3.3 1.2 3.3 4.4 8.3 2.7 3.4 4.6 2.9 10.7 4.3 16.8 3.6 12.3 4.2zM346.6 1699.2l10.7 1.4 6.1-0.9 7.6-4 4.9-4.8 0.8-1.7 0.6-3.3-1.4-4.9-5.6-9.9-2.3-2.4-3.1-2-13.8-5.3-15.2-3.1-12.3-4.1-16.8-3.3-7.7-0.5-19.8 1.8-7.7 0.2-21.4-2.7 0 33 18.4-0.9 13.7 0.6 7.7 2.3 9.1 4.6 4.6 1.6 10.7 1.7 21.5 5.6zM1005.7 1699.2l3.1 1 4.6 0.4 21.4-2.4 19.9-5.2 13.8-2.6 13.7-6.3 7.7-1.9 12.2-0.4 18.4 0.9 0-33-21.4 2.7-7.7-0.2-19.9-1.8-7.6 0.5-16.8 3.3-12.3 4.1-15.3 3.1-12.2 4.6-4.6 2.7-2.3 2.4-5.6 9.9-1.4 4.9 0.6 3.3 2 3.3 3.8 3.3z"/><path fill="#0000ce" d="M678.7 2041.1l10.5 0.3 13.7-2.4 6.1-0.4 9.2 0.5 15.3 1.9 6.1-0.1 18.4-3.2 15.3-5.1 13.7-1.8 12.3-4.6 4.6-3.2 2.1-3.4 2.8-6.6 0.9-3.3 0-3.3-1.2-2.9-1.6-1.9-4.6-3.4-6.1-2.6-4.6-0.4-19.8 2.4-19.9 5-12.8 2.2-4.6 1.6-10.2 5.3-7.6 2.1-12.2 0.4-19.9-1-16.9 1-10.7-0.1-4.5-0.5-4.6-1.3-12.3-6.2-4.6-1.5-12.2-2-21.4-5.2-18.4-2.2-4.6 0.4-4.5 1.8-4.6 2.8-2.9 2.9-1.4 3.3 0.3 5 3.4 8.2 2.1 3.4 4.6 3.2 12.2 4.6 13.8 1.8 15.3 5.1 16.8 3 7.7 0.3 16.8-2 9.2-0.4 4.5 0.4zM348.3 1697.5l9 1.3 4.6-0.6 7.6-3.9 3.6-3.4 1-1.8 0.6-3.2-1.1-4.9-3.6-8.3-2-2.5-3.1-2.1-13.8-5-12.2-1.5-16.6-5.4-17-3-7.7-0.1-15.3 1.8-9.2 0.5-6.1-0.5-10.7-2.1-6.1-0.3 0 28.3 18.4-1 13.7 0.5 6.1 1.7 10.9 5.6 4.4 1.6 12.3 2 19.9 5.1zM1006.9 1697.5l3.5 1 3 0.3 21.4-2.5 18.4-4.7 15.3-2.9 13.7-6.7 6.2-1.7 13.7-0.5 18.4 1 0-28.3-6.1 0.3-10.8 2.1-6.1 0.5-9.1-0.5-15.3-1.8-7.7 0.1-17 3-16.6 5.4-12.3 1.5-12.2 4.4-3.6 1.9-3 3.3-3.7 8.3-1 4.9 0.6 3.3 2.4 3.3 3.7 2.8z"/><path fill="#0000c4" d="M628.7 2037.8l8.5 0.4 13.7-2.2 12.3-0.5 4.5 0.4 10.8 2.4 9.1 0.4 6.1-0.6 9.2-2.2 6.1-0.4 10.8 0.5 12.2 2.1 4.6 0.2 18.3-2.5 18.4-5.6 13.7-0.9 13.8-5.2 2.8-2.8 1.6-3.3 1.8-6.6 0-5-2-3.3-4.4-3.3-4.4-2-4.6-0.7-19.8 2.5-18.4 4.5-13.8 2.3-4.6 1.7-10.7 6.1-6.1 1.8-12.2 0.5-13.8-1.1-10.7 0-15.3 1.1-9.2-0.1-4.5-0.4-4.6-1.2-12.3-6.7-4.6-1.7-13.7-2.3-18.4-4.5-18.3-2.4-4.6 0.2-3.1 0.9-5.4 3.2-2.2 2-1.6 2.9-0.3 3.3 1.6 6.6 1.1 3.3 2.3 3.3 3 2 12.2 4.4 12.3 0.6 7.6 1.9 10.7 3.7zM349.5 1695.8l6.2 1 4.6-0.4 7.7-3.8 3.1-3.4 0.7-1.6 0.3-3.3-2-8.3-3-4.9-3.7-2.3-12.3-4.2-12.2-0.6-7.6-2.1-9.2-3.2-16.8-2.7-6.2-0.3-13.7 2.2-12.3 0.6-6.1-0.5-10.7-2.4-6.1-0.4 0 23.4 19.9-1.1 13.7 0.6 6.2 2.1 9.1 5.3 4.6 1.9 15.3 2.7 16.9 4.2zM1008.5 1695.8l3.4 0.9 3 0.1 18.4-2.2 19.9-4.9 12.8-2.1 4.7-1.7 10-5.7 6.1-2.1 13.8-0.6 19.9 1.1 0-23.4-6.1 0.4-10.8 2.4-6.1 0.5-12.2-0.6-12.2-2-6.2-0.1-16.8 2.5-18.3 5.7-10.7 0.3-4.6 1.1-9.2 3.4-3.1 1.7-2.9 3.9-1.7 4.9-1 6.6 0.9 3.3 3.2 3.3z"/><path fill="#0000ba" d="M627.8 2034.5l9.4 0.7 12.2-2.7 13.8-0.3 4.5 0.5 10.8 2.9 7.6 0.4 6.1-0.4 10.7-2.9 4.6-0.5 13.8 0.3 9.2 2.2 4.5 0.6 18.4-1.9 21.4-5.6 9.2 0.4 3-0.4 12.3-4.4 2.7-2.1 1-1.7 0.9-3.3 0.4-6.6-0.8-3.3-3-3.3-5.6-3.3-4.8-0.6-18.3 2.3-16.9 4.2-15.3 2.8-4.6 1.9-10.7 7.1-3 1.2-15.3 0.5-12.3-1.5-13.7-0.1-15.3 1.6-12.2-0.2-3.1-0.3-3.1-1.2-10.7-7.1-4.6-1.9-15.3-2.8-16.8-4.2-16.8-2.1-4.6 0-3.1 1-4.2 2.7-1.9 1.8-1.7 3.2-0.3 3.3 0.8 6.6 1.6 3.3 1.8 1.6 13.1 4.9 3.1 0.4 9.2-0.4 19.8 5.4zM350.8 1694.2l6.5 0.5 4.6-1.5 5.2-4 1.2-1.6 0.9-3.3-0.8-8.3-1.5-3.3-3.5-2.5-9.2-3.4-4.6-1-10.7 0.3-18.3-5.1-18.4-2.2-6.1 0.3-9.2 2.3-13.8 0.4-6.1-0.7-9.2-2.5-7.6-0.6 0 18.3 9.2-0.1 10.7-1.3 15.3 0.3 4.6 1.7 9.1 6.2 4.6 2.2 16.9 3.2 15.3 3.8zM1010.9 1694.2l5.6 0.5 16.8-2.1 18.3-4.5 13.8-2.4 4.6-1.7 10.7-7.1 4.6-1.7 15.3-0.3 10.7 1.3 9.2 0.1 0-18.3-7.7 0.6-9.2 2.5-6.1 0.7-13.7-0.4-9.2-2.3-6.1-0.3-18.4 2.2-18.3 5.1-10.7-0.3-4.6 1-10.7 4.2-2 1.7-1.6 3.3-0.7 8.3 0.9 3.3 2.9 3.3z"/><path fill="#0000af" d="M679.6 2032.8l5 0.4 6.5-0.4 5.7-1.4 7.7-3.1 3-0.4 7.7 0.3 1.8-0.3 3.1-1.7-0.3-1.6-3.1-1.7-3.1-0.4-7.6 0.5-12.3-2.7-16.8 0-12.2 2.7-9.2-0.4-1.6 0.3-3 1.7-0.3 1.6 3.1 1.7 3.3 0.4 7.7-0.3 9.2 3.4zM629.1 2031.2l6.5 0.9 3.1-0.3 5-2.3 3.6-3.3-0.2-1.6-5.6-6.6-5.9-4.7-3.4-1.9-33.3-7.9-18.3-2.1-3.1 0.5-3.1 1.8-2.6 2.7-1.9 3.3-1.2 6.6 1.2 3.9 3 2.4 9.2 3.5 4.6 0.7 9.2-1 19.8 4.6zM730.1 2031.2l4.9 0.9 7.7-1.1 10.7-0.4 21.4-4.8 9.2 1 3-0.3 10.8-3.9 2.1-1.3 1.9-3.3-0.5-6.6-1.3-3.3-3.8-4.4-3-1.8-3.1-0.5-18.3 2.1-32.2 7.5-4.2 2-4.3 3.3-3.5 3.3-4 5-0.2 1.6 1.5 1.7zM353.2 1692.5l4.1-0.2 3-1.4 3.5-3.3 1.9-3.3 1-5 0-3.3-1.8-3.2-3-1.7-10.8-3.8-12.2 0.8-19.9-4.6-10.7-0.5-7.6-1.1-3.1 0.2-3 0.9-2.7 1.5-3.5 3.3 0.2 1.6 5.4 6.6 6.3 5 3.4 1.8 32.2 7.5zM1014.7 1692.5l20.1-2.2 32.1-7.5 3.5-1.8 6.2-5 5.5-6.6 0.1-1.6-4.6-4-3-1.4-3.1-0.5-9.1 1.1-10.8 0.5-19.8 4.6-3.1 0.1-7.6-1-4.6 1-10.7 4.5-1.2 1.7-0.7 3.3 1.1 6.6 1.9 3.3 3.5 3.3zM250.2 1672.7l0 1 7.6 0.1 4.6-0.6 9.2-2.3 9.2 0.3 3.9-1.8 0.3-1.6-4.2-1.9-10.7-0.1-10.7-3.9-9.2-1.1zM1106 1672.7l5.3 1 9.2 0 0-12.9-9.2 1.1-10.7 3.9-10.7 0.1-4.2 1.9 0.2 1.6 3.2 1.7 3.8 0.3 6.2-0.5z"/><path fill="#0000a5" d="M683.6 2029.5l7.1-0.6 3.5-1 2.1-1.7-1.2-1.6-2.9-0.5-10.7-0.1-5.9 0.6-1.2 1.6 2.1 1.7zM631.2 2027.9l6 0.5 1.5-0.6 1.6-1.6 0.5-1.6-1-3.3-5.2-5-2.6-1.6-4-1.5-26-6.9-16.8-2.5-6.2 0.3-3 2-1.7 2-3 6.6-0.2 3.3 0.7 1.6 2.3 1.7 9.5 3.9 3.1 0.3 9.2-1.5 18.3 3.3 12.3-0.1zM732.1 2027.9l2.9 0.7 9.2-1.4 10.7 0.3 19.9-3.5 9.2 1.5 3-0.3 9.6-3.9 2.3-1.7 0.7-1.6-0.2-3.3-3-6.6-1.7-2-3.1-2-4.6-0.5-16.8 2.3-27.5 7.3-4.6 1.8-4.6 3.3-3 3.8-0.6 2.5 0.5 1.6zM342.6 1689.2l11.6 1.2 4.6-1.8 3.5-4.3 2.2-6.6-0.8-3.3-2.2-1.7-8.8-3.7-3.1-0.5-7.6 1.4-3.1 0.1-18.3-3.4-12.3 0.2-7.6-1.3-3.1 0.3-2.4 2-0.5 1.6 1 3.3 3 3.3 5 3.4 29.1 8.2zM1012.9 1689.2l2 0.9 3.1 0.3 15.3-1.9 30.6-7.9 4.6-2.1 5.2-4.1 2-3.3 0.2-1.7-0.5-1.6-2.3-2-3.1-0.3-7.6 1.3-12.3-0.2-18.3 3.4-3.1-0.1-6.1-1.3-4.6 0.4-9.2 3.9-1.9 1.5-0.7 1.6 0.2 3.3 2 5 2 2.8zM250.2 1669.4l0 0.7 7.6-0.3 2.1-0.4 1.3-1.6-3.4-2.1-7.6-1.3zM1110.8 1669.4l9.7 0.7 0-5.7-3.1 0.2-5.8 1.5-2.1 1.7z"/><path fill="#00009b" d="M581.2 2022.9l2.4 0.9 3.1 0.3 9.2-2.1 10.7 2.2 7.6 0.3 7.2-1.6 4.4-1.6 1.4-1.7-1.6-1.6-5.6-3.3-8.8-3.8-13.8-3.3-13.8-1.9-3 0.6-3.1 1.9-2.2 3.2-1.6 4.9 0.3 1.7 1.3 1.6zM749.3 2022.9l5.6 1.4 6.1 0.2 13.8-2.5 7.7 1.9 3 0.2 3.9-1.2 5.9-3.3 1.4-1.6 0.3-1.7-1.6-4.9-2.2-3.2-1.6-1.2-3-1.1-6.1 0.2-19 3.6-5.5 1.7-7.4 3.3-5.5 3.3-1.6 1.6 1.4 1.7zM344.9 1687.6l6.2 0.7 4.6-0.9 3.1-2.5 2.2-3.9 0.8-3.3-0.2-1.7-1.4-1.6-7.5-4-4.6-0.4-6.1 1.7-3.1 0.3-10.7-2.3-7.6-0.1-6.5 1.5-4.3 1.6-1.4 1.7 4.1 3.3 10.4 4.9 8.4 2.4zM1015.3 1687.6l2.7 0.6 4.6-0.2 19.9-3.8 5.3-1.6 7.4-3.3 5.5-3.3 1.6-1.6-1.5-1.7-4.3-1.6-6.4-1.5-7.6 0.1-10.7 2.3-3.1-0.3-6.1-1.7-4.6 0.4-7.5 4-1.4 1.6-0.3 1.7 0.8 3.3 1.8 3.3 2 2.2z"/><path fill="#000091" d="M581.2 2021.3l2.4 1 3.1 0.3 7.6-2.5 3.1-0.4 7.6 2.1 4.6 0.3 3.1-0.7 1.5-1 0.9-0.8 0.4-1.6-0.8-1.7-1.8-1.6-4.8-2.2-18.4-4.2-6.1-0.4-3 1.1-1.6 1.3-2.3 4.4 0.6 3.3zM757.7 2021.3l3.3 0.8 3.1 0 7.7-2.2 3-0.1 7.7 2.5 3 0.3 3.1-0.9 3.2-2.1 1.6-1.6 0.6-3.3-1.5-3.3-2.4-2.4-3.1-1.1-6.1 0.4-18.3 4.2-4.6 2-2.1 1.8-0.7 1.7 0.4 1.6zM347.4 1685.9l3.7 0.2 3.1-0.7 1.7-1.1 2.4-3.3 0.6-3.3-0.6-1.7-1.6-1.6-4-2.5-4.6-0.4-9.2 2.8-3-0.4-6.2-1.9-3-0.1-4.1 0.8-2.1 1.7-0.4 1.6 0.7 1.7 1.8 1.6 3.2 1.7zM1018.1 1685.9l6-0.1 20.7-4.8 3.3-1.7 1.8-1.6 0.7-1.7-0.4-1.6-2.1-1.7-4.1-0.8-3.1 0.1-6.1 1.9-3 0.4-9.2-2.8-4.6 0.4-4 2.5-1.6 1.6-0.6 1.7 0.1 1.7 1.5 3.4 1.5 1.7z"/><path fill="#000086" d="M581.9 2019.6l3.3 1.4 3-0.4 4.6-2.6 2-1.7 0.6-1.6-1.2-1.7-2.9-1.7-4.6-1.1-3.1 0.3-3 2.1-1 2.1 0 1.6 0.7 1.7zM780.4 2019.6l3.6 1.4 1.5 0 3.1-1.2 1.8-1.8 0.7-1.7-0.7-3.3-1.8-1.9-4.6-0.9-4.6 1.1-2.9 1.7-1.2 1.7 0.6 1.6zM606.1 2018l0.8 0-0.3-0.8zM763.8 2018l0.7 0-0.4-0.8zM344.1 1682.6l5.5 1.3 4.2-1.3 1.5-1.6 0.7-1.7 0-1.6-0.7-1.7-1.7-1.6-2.5-1.2-3 0-2.9 1.2-4.4 3.3-0.6 1.6 1.1 1.7zM1016.9 1682.6l2.6 1.1 4.6-0.3 5.2-2.4 1.2-1.7-0.6-1.6-4.5-3.3-2.8-1.2-3.1 0-3 1.7-1.8 2.8 0.7 3.3zM329.7 1677.7l0.1-1.7-0.7 0zM1040.9 1677.7l0.7-1.7-0.7 0z"/><path fill="#000080" d="M584.1 2018l2.6 0.5 1.3-0.5 1.4-1.7-0.1-1.6-2.6-1.5-1.5 0.1-1.6 0.9-0.6 2.1zM782.7 2018l1.3 0.5 2.6-0.5 1.1-1.7-0.3-1.6-1.9-1.4-3 0.5-1.1 0.9-0.1 1.6zM346.3 1679.3l1.8 1.3 1.5 0.2 2.7-1.5 0.3-1.6-1.5-1.9-3 0-2 1.9zM1018.4 1679.3l2.7 1.5 1.5-0.2 1.8-1.3 0.1-1.6-1.9-1.9-3.1 0-1.4 1.9z"/></g></g><path clip-path="url(#clipb)" fill="none" stroke="#141414" stroke-width="2" stroke-linejoin="round" d="M657 2163.4l-27.5-1.1-12.2-1.2-12.3-3.3-12.2-1.9-7.6-2.5-9.2-2.1-4.6-1.5-8.3-4.6-14.7-6.3-9.1-4.5-9.2-5.2-9.2-6-7.6-5.9-7.7-7.1-6.1-6.9-6.1-8.7-4.6-8-4.6-10.1-3.2-9-2.5-9.9-1.6-13.2-2.8-13.2-0.8-6.6 0-21.5 1.5-13.2 1.7-8.3 2-6.6 2.7-5.8 3-4.2 4.6-4.2 4.6-3 4.6-2.1 9.9-3.8 3.8-2.1 1.6-1.2 2.7-3.3 1.7-3.3 0.4-1.7-0.3-1.6-1-1.7-1.9-1.6-12.3-6.5-4.6-2.8-7.7-5.9-4.6-4.9-1.8-3-1.2-3.2-0.6-5.1 1-5 2.8-4.9 4.4-4.4 6.1-3.8 6.2-2.5 10.7-3.1 6.1-1.1 10.7-1 10.7-1.7 12.2-0.8 8.9-1.4 6.4-1.7 9.2-4.2 7.7-2.3 13.8-5.1 16.7-2.9 16.9-1.3 16.8 0.9 12.2-0.5 12.3 0.5 10.7-0.5 13.7 0.4 10.7-0.4 12.3 0.5 16.8-0.9 18.4 1.6 10.7 1.7 6.1 1.4 12.2 4.6 7.7 2.3 9.1 4.2 6.2 1.6 9.1 1.5 13.8 1 9.2 1.5 10.7 1 6.1 1.1 10.7 3.1 4.6 1.8 4.6 2.4 4.3 3.2 4.3 4.9 1.6 3.3 0.9 3.3 0.1 3.3-0.5 3.3-2.1 5-4.1 5-7.6 6.1-6.1 3.9-12.3 6.5-1.9 1.6-1 1.7-0.3 1.6 0.3 1.7 1.7 3.3 2.8 3.3 1.5 1.2 3.9 2.1 9.9 3.8 6.1 3 4.6 3.3 4.6 4.9 3.1 5.2 2.7 7.9 1.8 8.2 1.4 10 0.4 6.6-0.1 21.4-0.7 5-2.6 11.6-1.5 13.2-1.4 6.6-3.7 11.5-5.5 12.5-6.1 10.4-6.2 8.2-6.1 6.5-6.1 5.6-7.6 5.9-7.7 5.1-15.3 8.5-18.3 8-7.7 4.2-4.6 1.9-9.2 2.1-9.1 2.9-12.3 1.9-9.1 2.7-9.2 1.4-59.7 2.8zM1120.5 1836.8l-12.3-0.5-12.2 0.5-12.2-0.5-16.9 0.9-12.4-0.9-11.9-1.7-7.8-1.5-4.6-1.3-9.1-3.6-9.2-2.9-7.7-3.6-3-1-12.3-2.3-12.2-0.8-10.7-1.6-15.3-1.8-15.3-4.4-4.6-2.1-4.6-2.9-5.2-4.9-2.7-4.9-0.9-3.3-0.1-3.3 0.5-3.3 1.2-3.4 2.6-4 4.6-4.5 9.2-6.8 14.6-7.8 2.2-2.1 0.7-1.2 0.3-1.6-0.3-1.7-1.7-3.3-3.6-3.9-4.5-2.7-10.8-4.1-6.1-3.2-6.1-5-4.3-5.9-3.3-8.4-2.8-13-1.2-11.6-0.1-18.2 0.6-8.2 2.8-13.3 2.2-16.6 3.2-11.4 5.5-13.3 6.6-11.7 7.6-10.3 9.2-9.2 12.2-9.5 7.7-4.9 10.7-5.9 21.4-9.5 9.2-5 12.2-3.1 7.7-2.5 12.2-1.9 10.7-3.1 7.7-1.1 62.7-3M250.2 1529.2l62.7 3 7.7 1.1 10.7 3.1 12.2 1.9 7.6 2.5 12.3 3.1 9.2 5 21.4 9.5 10.7 5.9 7.6 4.9 12.3 9.5 9.1 9.2 7.7 10.3 6.6 11.7 5.4 13.3 3.3 11.4 2.2 16.6 2.8 13.3 0.6 8.2-0.1 18.2-1.2 11.6-2.8 13-3.3 8.4-4.3 5.9-6.2 5-6.1 3.2-10.7 4.1-4.6 2.7-3.5 3.9-1.7 3.3-0.3 1.7 0.2 1.6 0.7 1.2 2.2 2.1 14.7 7.8 9.1 6.8 4.6 4.5 2.7 4 1.2 3.4 0.5 3.3-0.2 3.3-0.8 3.3-2.7 4.9-5.3 4.9-4.5 2.9-4.6 2.1-15.3 4.4-15.3 1.8-10.7 1.6-12.3 0.8-12.2 2.3-3.1 1-7.6 3.6-9.2 2.9-9.2 3.6-4.5 1.3-7.8 1.5-11.9 1.7-12.5 0.9-16.8-0.9-12.2 0.5-12.3-0.5-12.2 0.5M681.5 2125.4l-21.4-0.9-42.8-3.4-4.6-1-7.7-2.6-12.2-2.3-9.2-3-10.7-2.6-27.5-14.8-7.7-4.6-6.1-4.2-6.1-5-7.6-7.5-6.2-6.8-5.8-7.4-3.3-5-1.6-3.2-4.1-11.6-2.3-3.4-6.7-6.6-2-3.3-0.6-3.3 0.1-6.6-0.9-6.6 0-3.3 0.8-4.9 2.3-6.7 3.2-6.6 3.2-4.9 4.4-5 5.4-4.9 7.9-5.3 13.8-7.2 7.7-3.4 10.7-3.8 6.1-3.4 2.1-1.7 2.9-3.3 2.7-5 0.9-3.3-0.6-3.3-1-1.6-2.4-2.4-10.7-7-12.4-7.1-10.1-6.7-1.7-1.6-0.9-1.7 0.2-1.6 1.2-1.7 2.3-1.6 3.6-1.7 10.1-3.3 21.4-2.9 12.3-0.8 6.1 0.4 16.8 2.5 15.3 3.1 24.5 4 13.7 1.6 18.4 0.9 39.8 0.1 21.4-1.1 15.3-1.9 21.4-3.6 16.8-3.3 15.3-2.3 6.1-0.4 12.2 0.8 21.5 2.9 10.1 3.3 3.6 1.7 2.3 1.6 1.2 1.7 0.1 1.6-0.8 1.7-1.8 1.6-10.1 6.7-12.3 7.1-10.7 7-2.5 2.4-1 1.6-0.5 3.3 0.9 3.3 2.7 5 2.8 3.3 2.2 1.7 6.1 3.4 10.7 3.8 7.7 3.4 13.7 7.2 7.9 5.3 5.5 4.9 4.3 5 3.3 4.9 3.1 6.6 2.4 6.7 0.8 4.9 0 3.3-0.9 6.6 0.1 6.6-0.6 3.3-2.1 3.3-6.6 6.6-2.3 3.4-4.9 13.2-5.3 8.2-6.2 7.6-6.1 6.6-6.1 5.9-6.2 5-6.1 4.2-7.6 4.6-27.5 14.8-10.8 2.6-9.1 3-12.3 2.3-8.7 2.9-5 1-44.4 3.3zM1120.5 1789.4l-19.9 0-21.4 1.2-15.3 2-21.4 3.6-15.3 3-15.3 2.3-6.1 0.4-12.3-0.6-21.4-2.9-6.4-1.8-8.1-3.3-2.3-1.6-1.2-1.7-0.1-1.6 0.8-1.7 1.8-1.6 4.8-3.4 18.4-10.8 10.8-7.3 1.6-1.7 1.5-3.3 0-1.6-0.9-3.3-1.6-3.3-2.3-3.3-3-2.8-3.1-2.1-4.6-2.2-13.7-5.1-10.7-5.3-10.7-6-7.7-6.1-6.2-6.8-4.1-6.6-4.2-9.9-1.1-5-0.3-3.3 1-8.2-0.1-6.6 0.6-3.3 2.1-3.3 6.6-6.6 2.3-3.4 4.1-11.5 3.7-6.6 9.2-11.6 9.6-9.9 8.9-7.5 10.7-6.9 29.1-15.8 3.1-1.1 9.1-2 9.2-3 12.2-2.3 9.2-3 6.1-0.9 38.3-2.9 26-0.9M250.2 1568.6l26 0.9 38.2 2.9 6.2 0.9 9.1 3 12.3 2.3 9.1 3 9.2 2 3.1 1.1 29 15.8 10.7 6.9 9 7.5 9.6 9.9 9.1 11.6 3.8 6.6 4 11.5 2.3 3.4 6.7 6.6 2 3.3 0.7 3.3-0.2 6.6 1 8.2-0.2 3.3-1.2 5-4.1 9.9-4.1 6.6-6.2 6.8-7.7 6.1-10.7 6-10.7 5.3-13.8 5.1-4.5 2.2-3.1 2.1-3 2.8-2.3 3.3-1.6 3.3-0.9 3.3 0 1.6 1.5 3.3 1.6 1.7 10.8 7.3 18.4 10.8 4.8 3.4 1.8 1.6 0.8 1.7-0.1 1.6-1.2 1.7-2.4 1.6-8 3.3-6.4 1.8-21.5 2.9-12.2 0.6-6.1-0.4-15.3-2.3-15.3-3-21.4-3.6-15.3-2-21.4-1.2-19.9 0M657 2102.3l-35.1-2.4-6.2-0.8-10.7-3.6-13.7-2.6-7.7-2.8-13.7-4.1-7.7-3.1-4.6-2.6-19.9-13.7-7.6-6.2-4.6-4.4-5.9-6.6-11-14.9-3-2.6-6.1-4-1.6-1.7-1.5-3.3-0.2-6.6-1.4-6.6 0.1-3.3 0.7-3.3 1.9-4.9 2.6-5 3.4-5 3.7-3.8 4.5-3.4 7.7-4.9 16.8-9.1 10.7-4.2 12.3-5.7 6.1-2 13.7-3.6 6.9-2.9 6.4-5 13.5-13.2 7.2-4.9 8.2-3.3 8.3-2.1 53.5-2.4 50.5 1.9 7.7 0.5 4.6 0.9 9.1 3.2 3.1 1.5 4.6 2.9 3 2.5 14.6 14.2 5.3 3.7 6.1 2.5 15.3 4 6.1 2.1 10.8 5.2 12.2 5 15.3 8.3 9.2 5.9 4.6 3.9 4.4 5.6 3.2 5.5 2.4 6.1 0.8 5-0.2 3.3-1.2 4.9-0.2 6.6-1.5 3.3-1.6 1.7-6.1 4-3 2.6-12.3 16.4-4.6 5.1-6.2 5.8-7.6 5.9-18.4 12.6-4.5 2.6-7.7 3.1-13.8 4.1-7.6 2.8-12.2 2.3-9.2 3.1-6.1 1.3-58.2 3.8-18.3 0zM670.2 1971.7l6.7 0.9 7.7 0.3 9.1-0.3 6.7-0.9 12.6-3.3 3.7-1.6 1.9-1.7 0.7-1.6-0.2-1.7-0.8-1.6-1.7-1.7-3-2.1-5.9-2.8-4.8-1.3-6.1-0.5-10.7 0.7-12.2-0.7-6.2 0.5-4.8 1.3-6.6 3.3-3.9 3.3-0.9 1.6-0.1 1.7 1.1 2 1.3 1.3 1.7 0.8 7.9 2.5zM1120.5 1776.3l-55.1-2.3-7.6-1.7-9.2-3.6-3.3-1.8-4.4-3.3-13.4-13.2-6.5-5-6.1-2.6-16.8-4.5-7.6-2.9-9.2-4.5-12.8-5.3-12.1-6.6-10.3-6.5-6.1-5.1-4.8-6.6-3.9-8.3-1.4-6.6 0.2-3.3 1.2-4.9 0.2-6.6 1.6-3.3 2.3-2.3 6.1-4 2.2-2 11.6-15.5 5.3-6 5.4-5.1 7.6-6.1 18.4-12.6 6.1-3.5 7.7-3 12.2-3.6 9.2-3.2 12.2-2.2 7.7-2.7 4.5-1.2 50.5-3.8 18.4-0.5M250.2 1741.5l13.8 0.7 7.6-1.4 4.8-2 5.1-3.3 2.3-3 0.4-2-0.7-1.6-1.8-1.7-3.8-1.6-5.7-1.7-9.8-2.1-12.2-0.8M1120.5 1721l-12.3 0.8-9.7 2.1-5.7 1.7-3.8 1.6-1.8 1.7-0.7 1.6 0.3 2 2.4 3 5.1 3.3 4.8 2 7.6 1.4 13.8-0.7M250.2 1590.5l18.4 0.5 50.4 3.8 4.6 1.2 7.7 2.7 12.2 2.2 9.2 3.2 12.2 3.6 7.7 3 6.1 3.5 18.3 12.6 7.7 6.1 5.3 5.1 5.4 6 11.6 15.5 2.1 2 6.2 4 2.3 2.3 1.6 3.3 0.2 6.6 1.2 4.9 0.2 3.3-1.4 6.6-3.9 8.3-4.9 6.6-6 5.1-10.3 6.5-12.1 6.6-12.8 5.3-9.2 4.5-7.6 2.9-16.9 4.5-6 2.6-6.5 5-13.5 13.2-4.4 3.3-3.2 1.8-9.2 3.6-7.6 1.7-55.1 2.3M670.8 2087.5l-16.8-1.7-26-1-9.2-0.9-6.1-1.3-10.7-3.4-13.8-3.1-10.7-4.1-7.6-0.7-3.1-0.9-4.2-2.9-8-8.2-12.3-7.8-4.6-3.5-4.5-4.4-6.5-7.5-2.7-2.5-3.1-1.6-6.1-2.1-2.8-2-3-3.3-0.9-1.7-1.2-6.6-1.8-6.6 0.5-4.9 2.4-5 5-6.6 5.7-5 9.9-6.8 15.3-8.2 15.3-6.6 6.1-1.9 7.6-1.2 18.4-1.7 4.6 0 4.6 0.8 9.1 2.7 7.7 1.4 4.6 1.3 10.7 4.3 10.7 7 4.6 2.1 3 0.9 7.7 1.2 13.7 1.1 12.3 0.3 13.7-0.3 15.3-1.2 7.7-1.5 6.1-2.6 10.7-7 12.2-4.9 10.7-2.1 10.8-3.1 4.5-0.5 3.1 0.1 19.9 1.9 6.1 1 6.1 1.9 16.8 7.3 14.3 7.7 11.5 8.3 3.3 3 3 3.6 4 6.6 1 3.3 0.1 3.3-1.7 6.6-1.3 6.6-2.2 3.3-4.4 3.7-6.1 2.1-3.1 1.6-2.7 2.5-6.5 7.5-4.6 4.4-4.6 3.5-12.2 7.8-8 8.2-4.2 2.9-3.1 0.9-7.6 0.7-10.7 4.1-15.3 3.5-10.7 3.4-6.2 1.2-10.7 0.8-22.9 0.8-24.5 2.2-10.7 0.1zM1120.5 1709.1l-19.9 0.7-9.2 0.9-6.1 1.2-6.1 2.4-12.3 7.7-10.7 4.3-12.1 2.6-10.8 3-6.1 0.4-21.4-2.1-9.2-2-16.8-7-12.3-6.4-6.8-4.1-9-6.6-5-4.9-4.5-6.7-1.4-3.3-0.6-3.3 0.4-3.3 1.5-4.9 1.2-6.6 2.2-3.3 3.9-3.3 7.4-2.8 3.1-1.9 7.6-8.6 5-4.9 5.7-4.3 10.7-6.7 3.1-2.7 6.1-6.5 4.6-2.8 3.1-0.7 7.6-0.8 10.7-4.1 12.6-2.8 11.9-3.7 6.1-1.2 9.2-0.8 24.5-1 19.8-1.8 12.3-0.5M250.2 1605.9l12.2 0.5 19.9 1.8 24.5 1 9.2 0.8 6.1 1.2 11.8 3.7 12.7 2.8 10.7 4.1 7.6 0.8 3.1 0.7 4.6 2.8 6.1 6.5 3 2.7 10.7 6.7 5.7 4.3 5 4.9 7.7 8.6 3.1 1.9 7.4 2.8 3.9 3.3 2.2 3.3 1.2 6.6 1.5 4.9 0.4 3.3-0.6 3.3-1.4 3.3-4.5 6.7-5 4.9-9 6.6-6.9 4.1-12.2 6.4-16.8 7-9.2 2-21.4 2.1-6.1-0.4-10.8-3-12.2-2.6-10.7-4.3-12.2-7.7-6.1-2.4-6.1-1.2-9.2-0.9-19.9-0.7M669.3 2074.2l-13.8-1.1-21.4-0.3-7.6-0.8-18.4-3.5-15.3-3.7-4.6-1.4-7.6-3.2-3.1-0.5-4.6-0.1-3-0.6-3.1-2.2-6.1-8-3.1-2.7-8-5-8.8-7.2-9.2-5.8-4.3-3.5-4.7-5-5.5-9.9-0.4-3.3 1.8-4.9 2.3-3.3 3.1-3.4 3.9-3.3 4.8-3.3 11.3-6.6 15.3-6.6 7.6-2.4 6.1-1 23-0.1 6.1 1.3 10.3 3.9 18.7 5.5 3.1 1.3 10.7 5.7 6.1 1.9 6.1 0.9 9.2 0.4 35.2 0.1 13.8-0.7 7.6-1.4 4.6-1.9 10.7-5.7 20.3-6.1 8.8-3.4 4.6-1.3 6.1-0.7 19.9 0.3 6.1 1 6.1 1.8 13.3 5.6 6.6 3.3 9.1 5.6 5.9 4.3 5 5 3.1 4.9 1 3.3-0.5 3.3-4.3 8.3-2.5 3.3-6.1 5.6-9.2 5.9-9.2 7.5-10.7 7-7.6 9.5-3.1 2.2-3 0.6-6.2 0.3-13.7 4.9-15.3 3.7-21.4 3.9-26 0.7-27.6 2.1-7.6-0.2zM1120.5 1701.6l-19.9 0-13.8 1.1-4.6 1.2-3 1.2-12.3 6.4-19.8 5.9-7.7 3-4.6 1.4-6.1 0.9-21.4-0.4-7.7-1.5-9.1-3.4-11.5-5-11.3-6.6-6.8-5-4.9-5-3.2-4.9-1-3.3 0.5-3.3 4.3-8.3 4.1-4.9 5.3-4.6 9.2-5.9 9.2-7.5 9.1-5.7 3.1-3.2 4.6-6.2 1.7-1.6 2.9-1.6 9.1-0.8 12.3-4.7 15.3-3.7 19.9-3.7 7.6-0.7 21.4-0.4 19.9-1.6 9.2-0.4M250.2 1618.8l9.2 0.4 19.9 1.6 21.4 0.4 7.6 0.7 19.9 3.7 15.3 3.7 12.2 4.7 9.2 0.8 2.9 1.6 1.7 1.6 4.6 6.2 3 3.2 9.2 5.7 9.2 7.5 9.2 5.9 5.2 4.6 4.2 4.9 4.3 8.3 0.5 3.3-1 3.3-3.2 4.9-5 5-6.8 5-11.2 6.6-11.5 5-9.2 3.4-7.6 1.5-21.4 0.4-6.1-0.9-4.6-1.4-7.7-3-19.9-5.9-12.2-6.4-3.1-1.2-4.6-1.2-13.7-1.1-19.9 0M675.4 2062.6l-18.4-1.7-18.3 0.1-9.2-0.9-12.2-2.6-10.7-1.5-7.7-2.5-9.2-2-7.6-3.5-3.1-0.6-4.6-0.2-3-1.4-6.1-7.2-7.7-7-15.3-11.6-6.6-3.7-2-1.6-2.3-3.3-0.7-3.3 0.6-3.3 2-3.3 2.8-3.3 3.7-3.4 4.6-3.3 5.6-3.1 13.7-6 7.7-2.1 6.1-0.7 4.6 0.2 6.1 1 10.7 0.7 9.2 3 9.2 2 7.6 2.8 7.7 2 13.7 6.2 7.7 1.7 10.7 0.6 19.9-0.4 21.4 0.4 9.2-0.4 7.6-1.4 4.6-1.7 10.7-5 7.7-2 7.6-2.8 9.2-2 9.2-3 10.7-0.7 7.6-1.1 4.6 0 6.1 1 6.1 1.7 9.2 3.8 7.5 3.7 5.1 3.3 4.1 3.3 4.6 5 1.9 3.3 0.7 3.3-0.2 1.6-0.8 2.1-2 2.9-2 1.6-6.7 3.7-15.3 11.6-6.8 6.2-5.6 6.6-1.3 1.4-1.5 1-9.2 1.2-7.7 3.5-9.1 2-7.7 2.5-10.7 1.5-15.3 3.1-7.6 0.4-16.9-0.1-24.4 2.1zM1120.5 1694.7l-21.4-0.5-12.3 0.9-6.1 1.7-12.2 5.7-7.7 2-9.2 3.2-7.6 1.6-9.2 3.1-4.6 0.6-7.6 0.3-6.1 1-4.6 0.1-7.7-1.2-7.6-2.4-9.2-4-7.6-4.2-4.9-3.4-5.2-5-3.2-5-0.7-3.3 0.8-3.3 2.5-3.5 1.7-1.4 7.4-4.3 13.8-10.4 7.7-6.8 6.1-7.3 1.5-1.3 1.5-0.6 7.7-0.8 9.1-3.9 7.7-1.6 9.2-2.9 9.1-1.2 13.8-2.8 9.2-0.8 18.3 0.1 19.9-1.9 7.7-0.3M250.2 1630.9l7.6 0.3 19.9 1.9 18.4-0.1 9.2 0.8 13.7 2.8 9.2 1.2 9.2 2.9 7.6 1.6 9.2 3.9 7.7 0.8 1.5 0.6 1.5 1.3 6.1 7.3 7.7 6.8 13.7 10.4 7.4 4.3 1.8 1.4 2.5 3.5 0.8 3.3-0.7 3.3-3.2 5-5.2 5-4.9 3.4-7.6 4.2-9.2 4-7.7 2.4-7.6 1.2-4.6-0.1-6.1-1-7.7-0.3-4.5-0.6-9.2-3.1-7.7-1.6-9.2-3.2-7.6-2-12.2-5.7-6.2-1.7-12.2-0.9-21.4 0.5M673.9 2049.6l-12.3-1.3-24.4 1-7.7-0.5-19.9-3.9-9.1-2.8-9.2-1.8-7.7-3.3-7.6-2.3-3.1-1.5-6.1-4.5-9.2-10-7.3-5.7-1.1-1.6-0.8-3.3 1.1-3.3 1.3-1.7 5.6-4.9 8.9-5.7 6.1-2.6 6.1-0.8 9.2 1.2 7.6 0.2 4.6 0.6 13.8 3.5 10.7 3.2 9.2 1.7 13.7 5.9 7.7 1.9 15.3 0.6 16.8-0.8 16.8 0.8 10.7-0.3 6.2-0.8 4.5-1.4 13.8-5.9 9.2-1.7 10.7-3.2 13.8-3.5 22.9-1.9 6.1 1.2 9.2 4.8 4.3 3 3.9 3.3 2.5 2.7 1.2 2.2 0.2 3.3-1.7 3.3-7.4 5.7-6.5 7.5-4.2 3.7-6.1 4.2-9.2 2.9-7.6 3.3-9.2 1.8-9.2 2.8-22.9 4.3-6.1 0.1-24.5-0.9-21.4 2.5-4.6-0.2zM1120.5 1686.9l-16.9-0.8-15.2 0.7-7.7 2.1-12.2 5.4-10.7 2.1-9.2 2.8-13.8 3.5-4.6 0.8-7.6 0.1-10.7 1.3-4.6-0.6-3.1-1-10.4-5.8-7.9-6.6-1.5-2.3-0.8-2.7 0.7-3.3 1.2-1.6 8-6.5 6.1-7.1 4.6-3.9 6.2-3.9 7.6-2.3 9.2-3.8 7.6-1.4 10.7-3.1 21.4-4.1 6.2-0.2 24.4 1 23-2.6M250.2 1643.1l22.9 2.6 24.5-1 6.1 0.2 21.4 4.1 10.8 3.1 7.6 1.4 9.2 3.8 7.6 2.3 6.1 3.9 4.6 3.9 6.1 7.1 8.1 6.5 1.2 1.6 0.6 3.3-0.7 2.7-1.6 2.3-7.8 6.6-10.5 5.8-3 1-4.6 0.6-10.7-1.3-7.7-0.1-4.5-0.8-13.8-3.5-9.2-2.8-10.7-2.1-12.2-5.4-7.7-2.1-15.3-0.7-16.8 0.8M678.5 2034.7l-10.8-3.1-4.5-0.5-13.8 0-3.1 0.5-7.6 2.4-4.6 0.3-18.4-2-9.3-2.8-10.5-2.4-9.2 0.7-4.6-0.8-10.8-4.1-2-1.6-1.6-3.3-0.4-6.6 0.5-3.3 0.9-1.7 4.2-4.1 1.5-1 3.1-1.2 4.6-0.1 16.8 2.2 18.4 4.5 13.7 2.5 4.8 2.2 10.5 7.6 3.1 1.1 1.5 0.1 13.8 0 10.7-1.6 4.6-0.2 13.7 0.1 12.3 1.7 15.3-0.1 3-1.1 10.5-7.6 4.8-2.2 13.8-2.5 18.4-4.5 18.3-2.3 4.6 0.7 4.1 2.5 3.2 3.3 1.2 3.3 0.1 6.6-0.8 3.3-1.1 1.7-2.1 1.7-12.3 4.4-3 0.4-9.2-0.7-10.5 2.4-9.4 2.8-18.3 2-4.6-0.3-7.7-2.4-3-0.5-13.8 0-4.6 0.5-7.6 2.4-4.6 0.9-6.1 0.2zM1120.5 1675.5l-9.2 0-12.2-1.7-15.3 0.3-3.1 1.4-9.7 7.1-4.1 1.9-16.8 3.3-15.3 3.9-18.3 2.4-3.1-0.1-3-0.9-5.2-3.9-2.2-3.3-0.6-4.9 0.1-3.3 0.9-3.3 1-1.7 1.4-1.2 10.7-4.2 3-0.9 3.1-0.2 6.1 0.8 3.1-0.2 9.7-2.3 8.6-2.6 18.4-2.1 3-0.1 3.1 0.4 9.2 2.7 13.7 0.1 6.1-0.7 9.2-2.7 7.7-0.6M250.2 1658.9l7.6 0.6 9.2 2.7 6.1 0.7 13.8-0.1 9.2-2.7 3-0.4 3.1 0.1 18.4 2.1 8.5 2.6 9.8 2.3 3.1 0.2 6.1-0.8 3 0.2 3.1 0.9 10.7 4.2 1.4 1.2 1 1.7 0.9 3.3 0.1 3.3-0.6 4.9-2.2 3.3-5.2 3.9-3 0.9-3.1 0.1-18.3-2.4-15.3-3.9-16.9-3.3-4-1.9-9.7-7.1-3.1-1.4-15.3-0.3-12.2 1.7-9.2 0M250.2 2164.8l62.7-3 7.7-1.1 10.7-3.1 12.2-1.9 7.6-2.5 12.3-3.1 9.2-5 21.4-9.5 10.7-5.9 7.6-4.9 12.3-9.5 9.1-9.2 7.7-10.3 6.6-11.7 5.4-13.3 3.3-11.4 2.2-16.6 2.8-13.3 0.6-8.2-0.1-18.2-1.2-11.6-2.8-13-3.3-8.4-4.3-5.9-6.2-5-6.1-3.2-10.7-4.1-4.6-2.7-3.5-3.9-1.7-3.3-0.3-1.7 0.2-1.6 0.7-1.2 2.2-2.1 14.7-7.8 9.1-6.8 4.6-4.5 2.7-4 1.2-3.4 0.5-3.3-0.2-3.3-0.8-3.3-2.7-4.9-5.3-4.9-4.5-2.9-4.6-2.1-15.3-4.4-15.3-1.8-10.7-1.6-12.3-0.8-12.2-2.3-3.1-1-7.6-3.6-9.2-2.9-9.2-3.6-4.5-1.3-7.8-1.5-11.9-1.7-12.5-0.9-16.8 0.9-12.2-0.5-12.3 0.5-12.2-0.5M1120.5 1857.2l-12.3 0.5-12.2-0.5-12.2 0.5-16.9-0.9-12.4 0.9-11.9 1.7-7.8 1.5-4.6 1.3-9.1 3.6-9.2 2.9-7.7 3.6-3 1-12.3 2.3-12.2 0.8-10.7 1.6-15.3 1.8-15.3 4.4-4.6 2.1-4.6 2.9-5.2 4.9-2.7 4.9-0.9 3.3-0.1 3.3 0.5 3.3 1.2 3.4 2.6 4 4.6 4.5 9.2 6.8 14.6 7.8 2.2 2.1 0.7 1.2 0.3 1.6-0.3 1.7-1.7 3.3-3.6 3.9-4.5 2.7-10.8 4.1-6.1 3.2-6.1 5-4.3 5.9-3.3 8.4-2.8 13-1.2 11.6-0.1 18.2 0.6 8.2 2.8 13.3 2.2 16.6 3.2 11.4 5.5 13.3 6.6 11.7 7.6 10.3 9.2 9.2 12.2 9.5 7.7 4.9 10.7 5.9 21.4 9.5 9.2 5 12.2 3.1 7.7 2.5 12.2 1.9 10.7 3.1 7.7 1.1 62.7 3M619.3 1836.3l13.3 0.9 16.8-0.9 12.2 0.5 12.3-0.5 10.7 0.5 13.7-0.4 10.7 0.4 12.3-0.5 16.8 0.9 16.8-1.3 12.3-2 6.1-1.4 12.2-4.6 7.7-2.3 9.1-4.2 6.2-1.6 9.1-1.5 13.8-1 9.2-1.5 10.7-1 6.1-1.1 10.7-3.1 4.6-1.8 6.1-3.4 4.6-3.8 3.4-5 1.6-4.9 0.1-3.3-0.5-3.3-2.1-5-4.1-5-7.6-6.1-6.1-3.9-12.3-6.5-1.9-1.6-1-1.7-0.3-1.6 1.1-3.3 2.1-3.3 1.6-1.7 4.6-2.9 12.2-4.9 6.1-3.3 3.1-2.3 3.1-3 3.5-5.1 2.2-4.9 1.9-6.3 2.5-13.5 0.8-10-0.1-21.4-0.7-5-2.6-11.6-2.2-16.5-2.3-8.7-3-8.5-4.6-10.1-6.1-10.4-6.2-8.2-7.6-8-6.1-5.3-6.1-4.7-12.3-7.8-12.2-6.5-16.8-7.3-7.7-4.2-4.6-1.9-9.2-2.1-9.1-2.9-12.3-1.9-9.1-2.7-6.2-1.1-10.7-0.8-55-2.4-53.6 2.4-10.7 0.8-6.1 1.1-9.2 2.7-12.2 1.9-9.2 2.9-9.2 2.1-4.5 1.9-7.7 4.2-18.3 8-13.8 7.6-13.8 9.4-6.1 5.2-5.9 5.8-7.9 9.6-6.1 9.7-6.1 13-4.2 12.3-1.8 8.2-1.5 13.2-2.6 11.6-0.7 5 0.1 26.4 1.5 11.4 1.9 8.4 2.7 7.9 3.1 5.2 4.6 4.9 4.6 3.3 6.1 3 9.9 3.8 3.8 2.1 1.6 1.2 2.7 3.3 1.7 3.3 0.4 1.7-0.3 1.6-1 1.7-1.9 1.6-12.3 6.5-4.6 2.8-7.7 5.9-4.4 4.6-2 3.3-1.6 5 0 5 1.5 4.9 3.5 4.9 4.6 3.9 6.1 3.4 9.2 3.2 7.6 2 4.6 0.8 10.7 1 10.7 1.7 13.8 1 7.6 1.3 6.1 1.6 9.2 4.2 7.7 2.3 12.2 4.6 9.2 2zM250.2 2125.4l26-0.9 38.2-2.9 6.2-0.9 9.1-3 12.3-2.3 9.1-3 9.2-2 3.1-1.1 29-15.8 10.7-6.9 9-7.5 9.6-9.9 9.1-11.6 3.8-6.6 4-11.5 2.3-3.4 6.7-6.6 2-3.3 0.7-3.3-0.2-6.6 1-8.2-0.2-3.3-1.2-5-4.1-9.9-4.1-6.6-6.2-6.8-7.7-6.1-10.7-6-10.7-5.3-13.8-5.1-4.5-2.2-3.1-2.1-3-2.8-2.3-3.3-1.6-3.3-0.9-3.3 0-1.6 1.5-3.3 1.6-1.7 10.8-7.3 18.4-10.8 4.8-3.4 1.8-1.6 0.8-1.7-0.1-1.6-1.2-1.7-2.4-1.6-8-3.3-6.4-1.8-21.5-2.9-12.2-0.6-6.1 0.4-15.3 2.3-15.3 3-21.4 3.6-15.3 2-21.4 1.2-19.9 0M1120.5 1904.6l-19.9 0-21.4-1.2-15.3-2-21.4-3.6-15.3-3-15.3-2.3-6.1-0.4-12.3 0.6-21.4 2.9-6.4 1.8-8.1 3.3-2.3 1.6-1.2 1.7-0.1 1.6 0.8 1.7 1.8 1.6 4.8 3.4 18.4 10.8 10.8 7.3 1.6 1.7 1.5 3.3 0 1.6-0.9 3.3-1.6 3.3-2.3 3.3-3 2.8-3.1 2.1-4.6 2.2-13.7 5.1-10.7 5.3-10.7 6-7.7 6.1-6.2 6.8-4.1 6.6-4.2 9.9-1.1 5-0.3 3.3 1 8.2-0.1 6.6 0.6 3.3 2.1 3.3 6.6 6.6 2.3 3.4 4.1 11.5 3.7 6.6 9.2 11.6 9.6 9.9 8.9 7.5 10.7 6.9 29.1 15.8 3.1 1.1 9.1 2 9.2 3 12.2 2.3 9.2 3 6.1 0.9 38.3 2.9 26 0.9M561.2 1801.6l8.7 0.4 6.1-0.4 18.3-2.8 13.8-2.8 24.5-4 13.7-1.6 19.9-1 38.3 0 21.4 1.1 15.3 1.9 21.4 3.6 16.8 3.3 19.9 2.6 12.2-0.5 19.9-2.6 4.6-0.9 8.6-2.9 3.6-1.7 2.3-1.6 1.2-1.7 0.1-1.6-0.8-1.7-1.8-1.6-4.8-3.4-17.6-10.4-11.6-7.7-2.6-3.3-0.4-1.7 0.2-3.3 1.4-3.3 1.9-3.3 2.8-3.3 2.1-1.6 6.2-3.5 15.3-5.7 16.8-8.7 4.6-2.8 4.6-3.5 7.7-7.8 3.1-4.4 2.7-4.9 2.7-6.7 1.4-4.9 0.6-5-1-8.2 0.1-6.6-0.6-3.3-2.1-3.3-6.6-6.6-2.3-3.4-4.2-11.6-1.6-3.2-3.2-5-10.5-12.6-6.1-6.2-6.1-5.5-6.1-4.6-7.7-4.8-29-16-4.6-1.5-9.2-2.1-7.6-2.6-10.7-1.9-10.7-3.4-6.2-1-45.8-3.4-13.8-0.4-15.3 0.1-18.4 0.9-39.7 3.2-4.6 1-7.7 2.6-12.2 2.3-9.2 3-10.7 2.6-24.5 13.1-13.7 8.3-5.6 4.1-5.1 4.5-10.1 10.4-6.8 8.3-4.5 6.6-2.3 4.9-2.6 8.3-1.8 3.3-2.8 3.3-5.2 5-2 3.3-0.6 3.3 0.1 6.6-0.9 6.6 0 3.3 0.8 4.9 3.8 10 4.3 7.3 6.7 7.5 7.1 5.8 9.1 5.3 12.3 6.2 15.3 5.7 6.1 3.4 2.1 1.7 2.9 3.3 1.9 3.3 1.4 3.3 0.2 3.3-0.5 1.7-2.5 3.3-11.6 7.7-12.4 7.1-10.1 6.7-2 2.1-0.6 1.2 0.2 1.6 1.2 1.7 2.3 1.6 3.6 1.7 8.6 2.9 4.6 0.9zM250.2 2103.5l18.4-0.5 50.4-3.8 4.6-1.2 7.7-2.7 12.2-2.2 9.2-3.2 12.2-3.6 7.7-3 6.1-3.5 18.3-12.6 7.7-6.1 5.3-5.1 5.4-6 11.6-15.5 2.1-2 6.2-4 2.3-2.3 1.6-3.3 0.2-6.6 1.2-4.9 0.2-3.3-1.4-6.6-3.9-8.3-4.9-6.6-6-5.1-10.3-6.5-12.1-6.6-12.8-5.3-9.2-4.5-7.6-2.9-16.9-4.5-6-2.6-6.5-5-13.5-13.2-4.4-3.3-3.2-1.8-9.2-3.6-7.6-1.7-55.1-2.3M1120.5 1973l-12.3-0.8-9.7-2.1-5.7-1.7-3.8-1.6-1.8-1.7-0.7-1.6 0.3-2 2.4-3 5.1-3.3 4.8-2 7.6-1.4 13.8 0.7M250.2 1952.5l13.8-0.7 7.6 1.4 4.8 2 5.1 3.3 2.3 3 0.4 2-0.7 1.6-1.8 1.7-3.8 1.6-5.7 1.7-9.8 2.1-12.2 0.8M1120.5 1917.7l-55.1 2.3-7.6 1.7-9.2 3.6-3.3 1.8-4.4 3.3-13.4 13.2-6.5 5-6.1 2.6-16.8 4.5-7.6 2.9-9.2 4.5-12.8 5.3-12.1 6.6-10.3 6.5-6.1 5.1-4.8 6.6-3.9 8.3-1.4 6.6 0.2 3.3 1.2 4.9 0.2 6.6 1.6 3.3 2.3 2.3 6.1 4 2.2 2 11.6 15.5 5.3 6 5.4 5.1 7.6 6.1 18.4 12.6 6.1 3.5 7.7 3 12.2 3.6 9.2 3.2 12.2 2.2 7.7 2.7 4.5 1.2 50.5 3.8 18.4 0.5M657.9 1775.1l28.2 1.2 50.5-2 4.6-0.4 4.6-0.9 8.2-2.8 3.7-1.7 7.2-4.9 13.5-13.2 6.4-5 6.8-2.9 13.8-3.6 6.1-2 12.3-5.7 10.7-4.2 16.8-9.1 7.6-4.9 4.6-3.4 3.7-3.8 4-6 2.7-5.6 1.6-5 0.4-4.9-1.4-6.6 0-5-0.7-3.3-2.6-3.3-6.1-4-3-2.6-11-14.9-5.9-6.6-4.6-4.4-7.7-6.2-20.6-14.1-5.4-2.9-7.6-3-10.7-3-9.2-3.3-13.8-2.6-10.7-3.6-6.1-0.8-44.3-3-16.9-0.6-18.3 0.4-47.4 3.2-7.7 1.2-9.2 3.2-13.7 2.6-7.7 2.8-13.7 4.1-7.7 3.1-4.6 2.6-18.3 12.6-7.7 5.9-6.1 5.8-4.6 5.1-12.3 16.4-3 2.6-6.1 4-1.6 1.7-1.5 3.3-0.2 6.6-1.2 4.9-0.3 3.3 1.4 6.6 3.4 7.3 4.6 6.7 4.6 4.3 10.7 7.1 12.2 6.8 5.2 2.5 10.1 4 12.3 5.7 6.1 2 13.7 3.6 6.9 2.9 6.4 5 14.3 13.8 3.6 2.7 4 2.2 9.2 3.4 6.1 1.4zM670.8 1742.1l-6.1-1.1-5.6-2.2-5.1-3.3-1.6-1.7-0.9-1.6-0.1-1.7 0.6-1.6 1.8-1.7 3.9-1.6 10-2.8 6.2-1.1 9.1-0.6 7.7 0.1 7.6 0.7 9 2 7.9 2.5 1.6 0.8 1.4 1.3 1.1 2-0.2 1.7-0.8 1.6-3.9 3.3-5.4 2.8-4.5 1.5-6.2 0.8-12.2-0.7zM250.2 2088.1l12.2-0.5 19.9-1.8 24.5-1 9.2-0.8 6.1-1.2 11.8-3.7 12.7-2.8 10.7-4.1 7.6-0.8 3.1-0.7 4.6-2.8 6.1-6.5 3-2.7 10.7-6.7 5.7-4.3 5-4.9 7.7-8.6 3.1-1.9 7.4-2.8 3.9-3.3 2.2-3.3 1.2-6.6 1.5-4.9 0.4-3.3-0.6-3.3-1.4-3.3-4.5-6.7-5-4.9-9-6.6-6.9-4.1-12.2-6.4-16.8-7-9.2-2-21.4-2.1-6.1 0.4-10.8 3-12.2 2.6-10.7 4.3-12.2 7.7-6.1 2.4-6.1 1.2-9.2 0.9-19.9 0.7M1120.5 1984.9l-19.9-0.7-9.2-0.9-6.1-1.2-6.1-2.4-12.3-7.7-10.7-4.3-12.1-2.6-10.8-3-6.1-0.4-21.4 2.1-9.2 2-16.8 7-12.3 6.4-6.8 4.1-9 6.6-5 4.9-4.5 6.7-1.4 3.3-0.6 3.3 0.4 3.3 1.5 4.9 1.2 6.6 2.2 3.3 3.9 3.3 7.4 2.8 3.1 1.9 7.6 8.6 5 4.9 5.7 4.3 10.7 6.7 3.1 2.7 6.1 6.5 4.6 2.8 3.1 0.7 7.6 0.8 10.7 4.1 12.6 2.8 11.9 3.7 6.1 1.2 9.2 0.8 24.5 1 19.8 1.8 12.3 0.5M591.1 1732.2l3.2 0.1 4.6-0.5 10.7-3.1 10.7-2.1 12.3-4.9 10.7-7 4.6-2.1 3-0.9 5.6-1 9.7-0.9 16.8-0.7 19.9 0.6 10.7 0.9 6.2 1.1 3 0.9 4.6 2.1 10.7 7 10.7 4.3 4.6 1.3 7.6 1.4 10.8 3.1 6.1 0.5 24.4-2.4 7.7-1.9 18.3-7.9 12.3-6.6 7.6-5 7.8-6 5.6-6.7 2-3.3 1.4-3.3 0.5-4.9-1.7-6.6-1.3-6.6-0.9-1.7-2.7-3-3-2.3-6.1-2.1-3.1-1.6-2.7-2.5-6.5-7.5-4.6-4.4-4.6-3.5-10.7-6.6-3-2.5-7.7-7.9-4.6-2.5-9.1-1-12.3-4.5-12.2-2.7-13.8-4.2-9.1-1.2-27.6-1.1-21.4-2-12.2-0.4-10.7 0.4-21.4 2-26 1-9.2 1-15.3 4.5-13.8 3.1-10.7 4.1-7.6 0.7-4.6 1.7-3.1 2.4-7.6 7.9-12.3 7.8-4.9 3.8-4.2 4.1-6.5 7.5-2.7 2.5-3.1 1.6-6.1 2.1-3.1 2.3-2.7 3-0.9 1.7-1.2 6.6-1.5 4.9-0.3 3.3 0.5 3.3 2.4 5 3.6 5 3.1 3.3 3.2 2.6 12.2 8.4 12.2 6.6 19.9 8.4 7.7 1.6zM250.2 2075.2l9.2-0.4 19.9-1.6 21.4-0.4 7.6-0.7 19.9-3.7 15.3-3.7 12.2-4.7 9.2-0.8 2.9-1.6 1.7-1.6 4.6-6.2 3-3.2 9.2-5.7 9.2-7.5 9.2-5.9 5.2-4.6 4.2-4.9 4.3-8.3 0.5-3.3-1-3.3-3.2-4.9-5-5-6.8-5-11.2-6.6-11.5-5-9.2-3.4-7.6-1.5-21.4-0.4-6.1 0.9-4.6 1.4-7.7 3-19.9 5.9-12.2 6.4-3.1 1.2-4.6 1.2-13.7 1.1-19.9 0M1120.5 1992.4l-19.9 0-13.8-1.1-4.6-1.2-3-1.2-12.3-6.4-19.8-5.9-7.7-3-4.6-1.4-6.1-0.9-21.4 0.4-7.7 1.5-9.1 3.4-11.5 5-11.3 6.6-6.8 5-4.9 5-3.2 4.9-1 3.3 0.5 3.3 4.3 8.3 4.1 4.9 5.3 4.6 9.2 5.9 9.2 7.5 9.1 5.7 3.1 3.2 4.6 6.2 1.7 1.6 2.9 1.6 9.1 0.8 12.3 4.7 15.3 3.7 19.9 3.7 7.6 0.7 21.4 0.4 19.9 1.6 9.2 0.4M572.1 1722.3l20.7 0.4 6.1-0.7 4.6-1.3 8.8-3.4 20.3-6.1 10.7-5.7 4.6-1.9 4.6-1 4.5-0.6 15.3-0.5 30.6 0 15.3 1.1 4.6 1 3.1 1.2 10.7 5.7 3 1.3 18.8 5.5 11.8 4.3 7.7 1.1 21.4-0.5 7.6-1.6 12.6-4.9 8.8-4.1 10.7-6.5 5.9-4.3 5-5 3.1-4.9 1-3.3 0-1.7-0.5-1.6-4.3-8.3-2.5-3.3-3.4-3.3-4.3-3.5-9.1-5.8-8.8-7.2-8.1-5-3-2.7-6.1-8-1.6-1.3-3-1.3-7.7-0.5-3-0.9-8.5-3.4-14.5-3.6-18.3-3.7-7.7-1.1-24.4-0.5-21.5-1.8-9.1-0.3-29.1 2.1-19.9 0.3-7.6 0.6-19.9 3.7-15.3 3.7-13.8 4.9-6.1 0.3-3 0.6-3.1 2.2-7.6 9.5-10.8 7-9.1 7.5-9.2 5.9-6.1 5.6-2.5 3.3-4.4 8.3-0.4 3.3 1.8 4.9 2.3 3.3 3.1 3.4 7.7 5.9 13.8 8 16.8 7 4.6 1.3zM250.2 2063.1l7.6-0.3 19.9-1.9 18.4 0.1 9.2-0.8 13.7-2.8 9.2-1.2 9.2-2.9 7.6-1.6 9.2-3.9 7.7-0.8 1.5-0.6 1.5-1.3 6.1-7.3 7.7-6.8 13.7-10.4 7.4-4.3 1.8-1.4 2.5-3.5 0.8-3.3-0.7-3.3-3.2-5-5.2-5-4.9-3.4-7.6-4.2-9.2-4-7.7-2.4-7.6-1.2-4.6 0.1-6.1 1-7.7 0.3-4.5 0.6-9.2 3.1-7.7 1.6-9.2 3.2-7.6 2-12.2 5.7-6.2 1.7-12.2 0.9-21.4-0.5M1120.5 1999.3l-21.4 0.5-12.3-0.9-6.1-1.7-12.2-5.7-7.7-2-9.2-3.2-7.6-1.6-9.2-3.1-4.6-0.6-7.6-0.3-6.1-1-4.6-0.1-7.7 1.2-7.6 2.4-9.2 4-7.6 4.2-4.9 3.4-5.2 5-3.2 5-0.7 3.3 0.8 3.3 2.5 3.5 1.7 1.4 7.4 4.3 13.8 10.4 7.7 6.8 6.1 7.3 1.5 1.3 1.5 0.6 7.7 0.8 9.1 3.9 7.7 1.6 9.2 2.9 9.1 1.2 13.8 2.8 9.2 0.8 18.3-0.1 19.9 1.9 7.7 0.3M573.5 1714l7.1 0.3 7.6-1.1 10.7-0.7 9.2-3 9.2-2 7.6-2.8 7.7-2 12.2-5.6 7.7-2.1 12.2-0.8 21.4 0.4 16.8-0.4 12.3 0.4 7.6 1.4 4.6 1.7 10.7 5 7.7 2 7.6 2.8 9.2 2 9.2 3 10.7 0.7 7.6 1.1 6.1-0.1 6.1-1.2 7-2.3 9.9-4.3 7.1-3.9 4.6-3.3 5.2-5 3.2-5 0.7-3.3-0.8-3.3-2.2-3.3-2-1.6-6.7-3.7-15.3-11.6-7.6-7-6.4-7.5-2.8-1.1-4.6-0.2-3-0.6-7.7-3.5-9.1-2-7.7-2.5-10.7-1.5-10.7-2.4-6.1-0.8-6.1-0.3-16.9 0.1-24.4-2.1-10.7 0.1-23 2.1-15.3-0.2-6.1 0.3-6.1 0.8-10.7 2.4-9.2 1.1-9.2 2.9-9.2 2-7.6 3.5-9.2 1.2-1.5 1-1.4 1.4-5.5 6.6-6.9 6.2-15.3 11.6-6.6 3.7-3.3 3.3-1.5 3.3-0.2 1.6 0.6 3.3 3.3 5 5.2 5 7.3 4.9 10.2 5 8.9 3.3zM250.2 2050.9l22.9-2.6 24.5 1 6.1-0.2 21.4-4.1 10.8-3.1 7.6-1.4 9.2-3.8 7.6-2.3 6.1-3.9 4.6-3.9 6.1-7.1 8.1-6.5 1.2-1.6 0.6-3.3-0.7-2.7-1.6-2.3-7.8-6.6-10.5-5.8-3-1-4.6-0.6-10.7 1.3-7.7 0.1-4.5 0.8-13.8 3.5-9.2 2.8-10.7 2.1-12.2 5.4-7.7 2.1-15.3 0.7-16.8-0.8M1120.5 2007.1l-16.9 0.8-15.2-0.7-7.7-2.1-12.2-5.4-10.7-2.1-9.2-2.8-13.8-3.5-4.6-0.8-7.6-0.1-10.7-1.3-4.6 0.6-3.1 1-10.4 5.8-7.9 6.6-1.5 2.3-0.8 2.7 0.7 3.3 1.2 1.6 8 6.5 6.1 7.1 4.6 3.9 6.2 3.9 7.6 2.3 9.2 3.8 7.6 1.4 10.7 3.1 21.4 4.1 6.2 0.2 24.4-1 23 2.6M571.3 1704.1l6.2 0.8 9.2-1.2 7.6-0.2 4.6-0.6 13.8-3.5 10.7-3.2 9.2-1.7 13.7-5.9 7.7-1.9 15.3-0.6 16.8 0.8 16.8-0.8 10.7 0.3 6.2 0.8 4.5 1.4 13.8 5.9 9.2 1.7 10.7 3.2 13.8 3.5 22.9 1.9 4.6-0.7 3-1.1 9.7-5.5 7.9-6.6 1.2-1.7 1.1-3.3-0.8-3.3-1-1.6-7.4-5.7-9.1-10-6.1-4.5-3.1-1.5-7.7-2.3-7.6-3.3-9.2-1.8-9.2-2.8-19.8-3.9-4.6-0.5-29.1 0.9-18.3-2.3-4.6-0.2-21.4 2.5-24.5-0.9-6.1 0.1-23 4.3-9.1 2.8-7.7 1.4-3.1 1-6.1 2.7-9.2 2.9-3 1.9-4.6 3.5-9.2 10-7.3 5.7-1.1 1.6-0.8 3.3 1.1 3.3 1.3 1.7 3.6 3.3 4.8 3.6 7.6 4.5zM250.2 2035.1l7.6-0.6 9.2-2.7 6.1-0.7 13.8 0.1 9.2 2.7 3 0.4 3.1-0.1 18.4-2.1 8.5-2.6 9.8-2.3 3.1-0.2 6.1 0.8 3-0.2 3.1-0.9 10.7-4.2 1.4-1.2 1-1.7 0.9-3.3 0.1-3.3-0.6-4.9-2.2-3.3-5.2-3.9-3-0.9-3.1-0.1-18.3 2.4-15.3 3.9-16.9 3.3-4 1.9-9.7 7.1-3.1 1.4-15.3 0.3-12.2-1.7-9.2 0M1120.5 2018.5l-9.2 0-12.2 1.7-15.3-0.3-3.1-1.4-9.7-7.1-4.1-1.9-16.8-3.3-15.3-3.9-18.3-2.4-3.1 0.1-3 0.9-5.2 3.9-2.2 3.3-0.6 4.9 0.1 3.3 0.9 3.3 1 1.7 1.4 1.2 10.7 4.2 3 0.9 3.1 0.2 6.1-0.8 3.1 0.2 9.7 2.3 8.6 2.6 18.4 2.1 3 0.1 3.1-0.4 9.2-2.7 13.7-0.1 6.1 0.7 9.2 2.7 7.7 0.6M574.2 1692.5l3.3 1.4 3.1 0.2 16.8-2 21.4-5.1 12.2-2.2 4.8-2.2 10.5-7.6 3.1-1.1 1.5-0.1 13.8 0 10.7 1.6 4.6 0.2 13.7-0.1 12.3-1.7 15.3 0.1 3 1.1 10.5 7.6 4.8 2.2 13.8 2.5 18.4 4.5 18.3 2.3 4.6-0.7 3.1-1.7 2.8-2.5 2.2-3.3 0.6-3.3 0-3.3-0.9-4.9-1.7-2.3-1.5-1.1-10.7-4-4.6-0.8-9.2 0.7-10.5-2.4-7.8-2.5-4.6-0.7-16.9-1.6-4.5 0.6-6.2 2.1-3 0.5-13.8 0-4.6-0.5-10.7-3.1-7.6-0.4-7.7 0.7-10.7 3.1-15.3 0.2-4.6-0.5-7.6-2.4-4.6-0.3-18.4 2-9.3 2.8-10.5 2.4-9.2-0.7-3.1 0.4-12.2 4.4-2.1 1.7-1.6 3.3-0.4 3.3 0.1 5 0.9 2.7 1.6 2z"/><path d="M250.2 1400H1119.8V2294H250.2z" fill="none" stroke="#222" stroke-width="1.4"/><text x="241.0" y="2362.1" font-size="52" text-anchor="end" >-150</text><text x="241.0" y="2196.6" font-size="52" text-anchor="end" >-100</text><text x="241.0" y="2031.1" font-size="52" text-anchor="end" >-50</text><text x="241.0" y="1865.6" font-size="52" text-anchor="end" >0</text><text x="241.0" y="1700.1" font-size="52" text-anchor="end" >50</text><text x="241.0" y="1534.6" font-size="52" text-anchor="end" >100</text><text x="241.0" y="1369.1" font-size="52" text-anchor="end" >150</text><text x="250.2" y="2400.2" font-size="52" text-anchor="middle" >0</text><text x="404.1" y="2400.2" font-size="52" text-anchor="middle" >50</text><text x="558.0" y="2400.2" font-size="52" text-anchor="middle" >100</text><text x="711.9" y="2400.2" font-size="52" text-anchor="middle" >150</text><text x="865.8" y="2400.2" font-size="52" text-anchor="middle" >200</text><text x="1019.7" y="2400.2" font-size="52" text-anchor="middle" >250</text><text x="1173.6" y="2400.2" font-size="52" text-anchor="middle" >300</text><text x="710.6" y="2452.9" font-size="51.5" text-anchor="middle" >arc length [mm]</text><text transform="translate(113.7,1848.6) rotate(-90)" font-size="51.5" text-anchor="middle">z [mm]</text><linearGradient id="cbb" x1="0" y1="0" x2="0" y2="1"><stop offset="0.0000" stop-color="#800000"/><stop offset="0.0312" stop-color="#9f0000"/><stop offset="0.0625" stop-color="#bf0000"/><stop offset="0.0938" stop-color="#df0000"/><stop offset="0.1250" stop-color="#ff0000"/><stop offset="0.1562" stop-color="#ff2000"/><stop offset="0.1875" stop-color="#ff4000"/><stop offset="0.2188" stop-color="#ff6000"/><stop offset="0.2500" stop-color="#ff8000"/><stop offset="0.2812" stop-color="#ff9f00"/><stop offset="0.3125" stop-color="#ffbf00"/><stop offset="0.3438" stop-color="#ffdf00"/><stop offset="0.3750" stop-color="#ffff00"/><stop offset="0.4062" stop-color="#dfff20"/><stop offset="0.4375" stop-color="#bfff40"/><stop offset="0.4688" stop-color="#9fff60"/><stop offset="0.5000" stop-color="#80ff80"/><stop offset="0.5312" stop-color="#60ff9f"/><stop offset="0.5625" stop-color="#40ffbf"/><stop offset="0.5938" stop-color="#20ffdf"/><stop offset="0.6250" stop-color="#00ffff"/><stop offset="0.6562" stop-color="#00dfff"/><stop offset="0.6875" stop-color="#00bfff"/><stop offset="0.7188" stop-color="#009fff"/><stop offset="0.7500" stop-color="#0080ff"/><stop offset="0.7812" stop-color="#0060ff"/><stop offset="0.8125" stop-color="#0040ff"/><stop offset="0.8438" stop-color="#0020ff"/><stop offset="0.8750" stop-color="#0000ff"/><stop offset="0.9062" stop-color="#0000df"/><stop offset="0.9375" stop-color="#0000bf"/><stop offset="0.9688" stop-color="#00009f"/><stop offset="1.0000" stop-color="#000080"/></linearGradient><rect x="1225.3" y="1349.4" width="43.4" height="994.1" fill="url(#cbb)" stroke="#222" stroke-width="1"/><path d="M1225.3 2180.0h7M1268.7 2180.0h-7" stroke="#111" stroke-width="1.3"/><text x="1276.7" y="2198.6" font-size="52" text-anchor="start" >-20</text><path d="M1225.3 2013.2h7M1268.7 2013.2h-7" stroke="#111" stroke-width="1.3"/><text x="1276.7" y="2031.8" font-size="52" text-anchor="start" >-10</text><path d="M1225.3 1846.5h7M1268.7 1846.5h-7" stroke="#111" stroke-width="1.3"/><text x="1276.7" y="1865.0" font-size="52" text-anchor="start" >0</text><path d="M1225.3 1679.7h7M1268.7 1679.7h-7" stroke="#111" stroke-width="1.3"/><text x="1276.7" y="1698.3" font-size="52" text-anchor="start" >10</text><path d="M1225.3 1512.9h7M1268.7 1512.9h-7" stroke="#111" stroke-width="1.3"/><text x="1276.7" y="1531.5" font-size="52" text-anchor="start" >20</text><text x="71.0" y="1322.7" font-size="100" text-anchor="start" font-weight="bold">b</text><text class="t" font-family="Liberation Serif, serif" font-size="74" y="1321.6"><tspan x="1214.6" y="1319.2" font-size="75" font-style="italic">ψ</tspan><tspan font-size="40"> </tspan><tspan x="1281.7" y="1325.6" font-size="84">[</tspan><tspan x="1300.7" y="1321.6" font-size="70">A</tspan><tspan x="1343.7" y="1325.6" font-size="84">]</tspan></text><g fill="none" stroke-width="5.6" stroke-linejoin="round" stroke-linecap="round"><path d="M926.4 2957.6l-22.3-14.2-19.1-15.8-17-16.2-12.6-13.7-11.9-14.7-5.3-9.7-3.4-10.3-4.4-21-5.1-38.3-3.6-34.1-1.7-31.5 5.2-36.1 5-22.5 9.1-31.9 2.1-3.2 3.2-1.5 20.2-0.4 9.6 1.5 10.6 2.7 7.4 2.7 9.6 4.5 19.1 12.1 18.1 14.7 21.3 22.4 22.3 28.9 4.2 7.2 2.2 6.1 8.7 42 4.8 27.4 5.8 46.2-1.7 29.2-3.4 28.2-4.3 27.5-3.3 14.6-2.6 7.3-3 4.7-3.1 2.2-5.7 0.7-12.4-1.6-14.4-3.7-15.4-6.1zM929.3 2920.1l-17.7-10.7-12.8-9.3-15.9-15.2-10.7-11.8-9.5-12.8-8.5-14.3-8.5-17.5-6.4-17.1-4.6-28.9-2.4-34.9 0.3-5.9 3.1-19.2 4.4-13.8 4.5-6.8 3.3-3.3 4.1-2.8 10.7-4.4 7.4-1.5 7.5-0.1 8.5 1.2 9.5 2.8 7.5 3 7.4 4.2 10.6 7.1 8.5 6.9 9.6 9.3 8.5 9.4 8.5 10.7 7.5 10.8 14.8 25.7 5.4 11.8 4.2 11.7 4.4 18.8 3.7 29.7-1 20.6-1.6 14.1-3.3 17.6-1.7 5-3.7 5.4-6.4 5.9-7.4 4.3-6.4 1.9-7 0.2-7.9-1.1zM925.5 2891.8l-5.4-2.3-11.7-7.7-4.3-3.5-4.2-4.8-11.7-21.3-17-20.4-5.3-7.7-10.7-19-6-14.6-3.5-15.3-1.9-15.5 0.2-4.4 2.9-13.3 3-7.4 5.9-8.1 6.4-4.9 7.9-3.6 6.4-1.4 7.4-0.3 7.5 0.9 6.4 1.9 7.4 3.3 8.5 4.9 8.5 6 8.5 7.3 13.8 15.1 13.9 19.7 12.3 23 8 20.3 3 12 3 19.3-0.8 8.6-1.6 8-1.9 6.3-2.5 4.5-5.7 5.3-10.7 4.8-4.2 0.4-11.7-1.8-4.3-0.1-4.2 1.2-6.4 4.6zM934.8 2852.3l-5.2-2.8-30.8-20-13.8-11-8.5-8.9-8.5-13.4-3.5-7.9-2.2-7.5-2.4-12.1-0.1-6.2 1.6-6.5 4-8 4.1-4.9 5.6-4 4.2-1.8 4.6-1.1 5.4-0.4 5.3 0.4 9.5 3.1 11.7 6.8 10.7 8.2 9.5 10 10.7 14.6 7.9 13.5 7.7 17.2 5.6 18.8 0.8 9.6-2.5 10.5-2.3 4.6-2.4 2.6-3.1 1.7-5.4 1.3-6.3-0.8zM931.8 2836.7l-9.6-4.8-22.3-15.2-11.7-11.4-7.5-10-2.9-5.9-2.1-5.9-1.8-11.8 1.5-5.1 2.9-5.7 2.5-2.9 3.2-2.5 5.3-2 7.2-0.4 6.6 1.4 6.3 3 10.7 7 6.4 5.6 7.9 9.1 7.4 10.9 5.9 11.5 4.3 11.9 2.6 10.8-0.7 5.6-2.4 6-1.8 1.9-2.5 1.4-2.7 0.4-4.1-0.3zM921.7 2818l-12.3-7.6-4.2-3.6-7.2-10.3-3.7-6.9-1.8-4.3-0.2-3.1 4.8-6 3.8-2.9 3.2-0.8 3.2 0.8 12.8 8.1 5.3 5.8 5 9.2 5.8 14.3-0.2 3-2.9 2.7-2.6 1.3-5.1 1z" stroke="#d6d4d0"/><path d="M920.1 3267.6l9.5 5.3 9.6 4.1 10.6 3.2 11.7 2.2 8.5 0.5 13.9-0.6 3.2-1.5 2.5-4.4 8.6-30.8 4.5-19.8 5.8-38.7-1.7-31.5-3.4-32.5-5.1-38.2-3.8-19.5-2.5-8.9-3.5-8.4-3.6-5.9-6.4-8.2-12-13.8-14.5-14.9-13.8-12.4-14.9-12-18.1-11.7-14.9-7.4-11.7-4.9-9.5-3.1-10.6-2.5-10.7-1.4-5.3 0.4-3.6 1.9-3 4.1-3.2 8.5-2.6 10.5-4.8 30.2-3.3 26.7-2 30.5 5.7 47.8 4.5 25.7 8.7 42 2.5 7.7 4.3 7.2 17 22.5 10.6 12.4 12.8 13.4 9.5 8.7 10.7 8.4zM924.3 3227.8l9.6 4 9.6 2.6 8.5 1.1 8.5-0.5 7.4-1.9 9.6-4.3 5.3-4.4 4.4-5.7 2.6-5.9 2.6-8 3.8-25.7-2.2-34.9-4.8-30.4-4.3-12.1-5.3-12.1-6.4-12.4-7.4-12.3-6.4-8.8-8.5-10.2-19.1-19-14.9-11.2-13.8-8.5-6.4-3.2-13.8-4.6-7.5-1.6-8.5-0.6-6.4 1-5.3 2.1-5.3 3.3-4.2 3.7-4.3 5-2.5 5.1-3.4 16-2.2 18.3-1 22.1 3.6 28.1 4.2 17.9 5.6 15.2 7.4 15.3 11.7 19.7 10.6 14.9 11.7 13.7 12.8 12.5 9.5 7.5zM922.2 3202.2l7.4 3.5 7.5 2.2 6.4 0.9 7.4-0.1 6.4-1.2 6.5-2.5 5.9-3.8 4.6-4.5 3.7-5.2 2.7-5.6 4-17.4-0.4-7.8-1.5-10.7-4.2-17.3-6.4-14.8-10.7-18.6-4.2-5.9-16-18.9-4.2-6.8-6.7-13.4-3.9-5.2-4.3-4.2-14.9-9.8-6.4-2-3.1 0.2-5.4 4.1-4.2 1.6-5.3 0.1-11.7-1.9-5.3 0.8-8.5 3.8-5.4 4.2-3.9 6.2-2.4 8.4-1.5 8.8-0.4 7.3 3.1 18.8 3.5 12.9 5.9 15.2 7.1 14.5 8.8 15 9.6 13.6 9.6 11.5 9.5 9.3 10.7 8.2zM926.5 3186.8l5.3 1.7 5.3 0.8 10.6-1 4.3-1.6 4.9-2.9 3.8-3.6 3-4.1 4.2-9.4 0.8-8.6-3-15.6-4.2-11.4-6.3-11-6.4-8.4-5.3-5.1-13.9-10.9-31.8-20.7-12.8-6.5-7.4-2.1-4.3 0.4-4.2 1.4-3.8 2.8-2.5 4.4-2.7 9-0.4 5.7 0.9 6.7 2.9 11 3.4 9.8 4.7 10.6 11 19.4 7.7 10.6 6.4 7.4 6.4 6.2 7.4 5.8 8.5 5.4zM924.3 3170.3l7.6 1.8 8.4-0.6 6.4-3.4 4.1-5 3.2-7 0.6-4.1-1.9-10.3-4.1-10.4-4.1-6.3-6.3-7.5-8.6-8.1-8.5-6.4-15.9-10.4-7.4-3.8-10.7-3.1-4.1-0.1-3.1 1-2.3 1.9-1.9 3-1.8 9.4 4.4 16.6 5.7 12.8 7.9 12.7 10.1 12.1 8.5 7.1 9.6 6.1zM922.2 3152.3l3.2 0.3 2.8-1.1 3.2-2.5 4.8-6-0.2-3.2-4.1-8.7-8.6-12.7-4.3-3.6-8.5-5.6-3.2-1.8-3.2-0.9-7.5 1.6-4.1 3.4-0.2 2.9 4.8 12.2 4.4 9 3.7 5.1 3.2 3z" stroke="#505050"/></g><clipPath id="clipc"><rect x="500" y="2535" width="600" height="1100"/></clipPath><clipPath id="clipcyl"><path d="M617.0 2605.6A157.9 79.0 0 0 1 933.0 2605.6V3426.4A157.9 79.0 0 0 1 617.0 3426.4z"/></clipPath><path clip-path="url(#clipc)" fill="#f0f0f0" d="M617.0 2605.6A157.9 79.0 0 0 1 933.0 2605.6V3426.4A157.9 79.0 0 0 1 617.0 3426.4z"/><path d="M733.3 2680.6Q808 2640 876 2665.6" fill="none" stroke="#cbcbcb" stroke-width="5"/><g fill="none" stroke-width="5.6" stroke-linejoin="round" stroke-linecap="butt" clip-path="url(#clipcyl)"><path d="M632.8 3340.9l-7.3-9.4-4.7-9.1-2.4-8.8-1.3-13.8M617.1 3029.9l0.9 5.7 2.4 6.2 6.3 11 4.6 5.7 10.9 10 13.6 9 21.4 10.4 50.6 16 16.7 7 22.7 8.3 15.7 2.2 24.2 0.5 15.2-0.6 14.7 0.8 9.2 1.6 6.4 2.8 3.4 3.6 1.6 5.5-0.5 4.9-3 6.6-4.5 5.7-6.3 6-7.9 6.2-11.6 7.3-2.1 1.8-1.3 3.3 2.2 4.2 4.6 3.4 4.1 1.1 16.7 2.5 4.6 1.8 4.5 3.2 3 3.8 2.9 7.5 1.7 7.3 1.2 10.2 0.1 22.8-3.1 16.2-1.7 14.2-4.7 16.6-6.7 15.6-9.6 15.5-11.3 12.7-15 12.1-17.1 10.1-12.2 5.4-27.8 10-20.6 2.7-27.9 0-10.9-1.9-11.8-3.3-13.8-4.8-12.6-5.2-6.8-3.5-6.3-4.3-6.7-5.6-6.6-6.8M932.9 3001.8l-1.3 4.5-1.7 1.3-7.8 10.3-13.3 10.2-7.9 2.8-5.9 0.8-5.4-1.2-3.9-2.9-1.7-3.8-0.4-4.3 2.2-8.7 5-8.9 16.7-24 1.9-6.1-1.2-3.6-2.2-1.9-3-0.3-7.6 1-4.6-0.3-4.9-2.1-3.8-4-2.9-7.4-2.3-11.1-0.8-8.8-0.1-16.6 0.5-7.8 2.5-13.2 1.8-16 4.8-19 10-26.6 21.6-44.2 8.4-19.7 3.3-10.2 2.7-13.5 1.3-14.9M647.1 3318l-6.8-5.4-6.7-6.7-5.1-6.3-4.6-7.6-3.1-6.5-1.9-6-1.4-9.2-0.4-8.3M617.1 3060l0.7 10.5 2.3 9.8 3.3 8.6 5.1 8.8 7.5 8.5 6.2 5.3 9.1 6.5 15.3 8.2 16.1 5.8 16.3 3.1 22.2 1.7 44.2-0.6 34.9 2.5 11.2 1.9 6.6 2.2 1.3 1.3 0.1 1.5-2.8 3.5-11.2 7.4-27.1 15.1-3 3-0.5 1.5 0.3 3.1 2.5 4.5 2.7 3 7 4.4 5.9 1.9 15.5 3.4 18.4 5.4 6.6 2.3 6.4 3.4 5.6 4.3 4.2 4.9 4.1 8 1.3 5.7-1 17-1.2 3.3-10.3 13.4-4.3 11.5-2.7 5.2-12 15.3-11.7 11.5-12 8.8-17.3 9.2-20.9 9-5.2 1.5-20.6 2.8-13.4 0-9.7 0.9-6.4-0.5-21.1-4.6-13.8-4.2-13.7-5.9-11-6.6M932.9 2971.4l-1.4 13.6-1.6 5-2.3 4.5-4.2 5.1-4.4 4.1-5 2.1-3.4-0.1-0.8-2.4 0.5-2 10.5-22.3 5.2-14.9 1.6-8.9-0.8-6.2-1.2-2.4-1.7-0.6-6.7 2.6-5.7 0.7-8.2-0.3-5.7-2.2-4.5-3.5-3.2-4.3-3.3-7.4-1.1-7.1 1.2-17.3 7.7-14.7 5.6-20.1 21.3-51.9 5.5-15.5 2.6-9.8 2.6-13.5 0.9-12.7M632.8 3284.8l-7.3-10.1-5.1-10.1-2.2-8.9-1.1-13.4M617.1 3102.9l0.4-3.8 0.9-0.6 9.5 12.5 6.4 6.8 7.9 6.3 17 11.1 15.3 7.8 26 10.3 13.8 7.7 7.7 6 16.8 16.1 5.9 4.1 8.4 3.3 19.3 5 15.7 5.5 15.3 4.2 17.2 5.8 11.5 4.8 4.9 3.7 4.5 5.4 2.7 5.5 0.9 4.3-1.5 7.9-0.2 6.1-1.6 3.5-11.2 9.9-10.5 13.9-7.9 8.7-12 9.9-20.8 12.7-8.7 4.3-8.7 2.6-25.8 4.6-13.4 0-10.6 1-11.7-1.7-24.7-6.6-16.6-6.4-7.9-4.4-7.2-5-5.6-4.8-5.7-6.1M640 3171.5l9.2 7.9 10 5.2 12.6 2.5 2.8-0.2 1.6-0.8 0.6-1.3-1-3.4-1.4-2.1-7.8-8.1-6.2-4.5-10.2-5.4-9.9-7.7-4.3-2.4-3.6-0.3-1.8 1-0.2 4.3 2.7 6 6.9 9.3M932.9 2929.7l-0.3-2-2.7 5-1.9 2.1-8.6 3.2-7 0.4-7.4-1-4.1-1.9-3.4-3.9-2.9-5.9-1-5.4 1.6-16.1 9.2-16.6 20.7-56.7 6.5-26.1 1.3-16.4M640.3 3278.1l-12.4-14.3-6.3-10.6-3.2-10.6-1.3-15.3M617.1 3121.1l0.8 11.5 2.4 10.9 5.7 19.3 3.2 7.5 4.4 6.2 6.7 7.1 7.8 6.1 8.8 5.2 12.3 5.3 9.4 2.2 5.6-0.3 8.7-2.7 4.5-0.8 9.3-0.8 11.2 0.5 13.2-0.9 37.8 6 26.1 8.1 14.3 5.2 10.4 4.8 4.4 2.3 4.8 3.8 3.3 3.9 2 4.1 0.1 3-3.2 12.8-4.1 5.3-3.1 2.3-10 4.9-11.1 11.1-6.2 5.1-17.2 9.8-10.5 8.5-5.2 2.1-10.4 0.3-15.4 3.1-24.8 1.5-9.5-0.9-16.6-4-25.7-9-11.1-5.7-9.9-7.7M932.9 2909.7l-0.7 7.4-2.3 6.6-2.3 2.6-6.1 2.4-7.4 0-6.8-2.3-4.3-4.6-1.6-3.3-0.4-2.8 2.7-17 3.2-6.8 6.3-9.6 12.4-35.9 6.2-27.8 1.1-14.6M639.4 3265.2l-11.5-13-5.7-9.1-4-13.5-1.1-13.4M617.1 3130l0.9 12.7 2.1 10.3 6 18.6 3.1 6.8 4.4 6 6.7 6.5 8.9 6.3 11.2 6.8 11.4 4.9 8.1 1.8 4.3-0.1 10.2-2 20.3-0.4 16.4-1.8 34.3 3.8 26.2 8 17.2 7.2 8.5 5.5 3.5 4 1.1 2.9-0.5 3.1-4.8 8.3-7.8 8-22.4 15.1-12.2 6.6-8.8 8.6-5.2 2.2-8.6-0.1-13.7 2.9-15.1 0.8-17.6-0.6-9.3-1.2-13.2-4-25.8-9.9-8.8-5-8.7-7.4M932.9 2901.5l-0.7 7.8-1.6 5.7-2.2 3-3.2 1.8-4.4 1-4.3-0.4-2.7-1-3.5-3-1.8-4.6 0.3-3.3 3.2-11.7 8.8-21.6 6.3-20.2 4.9-26.2 0.9-13.6M643.1 3257.5l-14.6-15.5-5.1-7.6-2.6-6.4-2.6-10-1.1-13.4M617.1 3138.8l0.9 12.3 2.4 11.4 5.7 16.2 3.1 6.7 4.4 5.9 6.7 6.3 21.2 13.6 10.3 4.6 8.1 1.9 13-1.2 25-0.2 11.6-1.2 11.8 0.9 10.3-0.1 8.6 1.2 15.7 4.4 15.7 6.1 10.4 6.5 2.8 2.8 1.4 2.9-0.6 4.6-2.6 3.3-28.8 18-8 5.9-6 5.6-3.4 1.1-8.7 0.1-10.2 2.6-18.3 1.2-20.6-1.5-7.6-1.3-7.2-2.3-27.3-10.6-7.7-4.3-6.1-4.7M932.9 2892.7l-1.3 11.7-1.3 3.2-2.3 2.3-4.3 1.5-3.9-1.2-2.7-3.1-0.7-3.8 0.8-5.5 5.5-14.3 4.9-17.2 4.6-27.1 0.7-12.3M642.2 3244.8l-13.7-13.9-5.6-7.9-2.2-5.9-2.3-8.6-1.3-14.6M617.1 3147.6l0.7 10.5 2.3 11.4 6.6 18 3.2 6.4 3.7 4.8 6.7 6.2 20.1 13.2 11.4 5.2 8.1 1.7 13-1.1 12.3 1 25.9-1 27.4 1.5 6.6 2.2 9.6 4.7 9 5.9 2.3 3 0.2 3-2 3.1-8.3 5.4-8.7 7.8-8.7 5.1-20.6 4.7-20 1-20.5-1.2-8.9-2.2-36.1-15.1-4.3-2.6-5.9-5.4M932.9 2884l-0.7 8.7-1.6 5.5-2.2 0.9-2.1-0.7-1.7-2-0.4-2.5 0.7-5.5 3.1-12.7 4-24.6 0.9-13.6M645.1 3233.2l-8.3-9.8-8.3-8.6-3.5-2.4-1.6-2.3-4.5-12-1.4-8.9-0.4-8.1M617.1 3157.8l0.7 10.5 1.6 8.3 7.9 24.3 1.9 4.4 8.4 8.6 26.5 17.3 13.1 5.8 2.7 0.6 14.5-4.2 18.7 1.3 16.4-0.6 22.1 0.4 3.4 0.9 3.5 1.8 3.3 2.4 2.5 3.1 0.7 4.6-0.5 4.5-1.9 3-2.4 1.4-13.8 3.2-3.4-0.1-10.2-1.8-21.3 1-17.1-2.8-4.4-1.2-10.1-6.2-13.3-5.8-13.1-3.5-8.4-5.8M932.9 2873.7l-1.3 11.7-0.8 0.2-0.6-1.3-0.3-5.2 0.4-8.5 2.6-20.2" stroke="#cdcdcd"/><path d="M932.9 3029.7l-0.4 9.9-1.9 12.7-2 7.2-3 6.7-9.9 14.4-23.7 26.2-4.8 7.3-2.8 6.6-0.6 7.9 1.2 4 2.2 2.6 3.6 2.3 5.7 2 11 0.7 1.3 0.9 0.6 2.1-1.2 5.5-3.1 6.9-16.7 20.4-3.7 6-3 6.8-2.9 10.4-1.9 11.6-0.8 9.2-0.1 16.8 0.5 7.3 2.5 11.1 1.6 13 1.7 6.8 5.7 13.9 7.4 10.8 5.1 4.7 5.5 3.4 6.4 2.3 5.6 0.7 5.4-0.5 7.2-2.9 1.4-2.7 0.9-4.8M619.5 3020.1l4.4 9.8 8.9 10.9 4 4 12.4 9.6 20 10.9 22.2 8.6 9.1 2.4 15.8 2.2 9.8 0.3 6.7-0.4 20.5-3.8 13.9-4.1 31.3-3.9 20.4-4.3 8.3-2.7 11.4-5.2 7.9-5.3 7.5-7.9 3.2-7.1 0.4-4.7-0.4-2.8-1.6-3.2-3-3.1-10.8-5.4-18-5-2.1-1.1-1.1-1.4-0.2-1.5 1.1-3.2 4-5.2 3.4-2.6 12.9-7.1 6.2-4.4 6.1-6 4.5-6.6 3.6-9.6 2.7-13 1.1-11 0.1-18.3-0.5-5.8-2.7-11.3-1.7-13-4.1-12.4-4.5-8.8-4.6-6.7-5.7-6.3-5.6-4.8-12.8-8.1-16.8-7.6-34.7-12-13.9-6.2-12.1-3.2-10.2-3.9-13.4-3.7-12.9-5.6-28.6-10.1-14.7-6.8-24.4-15.3-10.9-8.9-5.8-6.9-4.3-7-3.6-7.5-0.5-5.2M617.1 3001.1l0.5 10.2 1.9 8.8M932.9 3060.1l-1.1 7.2-4.7 12.1-3.7 7.2-11.4 18-2.1 4.8-0.1 1.6 1.6 1.7 4 0.9 10.2 0.7 1.6 1 0.1 7.3-2.5 13.2-4.7 11.2-9.3 16.3-11 17.5-6.7 12.8-5.6 15.1-1.6 6.9-0.4 4.8 1.2 16 1.6 2.3 6.1 4.2 1.4 2.2 3.5 10 7.6 8.5 8.8 6.1 3.7 1.2 4.5 0.2 7-1.4 1.3-3.1 0.7-4M617.1 2971.6l0.9 5.8 2.4 5.7 4.6 6.4 7.8 8.5 10.3 8.7 10.4 7 21 10.9 33.8 14.6 22.8 7.9 13.6 3.5 12.1 2.3 8.6 0.5 10.5-0.5 17.4-2.3 8.6-1.9 9.6-3.7 6.6-3.8 1.3-1.7 0.1-1.6-2.8-2.6-25.1-10.2-13.2-6.8-2.5-2.3-1-2.2 0.9-4.5 3.1-4.6 5.5-4.7 6.7-3.3 12.5-4.5 8.6-4 15-8.9 8.4-6.4 7.7-8.2 5.8-8.7 5-12 1.3-7.9-0.9-7.3-0.1-7.6-1.2-2.7-8-5.5-2.3-2.4-4.3-9.7-3.9-5.2-7.5-6.9-8.3-6.4-8.4-5.5-8.6-4.6-31.3-13.3-10.4-5-13.8-3.8-10.2-4-11.7-3.4-13-6-18.6-6.2-15.7-6.9-15.5-8-18.6-11.8-8-6.2-6.1-5.7-4.6-5.3-3.2-5.2-3.6-7.5-0.5-5.1M932.9 3101.1l-0.3 13.2-0.8 7.7-1.9 8-4.3 13.8-2.9 7.4-6.5 13.2-16.3 29.6-4.3 11.8-2 10.3 1 7 0.2 5.9 1.1 2.4 7.5 2.8 6.9 8.4 5.4 4.7 3.7 1.9 9 1.9 3-3 1.3-3.4 0.2-2.7M633.2 2984.8l7.1 7 8.9 7 11.2 6.1 10.7 4.6 13.1 4.7 13.2 3.4 8.4 0.4 8.5-1.1 7.7-3.1 14.7-9.9 7.2-3.8 5.9-1.6 19.1-3.2 8.7-2.5 22.6-9.1 15.4-8.3 13.3-9.2 7.1-7.1 4.2-6.3 2.8-5.9 1.6-4.9 0.5-4.7-1.5-5.7-0.2-6-1.6-2.6-11.2-5.3-15-14.2-13.7-9.3-31.2-15.9-22.6-7.3-11.9-4.7-11.7-3.4-13-6.1-27.3-9.6-16.3-7.9-17.7-10.5-14.2-10.2-9.3-8.8-4.2-6-4.7-9.4-0.7-5.1M617.1 2928.4l0.7 20.3 2.6 15.1 1.6 4.7 3 5.6 8.2 10.7M640.3 2960.9l-4.5-5.4-4.5-9.1-1.2-5.9 1.1-1.8 1.6 0.4 10.3 5.2 17.8 11.8 13.7 10.9 1.6 2.1 0.4 3.3-2.2 2.1-3.9 1.1-3.7 0.1-3.9-0.8-6-2.8-16.6-11.2M932.9 3120.6l-1.1 11.4-5.7 19-7.4 17.6-13.3 27.8-3.5 9.7-0.9 5.4 2.1 12.3 2.5 2.7 2.3 0.5 3.6-1.1 1.7 0.3 6.2 5.8 2.7 1 4 0.4 3.1 3.6 1.1-0.6 2.3-5.8 0.3-3M617.1 2910.5l0.2 3.2 1.6 4.6 0.8 1.6 2.3 1.9 1.4 0.5 3.8-0.6 2.7 1.2 19.3 14.2 29.4 17.6 5.6 4.4 10.2 9.7 10.8 6.9 22.6 9.5 6.7 1.8 22.3 0.6 10.4-0.8 8.7-2.3 17.4-6.6 16-8.4 13-9.5 4.9-5.1 4-5.4 2.5-5.1 0.6-3.1-3.2-13-2.4-2.6-4.8-2.5-8.3-1.3-2.9-1.4-12.5-9.9-6.9-4-13.9-6.6-12.2-9.5-5.2-1.8-10.4-1.6-10.3-4.3-15.2-4.9-16.2-7.3-32.7-11.8-18-10-20.7-13.6-8.6-7.2-4.4-5.4-3.9-6.2-4-8.1-0.5-4.2M932.9 3130l-0.9 8.8-4.4 15.5-4.2 11.4-11.5 27-2.3 6.4-1.1 5.5 0.3 2.8 4 7.3 3.7 2.2 4 0.5 4 2.1 3.1 0.3 2.4 4.9 0.9-0.7 2-7.7M617.1 2901.6l0.5 4.1 2.1 3.7 2.8 2.9 4.8 1 1.9 1 13 10.8 8 5.8 28.4 15.6 14.3 11.6 4.5 3 27.1 13.8 10 3.3 18.8 1.7 8.7 0 10.4-2 12.2-4.1 12.2-5.6 13.7-8.6 8.2-8 2.1-3.4 1.1-3.2-0.5-2.9-4.8-6.9-2.7-2.7-6.8-4.4-10.4-4.5-11.6-7-9.2-4.4-3.5-2.6-8.7-8.7-3.5-1.4-10.4-1.4-10.2-4.4-59.7-22.1-9.4-4.2-10.1-5.8-21.9-14.4-7.9-6.8-5.1-6.3-5.8-9.4-2.1-5.1-0.5-4.2M932.9 3138.8l-0.3 4.8-2.7 11-11.6 34.9-1.9 9.6 0.4 2.7 1.1 1.8 4.2 0.5 5 2.2 2.1 2 1.7 3.6 1.9-5.1 0.1-2.1M617.1 2892.8l0.2 3.1 1.6 4.3 3.6 4.2 6.7 3 20 16.4 28 14.9 18.7 13.6 14 7.5 21.2 8.8 22.2 3.8 8.7-0.4 10.4-2.4 14-5.4 9.8-5.7 7.3-6.7 2.2-3.2 0.7-3.1-0.8-3-2.6-2.8-11.4-5.1-15.7-9.2-7.9-5.7-7.8-7.7-1.7-0.9-10.4-1.8-8.5-4.1-29.7-10.6-17-7.4-18.4-6.6-11.6-6.2-24.4-15.9-6.5-5.3-4.3-5.2-8.3-12-2.1-6.4-0.2-2.6M932.9 3147.6l-0.4 5.6-7.4 30.8-0.9 5.8 0.7 3.5 2.7 1.5 3 4.4 0.5 0.2 0.7-1.1 1.1-4.3M617.1 2884l1.3 6.7 4.5 6.6 7.7 3.7 18.6 15.7 26.6 13.8 18.6 13.4 20.3 9.5 13.1 5.3 6.7 1.9 17.1 2.9 8.7-0.1 6.9-2.2 10.1-5 6.4-4.7 1.4-1.6 1.3-3-0.9-3-1.3-1.5-8.3-5.1-10.5-9.3-8.6-5.3-10.4-3.5-8.5-3.9-10.1-3.1-33.4-13.9-22.6-7.5-8.9-4.4-12.7-9.2-11.7-6.7-4.9-4.3-5.7-6.9-8.2-12.2-2.3-6.1-0.3-3.3M932.9 3157.8l-2.7 19.3-0.3 6.9 0.2 5.5 0.8 1.2 1.6-3 0.4-6.6M617.1 2873.8l0.2 3.7 1.1 3 4.5 7.4 1.1 0.3 4.5-1.2 13.7 13.9 3.9 3.3 9.7 6.1 22.8 9.3 2.7 2.1 10.1 10.5 6 3.9 30.4 12.5 22 5 5.2-0.3 6.8-3.5 2.5-2.9 0.7-4.5-1.1-6.2-3.7-3.2-15.5-5.4-10.2-0.6-3.4-0.8-9.9-3.6-9.7-4.5-20.1-7.1-12.8-1.5-14.5-6.5-13.9-11.3-5.1-3.1-8.3-3.5-6.9-6.9-9.5-16.8-2.8-6.3-0.5-4.6" stroke="#0a0a0a"/></g><g fill="none" stroke-width="5.6" stroke-linejoin="round" stroke-linecap="round"><path d="M641.6 3374.4l9.6 5.3 9.5 4.2 10.7 3.1 11.7 2.3 8.5 0.4 13.8-0.6 3.2-1.5 2.5-4.3 8.7-30.8 4.5-19.8 5.7-38.8-1.7-31.5-3.4-32.5-5-38.2-3.9-19.5-2.5-8.9-3.5-8.3-3.5-6-6.4-8.2-12-13.8-14.6-14.9-13.8-12.3-14.9-12-18.1-11.8-14.9-7.4-11.6-4.9-9.6-3.1-10.5-2.4-10.8-1.4-5.3 0.3-3.6 1.9-3 4.1-3.2 8.5-2.5 10.5-4.9 30.2-3.3 26.7-2 30.6 5.8 47.7 4.5 25.7 8.6 42 2.5 7.7 4.3 7.3 17 22.5 10.6 12.3 12.8 13.4 9.6 8.8 10.6 8.3zM645.9 3334.7l9.5 3.9 9.6 2.6 8.5 1.1 8.5-0.5 7.5-1.9 9.5-4.3 5.3-4.4 4.4-5.6 2.6-5.9 2.6-8.1 3.9-25.7-2.3-34.8-4.8-30.5-4.2-12.1-5.4-12-6.3-12.4-7.5-12.4-6.4-8.8-8.5-10.1-19.1-19.1-6.4-5.1-13.8-9.5-14.9-8.3-13.8-4.6-7.4-1.6-8.5-0.6-6.4 1.1-5.3 2.1-5.3 3.3-4.3 3.6-4.3 5-2.5 5.1-3.4 16-2.2 18.3-1 22.1 3.7 28.2 4.1 17.9 5.6 15.2 7.4 15.2 11.7 19.7 10.7 15 11.7 13.7 12.7 12.4 9.6 7.5zM643.7 3309.1l7.5 3.4 7.4 2.3 6.4 0.9 7.4-0.2 6.4-1.1 6.5-2.6 5.9-3.7 4.7-4.6 3.7-5.2 2.6-5.5 4-17.4-0.4-7.9-1.5-10.7-4.2-17.2-6.4-14.8-10.6-18.6-4.3-6-15.9-18.9-4.3-6.7-6.7-13.5-3.9-5.1-4.3-4.2-14.8-9.9-6.4-2-3.2 0.3-5.3 4-4.3 1.7-5.3 0-11.7-1.8-5.3 0.7-8.5 3.8-5.3 4.2-4 6.3-2.4 8.3-1.5 8.8-0.4 7.4 3.2 18.7 3.5 12.9 5.8 15.2 7.1 14.5 8.9 15 9.5 13.6 9.6 11.5 9.6 9.3 10.6 8.3zM648 3293.6l5.3 1.7 5.3 0.9 10.7-1.1 4.3-1.6 4.8-2.9 3.9-3.5 3-4.1 4.1-9.5 0.8-8.5-3-15.6-4.1-11.4-6.4-11-6.4-8.5-5.3-5-13.8-11-31.9-20.7-12.8-6.4-7.4-2.2-4.3 0.4-4.2 1.4-3.8 2.9-2.5 4.4-2.6 8.9-0.5 5.8 0.9 6.6 2.9 11 3.4 9.8 4.7 10.6 11.1 19.4 7.6 10.7 6.4 7.4 6.4 6.1 7.4 5.8 8.6 5.5zM645.9 3277.2l7.6 1.7 8.3-0.6 6.4-3.4 4.1-4.9 3.2-7 0.6-4.2-1.8-10.3-4.2-10.3-7.2-10.3-10.7-10.8-7.4-5.9-15.9-10.4-8.5-4.7-8.6-2.9-6.3-0.8-4.1 1.1-2.3 1.8-1.8 3-1.9 9.4 4.5 16.6 5.7 12.8 7.8 12.7 10.1 12.1 8.5 7.1 9.6 6.2zM643.7 3259.1l3.2 0.3 2.9-1.1 3.1-2.5 4.8-6-0.2-3.1-4.1-8.7-8.6-12.8-4.2-3.6-8.6-5.5-3.1-1.9-3.2-0.9-7.6 1.6-4.1 3.4-0.2 3 4.8 12.2 4.5 8.9 3.6 5.2 3.2 3z" stroke="#d6d4d0"/><path d="M647.9 3064.4l-22.2-14.2-19.2-15.8-17-16.2-12.5-13.6-11.9-14.8-5.3-9.7-3.5-10.2-4.4-21.1-5.1-38.2-3.6-34.2-1.7-31.5 5.2-36 5.1-22.5 9-32 2.1-3.2 3.2-1.5 20.2-0.4 9.6 1.6 10.6 2.7 7.5 2.6 9.5 4.6 19.2 12 18 14.7 21.3 22.5 22.3 28.9 4.3 7.2 2.1 6 8.7 42 4.9 27.4 5.7 46.2-1.7 29.3-3.4 28.1-4.3 27.5-3.3 14.6-2.6 7.4-2.9 4.6-3.2 2.2-5.6 0.7-12.5-1.6-14.3-3.7-15.5-6.1zM650.8 3026.9l-17.7-10.6-12.7-9.3-16-15.3-10.6-11.8-9.6-12.8-8.5-14.3-8.5-17.4-6.4-17.2-4.6-28.8-2.4-34.9 0.3-5.9 3.1-19.3 4.4-13.7 4.5-6.8 3.3-3.3 4.2-2.9 10.6-4.4 7.4-1.5 7.5-0.1 8.5 1.2 9.6 2.8 7.4 3 7.4 4.2 10.7 7.1 8.5 7 9.5 9.2 8.6 9.4 8.5 10.8 7.4 10.7 14.9 25.8 5.3 11.7 4.2 11.8 4.5 18.8 3.7 29.7-1.1 20.5-1.6 14.2-3.3 17.5-1.6 5-3.7 5.4-6.4 6-7.5 4.3-6.3 1.8-7.1 0.3-7.8-1.1zM647 2998.6l-5.4-2.3-11.7-7.6-4.2-3.6-4.3-4.8-11.7-21.3-17-20.4-5.3-7.6-10.6-19-6.1-14.7-3.5-15.3-1.9-15.5 0.3-4.4 2.9-13.3 3-7.4 5.9-8 6.3-5 7.9-3.6 6.4-1.4 7.5-0.3 7.4 1 6.4 1.8 7.4 3.3 8.5 4.9 8.5 6.1 8.5 7.2 13.9 15.2 13.8 19.7 12.4 22.9 7.9 20.4 3.1 11.9 2.9 19.3-0.8 8.6-1.6 8.1-1.9 6.3-2.5 4.4-5.7 5.4-10.6 4.7-4.3 0.5-11.7-1.9-4.2-0.1-4.3 1.2-6.4 4.7zM656.3 2959.2l-5.1-2.8-30.8-20.1-13.9-10.9-8.5-9-8.5-13.4-3.4-7.8-2.3-7.5-2.4-12.2-0.1-6.1 1.6-6.6 4-8 4.2-4.9 5.6-3.9 4.1-1.9 4.7-1 5.3-0.5 5.3 0.5 9.6 3.1 11.7 6.8 10.6 8.2 9.6 10 10.6 14.5 7.9 13.6 7.8 17.1 5.5 18.8 0.8 9.7-2.5 10.4-2.2 4.7-2.4 2.5-3.2 1.8-5.3 1.3-6.4-0.8zM653.3 2943.6l-9.6-4.9-22.3-15.1-11.7-11.4-7.4-10.1-3-5.9-2-5.9-1.9-11.8 1.5-5.1 3-5.6 2.4-3 3.3-2.4 5.2-2.1 7.3-0.4 6.5 1.4 6.4 3 10.6 7 6.4 5.6 7.9 9.2 7.4 10.9 5.9 11.4 4.3 11.9 2.6 10.8-0.7 5.6-2.4 6.1-1.8 1.8-2.5 1.4-2.6 0.5-4.2-0.3zM643.2 2924.8l-12.2-7.6-4.3-3.6-7.2-10.3-3.6-6.9-1.9-4.2-0.2-3.2 4.8-6 3.9-2.9 3.2-0.7 3.2 0.7 12.7 8.2 5.3 5.7 5.1 9.2 5.7 14.4-0.2 2.9-2.9 2.7-2.6 1.3-5.1 1.1z" stroke="#505050"/></g><path d="M528.9 2589.4L528.9 3410.2L742.6 3549.4L1021.1 3442.6M528.9 3410.2L511.8 3399.0M528.9 2999.8L511.8 2988.7M528.9 2589.4L511.8 2578.3M742.6 3549.4L723.1 3556.9M635.8 3479.8L616.3 3487.3M528.9 3410.2L509.4 3417.6M742.6 3549.4L758.6 3559.8M881.8 3496.0L897.9 3506.4M1021.1 3442.6L1037.1 3453.0" fill="none" stroke="#2a2a2a" stroke-width="1.9"/><text x="503.0" y="2592.3" font-size="56" text-anchor="end" >135</text><text x="503.0" y="3003.9" font-size="56" text-anchor="end" >0</text><text x="503.0" y="3414.0" font-size="56" text-anchor="end" >-135</text><text x="500.5" y="3472.3" font-size="56" text-anchor="end" >50</text><text x="606.5" y="3543.6" font-size="56" text-anchor="end" >0</text><text x="711.0" y="3613.0" font-size="56" text-anchor="end" >-50</text><text x="766.0" y="3618.3" font-size="56" text-anchor="start" >-50</text><text x="906.5" y="3564.8" font-size="56" text-anchor="start" >0</text><text x="1046.5" y="3511.8" font-size="56" text-anchor="start" >50</text><text x="387.0" y="3645.0" font-size="55.5" text-anchor="start" >y [mm]</text><text x="947.0" y="3651.0" font-size="55.5" text-anchor="start" >x [mm]</text><text transform="translate(364,3001) rotate(-90)" font-size="55" text-anchor="middle">z [mm]</text><text x="324.0" y="2549.3" font-size="100" text-anchor="start" font-weight="bold">c</text></svg></body></html>
